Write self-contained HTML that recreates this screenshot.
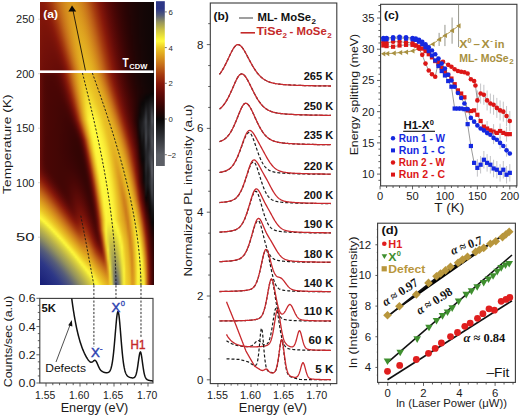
<!DOCTYPE html>
<html><head><meta charset="utf-8"><style>
html,body{margin:0;padding:0;background:#fff;}
body{width:520px;height:416px;position:relative;overflow:hidden;font-family:"Liberation Sans",sans-serif;}
#hm{position:absolute;left:40px;top:2px;width:113.5px;height:283.3px;overflow:hidden;}
#hm i{position:absolute;left:0;width:100%;height:2px;display:block;}
svg{position:absolute;left:0;top:0;}
svg text{font-family:"Liberation Sans",sans-serif;}
</style></head><body>
<div id="hm"><i style="top:0px;background:linear-gradient(90deg,#891a0a,#891b0a,#8c1d0b,#90220c,#96290d,#9e320e,#a73d10,#af4a12,#b85815,#c16618,#c8721a,#cd7d1b,#d2871c,#d58e1d,#d8941e,#da971e,#da981e,#da971e,#d8941e,#d68f1d,#d2881c,#ce801b,#c9751a,#c36a19,#bb5d16,#b24f13,#a94010,#9f330e,#95280c,#8b1d0b,#81160a,#761209,#6c0e08,#630b08,#5a0a07,#530806,#4b0705,#450605,#3f0505,#390505,#340504,#2f0404,#2b0404,#280404,#250404,#220505,#1f0505,#1d0505,#1b0505,#190505,#170606,#160606,#140606,#130606,#120606,#110606,#100606,#100606)"></i><i style="top:1px;background:linear-gradient(90deg,#88190a,#891a0a,#8b1c0b,#8f210b,#95280c,#9d310e,#a53b0f,#ae4912,#b75715,#c06418,#c7711a,#cc7c1b,#d1861c,#d58e1d,#d8941e,#da971e,#da991e,#da981e,#d9951e,#d6901d,#d38a1c,#cf811c,#ca771a,#c46b19,#bc5e17,#b35014,#aa4211,#a0350e,#96290d,#8c1e0b,#82160a,#771209,#6d0f08,#630b08,#5b0a07,#530806,#4c0705,#450605,#3f0505,#390505,#340504,#300404,#2c0404,#280404,#250404,#220505,#1f0505,#1d0505,#1b0505,#190505,#170606,#160606,#140606,#130606,#120606,#110606,#100606,#100606)"></i><i style="top:2px;background:linear-gradient(90deg,#88190a,#88190a,#8a1b0b,#8e200b,#94270c,#9c2f0d,#a4390f,#ad4712,#b65515,#bf6318,#c6701a,#cc7b1b,#d1851c,#d58e1d,#d8941e,#da981e,#da991e,#da991e,#d9961e,#d7911d,#d48b1d,#cf821c,#cb781b,#c56d19,#bd6017,#b45214,#ab4411,#a1360e,#972b0d,#8d1f0b,#83170a,#781309,#6e0f08,#640c08,#5c0a07,#540806,#4d0705,#460605,#3f0505,#3a0505,#350504,#300404,#2c0404,#280404,#250404,#220505,#1f0505,#1d0505,#1b0505,#190505,#170606,#160606,#140606,#130606,#120606,#110606,#100606,#100606)"></i><i style="top:3px;background:linear-gradient(90deg,#87180a,#87190a,#891b0a,#8d1f0b,#93260c,#9a2e0d,#a3380f,#ac4511,#b55314,#be6117,#c66f1a,#cc7b1b,#d1851c,#d58d1d,#d8941e,#da981e,#db9a1e,#db991e,#da971e,#d7931d,#d48c1d,#d0841c,#cb7a1b,#c66f1a,#be6217,#b65415,#ac4511,#a3370f,#992c0d,#8e200b,#84170a,#791309,#6f0f09,#650c08,#5d0a07,#550906,#4d0706,#460605,#400505,#3a0505,#350504,#300504,#2c0404,#280404,#250404,#220505,#1f0505,#1d0505,#1b0505,#190505,#170606,#160606,#140606,#130606,#120606,#110606,#100606,#0f0606)"></i><i style="top:4px;background:linear-gradient(90deg,#87180a,#87180a,#881a0a,#8c1e0b,#92240c,#992d0d,#a2360e,#ab4311,#b45214,#bd6017,#c56d19,#cb791b,#d0841c,#d58d1d,#d8941e,#da981e,#db9a1e,#db9a1e,#da981e,#d8941e,#d58d1d,#d1851c,#cc7c1b,#c7701a,#c06418,#b75615,#ad4712,#a4390f,#9a2d0d,#90220b,#85180a,#7b1309,#701009,#660c08,#5d0a07,#550906,#4e0706,#470605,#400605,#3a0505,#350504,#300504,#2c0404,#280404,#250404,#220505,#200505,#1d0505,#1b0505,#190505,#170606,#160606,#140606,#130606,#120606,#110606,#100606,#0f0606)"></i><i style="top:5px;background:linear-gradient(90deg,#86180a,#86180a,#88190a,#8b1d0b,#91230c,#982b0d,#a0350e,#aa4111,#b35014,#bc5e17,#c46c19,#cb781b,#d0831c,#d48c1d,#d8931e,#da981e,#db9b1e,#db9b1e,#da991e,#d8951e,#d58f1d,#d2871c,#cd7d1b,#c7721a,#c16518,#b85815,#af4912,#a53a0f,#9b2e0d,#91230c,#86190a,#7c1409,#711009,#670c08,#5e0a07,#560906,#4e0706,#470605,#410605,#3b0505,#360504,#310504,#2c0404,#280404,#250404,#220505,#200505,#1d0505,#1b0505,#190505,#170606,#160606,#140606,#130606,#120606,#110606,#100606,#0f0606)"></i><i style="top:6px;background:linear-gradient(90deg,#86180a,#86180a,#87180a,#8a1c0b,#90220b,#972a0d,#9f330e,#a83f10,#b24e13,#bb5d16,#c46b19,#ca771b,#cf821c,#d48c1d,#d8931d,#da981e,#db9b1f,#db9b1f,#db9a1e,#d9961e,#d6901d,#d2881c,#ce7f1b,#c8741a,#c26718,#b95916,#b04b13,#a63c0f,#9c300d,#92240c,#88190a,#7d1409,#721009,#680d08,#5f0b07,#570906,#4f0706,#480605,#410605,#3b0505,#360504,#310504,#2d0404,#290404,#250404,#220505,#200505,#1d0505,#1b0505,#190505,#170606,#160606,#140606,#130606,#120606,#110606,#100606,#0f0606)"></i><i style="top:7px;background:linear-gradient(90deg,#86170a,#85170a,#86180a,#8a1b0a,#8f210b,#95280c,#9e320e,#a73d10,#b14c13,#ba5b16,#c36919,#c9761a,#cf821c,#d48b1d,#d8931d,#da981e,#db9b1f,#dc9c1f,#db9a1e,#d9971e,#d7911d,#d3891c,#ce801b,#c9751a,#c36919,#ba5b16,#b14d13,#a73d10,#9d310e,#93260c,#891a0a,#7e1509,#731109,#690d08,#600b07,#570907,#500806,#490605,#420605,#3c0505,#360504,#310504,#2d0404,#290404,#250404,#220505,#200505,#1d0505,#1b0505,#190505,#170606,#160606,#140606,#130606,#120606,#110606,#100606,#0f0606)"></i><i style="top:8px;background:linear-gradient(90deg,#85170a,#85170a,#85170a,#891a0a,#8e1f0b,#94270c,#9c300e,#a63b0f,#af4a12,#b95916,#c26819,#c9751a,#cf811c,#d38b1d,#d7931d,#da981e,#db9c1f,#dc9d1f,#db9b1f,#da981e,#d7921d,#d48b1d,#cf821c,#ca771a,#c46a19,#bb5d16,#b24e13,#a83f10,#9e320e,#94270c,#8a1b0a,#7f150a,#741109,#6a0d08,#610b07,#580907,#500806,#490605,#420605,#3c0505,#370504,#320504,#2d0404,#290404,#260404,#230505,#200505,#1d0505,#1b0505,#190505,#170606,#160606,#140606,#130606,#120606,#110606,#100606,#0f0606)"></i><i style="top:9px;background:linear-gradient(90deg,#85170a,#84170a,#85170a,#88190a,#8c1e0b,#93260c,#9b2f0d,#a4390f,#ae4812,#b85715,#c16618,#c8741a,#ce801b,#d38a1d,#d7921d,#da981e,#dc9c1f,#dc9d1f,#dc9c1f,#da991e,#d8931e,#d48c1d,#d0831c,#cb781b,#c56c19,#bc5f17,#b35014,#aa4111,#9f340e,#95280c,#8b1d0b,#80160a,#751209,#6b0e08,#610b08,#590907,#510806,#4a0605,#430605,#3d0505,#370504,#320504,#2d0404,#290404,#260404,#230505,#200505,#1d0505,#1b0505,#190505,#170606,#160606,#140606,#130606,#120606,#110606,#100606,#0f0606)"></i><i style="top:10px;background:linear-gradient(90deg,#84170a,#83170a,#84170a,#87180a,#8b1d0b,#92240c,#9a2d0d,#a3380f,#ad4612,#b75615,#c06518,#c8721a,#ce7f1b,#d3891c,#d7921d,#da981e,#dc9c1f,#dc9e1f,#dc9d1f,#db9a1e,#d8951e,#d58e1d,#d1851c,#cb7a1b,#c56e1a,#be6117,#b45214,#ab4311,#a1350e,#96290d,#8c1e0b,#81160a,#761209,#6c0e08,#620b08,#5a0a07,#520806,#4a0605,#430605,#3d0505,#370504,#320504,#2e0404,#290404,#260404,#230505,#200505,#1d0505,#1b0505,#190505,#170606,#160606,#140606,#130606,#120606,#110606,#100606,#0f0606)"></i><i style="top:11px;background:linear-gradient(90deg,#84170a,#83170a,#83170a,#86180a,#8a1c0b,#91230c,#982c0d,#a2360e,#ab4411,#b55414,#bf6318,#c7711a,#cd7e1b,#d2891c,#d7921d,#da981e,#dc9d1f,#dc9e1f,#dc9e1f,#db9b1e,#d9961e,#d68f1d,#d1861c,#cc7c1b,#c6701a,#bf6218,#b65415,#ac4511,#a2360e,#982b0d,#8d1f0b,#83160a,#781209,#6d0f08,#630b08,#5a0a07,#520806,#4b0705,#440605,#3e0505,#380504,#320504,#2e0404,#2a0404,#260404,#230505,#200505,#1e0505,#1b0505,#190505,#170606,#160606,#140606,#130606,#120606,#110606,#100606,#0f0606)"></i><i style="top:12px;background:linear-gradient(90deg,#84170a,#82160a,#83160a,#85170a,#891b0a,#8f210b,#972a0d,#a0350e,#aa4211,#b45214,#be6117,#c6701a,#cd7d1b,#d2881c,#d7911d,#da981e,#dc9d1f,#dd9f1f,#dc9e1f,#db9c1f,#d9971e,#d6901d,#d2881c,#cd7d1b,#c7711a,#c06418,#b75615,#ad4712,#a3380f,#992c0d,#8e200b,#84170a,#791309,#6e0f08,#640c08,#5b0a07,#530806,#4c0705,#450605,#3e0505,#380505,#330504,#2e0404,#2a0404,#260404,#230505,#200505,#1e0505,#1b0505,#190505,#170606,#160606,#140606,#130606,#120606,#110606,#100606,#0f0606)"></i><i style="top:13px;background:linear-gradient(90deg,#83170a,#82160a,#82160a,#84170a,#881a0a,#8e200b,#96290c,#9f330e,#a94010,#b35014,#bd5f17,#c56e1a,#cc7b1b,#d2871c,#d6911d,#da981e,#dc9d1f,#dd9f1f,#dd9f1f,#dc9d1f,#da981e,#d7911d,#d3891c,#ce7f1b,#c8731a,#c16618,#b85815,#ae4812,#a4390f,#9a2d0d,#8f220b,#85170a,#7a1309,#6f0f09,#650c08,#5c0a07,#540806,#4c0705,#450605,#3f0505,#390505,#330504,#2e0404,#2a0404,#260404,#230404,#200505,#1e0505,#1b0505,#190505,#170606,#160606,#140606,#130606,#120606,#110606,#100606,#0f0606)"></i><i style="top:14px;background:linear-gradient(90deg,#83160a,#81160a,#81160a,#83170a,#87190a,#8d1f0b,#94270c,#9d310e,#a73e10,#b24e13,#bc5e17,#c56d19,#cb7a1b,#d1861c,#d6901d,#da981e,#dc9d1f,#dda01f,#dda01f,#dc9e1f,#da991e,#d7931d,#d38a1d,#ce801b,#c9751a,#c26819,#b95916,#af4a12,#a53b0f,#9b2f0d,#91230c,#86180a,#7b1409,#701009,#660c08,#5d0a07,#550906,#4d0705,#460605,#3f0505,#390505,#330504,#2f0404,#2a0404,#270404,#230404,#200505,#1e0505,#1b0505,#190505,#170606,#160606,#140606,#130606,#120606,#110606,#100606,#0f0606)"></i><i style="top:15px;background:linear-gradient(90deg,#82160a,#81160a,#81160a,#83160a,#86180a,#8c1d0b,#93260c,#9c300d,#a63c0f,#b04c13,#bb5c16,#c46b19,#cb791b,#d1851c,#d68f1d,#da971e,#dc9d1f,#dda01f,#dda01f,#dc9e1f,#db9a1e,#d8941e,#d48c1d,#cf821c,#ca761a,#c36919,#ba5b16,#b14c13,#a73d10,#9c300e,#92240c,#87190a,#7c1409,#711009,#670c08,#5e0a07,#550906,#4e0706,#460605,#400505,#390505,#340504,#2f0404,#2b0404,#270404,#230404,#200505,#1e0505,#1b0505,#190505,#180606,#160606,#140606,#130606,#120606,#110606,#100606,#0f0606)"></i><i style="top:16px;background:linear-gradient(90deg,#82160a,#81160a,#80160a,#82160a,#85170a,#8b1c0b,#92240c,#9b2e0d,#a53a0f,#af4a12,#b95a16,#c36919,#ca781b,#d0841c,#d58f1d,#da971e,#dc9d1f,#dda01f,#dda120,#dd9f1f,#db9b1f,#d9951e,#d58d1d,#d0831c,#ca781b,#c46b19,#bb5d16,#b24e13,#a83e10,#9d310e,#93260c,#881a0a,#7d1409,#721009,#680d08,#5f0b07,#560906,#4e0706,#470605,#400605,#3a0505,#340504,#2f0404,#2b0404,#270404,#240404,#210505,#1e0505,#1c0505,#190505,#180606,#160606,#140606,#130606,#120606,#110606,#100606,#0f0606)"></i><i style="top:17px;background:linear-gradient(90deg,#82160a,#80160a,#80150a,#81160a,#84170a,#891b0a,#90230c,#992d0d,#a3380f,#ae4712,#b85815,#c26819,#c9761a,#d0831c,#d58e1d,#d9971e,#dc9d1f,#dda11f,#dea220,#dda01f,#dc9c1f,#d9961e,#d58f1d,#d1851c,#cb7a1b,#c56d19,#bd5f17,#b35014,#a94010,#9f330e,#94270c,#8a1b0a,#7e1509,#731109,#690d08,#5f0b07,#570906,#4f0706,#480605,#410605,#3a0505,#350504,#300404,#2b0404,#270404,#240404,#210505,#1e0505,#1c0505,#190505,#180606,#160606,#140606,#130606,#120606,#110606,#100606,#0f0606)"></i><i style="top:18px;background:linear-gradient(90deg,#82160a,#80150a,#7f150a,#80160a,#83170a,#881a0a,#8f210b,#982b0d,#a2360e,#ac4511,#b75615,#c16618,#c9751a,#cf821c,#d58d1d,#d9961e,#dc9d1f,#dda120,#dea220,#dda11f,#dc9d1f,#da981e,#d6901d,#d1871c,#cc7b1b,#c66f1a,#be6117,#b45214,#aa4211,#a0340e,#95280c,#8b1c0b,#80150a,#751109,#6a0d08,#600b07,#580907,#500806,#480605,#410605,#3b0505,#350504,#300404,#2b0404,#270404,#240404,#210505,#1e0505,#1c0505,#1a0505,#180606,#160606,#140606,#130606,#120606,#110606,#100606,#0f0606)"></i><i style="top:19px;background:linear-gradient(90deg,#81160a,#7f150a,#7e1509,#80150a,#82160a,#87180a,#8e200b,#96290d,#a0340e,#ab4311,#b55414,#c06418,#c8731a,#cf811c,#d48c1d,#d9961e,#dc9d1f,#dda120,#dea320,#dea220,#dc9e1f,#da991e,#d7911d,#d2881c,#cd7d1b,#c7701a,#bf6318,#b55414,#ab4411,#a1350e,#962a0d,#8c1e0b,#81160a,#761209,#6b0e08,#610b08,#580907,#500806,#490605,#420605,#3b0505,#350504,#300504,#2c0404,#270404,#240404,#210505,#1e0505,#1c0505,#1a0505,#180606,#160606,#140606,#130606,#120606,#110606,#100606,#0f0606)"></i><i style="top:20px;background:linear-gradient(90deg,#81160a,#7f150a,#7e1509,#7f150a,#82160a,#86180a,#8c1e0b,#95280c,#9f330e,#a94110,#b45214,#bf6218,#c7721a,#ce801b,#d48c1d,#d9951e,#dc9d1f,#dea120,#dea320,#dea320,#dd9f1f,#db9a1e,#d7931d,#d38a1c,#ce7f1b,#c8721a,#c06418,#b75615,#ad4612,#a2370f,#982b0d,#8d1f0b,#82160a,#771209,#6c0e08,#620b08,#590907,#510806,#490605,#420605,#3c0505,#360504,#310504,#2c0404,#280404,#240404,#210505,#1e0505,#1c0505,#1a0505,#180606,#160606,#140606,#130606,#120606,#110606,#100606,#0f0606)"></i><i style="top:21px;background:linear-gradient(90deg,#81160a,#7f1509,#7d1509,#7e1509,#81160a,#85170a,#8b1d0b,#93260c,#9d310e,#a83e10,#b34f14,#bd6017,#c6701a,#cd7e1b,#d38b1d,#d8951e,#dc9d1f,#dea220,#dea420,#dea320,#dda01f,#db9b1f,#d8941e,#d48b1d,#ce801b,#c8741a,#c16618,#b85715,#ae4812,#a3380f,#992c0d,#8e200b,#83170a,#781309,#6d0f08,#630b08,#5a0a07,#520806,#4a0605,#430605,#3c0505,#360504,#310504,#2c0404,#280404,#240404,#210505,#1e0505,#1c0505,#1a0505,#180606,#160606,#140606,#130606,#120606,#110606,#100606,#0f0606)"></i><i style="top:22px;background:linear-gradient(90deg,#80160a,#7e1509,#7d1409,#7e1509,#80150a,#84170a,#8a1b0a,#92240c,#9b2f0d,#a63c0f,#b14d13,#bc5e17,#c66e1a,#cd7d1b,#d38a1c,#d8941e,#dc9c1f,#dea220,#dfa420,#dea420,#dea120,#dc9c1f,#d9951e,#d48d1d,#cf821c,#c9761a,#c26819,#b95916,#af4a12,#a53a0f,#9a2e0d,#8f210b,#85170a,#791309,#6e0f08,#640c08,#5b0a07,#520806,#4b0705,#430605,#3d0505,#370504,#310504,#2c0404,#280404,#240404,#210505,#1e0505,#1c0505,#1a0505,#180606,#160606,#140606,#130606,#120606,#110606,#100606,#0f0606)"></i><i style="top:23px;background:linear-gradient(90deg,#80150a,#7e1509,#7c1409,#7d1409,#7f150a,#83160a,#891a0a,#90230c,#9a2d0d,#a53a0f,#b04b13,#bb5c16,#c56d19,#cc7c1b,#d2891c,#d8941e,#dc9c1f,#dea220,#dfa520,#dfa520,#dea220,#dc9e1f,#d9971e,#d58e1d,#d0841c,#ca771b,#c36a19,#ba5b16,#b04c13,#a63c0f,#9b2f0d,#91230c,#86180a,#7a1309,#6f0f09,#650c08,#5c0a07,#530806,#4b0705,#440605,#3d0505,#370504,#320504,#2d0404,#280404,#250404,#210505,#1f0505,#1c0505,#1a0505,#180606,#160606,#140606,#130606,#120606,#110606,#100606,#0f0606)"></i><i style="top:24px;background:linear-gradient(90deg,#80150a,#7d1509,#7c1409,#7c1409,#7e1509,#82160a,#87190a,#8f210b,#982c0d,#a3380f,#ae4912,#b95a16,#c46b19,#cb7a1b,#d2881c,#d7931d,#db9c1f,#dea220,#dfa520,#dfa520,#dea320,#dd9f1f,#da981e,#d6901d,#d1851c,#cb791b,#c46c19,#bb5d16,#b14d13,#a73d10,#9c300e,#92240c,#87190a,#7b1409,#701009,#660c08,#5c0a07,#540806,#4c0705,#450605,#3e0505,#370504,#320504,#2d0404,#290404,#250404,#220505,#1f0505,#1c0505,#1a0505,#180606,#160606,#140606,#130606,#120606,#110606,#100606,#0f0606)"></i><i style="top:25px;background:linear-gradient(90deg,#7f150a,#7d1409,#7c1409,#7c1409,#7d1509,#81160a,#86180a,#8d1f0b,#972a0d,#a1360e,#ad4612,#b85815,#c36919,#cb791b,#d1861c,#d7921d,#db9b1f,#dea220,#dfa520,#dfa620,#dfa420,#dda01f,#db991e,#d7911d,#d2871c,#cc7b1b,#c56e19,#bd5f17,#b34f14,#a83f10,#9e320e,#93250c,#881a0a,#7d1409,#711009,#670c08,#5d0a07,#550906,#4d0705,#450605,#3e0505,#380504,#320504,#2d0404,#290404,#250404,#220505,#1f0505,#1c0505,#1a0505,#180606,#160606,#140606,#130606,#120606,#110606,#100606,#0f0606)"></i><i style="top:26px;background:linear-gradient(90deg,#7f150a,#7d1409,#7b1409,#7b1409,#7d1409,#80150a,#85170a,#8c1e0b,#95280c,#a0340e,#ab4411,#b75615,#c26719,#ca771a,#d1851c,#d7911d,#db9b1e,#dea220,#dfa620,#dfa720,#dfa520,#dda11f,#db9b1e,#d7921d,#d2881c,#cd7d1b,#c66f1a,#be6117,#b45114,#aa4111,#9f330e,#94270c,#891b0a,#7e1509,#731109,#680d08,#5e0a07,#550906,#4d0706,#460605,#3f0505,#380505,#330504,#2e0404,#290404,#250404,#220505,#1f0505,#1c0505,#1a0505,#180606,#160606,#140606,#130606,#120606,#110606,#100606,#0f0606)"></i><i style="top:27px;background:linear-gradient(90deg,#7f150a,#7c1409,#7b1409,#7b1409,#7c1409,#7f1509,#84170a,#8b1c0b,#94260c,#9e320e,#aa4111,#b55314,#c06518,#c9751a,#d0841c,#d6901d,#db9a1e,#dea220,#dfa620,#e0a721,#dfa620,#dea220,#db9c1f,#d8941e,#d38a1d,#cd7e1b,#c7711a,#bf6318,#b55314,#ab4311,#a0340e,#95280c,#8a1c0b,#7f150a,#741109,#690d08,#5f0b07,#560906,#4e0706,#470605,#3f0505,#390505,#330504,#2e0404,#290404,#250404,#220505,#1f0505,#1c0505,#1a0505,#180606,#160606,#150606,#130606,#120606,#110606,#100606,#0f0606)"></i><i style="top:28px;background:linear-gradient(90deg,#7f1509,#7c1409,#7a1309,#7a1309,#7b1409,#7e1509,#82160a,#891b0a,#92240c,#9d300e,#a83f10,#b45114,#bf6318,#c8741a,#cf831c,#d68f1d,#db9a1e,#dea220,#dfa620,#e0a821,#dfa720,#dea320,#dc9d1f,#d9951e,#d48c1d,#ce801b,#c8731a,#c06518,#b65515,#ac4511,#a1360e,#96290d,#8c1d0b,#80160a,#751109,#6a0d08,#600b07,#570907,#4f0706,#470605,#400505,#390505,#330504,#2e0404,#2a0404,#260404,#220505,#1f0505,#1d0505,#1a0505,#180606,#160606,#150606,#130606,#120606,#110606,#100606,#0f0707)"></i><i style="top:29px;background:linear-gradient(90deg,#7e1509,#7c1409,#7a1309,#7a1309,#7b1309,#7d1409,#81160a,#88190a,#90230c,#9b2f0d,#a63c10,#b24f13,#be6117,#c7721a,#cf811c,#d58e1d,#da991e,#dda120,#dfa620,#e0a821,#e0a721,#dfa420,#dc9e1f,#d9971e,#d58d1d,#cf821c,#c9751a,#c16618,#b85715,#ad4712,#a3370f,#982b0d,#8d1f0b,#81160a,#761209,#6b0e08,#610b07,#580907,#500806,#480605,#410605,#3a0505,#340504,#2f0404,#2a0404,#260404,#220505,#1f0505,#1d0505,#1a0505,#180606,#160606,#150606,#130606,#120606,#110606,#100606,#0f0707)"></i><i style="top:30px;background:linear-gradient(90deg,#7e1509,#7b1409,#791309,#791309,#7a1309,#7c1409,#80150a,#86180a,#8f210b,#992d0d,#a53a0f,#b14c13,#bc5f17,#c6701a,#ce801b,#d58d1d,#da981e,#dda120,#dfa720,#e0a921,#e0a821,#dfa520,#dda01f,#da981e,#d58f1d,#d0831c,#ca771a,#c26819,#b95916,#ae4912,#a4390f,#992c0d,#8e200b,#83160a,#771209,#6c0e08,#620b08,#590907,#500806,#490605,#410605,#3a0505,#340504,#2f0404,#2a0404,#260404,#230505,#1f0505,#1d0505,#1a0505,#180606,#160606,#150606,#130606,#120606,#110606,#100606,#0f0707)"></i><i style="top:31px;background:linear-gradient(90deg,#7e1509,#7b1409,#791309,#791309,#791309,#7b1409,#7f1509,#85170a,#8d1f0b,#982b0d,#a3380f,#af4a12,#bb5c16,#c56e19,#cd7e1b,#d48c1d,#da981e,#dda11f,#dfa720,#e0a921,#e0a921,#dfa620,#dda11f,#db991e,#d6901d,#d1851c,#ca781b,#c36a19,#ba5b16,#b04b13,#a53b0f,#9a2e0d,#8f210b,#84170a,#781309,#6d0f08,#630b08,#5a0a07,#510806,#490605,#420605,#3b0505,#350504,#2f0404,#2a0404,#260404,#230505,#200505,#1d0505,#1a0505,#180606,#160606,#150606,#130606,#120606,#110606,#100606,#0f0707)"></i><i style="top:32px;background:linear-gradient(90deg,#7e1509,#7b1409,#791309,#781309,#791309,#7a1309,#7e1509,#83170a,#8c1d0b,#96290c,#a1360e,#ad4712,#b95a16,#c46c19,#cd7c1b,#d48b1d,#d9971e,#dda01f,#e0a720,#e1aa21,#e1aa21,#e0a720,#dea220,#db9b1e,#d7921d,#d2871c,#cb7a1b,#c46c19,#bb5d16,#b14d13,#a63c10,#9b2f0d,#90230c,#85180a,#791309,#6e0f08,#640c08,#5a0a07,#520806,#4a0605,#420605,#3b0505,#350504,#300404,#2b0404,#270404,#230505,#200505,#1d0505,#1a0505,#180606,#160606,#150606,#130606,#120606,#110606,#100606,#0f0707)"></i><i style="top:33px;background:linear-gradient(90deg,#7d1409,#7a1309,#781309,#781209,#781309,#791309,#7d1409,#82160a,#8a1c0b,#94270c,#a0340e,#ac4511,#b85815,#c36a19,#cc7b1b,#d38a1c,#d9961e,#dda01f,#e0a720,#e1aa21,#e1aa21,#e0a821,#dea320,#dc9c1f,#d8931d,#d2881c,#cc7c1b,#c56e1a,#bc5f17,#b24f13,#a73e10,#9d300e,#91240c,#86190a,#7b1409,#6f0f09,#650c08,#5b0a07,#530806,#4b0705,#430605,#3c0505,#360504,#300504,#2b0404,#270404,#230404,#200505,#1d0505,#1b0505,#180606,#160606,#150606,#130606,#120606,#110606,#100606,#0f0707)"></i><i style="top:34px;background:linear-gradient(90deg,#7d1409,#7a1309,#781309,#771209,#781209,#791309,#7c1409,#81160a,#891a0a,#92250c,#9e320e,#aa4211,#b65515,#c26819,#cb791b,#d2881c,#d9951e,#dd9f1f,#dfa720,#e1aa21,#e1ab21,#e0a921,#dfa420,#dc9e1f,#d8951e,#d38a1d,#cd7e1b,#c6701a,#be6117,#b35114,#a94010,#9e320e,#93250c,#881a0a,#7c1409,#701009,#660c08,#5c0a07,#530806,#4b0705,#440605,#3c0505,#360504,#300504,#2b0404,#270404,#230404,#200505,#1d0505,#1b0505,#180606,#160606,#150606,#130606,#120606,#110606,#100606,#0f0707)"></i><i style="top:35px;background:linear-gradient(90deg,#7d1409,#7a1309,#781209,#771209,#771209,#781309,#7b1309,#7f150a,#87180a,#91230c,#9c300d,#a83f10,#b55314,#c16618,#ca771b,#d2871c,#d8941e,#dd9f1f,#dfa620,#e1ab21,#e1ac21,#e1aa21,#dfa520,#dd9f1f,#d9961e,#d48c1d,#ce7f1b,#c7721a,#bf6318,#b55314,#aa4211,#9f330e,#94270c,#891b0a,#7d1409,#721009,#670c08,#5d0a07,#540806,#4c0705,#440605,#3d0505,#370504,#310504,#2c0404,#270404,#240404,#200505,#1d0505,#1b0505,#180606,#170606,#150606,#130606,#120606,#110606,#100606,#0f0707)"></i><i style="top:36px;background:linear-gradient(90deg,#7d1409,#7a1309,#771209,#761209,#761209,#771209,#7a1309,#7e1509,#85170a,#8f210b,#9a2e0d,#a73d10,#b35014,#bf6318,#c9751a,#d1851c,#d8931d,#dc9e1f,#dfa620,#e1ab21,#e2ac21,#e1ab21,#dfa720,#dda01f,#da981e,#d58d1d,#cf811c,#c8731a,#c06418,#b65415,#ab4411,#a0350e,#95280c,#8a1b0b,#7e1509,#731109,#680d08,#5e0a07,#550906,#4d0705,#450605,#3e0505,#370504,#310504,#2c0404,#280404,#240404,#200505,#1d0505,#1b0505,#190606,#170606,#150606,#130606,#120606,#110606,#100606,#0f0707)"></i><i style="top:37px;background:linear-gradient(90deg,#7c1409,#791309,#771209,#761209,#761209,#771209,#791309,#7d1409,#84170a,#8d1f0b,#982c0d,#a53a0f,#b14d13,#be6117,#c8731a,#d0841c,#d7921d,#dc9e1f,#dfa620,#e1ab21,#e2ad21,#e1ab21,#e0a821,#dea120,#da991e,#d68f1d,#d0831c,#c9751a,#c16618,#b75615,#ac4611,#a1360e,#96290d,#8b1d0b,#80150a,#741109,#690d08,#5f0b07,#560906,#4d0706,#460605,#3e0505,#380504,#320504,#2c0404,#280404,#240404,#210505,#1e0505,#1b0505,#190606,#170606,#150606,#130606,#120606,#110606,#100606,#0f0707)"></i><i style="top:38px;background:linear-gradient(90deg,#7c1409,#791309,#761209,#761209,#751209,#761209,#781209,#7c1409,#82160a,#8b1d0b,#972a0d,#a3380f,#b04b13,#bc5f17,#c7711a,#cf821c,#d6911d,#dc9d1f,#dfa620,#e1ab21,#e2ad22,#e2ac21,#e0a921,#dea320,#db9b1e,#d6901d,#d1851c,#ca771b,#c26819,#b85815,#ae4812,#a3370f,#982b0d,#8c1e0b,#81160a,#751109,#6a0d08,#600b07,#570906,#4e0706,#460605,#3f0505,#380505,#320504,#2d0404,#280404,#240404,#210505,#1e0505,#1b0505,#190606,#170606,#150606,#130606,#120606,#110606,#100606,#0f0707)"></i><i style="top:39px;background:linear-gradient(90deg,#7c1409,#791309,#761209,#751209,#751109,#751209,#771209,#7a1309,#81160a,#8a1b0a,#95270c,#a1350e,#ae4812,#bb5c16,#c66f1a,#ce801b,#d6901d,#db9c1f,#dfa520,#e1ab21,#e2ae22,#e2ad22,#e1aa21,#dea420,#dc9c1f,#d7921d,#d1861c,#cb791b,#c36a19,#ba5a16,#af4a12,#a4390f,#992c0d,#8e1f0b,#82160a,#761209,#6b0e08,#610b07,#570907,#4f0706,#470605,#3f0505,#390505,#330504,#2d0404,#280404,#240404,#210505,#1e0505,#1b0505,#190606,#170606,#150606,#130606,#120606,#110606,#100606,#0f0707)"></i><i style="top:40px;background:linear-gradient(90deg,#7c1409,#781309,#761209,#751109,#751109,#751109,#761209,#791309,#7f150a,#881a0a,#93250c,#9f330e,#ac4511,#b95a16,#c56d19,#ce7f1b,#d58e1d,#db9b1f,#dfa520,#e1ac21,#e2ae22,#e2ae22,#e1ab21,#dfa520,#dc9d1f,#d8941e,#d2881c,#cc7b1b,#c46c19,#bb5c16,#b04c13,#a53b0f,#9a2e0d,#8f210b,#83170a,#771209,#6c0e08,#610b08,#580907,#500806,#480605,#400605,#390505,#330504,#2e0404,#290404,#250404,#210505,#1e0505,#1b0505,#190606,#170606,#150606,#130606,#120606,#110606,#100606,#0f0707)"></i><i style="top:41px;background:linear-gradient(90deg,#7b1409,#781309,#751209,#741109,#741109,#741109,#751209,#781309,#7e1509,#86180a,#91230c,#9d310e,#aa4211,#b75715,#c46b19,#cd7d1b,#d58d1d,#db9a1e,#dfa520,#e1ac21,#e3af22,#e2af22,#e1ac21,#dfa620,#dd9f1f,#d9951e,#d38a1c,#cd7d1b,#c56e1a,#bc5e17,#b24e13,#a73d10,#9b2f0d,#90220b,#85170a,#791309,#6d0f08,#620b08,#590907,#500806,#480605,#410605,#3a0505,#330504,#2e0404,#290404,#250404,#210505,#1e0505,#1b0505,#190606,#170606,#150606,#130606,#120606,#110606,#100606,#0f0707)"></i><i style="top:42px;background:linear-gradient(90deg,#7b1409,#781309,#751209,#741109,#741109,#741109,#751109,#771209,#7c1409,#85170a,#8f210b,#9b2f0d,#a84010,#b65415,#c26819,#cc7b1b,#d48b1d,#da991e,#dfa420,#e1ab21,#e3af22,#e3af22,#e2ad21,#e0a821,#dda01f,#d9971e,#d48b1d,#cd7e1b,#c6701a,#bd6017,#b35014,#a83e10,#9d300e,#91240c,#86180a,#7a1309,#6e0f08,#630b08,#5a0a07,#510806,#490605,#410605,#3a0505,#340504,#2e0404,#290404,#250404,#220505,#1e0505,#1c0505,#190505,#170606,#150606,#130606,#120606,#110606,#100606,#0f0707)"></i><i style="top:43px;background:linear-gradient(90deg,#7b1409,#781209,#751109,#741109,#731109,#731109,#741109,#761209,#7b1409,#83160a,#8d1f0b,#992d0d,#a73d10,#b45114,#c16618,#cb791b,#d38a1c,#da981e,#dea320,#e1ab21,#e3af22,#e3b022,#e2ae22,#e0a921,#dea220,#da981e,#d58d1d,#ce801b,#c7721a,#bf6218,#b45214,#a94010,#9e320e,#92250c,#87190a,#7b1409,#6f0f09,#640c08,#5b0a07,#520806,#4a0605,#420605,#3b0505,#340504,#2f0404,#2a0404,#250404,#220505,#1e0505,#1c0505,#190505,#170606,#150606,#140606,#120606,#110606,#100606,#0f0707)"></i><i style="top:44px;background:linear-gradient(90deg,#7b1409,#771209,#751109,#731109,#731109,#731109,#731109,#751209,#791309,#81160a,#8b1d0b,#972b0d,#a53a0f,#b24f13,#bf6318,#ca771a,#d2881c,#d9971e,#dea320,#e1ab21,#e3b022,#e3b122,#e2ae22,#e1aa21,#dea320,#db9a1e,#d68f1d,#cf821c,#c8741a,#c06418,#b55414,#aa4211,#9f330e,#94260c,#881a0a,#7c1409,#701009,#650c08,#5c0a07,#530806,#4a0605,#430605,#3b0505,#350504,#2f0404,#2a0404,#260404,#220505,#1f0505,#1c0505,#190505,#170606,#150606,#140606,#120606,#110606,#100606,#0f0707)"></i><i style="top:45px;background:linear-gradient(90deg,#7b1309,#771209,#741109,#731109,#721109,#721009,#731109,#741109,#781309,#7f150a,#891b0a,#95280c,#a3370f,#b04c13,#be6117,#c9751a,#d1861c,#d9961e,#dea220,#e1ab21,#e3b022,#e3b122,#e3af22,#e1ab21,#dfa420,#db9b1f,#d6901d,#d0841c,#c9761a,#c16618,#b75615,#ac4411,#a0350e,#95280c,#891b0a,#7e1509,#721009,#660c08,#5d0a07,#530806,#4b0705,#430605,#3c0505,#350504,#2f0404,#2a0404,#260404,#220505,#1f0505,#1c0505,#190505,#170606,#150606,#140606,#120606,#110606,#100606,#0f0707)"></i><i style="top:46px;background:linear-gradient(90deg,#7a1309,#771209,#741109,#731109,#721009,#721009,#721009,#731109,#771209,#7e1509,#88190a,#93260c,#a1350e,#ae4912,#bc5e17,#c8721a,#d0851c,#d8941e,#dda120,#e1ab21,#e3b022,#e4b222,#e3b022,#e2ac21,#dfa620,#dc9d1f,#d7921d,#d1861c,#ca781b,#c26819,#b85815,#ad4612,#a2360e,#96290d,#8b1c0b,#7f150a,#731109,#670d08,#5d0a07,#540806,#4c0705,#440605,#3c0505,#360504,#300404,#2b0404,#260404,#220505,#1f0505,#1c0505,#1a0505,#170606,#150606,#140606,#120606,#110606,#100606,#0f0707)"></i><i style="top:47px;background:linear-gradient(90deg,#7a1309,#771209,#741109,#721009,#721009,#711009,#711009,#731109,#761209,#7c1409,#86180a,#91240c,#9f330e,#ac4611,#ba5b16,#c6701a,#d0831c,#d7931d,#dda01f,#e1aa21,#e3b022,#e4b222,#e3b122,#e2ad22,#e0a720,#dc9e1f,#d8941e,#d2871c,#cb791b,#c36a19,#b95a16,#ae4812,#a3380f,#972b0d,#8c1e0b,#80150a,#741109,#690d08,#5e0a07,#550906,#4d0705,#450605,#3d0505,#360504,#300504,#2b0404,#260404,#230505,#1f0505,#1c0505,#1a0505,#170606,#150606,#140606,#120606,#110606,#100606,#0f0707)"></i><i style="top:48px;background:linear-gradient(90deg,#7a1309,#761209,#731109,#721009,#711009,#711009,#711009,#721009,#751109,#7a1309,#84170a,#8f210b,#9d300e,#ab4311,#b95916,#c56d19,#cf811c,#d7911d,#dd9f1f,#e1aa21,#e3b022,#e4b322,#e4b222,#e2ae22,#e0a821,#dda01f,#d9951e,#d3891c,#cc7b1b,#c46c19,#ba5c16,#af4a12,#a4390f,#992c0d,#8d1f0b,#81160a,#751209,#6a0d08,#5f0b07,#560906,#4d0706,#450605,#3e0505,#370504,#310504,#2b0404,#270404,#230505,#1f0505,#1c0505,#1a0505,#170606,#150606,#140606,#120606,#110606,#100606,#0f0707)"></i><i style="top:49px;background:linear-gradient(90deg,#7a1309,#761209,#731109,#721009,#711009,#701009,#701009,#711009,#731109,#791309,#82160a,#8d1f0b,#9a2e0d,#a84010,#b75615,#c46b19,#ce7f1b,#d6901d,#dc9e1f,#e0a921,#e3b022,#e4b323,#e4b322,#e3af22,#e1aa21,#dea120,#d9971e,#d48b1d,#cd7d1b,#c56e1a,#bc5e17,#b14c13,#a53b0f,#9a2d0d,#8e200b,#83160a,#761209,#6b0e08,#600b07,#570906,#4e0706,#460605,#3e0505,#370504,#310504,#2c0404,#270404,#230404,#200505,#1d0505,#1a0505,#180606,#160606,#140606,#120606,#110606,#100606,#0f0707)"></i><i style="top:50px;background:linear-gradient(90deg,#791309,#761209,#731109,#711009,#711009,#701009,#701009,#701009,#721109,#771209,#80150a,#8b1d0b,#982c0d,#a63d10,#b55314,#c26819,#cd7c1b,#d58e1d,#dc9d1f,#e0a921,#e3b022,#e4b423,#e4b323,#e3b022,#e1ab21,#dea320,#da991e,#d48d1d,#ce7f1b,#c6701a,#bd6017,#b24e13,#a73d10,#9b2f0d,#90220b,#84170a,#781209,#6c0e08,#610b08,#580907,#4f0706,#470605,#3f0505,#380504,#320504,#2c0404,#270404,#230404,#200505,#1d0505,#1a0505,#180606,#160606,#140606,#120606,#110606,#100606,#0f0707)"></i><i style="top:51px;background:linear-gradient(90deg,#791309,#761209,#721009,#711009,#701009,#700f09,#6f0f09,#700f09,#711009,#761209,#7e1509,#891b0a,#96290d,#a43a0f,#b35014,#c16618,#cb7a1b,#d48c1d,#db9c1f,#e0a821,#e3b022,#e5b423,#e5b423,#e3b122,#e1ac21,#dfa420,#db9a1e,#d58e1d,#cf811c,#c7721a,#be6217,#b35014,#a83f10,#9c300e,#91230c,#85180a,#791309,#6d0f08,#620b08,#590907,#500806,#470605,#400505,#380505,#320504,#2d0404,#280404,#240404,#200505,#1d0505,#1a0505,#180606,#160606,#140606,#120606,#110606,#100606,#0f0707)"></i><i style="top:52px;background:linear-gradient(90deg,#791309,#751209,#721009,#711009,#701009,#6f0f09,#6f0f09,#6f0f09,#701009,#741109,#7c1409,#87190a,#94270c,#a2370f,#b14d13,#bf6318,#ca781b,#d38b1d,#db9b1e,#e0a721,#e3b022,#e5b423,#e5b523,#e4b222,#e2ad22,#dfa620,#db9c1f,#d6901d,#d0831c,#c8741a,#c06418,#b55314,#a94110,#9e320e,#92250c,#86190a,#7a1309,#6e0f08,#630b08,#590907,#500806,#480605,#400605,#390505,#330504,#2d0404,#280404,#240404,#200505,#1d0505,#1a0505,#180606,#160606,#140606,#120606,#110606,#100606,#0f0707)"></i><i style="top:53px;background:linear-gradient(90deg,#791309,#751109,#721009,#701009,#6f0f09,#6f0f09,#6e0f08,#6e0f09,#700f09,#731109,#7a1309,#85170a,#92240c,#a0340e,#af4912,#bd6017,#c9751a,#d3891c,#da991e,#dfa620,#e3b022,#e5b523,#e5b623,#e4b323,#e2ae22,#e0a721,#dc9d1f,#d7921d,#d1851c,#c9761a,#c16618,#b65515,#ab4311,#9f330e,#93260c,#881a0a,#7b1409,#6f0f09,#640c08,#5a0a07,#510806,#490605,#410605,#3a0505,#330504,#2d0404,#280404,#240404,#200505,#1d0505,#1a0505,#180606,#160606,#140606,#120606,#110606,#100606,#0f0606)"></i><i style="top:54px;background:linear-gradient(90deg,#791309,#751109,#711009,#701009,#6f0f09,#6e0f09,#6e0f08,#6e0f08,#6f0f09,#721009,#781309,#83160a,#90220b,#9e320e,#ad4612,#bb5d16,#c8731a,#d2871c,#da981e,#dfa620,#e3af22,#e5b523,#e5b623,#e5b423,#e3b022,#e0a821,#dd9f1f,#d8941e,#d1861c,#ca781b,#c26819,#b75715,#ac4511,#a0350e,#95270c,#891b0a,#7d1409,#711009,#650c08,#5b0a07,#520806,#4a0605,#420605,#3a0505,#340504,#2e0404,#290404,#240404,#210505,#1d0505,#1b0505,#180606,#160606,#140606,#130606,#110606,#100606,#0f0606)"></i><i style="top:55px;background:linear-gradient(90deg,#781309,#751109,#711009,#701009,#6f0f09,#6e0f08,#6d0f08,#6d0f08,#6e0f08,#711009,#771209,#81160a,#8d1f0b,#9c2f0d,#ab4311,#b95a16,#c7701a,#d0851c,#d9961e,#dfa520,#e3af22,#e5b523,#e6b723,#e5b523,#e3b122,#e1aa21,#dda11f,#d9951e,#d2881c,#cb7a1b,#c36a19,#b95916,#ad4712,#a2360e,#96290c,#8a1c0b,#7e1509,#721009,#660c08,#5c0a07,#530806,#4a0605,#420605,#3b0505,#340504,#2e0404,#290404,#250404,#210505,#1e0505,#1b0505,#180606,#160606,#140606,#130606,#110606,#100606,#0f0606)"></i><i style="top:56px;background:linear-gradient(90deg,#781309,#741109,#711009,#6f0f09,#6e0f09,#6e0f08,#6d0f08,#6d0e08,#6d0f08,#700f09,#751109,#7f1509,#8b1d0b,#992d0d,#a84010,#b85715,#c56e19,#cf821c,#d8941e,#dea320,#e2af22,#e5b523,#e6b723,#e5b623,#e4b222,#e1ab21,#dea220,#d9971e,#d38a1d,#cc7c1b,#c46c19,#ba5b16,#af4912,#a3380f,#972a0d,#8b1d0b,#7f150a,#731109,#670d08,#5d0a07,#540806,#4b0705,#430605,#3b0505,#350504,#2f0404,#290404,#250404,#210505,#1e0505,#1b0505,#180606,#160606,#140606,#130606,#110606,#100606,#0f0606)"></i><i style="top:57px;background:linear-gradient(90deg,#781309,#741109,#711009,#6f0f09,#6e0f08,#6d0f08,#6c0e08,#6c0e08,#6c0e08,#6e0f09,#741109,#7d1409,#891b0a,#972a0d,#a63c10,#b55414,#c46b19,#ce801b,#d7931d,#dea220,#e2ae22,#e5b523,#e6b823,#e6b723,#e4b322,#e2ad21,#dea420,#da991e,#d48c1d,#cd7e1b,#c56e1a,#bb5d16,#b04b13,#a4390f,#982c0d,#8d1e0b,#80160a,#741109,#680d08,#5e0a07,#550906,#4c0705,#440605,#3c0505,#350504,#2f0404,#2a0404,#250404,#210505,#1e0505,#1b0505,#180606,#160606,#140606,#130606,#110606,#100606,#0f0606)"></i><i style="top:58px;background:linear-gradient(90deg,#781209,#741109,#701009,#6f0f09,#6e0f08,#6d0e08,#6c0e08,#6b0e08,#6c0e08,#6d0f08,#721009,#7a1309,#87190a,#95280c,#a4390f,#b35114,#c26819,#cd7e1b,#d7911d,#dda120,#e2ad22,#e5b523,#e6b823,#e6b823,#e4b423,#e2ae22,#dfa520,#db9a1e,#d58e1d,#ce7f1b,#c6701a,#bc5f17,#b14d13,#a53b0f,#9a2d0d,#8e200b,#82160a,#751209,#690d08,#5f0b07,#550906,#4d0705,#440605,#3d0505,#360504,#2f0404,#2a0404,#250404,#220505,#1e0505,#1b0505,#190606,#160606,#140606,#130606,#110606,#100606,#0f0606)"></i><i style="top:59px;background:linear-gradient(90deg,#781209,#741109,#701009,#6e0f09,#6d0f08,#6d0e08,#6c0e08,#6b0e08,#6b0e08,#6c0e08,#711009,#781309,#84170a,#92250c,#a2360e,#b14d13,#c06518,#cc7b1b,#d68f1d,#dda01f,#e2ad21,#e5b523,#e6b923,#e6b823,#e5b523,#e3af22,#e0a720,#dc9c1f,#d6901d,#cf811c,#c7721a,#be6117,#b24f13,#a73d10,#9b2f0d,#8f210b,#83170a,#771209,#6b0e08,#600b07,#560906,#4d0706,#450605,#3d0505,#360504,#300404,#2a0404,#260404,#220505,#1e0505,#1b0505,#190606,#160606,#140606,#130606,#110606,#100606,#0f0606)"></i><i style="top:60px;background:linear-gradient(90deg,#771209,#731109,#701009,#6e0f08,#6d0f08,#6c0e08,#6b0e08,#6b0e08,#6a0e08,#6c0e08,#6f0f09,#771209,#82160a,#90220c,#9f330e,#af4a12,#be6217,#cb791b,#d58d1d,#dc9e1f,#e1ac21,#e5b523,#e6b924,#e6b924,#e5b623,#e3b022,#e0a821,#dc9e1f,#d7911d,#d0831c,#c8741a,#bf6318,#b45114,#a83f10,#9c300e,#90230c,#84170a,#781209,#6c0e08,#610b07,#570907,#4e0706,#460605,#3e0505,#370504,#300504,#2b0404,#260404,#220505,#1e0505,#1b0505,#190606,#160606,#150606,#130606,#110606,#100606,#0f0606)"></i><i style="top:61px;background:linear-gradient(90deg,#771209,#731109,#6f0f09,#6e0f08,#6d0e08,#6c0e08,#6b0e08,#6a0d08,#6a0d08,#6b0e08,#6e0f08,#751109,#80150a,#8e200b,#9d310e,#ad4612,#bc5f17,#c9761a,#d48b1d,#dc9d1f,#e1ab21,#e5b523,#e7ba24,#e7ba24,#e6b723,#e4b222,#e1aa21,#dd9f1f,#d8931d,#d1851c,#c9761a,#c06518,#b55314,#a94110,#9e320e,#92240c,#86180a,#791309,#6d0f08,#620b08,#580907,#4f0706,#470605,#3f0505,#370504,#310504,#2b0404,#260404,#220505,#1f0505,#1c0505,#190606,#170606,#150606,#130606,#110606,#100606,#0f0606)"></i><i style="top:62px;background:linear-gradient(90deg,#771209,#731109,#6f0f09,#6e0f08,#6c0e08,#6b0e08,#6b0e08,#6a0d08,#690d08,#6a0d08,#6d0e08,#731109,#7d1509,#8b1d0b,#9a2e0d,#aa4311,#ba5c16,#c8731a,#d2891c,#db9b1f,#e1aa21,#e5b423,#e7ba24,#e7ba24,#e6b823,#e4b322,#e1ab21,#dda120,#d8951e,#d2871c,#ca781b,#c26718,#b65515,#ab4311,#9f330e,#93250c,#87190a,#7a1309,#6e0f08,#630b08,#590907,#500806,#470605,#3f0505,#380504,#310504,#2c0404,#270404,#230505,#1f0505,#1c0505,#190505,#170606,#150606,#130606,#110606,#100606,#0f0606)"></i><i style="top:63px;background:linear-gradient(90deg,#771209,#731109,#6f0f09,#6d0f08,#6c0e08,#6b0e08,#6a0e08,#690d08,#690d08,#690d08,#6b0e08,#711009,#7b1409,#891b0a,#982b0d,#a83f10,#b85815,#c7701a,#d1861c,#da991e,#e0a921,#e4b423,#e7ba24,#e7bb24,#e6b923,#e4b423,#e2ad21,#dea320,#d9971e,#d3891c,#cb7a1b,#c36919,#b85715,#ac4511,#a0340e,#94270c,#881a0a,#7c1409,#6f0f09,#640c08,#5a0a07,#510806,#480605,#400505,#380505,#320504,#2c0404,#270404,#230505,#1f0505,#1c0505,#190505,#170606,#150606,#130606,#120606,#100606,#0f0606)"></i><i style="top:64px;background:linear-gradient(90deg,#771209,#721009,#6f0f09,#6d0f08,#6c0e08,#6b0e08,#6a0d08,#690d08,#680d08,#680d08,#6a0e08,#6f0f09,#791309,#86180a,#96280c,#a63c0f,#b65515,#c56d19,#d0841c,#da971e,#e0a821,#e4b323,#e7ba24,#e7bc24,#e7ba24,#e5b523,#e2ae22,#dfa420,#da981e,#d48b1d,#cc7c1b,#c46b19,#b95a16,#ad4712,#a1360e,#95280c,#891b0a,#7d1409,#701009,#650c08,#5b0a07,#510806,#490605,#410605,#390505,#320504,#2c0404,#270404,#230404,#1f0505,#1c0505,#190505,#170606,#150606,#130606,#120606,#100606,#0f0606)"></i><i style="top:65px;background:linear-gradient(90deg,#761209,#721009,#6e0f09,#6d0e08,#6c0e08,#6b0e08,#690d08,#680d08,#680d08,#680d08,#690d08,#6e0f08,#771209,#84170a,#93260c,#a3380f,#b45114,#c36a19,#cf811c,#d9951e,#dfa620,#e4b322,#e7ba24,#e8bc24,#e7bb24,#e5b623,#e3af22,#dfa620,#db9a1e,#d58d1d,#cd7e1b,#c56d19,#ba5c16,#af4912,#a3380f,#972a0d,#8b1c0b,#7e1509,#721009,#660c08,#5c0a07,#520806,#490605,#410605,#3a0505,#330504,#2d0404,#280404,#230404,#200505,#1c0505,#190505,#170606,#150606,#130606,#120606,#100606,#0f0606)"></i><i style="top:66px;background:linear-gradient(90deg,#761209,#721009,#6e0f08,#6c0e08,#6b0e08,#6a0e08,#690d08,#680d08,#670c08,#670c08,#680d08,#6c0e08,#751109,#81160a,#91230c,#a1350e,#b14e13,#c26718,#ce7f1b,#d8931e,#dfa520,#e4b222,#e7ba24,#e8bd24,#e7bc24,#e6b723,#e3b122,#e0a721,#db9c1f,#d58f1d,#ce801b,#c66f1a,#bc5e17,#b04b13,#a4390f,#982b0d,#8c1e0b,#7f150a,#731109,#670d08,#5d0a07,#530806,#4a0605,#420605,#3a0505,#330504,#2d0404,#280404,#240404,#200505,#1c0505,#1a0505,#170606,#150606,#130606,#120606,#100606,#0f0606)"></i><i style="top:67px;background:linear-gradient(90deg,#761209,#721009,#6e0f08,#6c0e08,#6b0e08,#6a0d08,#690d08,#680d08,#670c08,#660c08,#670c08,#6b0e08,#731109,#7f150a,#8e200b,#9e320e,#af4a12,#c06418,#cc7c1b,#d7911d,#dea320,#e3b122,#e7ba24,#e8bd24,#e8bc24,#e6b923,#e4b222,#e0a921,#dc9e1f,#d6911d,#cf821c,#c7711a,#bd6017,#b14e13,#a53b0f,#992d0d,#8d1f0b,#81160a,#741109,#680d08,#5e0a07,#540806,#4b0705,#430605,#3b0505,#340504,#2e0404,#280404,#240404,#200505,#1d0505,#1a0505,#170606,#150606,#130606,#120606,#100606,#0f0606)"></i><i style="top:68px;background:linear-gradient(90deg,#741109,#6f0f09,#6b0e08,#690d08,#680d08,#670c08,#660c08,#650c08,#640c08,#640c08,#650c08,#680d08,#701009,#7c1409,#8b1d0b,#9c2f0d,#ad4612,#bd6017,#cb791b,#d68f1d,#dea220,#e3b022,#e7ba24,#e8be24,#e8bd24,#e7ba24,#e4b323,#e1ab21,#dd9f1f,#d7921d,#d0841c,#c8731a,#be6217,#b35014,#a73d10,#9b2e0d,#8e200b,#82160a,#751209,#690d08,#5e0a07,#550906,#4c0705,#430605,#3b0505,#340504,#2e0404,#290404,#240404,#200505,#1d0505,#1a0505,#170606,#150606,#130606,#120606,#100606,#0f0606)"></i><i style="top:69px;background:linear-gradient(90deg,#701009,#6b0e08,#660c08,#640c08,#630b08,#620b08,#620b08,#620b08,#630b08,#670c08,#6f0f09,#7b1409,#8b1c0b,#9b2f0d,#ac4511,#bd6017,#cb791b,#d68f1d,#dea220,#e3b122,#e7bb24,#e8bf24,#e8be24,#e7ba24,#e5b423,#e1ab21,#dda01f,#d8931d,#d0841c,#c8741a,#bf6218,#b35014,#a73d10,#9b2e0d,#8f210b,#82160a,#761209,#6a0d08,#5f0b07,#550906,#4c0705,#440605,#3c0505,#350504,#2f0404,#2a0404,#250404,#210505,#1e0505,#1b0505,#180606,#160606,#140606,#120606,#110606,#100606,#0f0707,#0e0707)"></i><i style="top:70px;background:linear-gradient(90deg,#6d0f08,#670c08,#610b07,#5e0a07,#5e0a07,#5d0a07,#5d0a07,#5d0a07,#5f0b07,#630b08,#6b0e08,#781309,#881a0a,#992c0d,#aa4211,#bb5d16,#ca761a,#d58d1d,#dda120,#e3b022,#e7bb24,#e9bf25,#e9bf25,#e8bc24,#e5b623,#e2ae22,#dea420,#da971e,#d3891c,#cb7a1b,#c36919,#b75715,#ab4411,#9f330e,#93250c,#87190a,#7a1309,#6d0f08,#620b08,#580907,#4f0706,#470605,#3f0505,#370504,#310504,#2b0404,#260404,#220505,#1e0505,#1b0505,#180606,#160606,#140606,#120606,#110606,#100606,#0f0707,#0e0707)"></i><i style="top:71px;background:linear-gradient(90deg,#6a0e08,#630b08,#5c0a07,#590907,#580907,#580907,#580907,#590907,#5b0a07,#5f0b07,#680d08,#751109,#85180a,#96290d,#a83f10,#b95a16,#c8741a,#d48c1d,#dda01f,#e3b022,#e7bb24,#e9c025,#e9c125,#e9bf25,#e8bd24,#e7ba24,#e5b523,#e2ad21,#dea220,#d8941e,#cf831c,#c66f1a,#b95916,#ab4311,#9c300e,#8e200b,#81160a,#731109,#660c08,#5c0a07,#520806,#490605,#410605,#390505,#320504,#2c0404,#270404,#230505,#1f0505,#1b0505,#190606,#160606,#140606,#120606,#110606,#100606,#0f0707,#0e0707)"></i><i style="top:72px;background:linear-gradient(90deg,#680d08,#600b07,#580907,#540806,#530806,#530806,#530806,#540806,#570906,#5c0a07,#640c08,#721009,#83160a,#94270c,#a63c10,#b85715,#c7711a,#d38a1c,#dc9e1f,#e3af22,#e7bb24,#e9c125,#eac225,#e9c025,#e8be24,#e7ba24,#e5b623,#e2af22,#dfa420,#d9971e,#d1861c,#c7721a,#bb5d16,#ad4612,#9e320e,#90230c,#82160a,#751109,#680d08,#5d0a07,#530806,#4a0605,#420605,#3a0505,#330504,#2d0404,#270404,#230505,#1f0505,#1c0505,#190606,#160606,#140606,#120606,#110606,#100606,#0f0707,#0e0707)"></i><i style="top:73px;background:linear-gradient(90deg,#660c08,#5d0a07,#530806,#4f0706,#4e0706,#4e0706,#4e0706,#500806,#530806,#580907,#610b08,#6f0f09,#80150a,#92240c,#a4390f,#b65415,#c66f1a,#d2881c,#dc9d1f,#e2af22,#e7bb24,#eac225,#eac325,#eac125,#e8bf24,#e7bb24,#e6b723,#e3b022,#dfa620,#da991e,#d3891c,#c9761a,#bd6017,#af4a12,#a0350e,#92250c,#84170a,#761209,#690d08,#5e0a07,#540806,#4b0705,#420605,#3b0505,#340504,#2d0404,#280404,#230404,#1f0505,#1c0505,#190606,#160606,#140606,#120606,#110606,#0f0606,#0e0707,#0e0707)"></i><i style="top:74px;background:linear-gradient(90deg,#650c08,#5c0a07,#510806,#4d0705,#4c0705,#4b0705,#4c0705,#4d0706,#500806,#560906,#5f0b07,#6c0e08,#7d1409,#8f210b,#a1360e,#b35114,#c46c19,#d1851c,#db9b1f,#e2ae22,#e7bb24,#eac225,#eac425,#eac225,#e9c025,#e8bc24,#e6b823,#e4b222,#e0a821,#db9c1f,#d48c1d,#cb791b,#c06418,#b14d13,#a3380f,#94270c,#86190a,#781309,#6b0e08,#5f0b07,#550906,#4c0705,#430605,#3b0505,#340504,#2e0404,#280404,#240404,#1f0505,#1c0505,#190606,#160606,#140606,#120606,#110606,#100606,#0e0707,#0e0707)"></i><i style="top:75px;background:linear-gradient(90deg,#650c08,#5c0a07,#510806,#4d0705,#4b0705,#4b0705,#4b0705,#4d0705,#4f0706,#550906,#5d0a07,#6a0e08,#7b1409,#8d1f0b,#9f330e,#b14d13,#c36919,#d0831c,#da9a1e,#e2ad21,#e7bb24,#eac325,#ebc525,#eac325,#e9c125,#e8bd24,#e6b923,#e4b323,#e1aa21,#dc9e1f,#d58f1d,#cc7c1b,#c26718,#b45114,#a53b0f,#96290d,#881a0a,#7a1309,#6d0e08,#610b07,#570906,#4d0706,#440605,#3c0505,#350504,#2f0404,#290404,#240404,#200505,#1c0505,#190505,#170606,#140606,#120606,#110606,#100606,#0f0707,#0e0707)"></i><i style="top:76px;background:linear-gradient(90deg,#650c08,#5c0a07,#510806,#4d0705,#4b0705,#4b0705,#4b0705,#4c0705,#4f0706,#540806,#5c0a07,#680d08,#781309,#8a1d0b,#9d310e,#af4a12,#c16618,#cf811c,#da981e,#e1ac21,#e7ba24,#eac325,#ebc626,#ebc525,#eac225,#e8be24,#e7ba24,#e5b423,#e2ac21,#dda11f,#d7921d,#ce801b,#c46b19,#b65415,#a73e10,#982c0d,#8a1c0b,#7c1409,#6e0f09,#620b08,#580907,#4e0706,#460605,#3d0505,#360504,#2f0404,#290404,#240404,#200505,#1d0505,#190505,#170606,#140606,#130606,#110606,#100606,#0f0707,#0e0707)"></i><i style="top:77px;background:linear-gradient(90deg,#650c08,#5c0a07,#510806,#4d0705,#4b0705,#4b0705,#4b0705,#4c0705,#4e0706,#520806,#5a0a07,#660c08,#761209,#881a0a,#9a2e0d,#ad4712,#bf6318,#cd7e1b,#d9961e,#e1ab21,#e7ba24,#eac325,#ebc726,#ebc626,#eac325,#e9bf24,#e7bb24,#e5b623,#e2ae22,#dea320,#d8951e,#d0831c,#c66e1a,#b85815,#a94110,#9b2e0d,#8c1e0b,#7e1509,#701009,#640c08,#590907,#4f0706,#470605,#3e0505,#370504,#300404,#2a0404,#250404,#210505,#1d0505,#1a0505,#170606,#150606,#130606,#110606,#100606,#0f0707,#0e0707)"></i><i style="top:78px;background:linear-gradient(90deg,#650c08,#5c0a07,#510806,#4d0705,#4b0705,#4b0705,#4b0705,#4b0705,#4d0706,#510806,#590907,#630b08,#731109,#85180a,#982b0d,#ab4311,#bd6017,#cc7c1b,#d8941e,#e0a921,#e6b924,#eac325,#ecc726,#ebc726,#eac425,#e9c025,#e7bc24,#e6b723,#e3b022,#dfa520,#d9971e,#d1861c,#c7721a,#bb5c16,#ac4511,#9d310e,#8e200b,#80150a,#721009,#650c08,#5a0a07,#510806,#480605,#3f0505,#370504,#310504,#2b0404,#250404,#210505,#1d0505,#1a0505,#170606,#150606,#130606,#110606,#100606,#0f0707,#0e0707)"></i><i style="top:79px;background:linear-gradient(90deg,#650c08,#5c0a07,#510806,#4c0705,#4b0705,#4a0605,#4a0605,#4b0705,#4d0705,#500806,#570907,#610b08,#701009,#83160a,#96290c,#a94010,#bb5d16,#cb791b,#d7921d,#e0a821,#e6b923,#eac425,#ecc826,#ecc826,#ebc525,#e9c125,#e8bc24,#e6b823,#e3b122,#e0a721,#db9a1e,#d3891c,#c9761a,#bd5f17,#ae4812,#9f330e,#90230c,#82160a,#741109,#670c08,#5c0a07,#520806,#490605,#400605,#380505,#310504,#2b0404,#260404,#210505,#1e0505,#1a0505,#170606,#150606,#130606,#110606,#100606,#0f0707,#0e0707)"></i><i style="top:80px;background:linear-gradient(90deg,#650c08,#5c0a07,#510806,#4c0705,#4b0705,#4a0605,#4a0605,#4b0705,#4c0705,#4f0706,#560906,#600b07,#6e0f08,#80160a,#93260c,#a63d10,#b95a16,#ca761a,#d6901d,#dfa720,#e6b823,#eac425,#ecc927,#ecc926,#ebc626,#eac225,#e8bd24,#e6b923,#e4b322,#e0a921,#dc9d1f,#d48c1d,#cb791b,#bf6318,#b04c13,#a1360e,#92250c,#84170a,#761209,#680d08,#5d0a07,#530806,#4a0605,#410605,#390505,#320504,#2c0404,#260404,#220505,#1e0505,#1b0505,#180606,#150606,#130606,#110606,#100606,#0f0707,#0e0707)"></i><i style="top:81px;background:linear-gradient(90deg,#650c08,#5c0a07,#510806,#4c0705,#4b0705,#4a0605,#4a0605,#4a0605,#4c0705,#4e0706,#540806,#5e0a07,#6c0e08,#7d1509,#91230c,#a4390f,#b75715,#c8741a,#d58e1d,#dfa520,#e6b723,#eac425,#edca27,#edca27,#ecc726,#eac325,#e8be24,#e7ba24,#e4b423,#e1ab21,#dd9f1f,#d68f1d,#cd7c1b,#c16718,#b35014,#a4390f,#95270c,#86190a,#781209,#6a0d08,#5e0a07,#540806,#4b0705,#420605,#3a0505,#330504,#2d0404,#270404,#220505,#1e0505,#1b0505,#180606,#150606,#130606,#120606,#100606,#0f0707,#0e0707)"></i><i style="top:82px;background:linear-gradient(90deg,#650c08,#5c0a07,#510806,#4c0705,#4b0705,#4a0605,#4a0605,#4a0605,#4b0705,#4e0706,#530806,#5c0a07,#690d08,#7b1409,#8e200b,#a1360e,#b55314,#c7711a,#d48c1d,#dea320,#e5b623,#eac425,#edcb27,#edcc28,#ecc926,#ebc425,#e9bf25,#e7bb24,#e5b523,#e2ad21,#dea120,#d7921d,#ce801b,#c36b19,#b55314,#a63c10,#972a0d,#881a0a,#791309,#6c0e08,#600b07,#550906,#4c0705,#430605,#3b0505,#340504,#2d0404,#280404,#230505,#1f0505,#1b0505,#180606,#160606,#140606,#120606,#100606,#0f0606,#0e0707)"></i><i style="top:83px;background:linear-gradient(90deg,#650c08,#5c0a07,#510806,#4c0705,#4b0705,#4a0605,#4a0605,#4a0605,#4b0705,#4d0705,#520806,#5a0a07,#670c08,#781309,#8c1e0b,#9f330e,#b35014,#c56e19,#d3891c,#dea220,#e5b623,#eac325,#edcc28,#eecd29,#edca27,#ebc526,#e9c025,#e7bb24,#e5b623,#e2af22,#dea420,#d9951e,#d0831c,#c56e1a,#b85715,#a83f10,#992c0d,#8a1c0b,#7b1409,#6d0f08,#610b08,#570906,#4d0705,#440605,#3c0505,#340504,#2e0404,#280404,#230404,#1f0505,#1c0505,#190606,#160606,#140606,#120606,#100606,#0f0606,#0e0707)"></i><i style="top:84px;background:linear-gradient(90deg,#650c08,#5c0a07,#510806,#4c0705,#4a0605,#4a0605,#490605,#490605,#4a0605,#4c0705,#510806,#580907,#640c08,#751209,#891b0a,#9d300e,#b04c13,#c36a19,#d2871c,#dda01f,#e5b423,#eac325,#eecd28,#efcf29,#edcc28,#ebc626,#e9c125,#e8bc24,#e6b723,#e3b022,#dfa620,#da981e,#d1871c,#c7721a,#ba5b16,#ab4311,#9b2f0d,#8c1e0b,#7d1509,#6f0f09,#630b08,#580907,#4e0706,#450605,#3d0505,#350504,#2f0404,#290404,#240404,#200505,#1c0505,#190606,#160606,#140606,#120606,#110606,#0f0606,#0e0707)"></i><i style="top:85px;background:linear-gradient(90deg,#650c08,#5c0a07,#510806,#4c0705,#4a0605,#4a0605,#490605,#490605,#4a0605,#4b0705,#4f0706,#570906,#620b08,#731109,#86190a,#9a2e0d,#ae4812,#c26718,#d0841c,#dc9e1f,#e4b323,#eac325,#eecd28,#efd02a,#eecd29,#ecc826,#eac225,#e8bd24,#e6b823,#e4b222,#e0a821,#db9b1e,#d38a1c,#c9761a,#bc5f17,#ad4712,#9e320e,#8e200b,#80150a,#711009,#640c08,#590907,#4f0706,#460605,#3e0505,#360504,#2f0404,#290404,#240404,#200505,#1c0505,#190505,#160606,#140606,#120606,#110606,#0f0606,#0e0707)"></i><i style="top:86px;background:linear-gradient(90deg,#650c08,#5c0a07,#510806,#4c0705,#4a0605,#4a0605,#490605,#490605,#490605,#4b0705,#4e0706,#550906,#600b07,#701009,#84170a,#972b0d,#ac4511,#c06418,#cf811c,#db9c1f,#e4b222,#eac225,#eece29,#f0d12a,#efcf29,#edc927,#eac325,#e8be24,#e6b924,#e4b323,#e1aa21,#dc9d1f,#d58d1d,#cb791b,#bf6318,#b04b13,#a0340e,#91230c,#82160a,#731109,#660c08,#5a0a07,#500806,#470605,#3f0505,#370504,#300404,#2a0404,#250404,#200505,#1d0505,#190505,#170606,#140606,#120606,#110606,#0f0606,#0e0707)"></i><i style="top:87px;background:linear-gradient(90deg,#650c08,#5c0a07,#510806,#4c0705,#4a0605,#490605,#490605,#490605,#490605,#4a0605,#4d0706,#540806,#5e0a07,#6d0f08,#81160a,#95280c,#a94111,#be6017,#ce7f1b,#da9a1e,#e3b122,#eac225,#eece29,#f0d32b,#efd12a,#edcb28,#ebc525,#e9bf24,#e7ba24,#e5b423,#e1ac21,#dda01f,#d6901d,#cd7d1b,#c16618,#b24e13,#a2370f,#93250c,#84170a,#751109,#670d08,#5c0a07,#520806,#480605,#400505,#380504,#310504,#2b0404,#250404,#210505,#1d0505,#1a0505,#170606,#140606,#130606,#110606,#100606,#0e0707)"></i><i style="top:88px;background:linear-gradient(90deg,#650c08,#5c0a07,#510806,#4c0705,#4a0605,#490605,#490605,#490605,#490605,#4a0605,#4d0705,#520806,#5c0a07,#6b0e08,#7e1509,#92250c,#a73d10,#bb5d16,#cc7c1b,#d9971e,#e3af22,#e9c125,#eece29,#f0d42c,#f0d22b,#eecd28,#ebc626,#e9c025,#e7bb24,#e5b623,#e2ae22,#dea220,#d8931d,#ce801b,#c36a19,#b55214,#a53a0f,#95280c,#86180a,#771209,#690d08,#5d0a07,#530806,#490605,#410605,#390505,#310504,#2b0404,#260404,#210505,#1d0505,#1a0505,#170606,#150606,#130606,#110606,#100606,#0f0707)"></i><i style="top:89px;background:linear-gradient(90deg,#650c08,#5c0a07,#510806,#4c0705,#4a0605,#490605,#490605,#480605,#480605,#490605,#4c0705,#510806,#5a0a07,#680d08,#7b1409,#90220b,#a43a0f,#b95916,#cb791b,#d8951e,#e2ae22,#e9c125,#eece29,#f1d52c,#f0d42c,#efcf29,#ecc726,#e9c125,#e7bc24,#e5b723,#e3af22,#dfa520,#d9961e,#d0841c,#c56e19,#b75615,#a73e10,#972b0d,#881a0a,#791309,#6b0e08,#5f0b07,#540806,#4a0705,#420605,#390505,#320504,#2c0404,#260404,#220505,#1e0505,#1a0505,#170606,#150606,#130606,#110606,#100606,#0f0707)"></i><i style="top:90px;background:linear-gradient(90deg,#650c08,#5c0a07,#510806,#4c0705,#4a0605,#490605,#490605,#480605,#480605,#490605,#4b0705,#500806,#580907,#660c08,#781309,#8d1f0b,#a2360e,#b75615,#c9751a,#d7921d,#e1ac21,#e9c025,#eece29,#f1d62d,#f1d52c,#efd12a,#ecc927,#eac225,#e8bc24,#e6b823,#e3b122,#e0a720,#da991e,#d2871c,#c7721a,#ba5a16,#aa4111,#9a2d0d,#8a1c0b,#7b1409,#6c0e08,#600b07,#550906,#4c0705,#430605,#3a0505,#330504,#2c0404,#270404,#220505,#1e0505,#1a0505,#170606,#140606,#120606,#100606,#0e0707,#0d0707)"></i><i style="top:91px;background:linear-gradient(90deg,#650c08,#5c0a07,#510806,#4c0705,#4a0605,#490605,#480605,#480605,#480605,#480605,#4a0605,#4f0706,#570906,#630b08,#751209,#8a1c0b,#9f330e,#b45214,#c7721a,#d6901d,#e1aa21,#e9bf24,#eece29,#f2d72d,#f2d72d,#f0d22b,#edcb27,#eac325,#e8bd24,#e6b823,#e4b222,#e0a921,#db9c1f,#d38a1d,#c9761a,#bc5e17,#ac4511,#9c300e,#8d1e0b,#7d1409,#6e0f09,#610b08,#560906,#4d0705,#440605,#3b0505,#340504,#2d0404,#270404,#220505,#1d0505,#190505,#160606,#120606,#110606,#0e0707,#0a0707,#0b0707)"></i><i style="top:92px;background:linear-gradient(90deg,#650c08,#5c0a07,#510806,#4c0705,#4a0605,#490605,#480605,#480605,#480605,#480605,#4a0605,#4d0706,#550906,#610b08,#721009,#871a0a,#9c300e,#b24e13,#c66f19,#d58d1d,#e0a821,#e8be24,#eece29,#f2d82e,#f2d82e,#f1d42c,#eecd28,#ebc525,#e8be24,#e6b924,#e4b323,#e1ab21,#dc9e1f,#d58e1d,#cb791b,#bf6218,#af4912,#9f330e,#8f210b,#7f150a,#701009,#630b08,#580907,#4e0706,#450605,#3c0505,#350504,#2e0404,#270404,#220505,#1c0505,#180606,#150606,#100606,#0f0707,#0b0707,#0c0a0a,#0b0808)"></i><i style="top:93px;background:linear-gradient(90deg,#650c08,#5c0a07,#510806,#4c0705,#4a0605,#490605,#480605,#480605,#470605,#480605,#490605,#4c0705,#530806,#5f0b07,#6f0f09,#84170a,#992d0d,#af4a12,#c46b19,#d38a1d,#dfa620,#e8bd24,#eece29,#f2d92e,#f3da2f,#f1d62d,#eecf29,#ebc626,#e9bf25,#e7ba24,#e5b523,#e2ad21,#dda11f,#d6911d,#cd7d1b,#c16618,#b14d13,#a1350e,#91230c,#81160a,#721009,#640c08,#590907,#4f0706,#460605,#3d0505,#350504,#2e0404,#280404,#220505,#1b0505,#170606,#130606,#0e0707,#0d0707,#0b0808,#0e0c0d,#0d0a0a)"></i><i style="top:94px;background:linear-gradient(90deg,#650c08,#5c0a07,#510806,#4c0705,#4a0605,#490605,#480605,#480605,#470605,#470605,#480605,#4b0705,#520806,#5d0a07,#6d0e08,#81160a,#972a0d,#ac4612,#c26818,#d2871c,#dea420,#e7bb24,#eecd29,#f3da2e,#f3db2f,#f2d82e,#efd12a,#ecc726,#e9c025,#e7bb24,#e5b623,#e2ae22,#dea320,#d8941e,#cf811c,#c36a19,#b45114,#a4390f,#93260c,#84170a,#741109,#660c08,#5a0a07,#500806,#470605,#3e0505,#360504,#2f0404,#280404,#220505,#1b0505,#160606,#120606,#0c0707,#0b0707,#0c0a0a,#110e0f,#0e0c0c)"></i><i style="top:95px;background:linear-gradient(90deg,#650c08,#5c0a07,#510806,#4c0705,#4a0605,#490605,#480605,#470605,#470605,#470605,#480605,#4b0705,#500806,#5b0a07,#6a0e08,#7e1509,#94270c,#aa4211,#c06418,#d0841c,#dea220,#e7ba24,#eecd28,#f3da2f,#f4dd30,#f3d92e,#f0d22b,#ecc927,#e9c125,#e7bb24,#e5b723,#e3b022,#dfa520,#d9971e,#d0841c,#c56e19,#b65515,#a63c10,#96290c,#86180a,#761209,#680d08,#5c0a07,#510806,#480605,#3f0505,#370504,#300404,#280404,#220505,#1a0505,#150606,#110606,#0b0707,#0a0808,#0e0c0c,#131112,#0f0d0e)"></i><i style="top:96px;background:linear-gradient(90deg,#650c08,#5c0a07,#510806,#4c0705,#4a0605,#490605,#480605,#470605,#470605,#470605,#470605,#4a0605,#4f0706,#590907,#670d08,#7b1409,#91230c,#a73e10,#bd6017,#cf811c,#dd9f1f,#e6b823,#eecc28,#f3db2f,#f4de31,#f3db2f,#f1d42c,#edcb27,#eac225,#e8bc24,#e6b723,#e3b122,#e0a821,#da9a1e,#d2881c,#c7721a,#b95916,#a94010,#982b0d,#881a0a,#781309,#6a0d08,#5d0a07,#530806,#490605,#400505,#380504,#300504,#290404,#220505,#190606,#140606,#0f0606,#0b0808,#0c0909,#100e0f,#151315,#110f0f)"></i><i style="top:97px;background:linear-gradient(90deg,#650c08,#5c0a07,#510806,#4c0705,#4a0605,#490605,#480605,#470605,#470605,#460605,#470605,#490605,#4e0706,#570906,#650c08,#781309,#8e200b,#a43a0f,#bb5c16,#cd7e1b,#dc9d1f,#e6b723,#edcb28,#f3db2f,#f5df31,#f4dd30,#f1d62d,#eecd28,#eac425,#e8bd24,#e6b823,#e4b322,#e1aa21,#dc9c1f,#d48b1d,#c9761a,#bc5d17,#ab4411,#9b2e0d,#8b1c0b,#7a1309,#6b0e08,#5f0b07,#540806,#4a0605,#410605,#390505,#310504,#290404,#210505,#180606,#130606,#0e0707,#0c0a0a,#0d0b0b,#121011,#171617,#121011)"></i><i style="top:98px;background:linear-gradient(90deg,#650c08,#5c0a07,#500806,#4b0705,#4a0605,#490605,#480605,#470605,#460605,#460605,#460605,#480605,#4c0705,#550906,#620b08,#751109,#8b1e0b,#a2360e,#b85815,#cc7b1b,#da9a1f,#e5b523,#edcb28,#f3db2f,#f5e132,#f5df31,#f2d82e,#efcf29,#ebc526,#e8be24,#e6b923,#e4b423,#e1ab21,#dd9f1f,#d58e1d,#cb791b,#be6217,#ae4812,#9d310e,#8d1f0b,#7d1409,#6d0f08,#600b07,#550906,#4b0705,#420605,#390505,#310504,#290404,#210505,#170606,#110606,#0d0707,#0e0b0c,#0f0c0d,#141214,#19181a,#131112)"></i><i style="top:99px;background:linear-gradient(90deg,#650c08,#5c0a07,#500806,#4b0705,#4a0605,#490605,#480605,#470605,#460605,#460605,#460605,#470605,#4b0705,#530806,#5f0b07,#721009,#881b0a,#9f330e,#b65415,#ca771b,#d9981e,#e4b423,#edca27,#f3db2f,#f6e232,#f5e032,#f3db2f,#f0d12b,#ecc726,#e9bf25,#e7ba24,#e5b523,#e2ad22,#dea220,#d7911d,#cd7d1b,#c16618,#b04c13,#a0340e,#8f210b,#7f1509,#6f0f09,#610b08,#560906,#4c0705,#420605,#3a0505,#310504,#290404,#210505,#160606,#0f0606,#0c0707,#0f0d0e,#100e0f,#161516,#1c1b1e,#141213)"></i><i style="top:100px;background:linear-gradient(90deg,#650c08,#5c0a07,#500806,#4b0705,#4a0605,#480605,#480605,#470605,#460605,#450605,#450605,#460605,#4a0605,#510806,#5c0a07,#6e0f08,#85180a,#9c2f0d,#b35014,#c8741a,#d8951e,#e4b222,#ecc927,#f3dc2f,#f6e333,#f6e232,#f4dd30,#f0d42c,#ecc927,#e9c125,#e7bb24,#e5b623,#e3af22,#dfa420,#d8951e,#cf811c,#c36a19,#b35014,#a2370f,#91240c,#81160a,#711009,#630b08,#570906,#4d0705,#430605,#3a0505,#320504,#290404,#200505,#150606,#0d0707,#0b0808,#110f10,#121011,#181719,#1f1e21,#151314)"></i><i style="top:101px;background:linear-gradient(90deg,#650c08,#5b0a07,#500806,#4b0705,#490605,#480605,#480605,#470605,#460605,#450605,#450605,#460605,#480605,#4f0706,#5a0a07,#6b0e08,#81160a,#992c0d,#b04c13,#c6701a,#d7921d,#e3b022,#ecc827,#f3dc2f,#f7e434,#f6e333,#f5df31,#f1d62d,#edcb27,#eac225,#e7bc24,#e6b723,#e3b122,#dfa620,#da981e,#d1851c,#c56e19,#b65415,#a53a0f,#94260c,#83170a,#731109,#640c08,#580907,#4d0706,#440605,#3b0505,#320504,#290404,#1f0505,#140606,#0c0707,#0b0909,#131213,#131213,#1a191c,#222225,#151415)"></i><i style="top:102px;background:linear-gradient(90deg,#650c08,#5b0a07,#500806,#4b0705,#490605,#480605,#470605,#470605,#460605,#450605,#450605,#450605,#470605,#4d0705,#570907,#670d08,#7e1509,#95280c,#ad4712,#c46d19,#d6901d,#e2ae22,#ecc726,#f3dc2f,#f7e534,#f7e534,#f5e132,#f2d82e,#eecd29,#eac325,#e8bd24,#e6b823,#e4b222,#e0a921,#db9b1e,#d2881c,#c7721a,#b85815,#a73e10,#96290d,#85180a,#751109,#660c08,#590907,#4e0706,#440605,#3b0505,#320504,#290404,#1f0505,#130606,#0b0708,#0c0a0a,#161416,#151315,#1c1c1e,#252529,#161516)"></i><i style="top:103px;background:linear-gradient(90deg,#650c08,#5b0a07,#500806,#4b0705,#490605,#480605,#470605,#460605,#460605,#450605,#440605,#440605,#460605,#4b0705,#550906,#640c08,#7a1309,#92250c,#ab4311,#c26919,#d48d1d,#e2ac21,#ebc626,#f3db2f,#f7e634,#f8e735,#f6e333,#f3db2f,#efd02a,#ebc525,#e8be24,#e6b923,#e4b423,#e1ab21,#dc9d1f,#d48c1d,#c9761a,#bb5d16,#aa4211,#992c0d,#881a0a,#771209,#670d08,#5a0a07,#4f0706,#450605,#3c0505,#320504,#290404,#1e0505,#120606,#0c0909,#0d0b0b,#181719,#161516,#1e1e20,#28292d,#171517)"></i><i style="top:104px;background:linear-gradient(90deg,#650c08,#5b0a07,#500806,#4b0705,#490605,#480605,#470605,#460605,#450605,#450605,#440605,#440605,#450605,#4a0605,#520806,#610b08,#761209,#8f210b,#a83f10,#c06518,#d38a1c,#e1aa21,#ebc426,#f3db2f,#f8e735,#f8e835,#f7e434,#f4dd30,#f0d22b,#ecc726,#e9bf24,#e7ba24,#e5b523,#e2ad21,#dda01f,#d68f1d,#cb7a1b,#be6117,#ad4612,#9b2f0d,#8a1c0b,#791309,#690d08,#5c0a07,#500806,#460605,#3c0505,#320504,#290404,#1e0505,#120606,#0d0a0a,#0e0c0c,#1b1a1c,#171618,#202022,#2c2d32,#171618)"></i><i style="top:105px;background:linear-gradient(90deg,#650c08,#5b0a07,#500806,#4b0705,#490605,#480605,#470605,#460605,#450605,#440605,#440605,#440605,#450605,#480605,#500806,#5e0a07,#721109,#8b1e0b,#a43a0f,#be6117,#d1861c,#e0a821,#eac325,#f3db2f,#f8e835,#f9e936,#f7e635,#f5df31,#f1d52c,#ecc927,#e9c025,#e7ba24,#e5b623,#e2ae22,#dea320,#d7921d,#cd7d1b,#c06518,#af4a12,#9e320e,#8c1e0b,#7b1409,#6b0e08,#5d0a07,#510806,#470605,#3d0505,#320504,#280404,#1d0505,#110606,#0e0b0b,#0f0d0e,#1e1d20,#181719,#212124,#303237,#181719)"></i><i style="top:106px;background:linear-gradient(90deg,#650c08,#5b0a07,#500806,#4b0705,#490605,#480605,#470605,#460605,#450605,#440605,#430605,#430605,#440605,#470605,#4e0706,#5b0a07,#6f0f09,#881b0a,#a1360e,#bb5c16,#d0831c,#dfa520,#eac225,#f3da2f,#f8e836,#f9eb37,#f8e835,#f6e132,#f2d72d,#edcb27,#e9c125,#e7bb24,#e6b723,#e3b022,#dfa520,#d9961e,#cf811c,#c36919,#b24e13,#a0350e,#8f210b,#7d1409,#6d0e08,#5e0a07,#520806,#480605,#3e0505,#330504,#280404,#1d0505,#100707,#0e0c0c,#100e0f,#212124,#19181a,#222226,#34363c,#19181a)"></i><i style="top:107px;background:linear-gradient(90deg,#650c08,#5b0a07,#500806,#4b0705,#490605,#480605,#470605,#460605,#450605,#440605,#430605,#430605,#430605,#460605,#4c0705,#580907,#6b0e08,#84170a,#9e320e,#b85815,#ce7f1b,#dea320,#e9c025,#f3da2e,#f9e936,#faec37,#f9ea36,#f6e433,#f3da2f,#eecd29,#eac325,#e8bc24,#e6b823,#e4b222,#e0a821,#da991e,#d1851c,#c56d19,#b55314,#a3380f,#91240c,#80150a,#6f0f09,#600b07,#530806,#490605,#3e0505,#330504,#280404,#1d0505,#100707,#0f0d0d,#121011,#242427,#1a191b,#232327,#393b41,#1a191b)"></i><i style="top:108px;background:linear-gradient(90deg,#650c08,#5b0a07,#500806,#4b0705,#490605,#480605,#470605,#460605,#450605,#440605,#430605,#420605,#430605,#450605,#4a0605,#560906,#670d08,#80160a,#9a2e0d,#b55314,#cc7b1b,#dda01f,#e8be24,#f2d92e,#f9ea36,#faee38,#f9eb37,#f7e634,#f4dc30,#efd02a,#ebc425,#e8bd24,#e6b923,#e4b323,#e1aa21,#db9c1f,#d2891c,#c7711a,#b85715,#a63c10,#94260c,#82160a,#711009,#610b08,#550906,#490605,#3f0505,#330504,#280404,#1c0505,#100707,#100d0e,#131112,#27272b,#1b1a1c,#242428,#3e4046,#1b1a1d)"></i><i style="top:109px;background:linear-gradient(90deg,#650c08,#5b0a07,#500806,#4b0705,#490605,#480605,#470605,#460605,#450605,#440605,#430605,#420605,#420605,#440605,#490605,#530806,#640c08,#7c1409,#972a0d,#b24e13,#ca771b,#dc9d1f,#e8bd24,#f2d82e,#f9ea36,#fbef39,#faed38,#f8e835,#f5df31,#f0d32b,#ebc626,#e8be24,#e6b924,#e5b423,#e1ac21,#dc9e1f,#d48c1d,#c9751a,#ba5b16,#a84010,#96290d,#85170a,#731109,#630b08,#560906,#4a0705,#400505,#330504,#270404,#1c0505,#100708,#100e0f,#141214,#2a2b2f,#1b1a1d,#242528,#42444a,#1c1c1e)"></i><i style="top:110px;background:linear-gradient(90deg,#650c08,#5b0a07,#500806,#4b0705,#490605,#480605,#470605,#460605,#450605,#440605,#430605,#420605,#420605,#430605,#470605,#500806,#600b07,#781309,#93260c,#af4912,#c8731a,#da9a1f,#e7bb24,#f2d72d,#f9ea36,#fbf039,#fbef39,#f9ea36,#f6e132,#f1d52c,#ecc826,#e9bf25,#e7ba24,#e5b623,#e2ae22,#dda120,#d6901d,#cb791b,#bd6017,#ab4411,#992c0d,#87190a,#751109,#650c08,#570907,#4b0705,#410605,#340504,#270404,#1c0505,#0f0808,#110f0f,#161416,#2d2e33,#1c1b1d,#252529,#46494f,#1e1e20)"></i><i style="top:111px;background:linear-gradient(90deg,#650c08,#5b0a07,#500806,#4b0705,#490605,#480605,#470605,#460605,#450605,#440605,#430605,#420605,#410605,#420605,#460605,#4e0706,#5d0a07,#741109,#90220b,#ab4411,#c56f19,#d9971e,#e6b923,#f1d62d,#f9ea36,#fcf13a,#fbf039,#faec37,#f6e333,#f2d82e,#edca27,#e9c025,#e7bb24,#e5b723,#e3af22,#dea420,#d8931d,#cd7d1b,#c06418,#ae4812,#9c2f0d,#8a1c0b,#771209,#660c08,#590907,#4d0705,#420605,#340504,#270404,#1b0505,#0e0808,#110f10,#171618,#2f3136,#1c1b1e,#252529,#4a4d53,#202023)"></i><i style="top:112px;background:linear-gradient(90deg,#650c08,#5b0a07,#500806,#4b0705,#490605,#480605,#470605,#460605,#450605,#440605,#430605,#420605,#410605,#410605,#440605,#4c0705,#5a0a07,#701009,#8c1e0b,#a83f10,#c36a19,#d7931e,#e5b623,#f1d42c,#f9ea37,#fcf23a,#fcf23a,#faee38,#f7e634,#f3da2f,#eecc28,#eac225,#e7bb24,#e6b723,#e3b122,#dfa620,#d9961e,#cf811c,#c26819,#b14d13,#9e330e,#8c1e0b,#7a1309,#680d08,#5a0a07,#4e0706,#420605,#340504,#270404,#1b0505,#0d0809,#121011,#19181a,#323439,#1c1b1e,#252529,#4e5057,#222225)"></i><i style="top:113px;background:linear-gradient(90deg,#650c08,#5b0a07,#500806,#4b0705,#490605,#480605,#470605,#460605,#450605,#440605,#420605,#410605,#410605,#410605,#430605,#4a0605,#570906,#6c0e08,#881b0a,#a43a0f,#c06618,#d6901d,#e5b423,#f0d32b,#f9ea36,#fdf43b,#fcf33b,#fbf039,#f8e835,#f4dd30,#efcf29,#eac325,#e8bc24,#e6b823,#e4b322,#e0a921,#da991e,#d1851c,#c46d19,#b45114,#a1360e,#8f210b,#7c1409,#6a0e08,#5c0a07,#4f0706,#430605,#340504,#260404,#1a0505,#0c0909,#131112,#1b1a1d,#35373c,#1c1c1e,#252629,#50535a,#242528)"></i><i style="top:114px;background:linear-gradient(90deg,#650c08,#5b0a07,#500806,#4b0705,#490605,#480605,#470605,#460605,#450605,#440605,#420605,#410605,#400605,#400605,#420605,#480605,#540806,#680d08,#84170a,#a1350e,#be6117,#d48c1d,#e4b122,#efd12a,#f9ea36,#fdf53b,#fdf53c,#fcf13a,#f9ea36,#f5e031,#f0d22b,#ebc525,#e8bd24,#e6b923,#e4b423,#e1ab21,#dc9c1f,#d3891c,#c7711a,#b75615,#a4390f,#91240c,#7f1509,#6d0e08,#5d0a07,#500806,#440605,#350504,#260404,#1a0606,#0c0a0a,#131213,#1d1d1f,#37393f,#1d1c1f,#252629,#53565c,#26272b)"></i><i style="top:115px;background:linear-gradient(90deg,#650c08,#5b0a07,#500806,#4b0705,#490605,#480605,#470605,#460605,#450605,#430605,#420605,#410605,#400605,#400505,#410605,#460605,#510806,#640c08,#7f150a,#9d310e,#ba5c16,#d2881c,#e3af22,#efcf2a,#f9ea36,#fdf63c,#fef63c,#fcf33b,#faed38,#f6e233,#f1d42c,#ebc626,#e8be24,#e7b924,#e5b523,#e2ad21,#dd9f1f,#d48c1d,#c9751a,#b95a16,#a73e10,#94270c,#81160a,#6f0f09,#5f0b07,#510806,#450605,#350504,#260404,#190606,#0e0b0c,#141314,#1f1f22,#393c41,#1d1d1f,#26262a,#54575e,#292a2e)"></i><i style="top:116px;background:linear-gradient(90deg,#650c08,#5b0a07,#500806,#4b0705,#490605,#480605,#470605,#460605,#450605,#430605,#420605,#410605,#400505,#3f0505,#400605,#440605,#4e0706,#600b07,#7b1409,#992c0d,#b75615,#d0841c,#e1ac21,#eece29,#f9e936,#fef63c,#fef83d,#fdf53c,#fbef39,#f7e534,#f2d72d,#ecc827,#e9bf24,#e7ba24,#e5b623,#e3af22,#dea220,#d6901d,#cb791b,#bc5e17,#aa4211,#972a0d,#84170a,#711009,#610b07,#530806,#460605,#360504,#260404,#190606,#0f0d0e,#161416,#222225,#3b3e43,#1e1d20,#26272a,#56585f,#2b2d31)"></i><i style="top:117px;background:linear-gradient(90deg,#650c08,#5b0a07,#500806,#4b0705,#490605,#480605,#470605,#460605,#450605,#430605,#420605,#410605,#400505,#3f0505,#400505,#430605,#4c0705,#5d0a07,#761209,#95280c,#b45114,#ce7f1b,#e0a921,#edcc29,#f8e936,#fef73d,#fff93e,#fef73c,#fbf13a,#f8e735,#f3da2f,#edcb27,#e9c025,#e7ba24,#e6b723,#e3b022,#dfa520,#d8931e,#cd7d1b,#bf6318,#ad4612,#9a2d0d,#87190a,#731109,#620b08,#540806,#470605,#360504,#260404,#180606,#110f10,#171617,#242428,#3d4045,#1f1e21,#27282c,#565960,#2e2f34)"></i><i style="top:118px;background:linear-gradient(90deg,#650c08,#5b0a07,#500806,#4b0705,#490605,#480605,#470605,#460605,#450605,#430605,#420605,#410605,#3f0505,#3f0505,#3f0505,#410605,#490605,#590907,#711009,#90230c,#af4a12,#cb7a1b,#dfa520,#ecc827,#f8e735,#fef73d,#fffa3e,#fef83d,#fcf23a,#f9e936,#f4dc30,#eecd28,#e9c125,#e7bb24,#e6b823,#e4b222,#e0a721,#d9971e,#cf811c,#c26718,#b04a13,#9c300e,#891c0b,#761209,#640c08,#560906,#480605,#370504,#260404,#170606,#131112,#181719,#26262a,#3f4147,#202022,#28292d,#565960,#303237)"></i><i style="top:119px;background:linear-gradient(90deg,#650c08,#5b0a07,#500806,#4b0705,#490605,#480605,#470605,#460605,#450605,#430605,#420605,#410605,#3f0505,#3e0505,#3e0505,#400605,#470605,#550906,#6c0e08,#8b1e0b,#aa4311,#c8731a,#dc9f1f,#ebc426,#f7e434,#fef63c,#fffa3e,#fef83d,#fcf33b,#f9eb37,#f4de31,#efcf29,#eac225,#e7bb24,#e6b823,#e4b323,#e1aa21,#db9a1e,#d1851c,#c46c19,#b24f13,#9f330e,#8c1e0b,#791309,#660c08,#570907,#490605,#380505,#270404,#170606,#141213,#1a191b,#27282c,#404248,#212124,#292b2f,#565960,#32343a)"></i><i style="top:120px;background:linear-gradient(90deg,#650c08,#5b0a07,#500806,#4b0705,#490605,#480605,#470605,#460605,#450605,#430605,#420605,#410605,#3f0505,#3e0505,#3e0505,#3f0505,#450605,#510806,#670d08,#85190a,#a53c10,#c46c19,#da9a1f,#e9c025,#f6e132,#fdf53c,#fffa3e,#fff93d,#fdf43b,#faec37,#f5e032,#efd12a,#eac325,#e7bc24,#e6b923,#e5b523,#e1ac21,#dc9d1f,#d3891c,#c6701a,#b55414,#a2370f,#8f210b,#7b1409,#690d08,#590907,#4b0705,#390505,#280404,#160606,#151314,#1b1a1d,#28292d,#404248,#222225,#2b2c30,#54575e,#34363b)"></i><i style="top:121px;background:linear-gradient(90deg,#650c08,#5b0a07,#500806,#4b0705,#490605,#480605,#470605,#460605,#440605,#430605,#420605,#400605,#3f0505,#3e0505,#3d0505,#3e0505,#420605,#4e0706,#620b08,#80150a,#a0350e,#c06518,#d8941e,#e7bc24,#f4de31,#fdf43b,#fffa3e,#fff93e,#fdf53c,#faed38,#f6e232,#f0d32b,#ebc525,#e8bc24,#e6b924,#e5b623,#e2ae22,#dda01f,#d48d1d,#c9741a,#b85815,#a53b0f,#92240c,#7e1509,#6b0e08,#5b0a07,#4c0705,#3b0505,#2a0404,#160606,#151315,#1c1b1e,#28292d,#3f4146,#232326,#2b2d31,#51545a,#34363b)"></i><i style="top:122px;background:linear-gradient(90deg,#650c08,#5b0a07,#500806,#4b0705,#490605,#480605,#470605,#460605,#440605,#430605,#420605,#400605,#3f0505,#3e0505,#3d0505,#3d0505,#410605,#4b0705,#5d0a07,#7a1309,#9b2e0d,#bc5d17,#d58e1d,#e6b723,#f3da2f,#fcf23a,#fffa3e,#fffa3e,#fdf63c,#fbef39,#f7e433,#f1d52c,#ebc626,#e8bd24,#e7b924,#e6b723,#e3b022,#dea320,#d6901d,#cb781b,#bb5d16,#a83f10,#94270c,#81160a,#6d0f08,#5d0a07,#4e0706,#3c0505,#2c0404,#160606,#151315,#1d1c1f,#28282c,#3e4046,#232427,#2c2e32,#4e5157,#34363b)"></i><i style="top:123px;background:linear-gradient(90deg,#650c08,#5b0a07,#500806,#4b0705,#490605,#480605,#470605,#460605,#440605,#430605,#420605,#400605,#3f0505,#3e0505,#3d0505,#3d0505,#3f0505,#480605,#590907,#741109,#95280c,#b75615,#d2871c,#e4b222,#f2d72d,#fbf13a,#fffa3e,#fffa3e,#fef73c,#fbf039,#f7e534,#f2d72d,#ecc826,#e8be24,#e7ba24,#e6b723,#e3b122,#dfa620,#d8941e,#cd7d1b,#be6117,#ab4411,#972a0d,#84170a,#701009,#5f0b07,#500806,#3e0505,#2d0404,#160606,#151315,#1e1d20,#27282c,#3d4045,#242528,#2e2f34,#4c4e54,#34363b)"></i><i style="top:124px;background:linear-gradient(90deg,#650c08,#5b0a07,#500806,#4b0705,#490605,#480605,#470605,#460605,#440605,#430605,#420605,#400605,#3f0505,#3d0505,#3c0505,#3c0505,#3e0505,#450605,#540806,#6e0f08,#90220c,#b24e13,#cf811c,#e2ad22,#f0d22b,#fbef39,#fff93e,#fffa3e,#fef73d,#fcf13a,#f8e735,#f3d92e,#edca27,#e9bf24,#e7ba24,#e6b823,#e4b322,#e0a821,#d9971e,#cf811c,#c16618,#ae4812,#9a2e0d,#86190a,#721109,#610b07,#510806,#400505,#2f0404,#170606,#151314,#1e1e21,#26272b,#3d3f45,#252629,#2f3135,#494c52,#33353a)"></i><i style="top:125px;background:linear-gradient(90deg,#650c08,#5b0a07,#500806,#4b0705,#490605,#480605,#470605,#460605,#440605,#430605,#420605,#400605,#3f0505,#3d0505,#3c0505,#3c0505,#3d0505,#420605,#500806,#690d08,#8a1e0b,#ac4612,#cb7a1b,#e0a821,#eece2a,#faed38,#fff93d,#fffa3e,#fef83d,#fcf23a,#f8e936,#f3db2f,#edcc28,#e9c025,#e7ba24,#e6b823,#e5b423,#e1aa21,#db9a1e,#d1851c,#c36a19,#b14d13,#9d310e,#891c0b,#751109,#630b08,#530806,#410605,#300504,#170606,#141314,#1f1f22,#252629,#3d4045,#26262a,#303237,#484a50,#33353a)"></i><i style="top:126px;background:linear-gradient(90deg,#650c08,#5b0a07,#500806,#4b0705,#490605,#480605,#470605,#450605,#440605,#430605,#420605,#400605,#3f0505,#3d0505,#3c0505,#3b0505,#3c0505,#400605,#4d0705,#630c08,#84190a,#a73e10,#c7731a,#dea320,#edca28,#f9ea36,#fef93d,#fffa3e,#fef93d,#fcf33b,#f9ea36,#f4dd30,#eece29,#e9c125,#e7ba24,#e6b923,#e5b523,#e2ad21,#dc9e1f,#d2891c,#c66f19,#b45114,#a0340e,#8c1e0b,#781209,#650c08,#550906,#430605,#320504,#180606,#141213,#201f22,#242428,#3e4046,#26272b,#313338,#47494f,#323439)"></i><i style="top:127px;background:linear-gradient(90deg,#650c08,#5b0a07,#500806,#4b0705,#490605,#480605,#470605,#450605,#440605,#430605,#420605,#400605,#3f0505,#3d0505,#3c0505,#3b0505,#3b0505,#3e0505,#490605,#5e0a07,#7e1509,#a1370f,#c36b19,#db9d1f,#ebc627,#f8e735,#fef83d,#fffa3e,#fff93e,#fdf43b,#faec37,#f5df31,#efd02a,#eac225,#e7bb24,#e6b923,#e5b723,#e3af22,#dda11f,#d48c1d,#c8731a,#b75615,#a3380f,#8f210b,#7b1309,#670d08,#570906,#450605,#340504,#190606,#131112,#202023,#232326,#3f4147,#27282b,#33353a,#46494f,#313338)"></i><i style="top:128px;background:linear-gradient(90deg,#650c08,#5b0a07,#500806,#4b0705,#490605,#480605,#460605,#450605,#440605,#430605,#420605,#400605,#3f0505,#3d0505,#3c0505,#3a0505,#3a0505,#3d0505,#460605,#590907,#781209,#9c2f0d,#bf6317,#d9971e,#e9c125,#f7e434,#fef73d,#fffa3e,#fff93e,#fdf53c,#faed38,#f6e132,#f0d22b,#eac325,#e7bb24,#e6b923,#e6b723,#e3b122,#dea420,#d6901d,#ca771b,#ba5b16,#a63c10,#92240c,#7d1509,#6a0d08,#590907,#470605,#350504,#190505,#121012,#202023,#212124,#404248,#27282c,#33363b,#46494f,#303237)"></i><i style="top:129px;background:linear-gradient(90deg,#650c08,#5b0a07,#500806,#4b0705,#490605,#470605,#460605,#450605,#440605,#430605,#420605,#400605,#3f0505,#3d0505,#3b0505,#3a0505,#3a0505,#3c0505,#430605,#540806,#711009,#96290c,#ba5b16,#d6901d,#e8bc24,#f6e132,#fef63c,#fff93e,#fffa3e,#fdf63c,#fbee38,#f6e333,#f1d42c,#ebc525,#e7bc24,#e6b923,#e6b823,#e4b222,#dfa620,#d8941e,#cc7c1b,#bd5f17,#a94111,#95280c,#80160a,#6c0e08,#5b0a07,#480605,#370504,#1b0505,#110f10,#202023,#202023,#414349,#27282b,#34363b,#474a50,#303136)"></i><i style="top:130px;background:linear-gradient(90deg,#650c08,#5b0a07,#500806,#4b0705,#490605,#470605,#460605,#450605,#440605,#430605,#420605,#400605,#3e0505,#3d0505,#3b0505,#3a0505,#390505,#3a0505,#410605,#500806,#6b0e08,#90230c,#b55314,#d3891c,#e6b723,#f4de30,#fdf53c,#fff93e,#fffa3e,#fef73c,#fbf039,#f7e534,#f1d62d,#ebc626,#e8bc24,#e6b923,#e6b923,#e4b423,#e0a921,#d9971e,#ce801b,#c06418,#ac4511,#982b0d,#83170a,#6f0f09,#5d0a07,#4a0705,#380505,#1c0505,#100e0f,#201f22,#1e1e21,#42444a,#27272b,#35373c,#484b51,#2f3136)"></i><i style="top:131px;background:linear-gradient(90deg,#650c08,#5b0a07,#500806,#4b0705,#490605,#470605,#460605,#450605,#440605,#430605,#420605,#400605,#3e0505,#3d0505,#3b0505,#3a0505,#390505,#3a0505,#3e0505,#4c0705,#650c08,#891d0b,#af4a12,#cf821c,#e4b222,#f3da2e,#fdf43b,#fff93e,#fffa3e,#fef73d,#fcf13a,#f8e635,#f2d82e,#ecc827,#e8bd24,#e6b923,#e6b923,#e5b523,#e1ab21,#db9b1f,#d0841c,#c26919,#af4a12,#9b2e0d,#86190a,#711009,#5f0b07,#4c0705,#3a0505,#1d0505,#0f0d0e,#1f1f21,#1d1d1f,#43464b,#26272b,#35373c,#494c52,#2f3135)"></i><i style="top:132px;background:linear-gradient(90deg,#650c08,#5b0a07,#500806,#4b0705,#490605,#470605,#460605,#450605,#440605,#430605,#410605,#400505,#3e0505,#3d0505,#3b0505,#3a0505,#390505,#390505,#3c0505,#480605,#600b07,#83180a,#a94211,#cc7b1b,#e2ad21,#f1d52c,#fcf23a,#fffa3e,#fffa3e,#fef83d,#fcf23a,#f8e835,#f3da2f,#edca27,#e8be24,#e6b923,#e6b923,#e5b623,#e2ae22,#dc9e1f,#d2881c,#c56d19,#b24f13,#9e320e,#891b0a,#741109,#610b07,#4e0706,#3b0505,#1f0505,#0e0c0d,#1e1e20,#1c1b1d,#44474c,#26262a,#35373c,#4b4e54,#2f3135)"></i><i style="top:133px;background:linear-gradient(90deg,#650c08,#5b0a07,#500806,#4b0705,#490605,#470605,#460605,#450605,#440605,#430605,#410605,#400505,#3e0505,#3d0505,#3b0505,#3a0505,#380505,#380505,#3b0505,#450605,#5a0a07,#7d1409,#a33a0f,#c7731a,#e0a720,#efd12b,#fbf039,#fffa3e,#fff93e,#fef93d,#fcf33b,#f9ea36,#f4dc30,#edcc28,#e9bf24,#e6b923,#e6b923,#e6b723,#e3b022,#dda11f,#d48c1d,#c7721a,#b55314,#a1350e,#8c1e0b,#771209,#630b08,#500806,#3d0505,#200505,#0d0b0b,#1d1c1f,#1a1a1c,#45474d,#252529,#34363b,#4d4f56,#2f3136)"></i><i style="top:134px;background:linear-gradient(90deg,#650c08,#5b0a07,#500806,#4a0605,#480605,#470605,#460605,#450605,#440605,#430605,#410605,#400505,#3e0505,#3d0505,#3b0505,#390505,#380505,#380504,#390505,#420605,#550906,#761209,#9d310e,#c36b18,#dda120,#eecc29,#faee38,#fff93e,#fef93e,#fff93e,#fdf43b,#f9eb37,#f4de31,#eece29,#e9c025,#e6b923,#e6b923,#e6b823,#e4b222,#dea420,#d6901d,#c9761a,#b85815,#a4390f,#8f210b,#7a1309,#650c08,#510806,#3e0505,#220505,#0c0a0a,#1c1b1d,#19181a,#45484e,#242428,#33353b,#4e5158,#2f3136)"></i><i style="top:135px;background:linear-gradient(90deg,#650c08,#5b0a07,#500806,#4a0605,#480605,#470605,#460605,#450605,#440605,#430605,#410605,#400505,#3e0505,#3d0505,#3b0505,#390505,#380504,#370504,#380505,#3f0505,#500806,#6f0f09,#972a0d,#be6217,#da9a1f,#ecc827,#f9eb37,#fef93d,#fef93e,#fff93e,#fdf53c,#faec38,#f5e032,#efd02a,#eac125,#e6b924,#e6b923,#e6b923,#e4b323,#e0a720,#d8931e,#cb7a1b,#bb5d16,#a73d10,#92240c,#7d1409,#680d08,#530806,#400505,#240404,#0c0909,#1b1a1c,#181719,#45484e,#232327,#32343a,#505359,#303237)"></i><i style="top:136px;background:linear-gradient(90deg,#650c08,#5b0a07,#500806,#4a0605,#480605,#470605,#460605,#450605,#440605,#430605,#410605,#400505,#3e0505,#3d0505,#3b0505,#390505,#380504,#370504,#370504,#3c0505,#4c0705,#690d08,#90240c,#b95916,#d7931e,#eac226,#f8e835,#fef83d,#fef93e,#fff93e,#fdf63c,#faee38,#f6e232,#f0d22b,#eac325,#e7ba24,#e6b823,#e7b924,#e5b523,#e1a921,#d9971e,#ce7e1b,#be6117,#aa4211,#95280c,#80150a,#6a0e08,#550906,#410605,#260404,#0d0809,#19181a,#171618,#45474d,#222226,#313338,#51545b,#313338)"></i><i style="top:137px;background:linear-gradient(90deg,#650c08,#5b0a07,#500806,#4a0605,#480605,#470605,#460605,#450605,#440605,#430605,#410605,#400505,#3e0505,#3d0505,#3b0505,#390505,#380504,#360504,#360504,#3a0505,#480605,#620c08,#8a1e0b,#b35014,#d48c1d,#e8bd24,#f7e534,#fef83d,#fef93d,#fffa3e,#fef73c,#fbef39,#f7e433,#f1d42c,#ebc425,#e7ba24,#e6b823,#e7ba24,#e5b623,#e1ac21,#db9a1e,#d0831c,#c16618,#ad4612,#982b0d,#83160a,#6d0f08,#580907,#430605,#280404,#0f0808,#181618,#171517,#44464c,#212125,#303237,#52555c,#32343a)"></i><i style="top:138px;background:linear-gradient(90deg,#650c08,#5b0a07,#500806,#4a0605,#480605,#470605,#460605,#450605,#440605,#430605,#410605,#400505,#3e0505,#3d0505,#3b0505,#390505,#370504,#360504,#360504,#390505,#450605,#5d0a07,#84190a,#ae4812,#d1851c,#e6b823,#f6e232,#fef73d,#fef93d,#fffa3e,#fef73d,#fbf039,#f7e534,#f1d62d,#ebc626,#e7bb24,#e6b723,#e7b924,#e6b723,#e2ae22,#dc9e1f,#d2871c,#c36b19,#b04b13,#9b2e0d,#85180a,#701009,#5a0a07,#440605,#2a0404,#100808,#171516,#161516,#43454b,#212124,#2f3136,#53565c,#34363b)"></i><i style="top:139px;background:linear-gradient(90deg,#650c08,#5b0a07,#500806,#4a0605,#480605,#470605,#460605,#450605,#440605,#430605,#410605,#400505,#3e0505,#3d0505,#3b0505,#390505,#370504,#360504,#360504,#380504,#420605,#590907,#7f150a,#a94211,#ce7f1b,#e5b423,#f4de31,#fef73c,#fef93d,#fef93e,#fef83d,#fcf13a,#f8e735,#f2d82e,#ecc726,#e7bb24,#e6b723,#e6b924,#e6b823,#e3b022,#dda11f,#d38a1d,#c66f19,#b35014,#9e320e,#881b0a,#721009,#5c0a07,#460605,#2b0504,#100808,#151314,#161416,#414449,#202023,#2f3135,#53565d,#35383d)"></i><i style="top:140px;background:linear-gradient(90deg,#650c08,#5b0a07,#500806,#4a0605,#480605,#470605,#460605,#450605,#440605,#430605,#410605,#400505,#3e0505,#3d0505,#3b0505,#390505,#370504,#360504,#350504,#370504,#400505,#560906,#7a1309,#a43b10,#cb791b,#e3af22,#f3db2f,#fdf53c,#fef93d,#fef93e,#fef93d,#fcf23a,#f8e835,#f3da2f,#ecc927,#e7bc24,#e5b623,#e6b823,#e6b923,#e4b222,#dea420,#d58e1d,#c8731a,#b65415,#a0350e,#8b1d0b,#751109,#5e0a07,#470605,#2d0504,#110808,#141113,#161416,#3f4147,#202022,#2e3035,#53565c,#37393f)"></i><i style="top:141px;background:linear-gradient(90deg,#650c08,#5b0a07,#500806,#4a0605,#480605,#470605,#460605,#450605,#440605,#430605,#410605,#400505,#3e0505,#3c0505,#3b0505,#390505,#370504,#360504,#350504,#360504,#3e0505,#520806,#751109,#a0350e,#c7731a,#e1ab21,#f2d72d,#fdf43b,#fef93d,#fef93d,#fff93e,#fcf33b,#f9ea36,#f4dc30,#edcb28,#e8bd24,#e5b623,#e6b823,#e6b924,#e4b423,#dfa620,#d7921d,#ca771b,#b95916,#a3380f,#8e200b,#781209,#600b07,#490605,#2f0504,#110707,#131011,#151416,#3d3f45,#1f1f22,#2e2f34,#52555b,#393b40)"></i><i style="top:142px;background:linear-gradient(90deg,#650c08,#5b0a07,#500806,#4a0605,#480605,#470605,#460605,#450605,#440605,#430605,#410605,#400505,#3e0505,#3c0505,#3b0505,#390505,#370504,#360504,#350504,#360504,#3c0505,#4f0706,#701009,#9b2f0d,#c46c19,#dfa620,#f0d32b,#fcf23a,#fef93d,#fef93d,#fff93e,#fdf43b,#f9eb37,#f4de30,#eecc28,#e8be24,#e5b623,#e6b723,#e7b924,#e5b523,#e0a921,#d9951e,#cc7b1b,#bb5d16,#a63d10,#91230c,#7a1309,#620b08,#4b0705,#310504,#120707,#120f10,#151415,#3a3c42,#1f1f22,#2e2f34,#51545a,#3a3c42)"></i><i style="top:143px;background:linear-gradient(90deg,#650c08,#5b0a07,#500806,#4a0605,#480605,#470605,#460605,#450605,#440605,#430605,#410605,#400505,#3e0505,#3c0505,#3b0505,#390505,#370504,#360504,#340504,#350504,#3a0505,#4b0705,#6b0e08,#96290d,#c06518,#dda120,#efcf2a,#fbf039,#fef93d,#fef93d,#fff93e,#fdf53c,#faec37,#f5df31,#eece29,#e9bf24,#e5b523,#e5b623,#e6b924,#e5b623,#e1ab21,#da991e,#ce801b,#be6217,#a94111,#94260c,#7d1409,#650c08,#4d0706,#330504,#120707,#110e0e,#151415,#373a3f,#201f22,#2e2f34,#505259,#3b3d43)"></i><i style="top:144px;background:linear-gradient(90deg,#650c08,#5b0a07,#500806,#4a0605,#480605,#470605,#460605,#450605,#440605,#430605,#410605,#400505,#3e0505,#3c0505,#3b0505,#390505,#370504,#350504,#340504,#340504,#390505,#480605,#670d08,#91250c,#bc5f17,#db9b1f,#edcb29,#fbee38,#fef93e,#fef93d,#fffa3e,#fdf63c,#faee38,#f5e132,#efd02a,#e9c025,#e5b523,#e5b523,#e6b924,#e6b723,#e2ad22,#db9c1f,#d0831c,#c16618,#ac4511,#96290d,#80160a,#670d08,#4f0806,#350504,#120606,#100d0d,#151315,#34373c,#202023,#2e3035,#4e5157,#3c3e44)"></i><i style="top:145px;background:linear-gradient(90deg,#650c08,#5b0a07,#4f0706,#4a0605,#480605,#470605,#460605,#450605,#440605,#430605,#410605,#400505,#3e0505,#3c0505,#3b0505,#390505,#370504,#350504,#340504,#340504,#380504,#450605,#620b08,#8c200b,#b85815,#d8961e,#ecc727,#faec37,#fef93e,#fef93d,#fffa3e,#fef73c,#fbef39,#f6e333,#f0d22b,#e9c125,#e5b623,#e4b423,#e6b823,#e6b823,#e3b022,#dd9f1f,#d2871c,#c36a19,#af4a12,#992d0d,#83170a,#6a0e08,#510806,#360504,#130606,#0f0c0c,#151315,#323439,#212023,#2f3136,#4c4f55,#3d3f45)"></i><i style="top:146px;background:linear-gradient(90deg,#650c08,#5b0a07,#4f0706,#4a0605,#480605,#470605,#460605,#450605,#440605,#420605,#410605,#400505,#3e0505,#3c0505,#3b0505,#390505,#370504,#350504,#340504,#340504,#370504,#430605,#5e0a07,#871c0b,#b35114,#d6901d,#eac326,#f9ea36,#fef93d,#fef93d,#fef93e,#fef73d,#fbf039,#f7e434,#f1d42c,#eac225,#e5b623,#e4b322,#e6b823,#e6b923,#e4b122,#dea220,#d48b1d,#c66f19,#b24e13,#9c300e,#86190a,#6d0f08,#530806,#380505,#140606,#0e0b0c,#141314,#2f3136,#212124,#303237,#4a4d53,#3d3f45)"></i><i style="top:147px;background:linear-gradient(90deg,#650c08,#5b0a07,#4f0706,#4a0605,#480605,#470605,#460605,#450605,#440605,#420605,#410605,#400505,#3e0505,#3c0505,#3b0505,#390505,#370504,#350504,#340504,#330504,#360504,#400605,#5a0a07,#82180a,#af4a12,#d38a1d,#e8be24,#f8e735,#fef83d,#fef93d,#fef93d,#fef83d,#fcf13a,#f7e634,#f1d62d,#eac425,#e5b623,#e4b222,#e6b723,#e6b924,#e4b323,#dfa520,#d68f1d,#c8731a,#b55314,#9f330e,#891b0a,#701009,#560906,#3a0505,#160606,#0e0a0b,#141214,#2d2e33,#222225,#313338,#484b51,#3d3f45)"></i><i style="top:148px;background:linear-gradient(90deg,#650c08,#5b0a07,#4f0706,#4a0605,#480605,#470605,#460605,#450605,#440605,#420605,#410605,#400505,#3e0505,#3c0505,#3b0505,#390505,#370504,#350504,#340504,#330504,#350504,#3e0505,#560906,#7d1509,#aa4311,#d0841c,#e7ba24,#f7e433,#fef83d,#fef93d,#fef93d,#fef93d,#fcf23a,#f8e735,#f2d82d,#ebc526,#e6b723,#e3b122,#e5b623,#e7b924,#e5b523,#e0a721,#d7921d,#ca771a,#b85715,#a2360e,#8b1e0b,#721009,#580907,#3c0505,#170606,#0d0a0a,#141213,#2b2c30,#232326,#33353a,#474a50,#3c3f44)"></i><i style="top:149px;background:linear-gradient(90deg,#650c08,#5b0a07,#4f0706,#4a0605,#480605,#470605,#460605,#450605,#440605,#430605,#410605,#400505,#3e0505,#3d0505,#3b0505,#390505,#370504,#350504,#340504,#330504,#340504,#3c0505,#530806,#781309,#a53d10,#cd7e1b,#e5b523,#f5e132,#fef73d,#fef83d,#fef93d,#fff93e,#fcf33b,#f8e835,#f2d92e,#ebc726,#e6b823,#e3b022,#e5b423,#e7b924,#e5b623,#e1aa21,#d9961e,#cc7b1b,#ba5b16,#a43a0f,#8e200b,#741109,#5a0a07,#3d0505,#180606,#0d0a0a,#131112,#292a2e,#242428,#35373c,#46484e,#3b3e43)"></i><i style="top:150px;background:linear-gradient(90deg,#650c08,#5b0a07,#4f0706,#4a0605,#480605,#470605,#460605,#450605,#440605,#430605,#410605,#400505,#3e0505,#3d0505,#3b0505,#390505,#370504,#360504,#340504,#330504,#340504,#3b0505,#4f0806,#741109,#a1360f,#ca771a,#e3b022,#f4dd30,#fef73c,#fef83d,#fef93d,#fff93e,#fdf43b,#f9e936,#f3db2f,#ecc827,#e6b823,#e3af22,#e4b323,#e6b924,#e6b723,#e2ac21,#da991e,#cd7e1b,#bd5f17,#a73d10,#90220b,#771209,#5c0a07,#3f0505,#190505,#0d0a0a,#121112,#28292d,#252529,#37393e,#45484e,#3a3c42)"></i><i style="top:151px;background:linear-gradient(90deg,#650c08,#5b0a07,#4f0706,#4a0605,#480605,#470605,#460605,#450605,#440605,#430605,#410605,#400505,#3e0505,#3d0505,#3b0505,#390505,#380504,#360504,#340504,#330504,#330504,#3a0505,#4c0706,#6f1008,#9c300e,#c67019,#e1ab21,#f2d92e,#fdf63c,#fef83d,#fef93d,#fff93e,#fdf43b,#f9ea37,#f4dc30,#edca27,#e6b924,#e3af22,#e4b222,#e6b923,#e6b823,#e2ae22,#db9c1f,#cf821c,#bf6318,#a94111,#92250c,#791309,#5e0a07,#400605,#1b0505,#0d0a0a,#121011,#27282b,#26262a,#383b40,#45484e,#393b40)"></i><i style="top:152px;background:linear-gradient(90deg,#650c08,#5b0a07,#4f0706,#4a0605,#480605,#470605,#460605,#450605,#440605,#430605,#410605,#400605,#3f0505,#3d0505,#3b0505,#3a0505,#380504,#360504,#340504,#330504,#330504,#380505,#490705,#6b0e08,#972b0d,#c26a18,#dfa620,#f1d52c,#fdf43b,#fef83d,#fef83d,#fff93e,#fdf53c,#faec37,#f4dd30,#edcb28,#e7ba24,#e2af22,#e3b022,#e6b823,#e6b923,#e3b022,#dc9f1f,#d1861c,#c16718,#ab4411,#94270c,#7b1409,#5f0b07,#420605,#1d0505,#0d090a,#110f10,#26272b,#26272b,#3a3c42,#46484e,#37393e)"></i><i style="top:153px;background:linear-gradient(90deg,#650c08,#5b0a07,#4f0706,#4a0605,#480605,#470605,#460605,#450605,#440605,#430605,#410605,#400605,#3f0505,#3d0505,#3c0505,#3a0505,#380505,#360504,#340504,#330504,#330504,#370504,#470605,#660d08,#93260c,#be6317,#dda020,#efd12b,#fcf23a,#fef93d,#fef83d,#fff93e,#fdf63c,#faed38,#f5df31,#eecd28,#e7bb24,#e2ae22,#e2ae22,#e6b723,#e7ba24,#e4b222,#dea220,#d3891c,#c36b19,#ae4812,#972a0d,#7d1509,#610b08,#430605,#1f0505,#0d0909,#100e0f,#26272a,#27272b,#3c3e43,#46494f,#35373c)"></i><i style="top:154px;background:linear-gradient(90deg,#650c08,#5b0a07,#4f0706,#4a0605,#480605,#470605,#460605,#450605,#440605,#430605,#420605,#400605,#3f0505,#3d0505,#3c0505,#3a0505,#380505,#370504,#350504,#330504,#330504,#360504,#440605,#620c08,#8e220b,#ba5c16,#da9b1f,#eecd29,#fbf039,#fef93d,#fef83d,#fef93e,#fef73c,#faee38,#f5e032,#eece29,#e8bc24,#e2ae22,#e2ad21,#e5b623,#e7ba24,#e4b423,#dfa420,#d48d1d,#c56e19,#b04c13,#992d0d,#80150a,#630b08,#450605,#210505,#0c0909,#0f0d0d,#26272a,#27282c,#3d3f45,#484b51,#33353a)"></i><i style="top:155px;background:linear-gradient(90deg,#650c08,#5b0a07,#4f0706,#4a0605,#480605,#470605,#460605,#450605,#440605,#430605,#420605,#400605,#3f0505,#3e0505,#3c0505,#3a0505,#390505,#370504,#350504,#330504,#330504,#360504,#420605,#5e0a07,#891e0b,#b65515,#d8951e,#ecc828,#faee38,#fef93d,#fef83d,#fef93d,#fef73d,#fbef39,#f6e232,#efd02a,#e8be24,#e3af22,#e1ab21,#e5b423,#e7ba24,#e5b623,#e0a721,#d6901d,#c7721a,#b35014,#9c2f0d,#82160a,#650c08,#470605,#230505,#0c0808,#0e0c0c,#26272b,#27282c,#3e4046,#4a4d53,#313338)"></i><i style="top:156px;background:linear-gradient(90deg,#650c08,#5b0a07,#4f0706,#4a0605,#480605,#470605,#460605,#450605,#440605,#430605,#420605,#400605,#3f0505,#3e0505,#3c0505,#3b0505,#390505,#370504,#350504,#340504,#330504,#350504,#400605,#5a0a07,#841a0a,#b24e13,#d58f1d,#eac426,#f9eb37,#fef93d,#fdf83d,#fef93d,#fef83d,#fbf039,#f6e333,#f0d12a,#e9bf24,#e3af22,#e1aa21,#e4b322,#e7ba24,#e6b723,#e1aa21,#d8931e,#c9761a,#b55414,#9e320e,#85180a,#670d08,#490605,#250404,#0b0707,#0d0b0b,#27272b,#27282b,#3e4146,#4d4f56,#2f3136)"></i><i style="top:157px;background:linear-gradient(90deg,#650c08,#5b0a07,#4f0706,#4a0605,#480605,#470605,#460605,#450605,#440605,#430605,#420605,#410605,#3f0505,#3e0505,#3d0505,#3b0505,#390505,#370504,#360504,#340504,#330504,#340504,#3e0505,#570906,#80170a,#ad4812,#d3891c,#e9bf25,#f8e836,#fef93d,#fdf83d,#fef93d,#fef83d,#fbf139,#f7e434,#f0d32b,#e9c025,#e3b022,#e0a921,#e3b122,#e7ba24,#e6b823,#e2ac21,#d9971e,#cb7a1b,#b85815,#a0350e,#871a0a,#690d08,#4b0705,#280404,#0c0707,#0c0a0a,#27282c,#26272b,#3e4146,#505259,#2e3034)"></i><i style="top:158px;background:linear-gradient(90deg,#650c08,#5b0a07,#4f0706,#4a0605,#480605,#470605,#460605,#450605,#440605,#430605,#420605,#410605,#400505,#3e0505,#3d0505,#3b0505,#3a0505,#380504,#360504,#340504,#330504,#340504,#3c0505,#540806,#7b1409,#a94111,#d0831c,#e7ba24,#f7e534,#fef83d,#fdf83d,#fef93d,#fff93d,#fcf13a,#f7e534,#f1d42c,#e9c125,#e3b022,#e0a821,#e3af22,#e6b923,#e6b924,#e2af22,#db9a1e,#cd7e1b,#bb5c16,#a3380f,#891c0b,#6b0e08,#4d0706,#2a0404,#0e0707,#0e0a0a,#28292d,#26262a,#3e4046,#53555c,#2d2e33)"></i><i style="top:159px;background:linear-gradient(90deg,#660c08,#5c0a07,#500806,#4a0605,#480605,#470605,#460605,#450605,#440605,#430605,#420605,#410605,#400505,#3f0505,#3d0505,#3c0505,#3a0505,#380505,#360504,#340504,#330504,#340504,#3b0505,#500806,#761209,#a43b10,#cd7d1b,#e5b623,#f6e233,#fef83d,#fdf83d,#fef83d,#fff93d,#fcf23a,#f8e735,#f1d62d,#eac325,#e3b122,#e0a720,#e2ad22,#e6b823,#e7ba24,#e3b122,#dc9d1f,#cf821c,#bd6017,#a53b0f,#8b1e0b,#6e0f08,#4f0706,#2d0404,#100606,#0f090a,#292a2e,#252529,#3d3f45,#565960,#2c2d31)"></i><i style="top:160px;background:linear-gradient(90deg,#660c08,#5c0a07,#500806,#4a0605,#480605,#470605,#460605,#450605,#440605,#430605,#420605,#410605,#400505,#3f0505,#3e0505,#3c0505,#3b0505,#390505,#370504,#350504,#330504,#330504,#390505,#4d0706,#721009,#a0350f,#c9771a,#e3b122,#f5df31,#fef73d,#fdf83d,#fef83d,#fef93e,#fcf33b,#f8e835,#f2d82d,#eac425,#e4b222,#dfa620,#e1ab21,#e6b723,#e7bb24,#e4b322,#dda01f,#d1851c,#c06418,#a83f10,#8e210b,#701009,#510806,#2f0504,#120606,#10090a,#292a2e,#242428,#3c3e44,#595c63,#2b2c30)"></i><i style="top:161px;background:linear-gradient(90deg,#670c08,#5c0a07,#500806,#4a0605,#480605,#470605,#460605,#450605,#440605,#430605,#420605,#410605,#400605,#3f0505,#3e0505,#3d0505,#3b0505,#390505,#370504,#350504,#330504,#330504,#380505,#4a0705,#6d0f08,#9b2f0d,#c67019,#e2ac21,#f3db2f,#fdf63c,#fdf83d,#fdf83d,#fef93e,#fdf43b,#f9e936,#f2d92e,#ebc526,#e4b323,#dfa620,#e0a921,#e5b523,#e7bb24,#e5b523,#dea320,#d3891c,#c26819,#aa4311,#90230c,#721009,#530806,#310504,#140606,#11090a,#2a2b2f,#232326,#3a3d42,#5c5f66,#2a2c30)"></i><i style="top:162px;background:linear-gradient(90deg,#670d08,#5d0a07,#510806,#4a0605,#480605,#470605,#460605,#450605,#440605,#430605,#420605,#410605,#400605,#3f0505,#3e0505,#3d0505,#3c0505,#3a0505,#380504,#350504,#340504,#330504,#370504,#480605,#690e08,#962a0d,#c26a18,#e0a720,#f2d72d,#fdf63c,#fdf83d,#fdf83d,#fef93e,#fdf53b,#f9ea36,#f3db2f,#ecc726,#e5b423,#dfa620,#e0a720,#e4b423,#e7bb24,#e5b623,#dfa620,#d48d1d,#c46c19,#ad4612,#93260c,#741109,#550906,#340504,#170606,#110909,#2a2b2f,#212124,#393b40,#5e6168,#2a2b30)"></i><i style="top:163px;background:linear-gradient(90deg,#680d08,#5e0a07,#520806,#4b0705,#480605,#470605,#460605,#450605,#440605,#430605,#420605,#410605,#400605,#400505,#3f0505,#3e0505,#3c0505,#3a0505,#380505,#360504,#340504,#330504,#360504,#450605,#650c08,#92250c,#be6317,#dda220,#f0d32b,#fdf43b,#fdf83d,#fdf83d,#fef93e,#fdf63c,#f9eb37,#f4dc30,#ecc827,#e5b623,#dfa620,#dfa520,#e4b222,#e7bb24,#e6b823,#e0a921,#d6901d,#c6701a,#af4a12,#95280c,#761209,#570907,#360505,#190505,#110909,#2a2b2f,#202023,#37393e,#5f6269,#2a2b30)"></i><i style="top:164px;background:linear-gradient(90deg,#690d08,#5f0b07,#520806,#4b0705,#480605,#470605,#460605,#450605,#440605,#430605,#420605,#410605,#410605,#400505,#3f0505,#3e0505,#3d0505,#3b0505,#390505,#360504,#340504,#330504,#360504,#430605,#610b07,#8d210b,#bb5c16,#db9c1f,#efcf2a,#fcf23a,#fdf83d,#fdf83d,#fef93d,#fef63c,#faec37,#f4dd30,#edca27,#e6b723,#dfa620,#dea320,#e3b022,#e7bb24,#e6b924,#e1ac21,#d8941e,#c8741a,#b24e13,#982b0d,#781309,#590907,#380505,#1c0505,#110909,#2a2b2f,#1f1e21,#35373c,#60636a,#2b2c30)"></i><i style="top:165px;background:linear-gradient(90deg,#6b0e08,#600b07,#540806,#4c0705,#490605,#470605,#460605,#450605,#440605,#430605,#420605,#410605,#410605,#400605,#3f0505,#3f0505,#3d0505,#3b0505,#390505,#370504,#350504,#330504,#350504,#410605,#5d0a07,#891e0b,#b75615,#d9971e,#edcb29,#fbf039,#fdf83d,#fdf83d,#fef93d,#fef73d,#faed38,#f5df31,#edcb28,#e6b823,#dfa620,#dda120,#e2ae22,#e7ba24,#e7ba24,#e2ae22,#d9971e,#ca781b,#b55214,#9a2e0d,#7b1409,#5b0a07,#3a0505,#1e0505,#110909,#292a2e,#1d1d1f,#32343a,#61646b,#2b2c31)"></i><i style="top:166px;background:linear-gradient(90deg,#6c0e08,#610b08,#550906,#4d0706,#490605,#470605,#460605,#450605,#440605,#430605,#420605,#420605,#410605,#400605,#400505,#3f0505,#3e0505,#3c0505,#3a0505,#370504,#350504,#330504,#350504,#3f0505,#590907,#841a0a,#b24f13,#d6911e,#ebc627,#faee38,#fef83d,#fdf83d,#fef93d,#fef83d,#fbee38,#f5e032,#eecd29,#e7ba24,#e0a721,#dda01f,#e1ac21,#e6b923,#e7bb24,#e3b022,#db9a1f,#cc7c1b,#b75615,#9d310e,#7d1409,#5e0a07,#3b0505,#200505,#100909,#292a2e,#1c1b1e,#303237,#62656c,#2c2d32)"></i><i style="top:167px;background:linear-gradient(90deg,#6e0f09,#630b08,#570906,#4f0706,#4a0605,#470605,#460605,#450605,#440605,#430605,#420605,#420605,#410605,#410605,#400605,#400505,#3f0505,#3d0505,#3b0505,#380505,#360504,#340504,#340504,#3d0505,#560906,#7f170a,#ae4912,#d48c1d,#eac226,#f9eb37,#fef93d,#fdf83d,#fef83d,#fef83d,#fbef39,#f6e232,#eece29,#e7bb24,#e0a821,#dc9e1f,#e0a921,#e6b823,#e7bc24,#e4b322,#dc9e1f,#ce7f1b,#ba5a16,#9f330e,#80150a,#600b07,#3d0505,#220505,#100909,#28292c,#1b1a1c,#2f3135,#62656c,#2d2e33)"></i><i style="top:168px;background:linear-gradient(90deg,#711009,#650c08,#590907,#500806,#4b0705,#480605,#460605,#450605,#440605,#430605,#420605,#420605,#410605,#410605,#410605,#400605,#3f0505,#3e0505,#3b0505,#390505,#360504,#340504,#340504,#3c0505,#530806,#7b1409,#aa4311,#d1861c,#e8bd24,#f8e936,#fef93d,#fdf83d,#fef83d,#fef93d,#fbf039,#f6e333,#efd02a,#e8bc24,#e0a921,#dc9d1f,#dfa720,#e5b623,#e8bc24,#e5b523,#dda120,#d0831c,#bc5f17,#a2360e,#82160a,#620b08,#3e0505,#240404,#0f0909,#27272b,#1a191b,#2d2f33,#61646b,#2e2f34)"></i><i style="top:169px;background:linear-gradient(90deg,#731109,#680d08,#5b0a07,#520806,#4c0705,#480605,#460605,#450605,#440605,#430605,#420605,#420605,#410605,#410605,#410605,#410605,#400505,#3e0505,#3c0505,#3a0505,#370504,#340504,#340504,#3a0505,#500806,#761209,#a53d10,#ce801b,#e6b923,#f7e634,#fef93d,#fdf73d,#fdf83d,#fef93d,#fcf13a,#f7e434,#f0d22b,#e8be24,#e1aa21,#dc9d1f,#dfa420,#e5b523,#e8bc24,#e5b623,#dea420,#d2871c,#bf6318,#a43a0f,#85180a,#640c08,#3f0505,#260404,#0e0909,#25262a,#19181a,#2c2d32,#60636a,#2e3035)"></i><i style="top:170px;background:linear-gradient(90deg,#761209,#6a0e08,#5e0a07,#540806,#4e0706,#490605,#460605,#450605,#440605,#430605,#420605,#420605,#420605,#420605,#420605,#410605,#410605,#3f0505,#3d0505,#3a0505,#370504,#350504,#340504,#390505,#4d0706,#721009,#a1370f,#cb7a1b,#e5b423,#f6e233,#fef83d,#fdf73c,#fdf83d,#fef93d,#fcf23a,#f7e534,#f0d32b,#e9bf25,#e1ab21,#dc9c1f,#dea120,#e4b322,#e8bc24,#e6b823,#e0a720,#d48b1d,#c16718,#a73e10,#871a0a,#660c08,#410605,#270404,#0d0809,#242428,#191719,#2b2c30,#5f6269,#2f3136)"></i><i style="top:171px;background:linear-gradient(90deg,#7a1309,#6e0f08,#610b07,#570906,#500806,#4a0605,#470605,#450605,#440605,#430605,#420605,#420605,#420605,#420605,#420605,#420605,#420605,#400605,#3e0505,#3b0505,#380505,#350504,#340504,#380505,#4a0705,#6e0f08,#9c310e,#c8741a,#e3b022,#f5df31,#fef73d,#fdf73c,#fdf83d,#fef93d,#fcf33b,#f8e735,#f1d52c,#e9c125,#e2ad21,#dc9c1f,#dd9f1f,#e3b122,#e8bc24,#e7ba24,#e1aa21,#d58f1d,#c36b19,#aa4211,#8a1d0b,#680d08,#420605,#280404,#0d0809,#232326,#181719,#2a2b2f,#5e6168,#303237)"></i><i style="top:172px;background:linear-gradient(90deg,#7d1409,#711009,#640c08,#5a0a07,#520806,#4c0705,#480605,#450605,#440605,#430605,#420605,#420605,#420605,#420605,#430605,#430605,#420605,#410605,#3f0505,#3c0505,#390505,#360504,#340504,#370504,#480605,#690e08,#982b0d,#c46d19,#e1ab21,#f3db2f,#fdf73c,#fdf73c,#fdf83d,#fef93e,#fdf43b,#f8e835,#f1d62d,#eac225,#e2ae22,#dc9c1f,#dc9d1f,#e2ae22,#e7bc24,#e7bb24,#e2ad21,#d7921d,#c66f19,#ac4612,#8d1f0b,#6a0e08,#430605,#290404,#0d0809,#212225,#181719,#292a2f,#5c5f66,#303237)"></i><i style="top:173px;background:linear-gradient(90deg,#81160a,#751209,#680d08,#5d0a07,#540806,#4e0706,#490605,#460605,#440605,#430605,#420605,#420605,#420605,#420605,#430605,#430605,#430605,#420605,#400605,#3d0505,#3a0505,#360504,#340504,#370504,#450605,#650d08,#94260c,#c16718,#dfa620,#f2d72d,#fdf63c,#fdf73c,#fdf83d,#fef93e,#fdf53b,#f8e936,#f2d82e,#eac325,#e3b022,#dc9d1f,#db9a1e,#e1ac21,#e7bb24,#e8bc24,#e3af22,#d9961e,#c8731a,#af4a12,#8f220b,#6c0e08,#440605,#290404,#0c0808,#202023,#181718,#292a2e,#5a5d64,#303237)"></i><i style="top:174px;background:linear-gradient(90deg,#85170a,#791309,#6c0e08,#610b07,#570907,#500806,#4a0605,#460605,#440605,#430605,#420605,#420605,#420605,#430605,#430605,#440605,#440605,#430605,#410605,#3e0505,#3b0505,#370504,#350504,#360504,#430605,#620b07,#8f230c,#bd6117,#dda120,#f0d32c,#fdf53c,#fdf73c,#fdf73d,#fef93d,#fdf53c,#f9ea36,#f3d92e,#ebc525,#e3b122,#dc9d1f,#da981e,#e0a921,#e7ba24,#e8bd24,#e4b222,#da991e,#ca771a,#b24e13,#92250c,#6e0f08,#460605,#2a0404,#0d0808,#1f1f22,#181718,#292a2e,#585a61,#303237)"></i><i style="top:175px;background:linear-gradient(90deg,#891a0a,#7e1509,#711009,#650c08,#5b0a07,#520806,#4c0705,#470605,#440605,#430605,#420605,#420605,#420605,#430605,#440605,#450605,#450605,#440605,#420605,#3f0505,#3c0505,#380504,#350504,#360504,#410605,#5e0a07,#8b1f0b,#b95a16,#db9c1f,#efd02a,#fdf43b,#fdf73d,#fdf73c,#fef93d,#fef63c,#f9eb37,#f3db2f,#ebc626,#e4b322,#dc9e1f,#d9961e,#dfa720,#e6b823,#e8bd24,#e4b423,#dc9d1f,#cc7b1b,#b45214,#95270c,#701009,#470605,#2a0404,#0d0808,#1e1e21,#181719,#292b2f,#55585e,#303237)"></i><i style="top:176px;background:linear-gradient(90deg,#8d1f0b,#82160a,#751209,#690d08,#5e0a07,#550906,#4e0706,#490605,#450605,#430605,#420605,#420605,#420605,#430605,#440605,#450605,#460605,#450605,#430605,#400605,#3d0505,#390505,#350504,#360504,#3f0505,#5a0a07,#861c0b,#b55414,#d9971e,#edcc29,#fcf23a,#fdf83d,#fdf73c,#fef93d,#fef73c,#faec37,#f4dc30,#ecc827,#e5b423,#dda01f,#d9951e,#dea420,#e6b723,#e8be24,#e5b623,#dda01f,#ce7f1b,#b75615,#972b0d,#721109,#490605,#2a0404,#0e0808,#1e1d20,#181719,#2a2b2f,#52555c,#303237)"></i><i style="top:177px;background:linear-gradient(90deg,#91230c,#87180a,#7a1309,#6d0f08,#620b08,#580907,#500806,#4a0605,#460605,#430605,#420605,#420605,#420605,#430605,#450605,#460605,#470605,#460605,#450605,#420605,#3e0505,#3a0505,#360504,#350504,#3e0505,#570907,#82190a,#b14d13,#d6911e,#ecc828,#fbf039,#fdf83d,#fdf73c,#fef83d,#fef73d,#faed38,#f4de30,#edca27,#e5b623,#dda11f,#d8941e,#dda11f,#e5b523,#e8be24,#e6b823,#dea320,#d0831c,#ba5a16,#9a2e0d,#751109,#4a0705,#2a0404,#0f0808,#1d1d20,#181719,#2a2c30,#50535a,#2f3136)"></i><i style="top:178px;background:linear-gradient(90deg,#95280c,#8b1c0b,#7f150a,#721009,#660c08,#5c0a07,#530806,#4c0705,#470605,#440605,#420605,#420605,#430605,#440605,#450605,#470605,#480605,#470605,#460605,#430605,#3f0505,#3b0505,#370504,#350504,#3c0505,#540806,#7e150a,#ad4712,#d48c1d,#eac426,#faed38,#fdf83d,#fdf73c,#fdf83d,#fef83d,#faee38,#f5df31,#edcb28,#e6b723,#dea220,#d8931d,#dc9e1f,#e4b322,#e8be24,#e7ba24,#dfa620,#d2871c,#bc5f17,#9d310e,#771209,#4c0706,#2b0404,#100808,#1d1d1f,#181719,#2b2c30,#4f5158,#2e3035)"></i><i style="top:179px;background:linear-gradient(90deg,#992d0d,#8f210b,#84170a,#771209,#6b0e08,#5f0b07,#560906,#4e0706,#480605,#440605,#420605,#420605,#430605,#440605,#450605,#470605,#480605,#490605,#470605,#440605,#400605,#3c0505,#370504,#350504,#3b0505,#510806,#791309,#a94211,#d1861c,#e9bf25,#f9eb37,#fdf83d,#fdf73c,#fdf83d,#fef93d,#fbef39,#f5e032,#eecd29,#e6b923,#dea420,#d7931d,#db9b1e,#e3b122,#e8be24,#e7bb24,#e1a921,#d48b1d,#bf6318,#a0340e,#7a1309,#4f0706,#2c0404,#120808,#1d1c1f,#181719,#2b2c31,#4d5056,#2d2f34)"></i><i style="top:180px;background:linear-gradient(90deg,#9d310e,#93260c,#881a0a,#7c1409,#6f0f09,#630c08,#590907,#500806,#4a0605,#450605,#430605,#420605,#430605,#440605,#460605,#480605,#490605,#4a0605,#480605,#460605,#410605,#3d0505,#380505,#360504,#3a0505,#4e0706,#751109,#a53c10,#cf811c,#e7bb24,#f8e835,#fef83d,#fcf73c,#fdf83d,#fef93d,#fbf039,#f6e232,#eece29,#e7ba24,#dfa520,#d7921d,#da981e,#e2ae22,#e8bd24,#e8bd24,#e2ac21,#d58f1d,#c26718,#a3380f,#7d1409,#510806,#2d0404,#140707,#1d1c1f,#181618,#2b2c31,#4c4f55,#2c2e32)"></i><i style="top:181px;background:linear-gradient(90deg,#a1360e,#982b0d,#8d1f0b,#81160a,#741109,#680d08,#5d0a07,#530806,#4c0705,#460605,#430605,#420605,#430605,#440605,#460605,#480605,#4a0605,#4b0705,#4a0605,#470605,#430605,#3e0505,#390505,#360504,#390505,#4c0705,#711009,#a0360f,#cc7b1b,#e5b623,#f7e534,#fef93d,#fcf73c,#fdf83d,#fef93d,#fcf13a,#f6e333,#efcf2a,#e7bb24,#dfa620,#d7931d,#d8951e,#e1ac21,#e8bc24,#e8be24,#e3af22,#d7921d,#c46b19,#a63c10,#80150a,#540906,#2f0404,#170707,#1d1c1e,#171617,#2b2c30,#4b4e54,#2b2c31)"></i><i style="top:182px;background:linear-gradient(90deg,#a63b0f,#9c300e,#91240c,#86180a,#791309,#6d0e08,#610b07,#560906,#4e0706,#480605,#440605,#420605,#430605,#440605,#460605,#490605,#4b0705,#4c0705,#4b0705,#480605,#440605,#3f0505,#3a0505,#360504,#390505,#490705,#6d0f08,#9c310e,#c8751a,#e4b222,#f6e233,#fef83d,#fcf73c,#fdf73d,#fef93d,#fcf23a,#f7e433,#efd12a,#e8bd24,#e0a821,#d8931d,#d7921d,#e0a921,#e7bb24,#e8bf24,#e4b222,#d9961e,#c66f19,#a94111,#83170a,#580907,#310504,#1a0707,#1c1b1e,#161416,#292b2f,#4a4d53,#2a2b2f)"></i><i style="top:183px;background:linear-gradient(90deg,#aa4111,#a0350e,#96290c,#8b1c0b,#7e1509,#711009,#650c08,#5a0a07,#510806,#4a0605,#450605,#430605,#430605,#440605,#470605,#4a0605,#4c0705,#4d0705,#4c0705,#4a0605,#460605,#400605,#3b0505,#370504,#380505,#470605,#690e08,#982b0d,#c56f19,#e2ae22,#f5df31,#fef83d,#fcf73c,#fdf73c,#fef93d,#fcf33a,#f7e534,#f0d22b,#e8be24,#e0a921,#d8941e,#d6901d,#dfa620,#e7ba24,#e9bf25,#e5b423,#da9a1e,#c8741a,#ac4511,#86190a,#5b0a07,#340504,#1d0606,#1b1b1d,#141314,#28292d,#494c52,#28292d)"></i><i style="top:184px;background:linear-gradient(90deg,#ae4812,#a53a0f,#9a2e0d,#8f210b,#84170a,#771209,#690d08,#5e0a07,#540806,#4c0705,#460605,#430605,#430605,#440605,#470605,#4a0605,#4d0705,#4e0706,#4e0706,#4b0705,#470605,#420605,#3c0505,#380504,#380504,#450605,#650d08,#94270c,#c26918,#e0a921,#f3db2f,#fdf73c,#fcf73c,#fdf73c,#fef93d,#fdf33b,#f7e634,#f0d42c,#e9bf25,#e1ab21,#d8951e,#d58d1d,#dea320,#e6b823,#e9c025,#e5b623,#dc9d1f,#ca781b,#af4a12,#891c0b,#5e0a07,#370504,#1f0606,#1b1a1c,#131113,#27272b,#494b51,#27282c)"></i><i style="top:185px;background:linear-gradient(90deg,#b24e13,#a94010,#9f330e,#94270c,#881a0a,#7c1409,#6e0f09,#620b08,#570907,#4e0706,#480605,#440605,#430605,#440605,#470605,#4b0705,#4d0706,#4f0706,#4f0706,#4d0705,#490605,#430605,#3d0505,#380505,#380504,#430605,#610b07,#90230c,#be6317,#dfa520,#f2d82d,#fdf63c,#fcf73c,#fdf73c,#fef93d,#fdf43b,#f8e735,#f1d52c,#e9c025,#e2ac21,#d9961e,#d48c1d,#dd9f1f,#e5b623,#e9c025,#e6b923,#dda11f,#cc7c1b,#b24e13,#8c200b,#610b08,#3a0505,#220505,#1a191b,#121011,#252629,#484b51,#26272b)"></i><i style="top:186px;background:linear-gradient(90deg,#b65515,#ad4712,#a3380f,#982c0d,#8d1f0b,#81160a,#731109,#660c08,#5b0a07,#510806,#4a0605,#450605,#430605,#450605,#470605,#4b0705,#4e0706,#500806,#500806,#4e0706,#4a0605,#450605,#3f0505,#390505,#370504,#410605,#5e0a07,#8b200b,#bb5d16,#dda020,#f0d42c,#fdf53c,#fcf73c,#fcf73c,#fef93d,#fdf53c,#f8e836,#f1d62d,#eac225,#e2ad22,#d9971e,#d38a1d,#db9c1f,#e5b423,#e9c025,#e7ba24,#dea420,#ce801b,#b55214,#8f230c,#650c08,#3d0505,#240505,#19181a,#100e0f,#232427,#484a51,#26262a)"></i><i style="top:187px;background:linear-gradient(90deg,#ba5b16,#b14d13,#a73e10,#9d310e,#92240c,#86180a,#781309,#6b0e08,#5f0b07,#540806,#4c0705,#460605,#440605,#450605,#480605,#4b0705,#4f0706,#510806,#520806,#500806,#4c0705,#460605,#400505,#3a0505,#380504,#400505,#5a0a07,#871d0b,#b75715,#da9b1f,#efd02b,#fdf43b,#fcf73c,#fcf73c,#fef83d,#fdf63c,#f9e936,#f2d82e,#eac325,#e3af22,#da981e,#d3891c,#da991e,#e4b222,#e9c025,#e8bc24,#e0a721,#d0841c,#b75715,#93260c,#680d08,#400605,#270404,#181719,#0f0c0d,#212124,#484a50,#252629)"></i><i style="top:188px;background:linear-gradient(90deg,#be6117,#b55414,#ac4511,#a1360e,#96290d,#8b1c0b,#7e1509,#701009,#630b08,#580907,#4f0706,#480605,#450605,#450605,#480605,#4c0705,#500806,#520806,#530806,#520806,#4e0706,#480605,#410605,#3b0505,#380504,#3e0505,#570907,#831a0a,#b35114,#d8961e,#eecd29,#fcf33b,#fcf73c,#fcf73c,#fdf83d,#fef63c,#f9ea36,#f2d92e,#ebc425,#e3b022,#da9a1e,#d2881c,#d8951e,#e3b022,#e9bf24,#e8be24,#e1aa21,#d2881c,#ba5b16,#96290d,#6b0e08,#440605,#290404,#171618,#0d0b0b,#1f1f22,#47494f,#252629)"></i><i style="top:189px;background:linear-gradient(90deg,#c26719,#ba5a16,#b04b13,#a63b0f,#9b2e0d,#8f210b,#83170a,#751209,#680d08,#5c0a07,#520806,#4a0605,#460605,#450605,#480605,#4c0705,#500806,#530806,#550906,#530806,#4f0706,#4a0605,#430605,#3c0505,#380505,#3d0505,#540806,#7f170a,#b04b13,#d6911e,#ecc928,#fcf13a,#fcf73c,#fcf73c,#fdf83d,#fef73d,#f9eb37,#f3da2f,#ebc526,#e4b222,#db9b1f,#d2881c,#d7921d,#e2ad21,#e8be24,#e9bf24,#e2ad22,#d48c1d,#bd5f17,#992c0d,#6f0f08,#470605,#2c0504,#161516,#0c0909,#1d1d1f,#45474d,#252629)"></i><i style="top:190px;background:linear-gradient(90deg,#c56d19,#be6017,#b45214,#aa4211,#9f340e,#94270c,#88190a,#7a1309,#6d0e08,#600b07,#550906,#4c0705,#470605,#460605,#480605,#4c0705,#510806,#540806,#560906,#550906,#510806,#4b0705,#440605,#3d0505,#390505,#3c0505,#520806,#7b1409,#ac4612,#d48c1d,#ebc527,#fbef39,#fdf73c,#fcf73c,#fdf83d,#fef83d,#faec37,#f3dc2f,#ecc726,#e4b322,#dc9d1f,#d2881c,#d58e1d,#e1aa21,#e8bd24,#e9c025,#e3b022,#d6901d,#c06418,#9c300d,#721109,#4a0605,#2e0504,#141314,#0b0808,#1b1b1d,#43464b,#25262a)"></i><i style="top:191px;background:linear-gradient(90deg,#c8731a,#c26719,#b85815,#ae4912,#a4390f,#982c0d,#8d1e0b,#7f150a,#721009,#640c08,#590907,#4f0706,#490605,#470605,#480605,#4d0705,#520806,#550906,#570907,#560906,#530806,#4d0706,#460605,#3f0505,#390505,#3b0505,#4f0706,#771209,#a84011,#d1861c,#e9c126,#faed38,#fdf73c,#fcf63c,#fdf83d,#fef83d,#faed38,#f4dd30,#ecc827,#e5b423,#dc9e1f,#d2881c,#d48b1d,#e0a721,#e7bc24,#e9c125,#e4b322,#d8931e,#c26819,#9f330e,#751209,#4d0706,#300504,#131112,#0d0707,#1a191b,#414349,#26262a)"></i><i style="top:192px;background:linear-gradient(90deg,#cb791b,#c56d19,#bc5f17,#b34f14,#a83f10,#9d310e,#91240c,#85170a,#771209,#690d08,#5d0a07,#520806,#4b0705,#480605,#490605,#4d0706,#520806,#560906,#590907,#580907,#550906,#4f0706,#480605,#400505,#3a0505,#3b0505,#4d0706,#731109,#a43b10,#cf811c,#e8bd24,#f9eb37,#fdf83d,#fcf63c,#fdf73c,#fef83d,#fbee38,#f4de30,#edc927,#e5b523,#dda01f,#d3891c,#d2881c,#dea420,#e7bb24,#eac125,#e5b523,#d9971e,#c46c19,#a2370f,#781309,#500806,#330504,#110f10,#0f0707,#181718,#3e4146,#26272b)"></i><i style="top:193px;background:linear-gradient(90deg,#ce7f1b,#c8731a,#c06518,#b75615,#ad4612,#a2360e,#96290c,#8a1b0a,#7c1409,#6e0f08,#610b07,#560906,#4d0706,#490605,#490605,#4d0706,#530806,#570907,#5a0a07,#5a0a07,#560906,#510806,#490605,#410605,#3b0505,#3b0505,#4a0705,#6f1008,#a0360f,#cc7c1b,#e6b823,#f8e835,#fdf83d,#fcf63c,#fdf73c,#fef83d,#fbef39,#f5df31,#edcb28,#e5b723,#dea120,#d38a1d,#d1851c,#dda11f,#e6b923,#eac225,#e6b823,#db9b1f,#c6701a,#a53b0f,#7b1409,#540806,#350505,#0f0c0d,#100707,#161516,#3c3e43,#27282b)"></i><i style="top:194px;background:linear-gradient(90deg,#d1851c,#cb791b,#c46b19,#bb5d16,#b14d13,#a63c0f,#9b2e0d,#8e200b,#81160a,#731109,#650c08,#590907,#500806,#4b0705,#4a0605,#4e0706,#530806,#580907,#5b0a07,#5b0a07,#580907,#520806,#4b0705,#430605,#3c0505,#3a0505,#480605,#6b0e08,#9c300e,#c9761a,#e5b523,#f7e534,#fdf83d,#fcf63c,#fdf73c,#fef93d,#fbf039,#f5e032,#edcc28,#e6b823,#dea320,#d48b1d,#d0831c,#dc9d1f,#e6b723,#eac225,#e7ba24,#dc9f1f,#c8751a,#a84010,#7f1509,#560906,#370505,#0d0a0a,#120707,#151315,#383b40,#27282c)"></i><i style="top:195px;background:linear-gradient(90deg,#d38a1d,#ce7f1b,#c7711a,#bf6318,#b55314,#aa4311,#9f330e,#93260c,#86180a,#781309,#6a0e08,#5e0a07,#530806,#4c0705,#4b0705,#4e0706,#540806,#590907,#5c0a07,#5d0a07,#5a0a07,#540806,#4d0705,#450605,#3d0505,#3a0505,#460605,#680d08,#982b0d,#c67119,#e3b022,#f6e233,#fef93d,#fcf63c,#fcf73c,#fef93d,#fcf13a,#f6e132,#eecd29,#e6b924,#dfa420,#d48d1d,#cf811c,#da9a1e,#e5b523,#eac225,#e7bc24,#dea220,#cb791b,#ab4411,#82160a,#590907,#390505,#0a0707,#130606,#141213,#35373d,#28292d)"></i><i style="top:196px;background:linear-gradient(90deg,#d6901d,#d0851c,#ca781b,#c36919,#b95a16,#af4912,#a4390f,#982b0d,#8b1d0b,#7e1509,#6f0f09,#620b08,#570906,#4f0706,#4c0705,#4f0706,#540806,#5a0a07,#5e0a07,#5e0a07,#5c0a07,#560906,#4f0706,#460605,#3e0505,#3b0505,#450605,#640c08,#94270c,#c36b18,#e2ac21,#f5df31,#fef83d,#fcf63c,#fcf73c,#fef93d,#fcf23a,#f6e233,#eece29,#e7ba24,#dfa620,#d58e1d,#ce7f1b,#d9961e,#e4b322,#eac125,#e8be24,#dfa520,#cd7d1b,#ae4912,#85180a,#5c0a07,#3b0505,#0d0707,#140606,#131112,#323439,#28292d)"></i><i style="top:197px;background:linear-gradient(90deg,#d9951e,#d38a1d,#cd7e1b,#c6701a,#be6017,#b35014,#a83f10,#9c300e,#90220c,#83170a,#751109,#660c08,#5b0a07,#520806,#4e0706,#4f0706,#550906,#5b0a07,#5f0b07,#600b07,#5e0a07,#580907,#510806,#480605,#3f0505,#3b0505,#430605,#610b07,#90240c,#c06517,#e0a821,#f4dc30,#fdf73d,#fcf63c,#fcf73c,#fef93d,#fcf33a,#f6e333,#efcf2a,#e7bb24,#e0a721,#d6901d,#cd7e1b,#d7921d,#e3b022,#e9c125,#e9bf25,#e0a921,#cf811c,#b14d13,#881b0a,#5f0b07,#3d0505,#110606,#140606,#121011,#2e3035,#28292d)"></i><i style="top:198px;background:linear-gradient(90deg,#db9b1e,#d6901d,#d0831c,#c9761a,#c26719,#b75715,#ad4612,#a1360e,#95280c,#88190a,#7a1309,#6c0e08,#5f0b07,#550906,#4f0706,#500806,#550906,#5b0a07,#600b07,#610b08,#5f0b07,#5a0a07,#530806,#4a0605,#410605,#3b0505,#420605,#5d0a07,#8c210b,#bc6017,#dea420,#f2d92e,#fdf73c,#fcf63c,#fcf63c,#fef93d,#fcf33b,#f7e434,#efd12a,#e8bd24,#e0a821,#d7921d,#cd7e1b,#d58f1d,#e2ae22,#e9c025,#e9c125,#e2ac21,#d1861c,#b55214,#8b1e0b,#620b08,#400605,#150606,#150606,#110f10,#2b2d31,#28292d)"></i><i style="top:199px;background:linear-gradient(90deg,#dda01f,#d9951e,#d3891c,#cc7c1b,#c56d19,#bc5d17,#b14d13,#a63b0f,#9a2d0d,#8d1f0b,#7f150a,#711009,#630c08,#580907,#520806,#510806,#560906,#5c0a07,#610b08,#630b08,#610b08,#5c0a07,#550906,#4c0705,#420605,#3c0505,#410605,#5a0a07,#881e0b,#b95a16,#dc9f1f,#f1d52c,#fdf63c,#fcf63c,#fcf63c,#fef83d,#fdf43b,#f7e534,#f0d22b,#e8be24,#e1aa21,#d8941e,#cd7e1b,#d48c1d,#e1ac21,#e9c025,#eac325,#e3b022,#d48b1d,#b85915,#90230c,#660c08,#440605,#190505,#170606,#100e0f,#28292d,#28292d)"></i><i style="top:200px;background:linear-gradient(90deg,#dfa620,#db9b1e,#d68f1d,#cf821c,#c8731a,#c06418,#b55314,#aa4211,#9e320e,#92240c,#85180a,#761209,#680d08,#5c0a07,#540806,#520806,#570906,#5d0a07,#620b08,#640c08,#630b08,#5e0a07,#570906,#4d0706,#440605,#3d0505,#400505,#580907,#841b0a,#b65415,#da9b1f,#f0d22b,#fdf53c,#fcf63c,#fcf63c,#fef83d,#fdf53c,#f8e635,#f0d32b,#e9bf24,#e1ab21,#d9951e,#ce7f1b,#d3891c,#e1aa21,#e9c025,#ebc425,#e4b423,#d6901d,#bc5f17,#94270c,#6a0e08,#470605,#1e0505,#180606,#0f0d0e,#252629,#27282c)"></i><i style="top:201px;background:linear-gradient(90deg,#e1ab21,#dda01f,#d8951e,#d2881c,#cb7a1b,#c46a19,#ba5a16,#ae4912,#a3380f,#972a0d,#8a1b0a,#7b1409,#6d0f08,#600b07,#570907,#540806,#570907,#5e0a07,#630b08,#660c08,#650c08,#600b07,#590907,#4f0706,#460605,#3e0505,#3f0505,#550906,#80180a,#b24f13,#d8961e,#eece2a,#fdf43b,#fcf63c,#fcf63c,#fdf83d,#fdf63c,#f8e735,#f1d42c,#e9c025,#e2ac21,#d9971e,#ce7f1b,#d1871c,#e0a721,#e9bf24,#ebc626,#e6b723,#d8951e,#c06518,#982b0d,#6e0f08,#4b0705,#220505,#1a0505,#0f0c0d,#222226,#26272b)"></i><i style="top:202px;background:linear-gradient(90deg,#e3b022,#dfa620,#db9a1e,#d58d1d,#ce801b,#c7711a,#be6117,#b35014,#a73e10,#9b2f0d,#8f210b,#81160a,#721009,#650c08,#5a0a07,#560906,#580907,#5e0a07,#640c08,#670d08,#670c08,#620b08,#5b0a07,#510806,#470605,#3f0505,#3f0505,#520806,#7d150a,#af4a12,#d6911e,#edcb29,#fcf33b,#fcf63c,#fcf63c,#fdf83d,#fef63c,#f8e836,#f1d52c,#e9c125,#e2ae22,#da991e,#cf811c,#d0841c,#dfa520,#e8be24,#ebc726,#e7bb24,#da9a1e,#c36a19,#9c300e,#721109,#4e0706,#260404,#1b0505,#0e0c0c,#202022,#252529)"></i><i style="top:203px;background:linear-gradient(90deg,#e5b523,#e1ab21,#dda01f,#d8931d,#d1861c,#ca771a,#c26719,#b75715,#ac4511,#a0340e,#93260c,#86180a,#781209,#690d08,#5e0a07,#580907,#590907,#5f0b07,#650c08,#690d08,#690d08,#640c08,#5d0a07,#530806,#490605,#400505,#3e0505,#500806,#791309,#ab4512,#d48d1d,#ecc728,#fcf23a,#fcf63c,#fcf63c,#fdf83d,#fef73d,#f9e936,#f1d62d,#eac225,#e3af22,#db9b1f,#cf821c,#cf821c,#dea220,#e8bd24,#ecc726,#e8be24,#dc9f1f,#c67019,#a1350e,#771209,#520806,#2a0404,#1d0505,#0d0b0b,#1d1d1f,#232327)"></i><i style="top:204px;background:linear-gradient(90deg,#e7ba24,#e3b022,#dfa520,#da991e,#d48c1d,#cd7d1b,#c56e1a,#bc5d17,#b04c13,#a53a0f,#982b0d,#8b1d0b,#7d1409,#6f0f09,#620b08,#5b0a07,#5a0a07,#600b07,#660c08,#6a0e08,#6b0e08,#670c08,#5f0b07,#560906,#4b0705,#410605,#3e0505,#4e0706,#751209,#a74011,#d2881c,#eac427,#fbf039,#fcf63c,#fcf63c,#fdf73c,#fef83d,#f9ea36,#f2d72d,#eac325,#e3b022,#db9c1f,#d0841c,#ce7f1b,#dda01f,#e7bc24,#ecc826,#e9c025,#dea320,#c9751a,#a53a0f,#7b1409,#550906,#2e0404,#1e0505,#0d0a0b,#1b1b1d,#212124)"></i><i style="top:205px;background:linear-gradient(90deg,#e9bf24,#e5b523,#e1ab21,#dc9e1f,#d7911d,#d0831c,#c8741a,#c06418,#b55314,#a94110,#9d310e,#90220c,#83170a,#741109,#670c08,#5e0a07,#5c0a07,#610b07,#670c08,#6c0e08,#6d0e08,#690d08,#610b08,#580907,#4d0705,#430605,#3e0505,#4c0705,#721009,#a43b10,#d0831c,#e9c026,#faee38,#fcf73c,#fcf63c,#fdf73c,#fef83d,#f9eb37,#f2d82e,#eac425,#e3b122,#dc9e1f,#d1861c,#cd7e1b,#dc9d1f,#e7ba24,#ecc926,#eac325,#e0a821,#cc7b1b,#a94111,#7f150a,#590907,#320504,#200505,#0c090a,#19191b,#1f1f22)"></i><i style="top:206px;background:linear-gradient(90deg,#eac425,#e7ba24,#e3b022,#dfa420,#da971e,#d3891c,#cc7a1b,#c46b19,#b95a16,#ae4812,#a2360e,#95280c,#88190a,#791309,#6b0e08,#610b08,#5e0a07,#620b08,#680d08,#6d0f08,#6f0f09,#6b0e08,#640c08,#5a0a07,#4f0706,#440605,#3f0505,#4a0705,#6e0f08,#a0360f,#cd7e1b,#e8bc24,#faec37,#fcf73c,#fbf63c,#fcf73c,#fef83d,#faec37,#f3d92e,#ebc525,#e4b222,#dd9f1f,#d2881c,#cc7c1b,#db9a1e,#e6b923,#ecc926,#ebc526,#e1ac21,#ce801b,#ad4712,#84170a,#5d0a07,#350504,#220505,#0b0809,#181719,#1d1d1f)"></i><i style="top:207px;background:linear-gradient(90deg,#ecc826,#e9bf25,#e5b523,#e1a921,#dc9d1f,#d68f1d,#cf811c,#c7711a,#bd6017,#b24f13,#a63c0f,#9a2d0d,#8d1f0b,#7f150a,#711009,#650c08,#600b07,#630b08,#690d08,#6f0f09,#701009,#6d0f08,#660c08,#5c0a07,#510806,#460605,#3f0505,#490605,#6b0e08,#9d310e,#cb791b,#e6b823,#f9ea36,#fcf73c,#fbf63b,#fcf73c,#fef83d,#faed38,#f3db2f,#ebc526,#e4b323,#dda11f,#d38a1c,#cc7b1b,#d9971e,#e6b723,#ecc926,#ecc826,#e3b022,#d1861c,#b14d13,#881a0a,#610b07,#390505,#240404,#0a0707,#171517,#1b1b1d)"></i><i style="top:208px;background:linear-gradient(90deg,#eecf29,#ebc425,#e7ba24,#e3af22,#dea220,#d9951e,#d2871c,#ca771b,#c26719,#b75615,#ab4311,#9f330e,#92240c,#84170a,#761209,#690d08,#630b08,#640c08,#6a0e08,#701009,#721009,#700f09,#680d08,#5e0a07,#530806,#480605,#400505,#470605,#670d08,#992d0d,#c8741a,#e5b523,#f8e735,#fdf73c,#fbf63b,#fcf73c,#fef83d,#faee38,#f3dc2f,#ebc626,#e5b423,#dea220,#d48c1d,#cb7a1b,#d8941e,#e5b523,#ecc926,#edca27,#e4b423,#d38b1d,#b55314,#8c1e0b,#640c08,#3c0505,#260404,#0c0707,#161416,#19191b)"></i><i style="top:209px;background:linear-gradient(90deg,#f1d52c,#ecc927,#e9bf25,#e5b423,#e0a821,#db9b1e,#d58d1d,#cd7e1b,#c56e19,#bb5c16,#af4a12,#a3380f,#972a0d,#8a1b0a,#7b1409,#6e0f08,#660c08,#650c08,#6b0e08,#711009,#741109,#721009,#6b0e08,#610b07,#550906,#490605,#410605,#460605,#640c08,#95280c,#c56f19,#e3b122,#f7e534,#fdf83d,#fbf63b,#fcf63c,#fef83d,#fbef39,#f4dd30,#ecc726,#e5b523,#dea420,#d58e1d,#cb7a1b,#d7921d,#e4b423,#ecc926,#eecc28,#e6b823,#d6901d,#b95916,#90220c,#680d08,#400505,#280404,#0d0707,#151314,#181618)"></i><i style="top:210px;background:linear-gradient(90deg,#f3db2f,#efd02a,#ebc425,#e6b924,#e2ae22,#dda11f,#d7931d,#d0841c,#c8741a,#bf6318,#b45114,#a83f10,#9b2f0d,#8e200b,#81160a,#731109,#690d08,#670c08,#6d0e08,#731109,#761209,#741109,#6d0f08,#630b08,#570907,#4b0705,#420605,#450605,#610b07,#92250c,#c26a18,#e2ad22,#f6e232,#fdf83d,#fbf53b,#fcf63c,#fef83d,#fbf039,#f4de30,#ecc827,#e5b723,#dfa520,#d6901d,#cb7a1b,#d58f1d,#e4b222,#ecc826,#eece29,#e7bb24,#d8951e,#bd5f17,#94270c,#6c0f08,#430605,#2b0404,#0f0707,#141213,#161416)"></i><i style="top:211px;background:linear-gradient(90deg,#f5e132,#f1d62d,#ecc927,#e8be24,#e4b322,#dfa620,#da991e,#d38a1d,#cc7b1b,#c36a19,#b85815,#ad4612,#a0350e,#93260c,#86180a,#781309,#6d0f08,#6a0d08,#6e0f08,#741109,#781209,#761209,#701009,#660c08,#5a0a07,#4d0706,#430605,#440605,#5e0b07,#8e220b,#bf6517,#e1aa21,#f5df31,#fef83d,#fbf53b,#fcf63c,#fef93d,#fbf039,#f5df31,#ecc927,#e6b723,#dfa620,#d7931d,#cc7b1b,#d48c1d,#e3b022,#ecc826,#efd02a,#e8bf24,#da991e,#c06518,#982b0d,#701009,#460605,#2d0404,#120606,#131112,#141314)"></i><i style="top:212px;background:linear-gradient(90deg,#f7e635,#f4dc30,#efd02a,#eac325,#e6b823,#e1ac21,#dc9e1f,#d6901d,#cf811c,#c7711a,#bd5f17,#b14d13,#a53b0f,#982c0d,#8b1d0b,#7e1509,#721009,#6c0e08,#6f0f09,#751209,#791309,#781309,#721009,#680d08,#5c0a07,#4f0706,#440605,#440605,#5c0a07,#8b200b,#bc6017,#dfa620,#f4dc30,#fef83d,#fbf53b,#fcf63c,#fef93d,#fcf13a,#f5e031,#edca27,#e6b823,#e0a721,#d8951e,#cc7c1b,#d3891c,#e2ad22,#ecc726,#f0d12b,#eac225,#dc9e1f,#c36b19,#9c2f0d,#741109,#4a0605,#300504,#140606,#121012,#131112)"></i><i style="top:213px;background:linear-gradient(90deg,#faec37,#f6e232,#f1d62d,#ecc826,#e8bd24,#e4b122,#dfa420,#d9961e,#d2871c,#ca771b,#c16618,#b65415,#aa4111,#9d310e,#90230c,#83170a,#761209,#700f09,#711009,#771209,#7b1409,#7b1409,#751209,#6b0e08,#5e0a07,#510806,#460605,#430605,#590907,#871d0b,#ba5b16,#dda220,#f2d92e,#fdf73d,#fbf53b,#fcf63c,#fef93d,#fcf23a,#f5e032,#edcb28,#e7b924,#e0a821,#d9971e,#cd7d1b,#d2871c,#e1ab21,#ebc626,#f0d32b,#ebc525,#dea320,#c6701a,#a0340e,#781309,#4d0706,#330504,#160606,#121011,#110f10)"></i><i style="top:214px;background:linear-gradient(90deg,#fcf13a,#f8e835,#f4dc30,#efcf29,#eac325,#e6b723,#e1aa21,#dc9c1f,#d58d1d,#cd7e1b,#c56d19,#ba5b16,#ae4912,#a2370f,#95280c,#881a0a,#7b1409,#731109,#741109,#791309,#7e1509,#7e1509,#781309,#6e0f09,#610b08,#540806,#480605,#440605,#570906,#841b0a,#b75615,#dc9e1f,#f1d62d,#fdf73c,#fbf53b,#fbf63c,#fef83d,#fcf33a,#f6e132,#edcc28,#e7ba24,#e1aa21,#da991e,#ce7f1b,#d0841c,#e0a921,#ebc526,#f0d42c,#ecc827,#e0a721,#c9761a,#a3380f,#7c1409,#500806,#350504,#190606,#110f0f,#100e0f)"></i><i style="top:215px;background:linear-gradient(90deg,#fef73c,#faed38,#f6e233,#f1d62d,#ecc826,#e8bc24,#e3b022,#dea220,#d8931e,#d0841c,#c8741a,#bf6218,#b35014,#a73d10,#9a2e0d,#8d1f0b,#81160a,#771209,#761209,#7b1409,#80150a,#81160a,#7c1409,#721009,#640c08,#560906,#4a0605,#440605,#550906,#80180a,#b35114,#da9a1f,#f0d32b,#fdf63c,#fbf53b,#fbf63b,#fdf83d,#fcf33b,#f6e233,#eecd28,#e7bb24,#e1ab21,#db9b1f,#cf811c,#cf821c,#dfa620,#eac426,#f1d42c,#edcb28,#e1ac21,#cc7b1b,#a73e10,#80150a,#530806,#380505,#1b0505,#100e0e,#0f0d0d)"></i><i style="top:216px;background:linear-gradient(90deg,#fef93d,#fcf33b,#f8e835,#f4dc30,#eece29,#eac125,#e5b523,#e0a821,#db991e,#d38a1d,#cb7a1b,#c36919,#b85715,#ac4411,#9f330e,#92250c,#86180a,#7c1409,#791309,#7d1509,#82160a,#83170a,#7f150a,#751109,#670d08,#590907,#4b0705,#440605,#530806,#7d160a,#b04c13,#d8961e,#efd02b,#fdf53c,#fbf53b,#fbf63b,#fdf83d,#fdf43b,#f6e333,#eecd29,#e7bc24,#e1ac21,#dc9c1f,#d0831c,#ce801b,#dfa420,#eac325,#f1d52c,#eecf29,#e3b022,#ce801b,#ab4411,#83170a,#570906,#3b0505,#1e0505,#0f0c0d,#0e0b0c)"></i><i style="top:217px;background:linear-gradient(90deg,#f4ed37,#fef83d,#faee38,#f6e233,#f1d52c,#ebc726,#e7bb24,#e2ae22,#dd9f1f,#d6911d,#cf811c,#c6701a,#bc5e17,#b04c13,#a4390f,#972a0d,#8b1c0b,#80150a,#7c1409,#80150a,#85170a,#86180a,#82160a,#781309,#6b0e08,#5c0a07,#4e0706,#450605,#510806,#7a1309,#ad4712,#d6921e,#eecd2a,#fcf43b,#fbf53b,#fbf53b,#fdf83d,#fdf53b,#f7e434,#eece29,#e8bc24,#e2ad22,#dc9e1f,#d1851c,#cd7e1b,#dea220,#eac125,#f1d52c,#f0d12b,#e4b423,#d1851c,#af4a12,#87190a,#5a0a07,#3e0505,#210505,#0e0b0b,#0d0a0b)"></i><i style="top:218px;background:linear-gradient(90deg,#ebe33a,#faf43a,#fdf43b,#f8e836,#f3db2f,#eecd28,#e9c025,#e4b323,#dfa520,#d9971e,#d2871c,#ca771a,#c16518,#b55314,#a94010,#9c300e,#90220b,#85180a,#7f150a,#82160a,#87190a,#891a0a,#85170a,#7c1409,#6e0f08,#5e0a07,#500806,#460605,#500806,#771209,#aa4411,#d58e1d,#edcb29,#fcf43b,#faf43b,#faf43b,#fcf73c,#fef73d,#f8e735,#efd02a,#e8be24,#e2af22,#dda01f,#d2881c,#cc7c1b,#dd9f1f,#e9c025,#f1d52c,#f1d42c,#e6b823,#d38a1d,#b24f14,#8a1d0b,#5d0a07,#410605,#230404,#0c090a,#0c090a)"></i><i style="top:219px;background:linear-gradient(90deg,#e4dc3c,#f1e938,#fff93e,#fbee38,#f6e232,#f0d42c,#ebc526,#e6b923,#e1ab21,#dc9d1f,#d58d1d,#cd7d1b,#c56c19,#ba5a16,#ae4712,#a1360e,#95270c,#8a1b0a,#83170a,#85170a,#891b0a,#8b1d0b,#881a0a,#7f150a,#711009,#610b08,#520806,#470605,#4e0706,#741109,#a84111,#d48c1d,#edcb29,#fcf43b,#f9f33a,#f9f33a,#faf53b,#fef83d,#f9eb37,#f1d42c,#e9c025,#e3b122,#dea220,#d48b1d,#cc7b1b,#dc9c1f,#e8be24,#f1d52c,#f2d72d,#e7bb24,#d68f1d,#b65515,#8d200b,#610b07,#440605,#260404,#0b0808,#0b0808)"></i><i style="top:220px;background:linear-gradient(90deg,#ded53d,#e9e13a,#f8f139,#fdf43b,#f8e835,#f3da2f,#edcb28,#e8be24,#e3b122,#dea320,#d8941e,#d0841c,#c8731a,#be6117,#b24f13,#a63c0f,#9a2d0d,#8e200b,#87180a,#87180a,#8c1d0b,#8e200b,#8b1d0b,#83160a,#751109,#640c08,#540806,#490605,#4e0706,#711009,#a53e10,#d3891d,#edca29,#fcf43b,#f8f139,#f7f139,#f9f33a,#fdf73c,#fbef39,#f2d82e,#eac225,#e4b322,#dea420,#d58e1d,#cc7b1b,#db9a1e,#e8bd24,#f1d52c,#f2d92e,#e9bf24,#d8941e,#b95a16,#91240c,#640c08,#460605,#280404,#0b0707,#0a0707)"></i><i style="top:221px;background:linear-gradient(90deg,#d8cf3f,#e2d93c,#efe739,#fef93e,#fbee38,#f5e132,#f0d22b,#eac425,#e6b723,#e0a921,#db9a1e,#d38a1d,#cb7a1b,#c26819,#b75615,#ab4311,#9f330e,#93250c,#8b1c0b,#8a1b0a,#8e200b,#90230c,#8e200b,#86180a,#791309,#680d08,#570906,#4a0605,#4d0705,#6f1008,#a33a10,#d1871c,#edc929,#fcf43b,#f6ef38,#f6ef37,#f7f139,#fbf53b,#fcf33b,#f4dc30,#ebc525,#e5b523,#dfa620,#d6901d,#cc7b1b,#d9971e,#e7bb24,#f1d52c,#f3db2f,#eac225,#da981e,#bd5f17,#94270c,#680d08,#490605,#2b0404,#0e0707,#0b0707)"></i><i style="top:222px;background:linear-gradient(90deg,#d3ca40,#dcd33e,#e7df3b,#f7f039,#fdf43b,#f8e735,#f2d92e,#ecc927,#e8bc24,#e3af22,#dda01f,#d6911d,#ce801b,#c66f1a,#bc5d17,#b04b13,#a3390f,#982b0d,#8f210b,#8c1e0b,#90220b,#93250c,#91230c,#8a1b0a,#7c1409,#6b0e08,#5a0a07,#4c0705,#4c0705,#6c0f08,#a1370f,#d0841c,#ecc829,#fcf43b,#f5ee37,#f4ed37,#f6ef37,#f9f33a,#fef73c,#f5e031,#ecc726,#e5b723,#e0a821,#d8931d,#cc7b1b,#d8951e,#e7ba24,#f1d42c,#f4dd30,#ebc626,#dc9d1f,#c06518,#972b0d,#6c0e08,#4c0705,#2d0404,#110606,#0c0707)"></i><i style="top:223px;background:linear-gradient(90deg,#cec542,#d7cd3f,#e1d83d,#eee739,#fef93d,#faee38,#f5e031,#efd02a,#eac225,#e5b523,#dfa620,#d9971e,#d2871c,#c9761a,#c06518,#b45214,#a83f10,#9c300e,#93250c,#8f220b,#92250c,#95280c,#94270c,#8d1e0b,#80150a,#6e0f09,#5c0a07,#4e0706,#4c0705,#6a0e08,#9e340e,#cf811c,#ecc728,#fbf43b,#f3eb38,#f1ea38,#f3ec37,#f8f139,#fdf63c,#f6e433,#edca28,#e6b823,#e1aa21,#d9961e,#cc7c1b,#d7921e,#e6b823,#f0d42c,#f4de31,#edca27,#dda120,#c36a19,#9b2e0d,#6f0f09,#4e0706,#300504,#130606,#0e0707)"></i><i style="top:224px;background:linear-gradient(90deg,#c9bf44,#d2c841,#dbd23e,#e7de3b,#f6f039,#fdf43b,#f8e635,#f2d72d,#ecc826,#e7ba24,#e2ac21,#dc9d1f,#d58e1d,#cd7d1b,#c46c19,#b95a16,#ad4712,#a1360e,#972a0d,#93250c,#95270c,#982b0d,#972a0d,#90220b,#83170a,#721009,#5f0b07,#4f0706,#4c0705,#680d08,#9c310e,#ce7f1b,#ebc628,#fbf43b,#f1e938,#efe839,#f1ea38,#f6ef38,#fcf63c,#f8e735,#eecd29,#e7ba24,#e1ab21,#da991e,#cd7d1b,#d6901d,#e5b623,#f0d32b,#f5df31,#eece29,#dfa620,#c56f19,#9e320e,#731109,#500806,#320504,#160606,#0f0606)"></i><i style="top:225px;background:linear-gradient(90deg,#c2ba47,#cdc342,#d6cc40,#e0d83d,#eee639,#fef93d,#faed38,#f4de31,#eece29,#e9c025,#e4b222,#dea420,#d8941e,#d0841c,#c8731a,#be6117,#b24e13,#a63c0f,#9c2f0d,#96290c,#972a0d,#9a2e0d,#9a2d0d,#93260c,#87190a,#761209,#620b08,#520806,#4c0705,#660d08,#9a2e0d,#cc7c1b,#ebc528,#fbf43b,#efe739,#ede539,#eee739,#f4ed38,#fbf53b,#f9eb37,#efd02a,#e8bc24,#e2ad22,#db9b1f,#cd7e1b,#d58e1d,#e5b423,#f0d22b,#f5e032,#f0d12b,#e1aa21,#c8741a,#a1360e,#761209,#530806,#350504,#190606,#110606)"></i><i style="top:226px;background:linear-gradient(90deg,#bdb54a,#c6bd45,#d1c741,#dad13e,#e6de3b,#f7f039,#fcf33b,#f7e534,#f1d62d,#ebc626,#e6b823,#e1aa21,#db9a1e,#d38a1d,#cb7a1b,#c26819,#b75615,#ab4311,#a0340e,#992d0d,#9a2d0d,#9d310e,#9c300e,#96290d,#8b1c0b,#791309,#660c08,#540806,#4c0705,#640c08,#972a0d,#cb791b,#eac427,#fbf43b,#ede539,#eae33a,#ece439,#f1ea38,#f9f33a,#fbef39,#f0d42c,#e8be24,#e3af22,#dc9e1f,#ce801b,#d48b1d,#e4b222,#efd12a,#f6e132,#f1d52c,#e2ae22,#ca791b,#a43a0f,#7a1309,#550906,#370504,#1b0505,#120606)"></i><i style="top:227px;background:linear-gradient(90deg,#b7b04c,#c0b848,#ccc243,#d5cc40,#e0d73d,#eee639,#fef83d,#faec37,#f4dd30,#eecc28,#e8be24,#e3b022,#dda11f,#d7911d,#ce801b,#c66f1a,#bb5d16,#b04b13,#a53a0f,#9d310e,#9c300e,#9f330e,#9f330e,#9a2d0d,#8e200b,#7d1409,#690d08,#570906,#4d0706,#620c07,#95280c,#c9761a,#eac227,#fbf43b,#ebe33a,#e8e03b,#eae23a,#efe739,#f8f139,#fcf33b,#f2d72d,#e9c025,#e3b122,#dda01f,#cf821c,#d3891c,#e3b022,#efd02a,#f6e233,#f2d82e,#e4b222,#cd7d1b,#a73f10,#7d1409,#580907,#390505,#1e0505,#140606)"></i><i style="top:228px;background:linear-gradient(90deg,#b1ab4f,#bbb34b,#c5bd46,#d0c741,#dad13e,#e6de3b,#f7f139,#fcf23a,#f6e433,#f0d32b,#eac425,#e5b623,#e0a720,#da971e,#d2871c,#c9761a,#c06418,#b55214,#a94110,#a1360e,#9f330e,#a2360e,#a2370e,#9d310e,#92240c,#81160a,#6d0e08,#5a0a07,#4e0706,#5f0b07,#91250c,#c67119,#e9bf26,#faf33a,#e9e13a,#e6de3b,#e7df3b,#ece439,#f5ef38,#fdf53c,#f3db2f,#eac325,#e4b222,#dea320,#d1851c,#d2871c,#e2ae22,#eecf29,#f6e333,#f3db2f,#e5b623,#cf821c,#ab4311,#81160a,#5a0a07,#3b0505,#210505,#150606)"></i><i style="top:229px;background:linear-gradient(90deg,#aca751,#b5af4d,#bfb748,#cbc143,#d5cc40,#e0d83d,#eee739,#fef73d,#f9ea37,#f3db2f,#edca27,#e7bc24,#e2ad22,#dc9e1f,#d58e1d,#cd7d1b,#c46c19,#b95a16,#ae4812,#a53b0f,#a2370f,#a4390f,#a53a0f,#a0340e,#95280c,#85180a,#701009,#5d0a07,#4f0706,#5c0a07,#8c210b,#c26b18,#e7ba25,#faf23a,#e8e03b,#e3db3c,#e5dc3c,#e9e13a,#f3ec38,#fcf53b,#f5df31,#ebc525,#e5b423,#dfa520,#d2871c,#d1851c,#e2ac21,#eecd29,#f6e333,#f4de31,#e7ba24,#d2871c,#ae4812,#84170a,#5d0a07,#3d0505,#230505,#170606)"></i><i style="top:230px;background:linear-gradient(90deg,#a7a354,#b0aa50,#bab34b,#c5bc46,#d0c641,#dad13e,#e7df3b,#f8f23a,#fcf13a,#f6e232,#efd12a,#eac125,#e4b323,#dfa420,#d8941e,#d0841c,#c8731a,#be6117,#b35014,#a94110,#a53b0f,#a73d10,#a83e10,#a3380f,#992c0d,#891b0a,#741109,#600b07,#510806,#590907,#871e0b,#be6417,#e5b523,#f9f139,#e7df3b,#e1d93c,#e2da3c,#e7de3b,#f0e938,#fbf53b,#f6e333,#ecc826,#e5b623,#e0a721,#d38a1c,#d0831c,#e1aa21,#edcc28,#f6e433,#f5e132,#e8be24,#d48b1d,#b14d13,#87190a,#5f0b07,#3f0505,#250404,#190606)"></i><i style="top:231px;background:linear-gradient(90deg,#a29e56,#aba652,#b4ae4e,#bfb749,#cbc143,#d5cc40,#e1d83d,#efe839,#fdf63c,#f8e936,#f2d92e,#ecc726,#e6b924,#e1ab21,#db9b1e,#d48b1d,#cb7a1b,#c26819,#b85715,#ae4812,#a94010,#a94110,#aa4211,#a63c0f,#9c300e,#8d1e0b,#781309,#630c08,#530806,#570907,#821a0a,#ba5d16,#e3b022,#f9ef38,#e6dd3b,#dfd63d,#e0d73d,#e4dc3c,#ede639,#faf43b,#f8e735,#edcb28,#e6b823,#e0a921,#d48d1d,#cf821c,#e0a821,#edca27,#f7e433,#f6e333,#e9c125,#d6901d,#b45114,#8a1c0b,#610b08,#420605,#270404,#1a0505)"></i><i style="top:232px;background:linear-gradient(90deg,#9d9a59,#a5a155,#afa950,#b9b24b,#c5bc46,#d0c741,#dbd23e,#e8e03b,#faf43b,#fbf039,#f5e031,#eecf29,#e9bf25,#e3b122,#dea120,#d7911d,#cf811c,#c6701a,#bc5e17,#b24f13,#ac4511,#ac4511,#ad4712,#aa4111,#a0340e,#90230c,#7c1409,#670d08,#550906,#560906,#7e170a,#b65615,#e1ab21,#f8ed37,#e5dd3b,#ddd43e,#ddd43e,#e1d93c,#eae23a,#f8f239,#f9eb37,#eece29,#e7ba24,#e1ab21,#d68f1d,#cf811c,#dfa620,#edc927,#f7e433,#f7e634,#ebc525,#d8941e,#b75615,#8d1f0b,#640c08,#440605,#2a0404,#1c0505)"></i><i style="top:233px;background:linear-gradient(90deg,#99965b,#a19d57,#aaa553,#b4ae4e,#bfb749,#cbc243,#d6cc40,#e1d93c,#f1e938,#fdf63c,#f8e735,#f1d62d,#ebc526,#e6b723,#e0a821,#da981e,#d2881c,#ca771a,#c16618,#b75615,#b04b13,#af4a12,#b04b13,#ad4612,#a3380f,#94270c,#81160a,#6b0e08,#580907,#550906,#791309,#b24f13,#dfa620,#f8eb36,#e4dc3c,#dad13e,#dbd23e,#ded63d,#e7df3b,#f6ef38,#fbef39,#efd12a,#e7bc24,#e2ad22,#d7921d,#ce801b,#dfa420,#ecc827,#f7e433,#f8e835,#ecc927,#da981e,#ba5b16,#90220c,#660c08,#460605,#2c0404,#1d0505)"></i><i style="top:234px;background:linear-gradient(90deg,#93925d,#9c9959,#a5a155,#afa950,#b9b24b,#c5bc46,#d1c741,#dcd33e,#e9e13a,#fcf73c,#faee38,#f4de30,#edcc28,#e8bd24,#e2ae22,#dc9f1f,#d58f1d,#cd7e1b,#c56d19,#bb5d16,#b45114,#b24f13,#b35014,#b04b13,#a73d10,#982b0d,#85180a,#6f0f09,#5b0a07,#550906,#751109,#ae4912,#dca020,#f7e936,#e4db3c,#d8cf3f,#d8cf3f,#dcd33e,#e4dc3c,#f3ec39,#fdf43b,#f0d42c,#e8be24,#e3af22,#d8951e,#ce7f1b,#dea220,#ecc727,#f7e433,#f9ea36,#eecd29,#db9d1f,#bd5f17,#92250c,#690d08,#480605,#2e0404,#1e0505)"></i><i style="top:235px;background:linear-gradient(90deg,#8d8c60,#97955b,#a09c57,#a9a553,#b4ae4e,#bfb748,#ccc243,#d6cd3f,#e2da3c,#f2eb38,#fdf53b,#f7e534,#f0d42c,#eac325,#e5b423,#dfa520,#d9951e,#d1851c,#c8741a,#c06418,#b85715,#b55314,#b65415,#b35014,#aa4311,#9c300d,#891b0a,#731109,#5f0b07,#560906,#701009,#a94211,#da9b1f,#f6e735,#e4db3c,#d6cd3f,#d6cd40,#d9d03f,#e1d93c,#f0e939,#fcf53b,#f2d72d,#e9bf25,#e3b122,#da981e,#ce7f1b,#dda01f,#ebc626,#f6e433,#f9eb37,#efd12b,#dda120,#c06418,#95280c,#6b0e08,#4a0605,#300504,#1f0505)"></i><i style="top:236px;background:linear-gradient(90deg,#878763,#91905e,#9b985a,#a4a055,#afa950,#bab24b,#c6bd45,#d1c841,#dcd43e,#eae23a,#fdf83d,#faec37,#f3db2f,#ecc927,#e7bb24,#e1ac21,#db9c1f,#d48c1d,#cc7b1b,#c46b19,#bc5e17,#b85815,#b95916,#b65515,#ae4812,#a0340e,#8d1f0b,#771209,#630b08,#570907,#6d0f08,#a43c10,#d7951e,#f6e533,#e4db3c,#d4cb40,#d3ca40,#d6cd3f,#dfd63d,#ede639,#fbf43b,#f3db2f,#eac125,#e4b322,#db9b1f,#ce7f1b,#dc9e1f,#ebc426,#f6e333,#faed38,#f1d52c,#dfa520,#c26819,#982b0d,#6e0f08,#4c0705,#320504,#200505)"></i><i style="top:237px;background:linear-gradient(90deg,#818266,#8b8b61,#96945c,#a09c57,#a9a553,#b4ae4e,#c0b848,#cdc342,#d7ce3f,#e3db3c,#f4ed38,#fcf33b,#f6e333,#efd12a,#e9c125,#e4b222,#dea220,#d7931d,#cf821c,#c7721a,#c06418,#bc5e17,#bb5d16,#ba5a16,#b24e13,#a4390f,#91240c,#7c1409,#670d08,#590907,#690e08,#a0360f,#d58e1d,#f5e232,#e4db3c,#d2c941,#d1c741,#d4ca40,#dcd33e,#eae23a,#fbf43a,#f4de31,#eac325,#e5b423,#dc9e1f,#ce801b,#db9c1f,#eac326,#f6e333,#fbee38,#f2d82e,#e0a921,#c46c19,#9a2e0d,#701009,#4d0706,#330504,#210505)"></i><i style="top:238px;background:linear-gradient(90deg,#7c7d68,#858664,#908f5f,#9b985a,#a5a055,#afa950,#bab34b,#c7bd45,#d2c941,#ddd53d,#ece43a,#fdf73c,#f9ea36,#f2d92e,#ecc726,#e6b823,#e0a921,#da991e,#d3891c,#cb791b,#c46b19,#bf6318,#be6217,#bd5f17,#b55414,#a83e10,#95280c,#81160a,#6b0e08,#5c0a07,#670d08,#9b300e,#d2881d,#f5df31,#e4dc3c,#d1c741,#cfc542,#d1c841,#d9d03f,#e7df3b,#faf33a,#f6e132,#ebc525,#e5b623,#dda01f,#cf811c,#db9a1e,#eac125,#f6e233,#fbef39,#f4dc30,#e2ad21,#c6701a,#9d310e,#721009,#4f0706,#340504,#210505)"></i><i style="top:239px;background:linear-gradient(90deg,#76786b,#808166,#8b8a61,#96945c,#a09c57,#aaa553,#b5ae4d,#c1b848,#cdc342,#d8cf3f,#e5dd3b,#f6ef39,#fcf13a,#f5e032,#eece29,#e8be24,#e3af22,#dda01f,#d6901d,#ce801b,#c7721a,#c36919,#c26719,#c06418,#b95916,#ac4411,#9a2d0d,#85190a,#701009,#600b07,#660d08,#972a0d,#cf811c,#f3db2f,#e5dd3b,#cfc541,#ccc242,#cfc542,#d6cd3f,#e5dc3c,#f8f239,#f7e434,#ebc726,#e6b723,#dea220,#cf821c,#da981e,#e9c025,#f6e232,#fbf139,#f5df31,#e3b022,#c8751a,#9f340e,#741109,#500806,#350504,#220505)"></i><i style="top:240px;background:linear-gradient(90deg,#71746d,#7a7c69,#858564,#908f5f,#9b985a,#a5a155,#b0aa50,#bbb44b,#c8be45,#d3ca40,#dfd63d,#eee639,#fdf63c,#f8e835,#f1d62d,#ebc426,#e5b623,#dfa720,#d9971e,#d2871c,#ca781b,#c66e1a,#c46c19,#c36919,#bd5f17,#b04b13,#9e320e,#8a1c0b,#751209,#640c08,#650c08,#92260c,#cb7b1b,#f1d62e,#e6de3b,#cdc442,#c9bf44,#ccc243,#d4ca40,#e2d93c,#f6f039,#f8e735,#ecc827,#e6b823,#dfa420,#d0831c,#d9961e,#e9bf25,#f6e132,#fcf23a,#f6e333,#e5b423,#ca791b,#a2360e,#771209,#520806,#360504,#230505)"></i><i style="top:241px;background:linear-gradient(90deg,#6b6f70,#74776b,#7f8067,#8a8a61,#96945c,#a09d57,#aaa552,#b6af4d,#c2b947,#cec542,#d9d03f,#e6de3b,#f9f33b,#fbef39,#f4dd30,#edcb27,#e7bc24,#e2ad22,#dc9d1f,#d58e1d,#ce7f1b,#c9741a,#c7701a,#c56e1a,#c06518,#b45114,#a2370f,#8f210b,#7b1309,#690d08,#660c08,#8e230c,#c8741a,#efd12c,#e8e03b,#ccc243,#c5bd46,#c8bf44,#d1c741,#dfd63d,#f4ed39,#f9ea36,#edca28,#e6b924,#dfa620,#d0841c,#d8951e,#e8bd24,#f5e132,#fcf23a,#f7e634,#e6b823,#cc7d1b,#a4390f,#791309,#530806,#370504,#230404)"></i><i style="top:242px;background:linear-gradient(90deg,#666a72,#6f726e,#797b69,#858564,#908f5f,#9b9959,#a5a155,#b0aa50,#bcb44a,#c9bf44,#d4cb40,#e0d83d,#f0e938,#fdf53c,#f7e534,#f0d32b,#eac225,#e4b323,#dfa420,#d8951e,#d1861c,#cb7a1b,#c9761a,#c8731a,#c36a19,#b85715,#a73d10,#93260c,#80150a,#6e0f08,#680d08,#8a200b,#c46d18,#edcb2b,#e9e23a,#cac143,#c2ba47,#c5bc46,#cec442,#dcd33e,#f1ea39,#faed38,#eecc28,#e7ba24,#e0a821,#d1861c,#d7931e,#e7bc24,#f5e032,#fcf33b,#f9e936,#e7bb24,#ce811b,#a73d10,#7b1409,#540906,#380504,#240404)"></i><i style="top:243px;background:linear-gradient(90deg,#606675,#6a6e70,#74776c,#7f8067,#8b8a61,#97955c,#a19d57,#aba652,#b7b04d,#c3ba47,#cfc641,#dbd23e,#e8e03a,#fcf63c,#faec38,#f3db2f,#ecc927,#e7ba24,#e1ab21,#db9b1f,#d48c1d,#ce801b,#cc7b1b,#ca781b,#c6701a,#bc5e17,#ab4311,#982b0d,#85180a,#731109,#6a0e08,#871d0b,#c06717,#ebc529,#ece43a,#c9c044,#bfb748,#c2b947,#cbc143,#dad13e,#efe839,#fbf039,#eece29,#e7bb24,#e1aa21,#d2871c,#d6911d,#e7ba24,#f5df31,#fdf43b,#faec37,#e8bf24,#d0841c,#a94111,#7d1409,#560906,#390505,#240404)"></i><i style="top:244px;background:linear-gradient(90deg,#5b6177,#646973,#6e726e,#797b69,#858564,#91905e,#9c9959,#a6a254,#b1ab4f,#bdb649,#cac143,#d6cc40,#e2d93c,#f3ec38,#fdf43b,#f6e233,#efd02a,#e9c025,#e3b122,#dea220,#d8931d,#d1861c,#ce801b,#cd7d1b,#c9751a,#c06418,#af4a12,#9d300e,#8a1c0b,#791309,#6e0f08,#841b0a,#bc6016,#e8be27,#eee63a,#c9c044,#bdb54a,#bfb749,#c8bf44,#d8ce3f,#ede639,#fcf33b,#efcf2a,#e7bc24,#e1ab21,#d3891c,#d6901d,#e6b924,#f5df31,#fdf53b,#fbef38,#eac225,#d2881c,#ab4411,#7f150a,#570907,#3a0505,#250404)"></i><i style="top:245px;background:linear-gradient(90deg,#565d79,#5f6575,#696d71,#74766c,#7f8067,#8b8b61,#97955b,#a19e57,#aca751,#b8b14c,#c4bc46,#d1c741,#dcd33e,#ebe33a,#fdf73c,#f9ea36,#f2d82e,#ebc626,#e6b723,#e0a821,#da9a1e,#d48d1d,#d1851c,#cf821c,#cc7b1b,#c36a19,#b45114,#a1360f,#8f220b,#7f150a,#721009,#82190a,#b85915,#e6b825,#f0e93b,#c9c044,#bbb34b,#bcb54a,#c5bc46,#d5cc40,#ebe43a,#fdf43b,#efd12a,#e8bd24,#e2ad21,#d48b1d,#d58e1d,#e6b823,#f4de31,#fdf53c,#fcf13a,#ebc526,#d48c1d,#ae4812,#81160a,#590907,#3b0505,#250404)"></i><i style="top:246px;background:linear-gradient(90deg,#525a7b,#5a6078,#646973,#6e726e,#7a7b69,#858664,#92905e,#9d9a59,#a7a354,#b3ac4f,#bfb749,#ccc243,#d7ce3f,#e4dc3c,#f5ef39,#fcf13a,#f5e031,#eecd28,#e8be24,#e3af22,#dda01f,#d7931d,#d48b1d,#d2871c,#cf811c,#c7711a,#b85815,#a63d10,#95270c,#85180a,#771209,#81170a,#b45214,#e3b123,#f2eb3c,#c9c044,#b8b14c,#b9b24b,#c2ba47,#d3ca40,#e9e13a,#fcf43b,#f0d32b,#e8be24,#e2ae22,#d48d1d,#d48d1d,#e5b623,#f4dd30,#fdf63c,#fdf33b,#ecc927,#d6901d,#b04c13,#83170a,#5a0a07,#3c0505,#260404)"></i><i style="top:247px;background:linear-gradient(90deg,#4f577c,#555c7a,#5f6476,#696d71,#74776c,#808166,#8c8b61,#98965b,#a29f56,#ada851,#b9b24b,#c6bd45,#d2c941,#ded53d,#ede639,#fcf53c,#f8e735,#f1d52c,#eac425,#e5b523,#dfa720,#da991e,#d6901d,#d48c1d,#d1861c,#ca771a,#bd5f17,#ab4311,#9a2d0d,#8a1c0b,#7d1409,#81160a,#b04c13,#e1aa21,#f5ee3d,#cac044,#b6af4d,#b7b04d,#bfb748,#d1c741,#e7df3b,#fbf33a,#f1d42c,#e8be24,#e3b022,#d58f1d,#d48b1d,#e5b523,#f4dc30,#fdf63c,#fdf63c,#eecd29,#d8931e,#b24f14,#86170a,#5c0a07,#3d0505,#260404)"></i><i style="top:248px;background:linear-gradient(90deg,#4c547d,#52597b,#596078,#646973,#6f726e,#7a7c69,#868663,#93915d,#9e9b58,#a8a453,#b4ae4e,#c0b848,#cdc442,#d9d03f,#e6de3b,#f9f33b,#fbee38,#f4dd30,#edca27,#e7bb24,#e2ad21,#dd9f1f,#d9961e,#d7911d,#d48b1d,#cd7d1b,#c16618,#b04b13,#9f330e,#90220b,#82160a,#82160a,#ac4712,#dea420,#f5ed3b,#cac144,#b4ae4e,#b4ae4e,#bcb54a,#cec542,#e5dd3b,#fbf33a,#f1d62d,#e9bf25,#e3b122,#d6911d,#d38a1d,#e4b423,#f3dc2f,#fef63c,#fef83d,#efd12b,#d9971e,#b45214,#87190a,#5d0a07,#3d0505,#270404)"></i><i style="top:249px;background:linear-gradient(90deg,#49517e,#4e567c,#555c7a,#5f6476,#696e71,#75776b,#818266,#8d8c60,#99975b,#a4a056,#afa950,#bbb34b,#c8bf44,#d4ca40,#e0d73d,#f0e938,#fdf53b,#f7e434,#f0d22b,#eac125,#e4b323,#dfa620,#db9b1e,#d9951e,#d68f1d,#cf821c,#c46c19,#b45114,#a4390f,#95280c,#881a0a,#84170a,#a84211,#db9e1f,#f4ea39,#cbc244,#b2ac4f,#b1ab4f,#b9b24b,#cbc243,#e3da3c,#faf23a,#f2d72d,#e9c025,#e4b222,#d7931d,#d3891c,#e4b322,#f3db2f,#fef63c,#fef83d,#f1d52d,#db9a1f,#b75615,#891b0a,#5e0a07,#3e0505,#270404)"></i><i style="top:250px;background:linear-gradient(90deg,#464e7f,#4b537d,#51597b,#5a6078,#646973,#6f736e,#7b7d68,#878763,#94935d,#9f9c58,#aaa553,#b6af4d,#c2ba47,#cfc542,#dbd23e,#e9e13a,#fcf63c,#faec37,#f3da2f,#ecc827,#e7b924,#e1ac21,#dda01f,#db9a1e,#d8941e,#d2871c,#c7721a,#b85815,#a83f10,#9a2e0d,#8d1f0b,#87180a,#a53d10,#d8971f,#f4e737,#ccc343,#b0aa50,#afa950,#b6b04d,#c9c044,#e1d83d,#f9f239,#f2d92e,#e9c125,#e4b423,#d8951e,#d2881c,#e3b122,#f3da2f,#fef73c,#fdf83d,#f2d82e,#dc9e1f,#b95916,#8b1d0b,#600b07,#3f0505,#280404)"></i><i style="top:251px;background:linear-gradient(90deg,#434b80,#48507e,#4e567c,#555c7a,#5f6575,#6a6e70,#76786b,#828365,#8e8e5f,#9a985a,#a5a155,#b0ab50,#bdb54a,#cac043,#d6cc40,#e2da3c,#f3ec38,#fcf33a,#f6e132,#efcf29,#e9bf25,#e4b222,#dfa620,#dc9f1f,#da981e,#d48c1d,#ca781b,#bd5f17,#ad4712,#9f340e,#93250c,#8b1c0b,#a2390f,#d6911e,#f4e534,#cdc543,#afa950,#aca752,#b3ad4e,#c6bd45,#ded63d,#f9f139,#f3db2f,#eac225,#e5b523,#d9961e,#d2881c,#e3b022,#f2d92e,#fef73c,#fdf73c,#f4dc30,#dda120,#bb5c16,#8d1f0b,#610b07,#400605,#280404)"></i><i style="top:252px;background:linear-gradient(90deg,#404881,#454d7f,#4b537d,#51597b,#5a6078,#656a73,#70746d,#7c7e68,#898962,#96945c,#a09d57,#aba652,#b7b04c,#c4bb46,#d1c741,#ddd43e,#ece43a,#fcf53c,#f8e936,#f2d72d,#ebc626,#e6b823,#e1ac21,#dea420,#dc9d1f,#d7911d,#cd7e1b,#c16618,#b24e13,#a43a0f,#982b0d,#8f210b,#a0360f,#d38b1d,#f4e232,#cfc642,#ada851,#a9a553,#b0ab4f,#c3ba47,#dcd33e,#f8f139,#f4dc30,#eac225,#e5b623,#da981e,#d2871c,#e3af22,#f2d82e,#fef73c,#fcf73c,#f5df31,#dea420,#bd5f17,#8f210b,#620b08,#410605,#290404)"></i><i style="top:253px;background:linear-gradient(90deg,#3d4582,#424a80,#48507e,#4e567c,#555c7a,#606575,#6b6f70,#77796a,#838465,#908f5f,#9c9959,#a7a254,#b2ac4f,#bfb749,#ccc243,#d8ce3f,#e5dd3b,#f7f13a,#fbf039,#f4de31,#eecc28,#e8be24,#e4b122,#e0a921,#dea220,#d9961e,#d0841c,#c56d19,#b75615,#aa4111,#9d310e,#93260c,#9f340e,#d0851c,#f3df31,#d1c842,#aca752,#a7a254,#aea851,#c0b848,#dad13e,#f7f039,#f4de31,#eac325,#e6b723,#db9a1f,#d1871c,#e2ae22,#f2d72d,#fef73c,#fcf63c,#f6e333,#e0a821,#bf6318,#90230c,#630b08,#420605,#290404)"></i><i style="top:254px;background:linear-gradient(90deg,#3a4383,#3f4881,#454d7f,#4b537d,#52597b,#5b6177,#666b72,#71756d,#7e7f67,#8a8a61,#97955b,#a29e56,#ada851,#b9b24b,#c6bd45,#d3c940,#dfd63d,#efe739,#fdf53c,#f7e634,#f0d42c,#eac325,#e6b723,#e2ae22,#dfa620,#db9b1f,#d38a1c,#c8741a,#bc5d17,#af4912,#a3370f,#982b0d,#9f330e,#ce7f1b,#f2dc2f,#d3ca41,#aba652,#a4a055,#aba652,#bdb54a,#d8cf3f,#f6ef39,#f5df31,#eac425,#e6b823,#db9c1f,#d1861c,#e2ad21,#f2d72d,#fef73c,#fbf63c,#f7e634,#e1ab21,#c16618,#92250c,#650c08,#430605,#2a0404)"></i><i style="top:255px;background:linear-gradient(90deg,#374084,#3c4582,#424a80,#48507e,#4f567c,#565d7a,#616675,#6c706f,#787a6a,#858564,#92905e,#9d9a59,#a8a453,#b4ae4e,#c1b948,#cec442,#dad13e,#e8e03b,#fbf63c,#faed38,#f3db2f,#edca27,#e8bd24,#e4b322,#e1ab21,#dda11f,#d6901d,#cb7a1b,#c06518,#b45114,#a83e10,#9d310e,#9f340e,#ca791a,#f2d92f,#d5cd40,#aaa553,#a29e57,#a8a354,#bab34b,#d6cd40,#f4ed3a,#f6e132,#ebc525,#e6b923,#dc9e1f,#d1861c,#e1ab21,#f1d62d,#fef73c,#fbf53b,#f9e936,#e2ae22,#c26919,#94270c,#660c08,#430605,#2a0404)"></i><i style="top:256px;background:linear-gradient(90deg,#343d85,#394283,#3f4781,#454d7f,#4c537d,#525a7b,#5c6277,#676c72,#73766c,#7f8066,#8c8c61,#99965b,#a4a056,#afa950,#bbb44a,#c9c044,#d5cb40,#e2d93c,#f3ec38,#fdf33b,#f6e233,#efd12a,#eac225,#e6b823,#e3b022,#dfa620,#d9961e,#cf811c,#c46c19,#b85815,#ad4612,#a2370e,#a1350e,#c7731a,#f2d72f,#d8cf40,#a9a553,#9f9c58,#a5a155,#b7b04d,#d4ca40,#f3ec3a,#f6e333,#ebc526,#e7ba24,#dda01f,#d1861c,#e1aa21,#f1d52c,#fef73c,#faf43b,#faec37,#e3b122,#c46c19,#95280c,#670c08,#440605,#2a0404)"></i><i style="top:257px;background:linear-gradient(90deg,#313a86,#363f84,#3c4582,#424a80,#48507e,#4f577c,#575e79,#626774,#6e716f,#7a7c69,#878763,#94925d,#9f9c58,#aaa552,#b6b04d,#c3bb47,#d0c741,#dcd33e,#ebe33a,#fcf53b,#f9e936,#f2d82e,#ecc827,#e8bd24,#e5b523,#e1ab21,#db9b1f,#d2871c,#c8731a,#bd6017,#b24e13,#a73d10,#a3380f,#c46e19,#efd12d,#dad23f,#a9a453,#9c9a59,#a29e56,#b4ad4e,#d2c841,#f1ea3a,#f7e434,#ebc626,#e7ba24,#dda220,#d1861c,#e1a921,#f1d42c,#fef73c,#faf43a,#fbef39,#e4b423,#c56e19,#972a0d,#680d08,#450605,#2b0404)"></i><i style="top:258px;background:linear-gradient(90deg,#2e3887,#333d85,#394283,#3f4881,#454e7f,#4c547d,#535a7b,#5d6376,#696d71,#75776b,#818266,#8e8d60,#9b985a,#a6a155,#b1ab4f,#beb649,#cbc243,#d7ce3f,#e4dc3c,#f7f03a,#fbf039,#f5df31,#efcf29,#eac225,#e7ba24,#e3b022,#dda120,#d58e1d,#cb7a1b,#c26718,#b75615,#ac4511,#a63c0f,#c26a18,#edcb2b,#ddd53e,#a9a453,#9a975a,#9f9c58,#b1ab4f,#cfc642,#efe83a,#f7e634,#ecc726,#e7bb24,#dea320,#d1861c,#e0a821,#f0d42c,#fdf73c,#f9f33a,#fcf23a,#e5b623,#c7711a,#982c0d,#690d08,#460605,#2b0404)"></i><i style="top:259px;background:linear-gradient(90deg,#2c3686,#303a86,#363f84,#3c4582,#424b80,#49517e,#50577c,#585f78,#646973,#6f736e,#7c7d68,#898962,#96945c,#a19d57,#aca751,#b9b24c,#c6bd45,#d2c940,#dfd63d,#efe739,#fdf63c,#f8e635,#f1d62d,#ecc826,#e8be24,#e5b523,#e0a720,#d8941e,#cf811c,#c66e1a,#bc5d17,#b14d13,#a94110,#c06617,#ebc529,#e0d83d,#a9a453,#98955b,#9c9959,#aea851,#cdc343,#eee63a,#f8e735,#ecc826,#e8bc24,#dfa520,#d2871c,#e0a821,#f0d32b,#fdf73c,#f9f33a,#fdf53b,#e6b924,#c8741a,#9a2d0d,#6a0e08,#460605,#2c0404)"></i><i style="top:260px;background:linear-gradient(90deg,#2b3586,#2d3787,#333d85,#394283,#3f4881,#464e7f,#4d547d,#545b7a,#5f6476,#6a6e70,#77796b,#838465,#918f5e,#9c9a59,#a8a354,#b4ad4e,#c0b848,#cec442,#dad13f,#e8e03b,#fbf63c,#faed38,#f4dd30,#eece29,#eac325,#e7ba24,#e2ac21,#db9a1e,#d2871c,#c9751a,#c06518,#b65415,#ad4712,#be6317,#e9bf27,#e3db3c,#a9a553,#95935d,#99975a,#aba652,#cac144,#ece53a,#f8e936,#ecc927,#e8bd24,#dfa620,#d2871c,#e0a720,#f0d22b,#fdf73c,#f8f239,#fef73d,#e7bc24,#c9761a,#9b2f0d,#6b0e08,#470605,#2c0404)"></i><i style="top:261px;background:linear-gradient(90deg,#2a3485,#2c3686,#303a86,#364084,#3c4582,#434b80,#4a527e,#51587b,#5a6078,#656a72,#71746d,#7e7f67,#8b8b61,#98965b,#a39f56,#afa950,#bbb44a,#c9bf44,#d5cb40,#e2d93c,#f3ec39,#fdf33b,#f6e433,#f1d42c,#ecc826,#e9bf24,#e4b222,#dda01f,#d58e1d,#cc7c1b,#c46c19,#ba5c16,#b24e13,#be6217,#e6b926,#e6de3b,#aaa553,#92905e,#96945c,#a8a354,#c7bf45,#ebe33b,#f9ea36,#edc927,#e8be24,#e0a821,#d2881c,#dfa620,#f0d22b,#fdf73c,#f8f139,#fdf63c,#e8be24,#cb791b,#9c300e,#6c0e08,#470605,#2c0404)"></i><i style="top:262px;background:linear-gradient(90deg,#293384,#2b3586,#2d3787,#333d85,#3a4383,#404981,#474f7f,#4e557c,#555c7a,#606675,#6c706f,#797b6a,#868664,#93925d,#9f9b58,#aaa553,#b6af4d,#c3bb47,#d0c741,#dcd43e,#ece43a,#fcf53b,#f9ea36,#f3db2f,#eece29,#eac425,#e6b723,#dfa620,#d8941e,#d0831c,#c8731a,#bf6318,#b65415,#be6117,#e4b324,#e9e13b,#aba652,#8f8e5f,#93915d,#a5a155,#c5bc46,#e9e13b,#f9eb37,#edca27,#e8be24,#e1a921,#d2881c,#dfa520,#efd12a,#fdf73c,#f7f139,#fcf63c,#e9c125,#cc7b1b,#9e320e,#6d0f08,#480605,#2c0404)"></i><i style="top:263px;background:linear-gradient(90deg,#283284,#2a3485,#2c3686,#313a86,#374084,#3d4682,#444c80,#4b527d,#52597b,#5b6277,#676c72,#74766c,#808166,#8e8d60,#9a985a,#a5a155,#b1ab4f,#beb649,#ccc243,#d7ce3f,#e5dd3b,#f9f33b,#fbf039,#f6e132,#f1d42c,#ecc927,#e8bc24,#e2ac21,#db9a1e,#d38a1c,#cb7a1b,#c36a19,#ba5b16,#be6217,#e2ad22,#ece43c,#aca752,#8c8c61,#8f8e5f,#a29e56,#c2ba47,#e8e03b,#faed38,#edcb28,#e9bf24,#e1ab21,#d3891c,#dfa420,#efd02a,#fdf73c,#f7f038,#fbf53b,#eac325,#cd7e1b,#9f330e,#6e0f08,#480605,#2d0404)"></i><i style="top:264px;background:linear-gradient(90deg,#273083,#293284,#2b3586,#2e3887,#343d85,#3a4383,#414981,#48507e,#4f567c,#575e79,#626874,#6e726e,#7b7d68,#888862,#96945c,#a19d57,#aca751,#b9b24c,#c6bd45,#d3c940,#dfd73d,#f0e938,#fdf63c,#f8e835,#f3db2f,#efcf29,#eac125,#e4b222,#dda01f,#d6901d,#ce801b,#c7711a,#bf6218,#bf6418,#e0a821,#eee73d,#ada851,#8a8962,#8b8b61,#9f9c58,#c0b848,#e6de3b,#fbee38,#edcc28,#e9c025,#e2ac21,#d38a1c,#dea420,#efd02a,#fdf73c,#f7f038,#fbf43b,#ebc626,#ce801b,#a0340e,#6f0f09,#490605,#2d0404)"></i><i style="top:265px;background:linear-gradient(90deg,#262f82,#283183,#2a3485,#2c3686,#313b86,#374184,#3e4781,#454d7f,#4c537d,#535a7b,#5e6376,#696e71,#76786b,#838465,#908f5f,#9c9a59,#a8a354,#b4ad4e,#c1b948,#cec542,#dad13e,#e9e13a,#fbf53b,#faee38,#f5e132,#f1d52c,#ecc726,#e6b723,#dfa620,#d9961e,#d2871c,#ca781b,#c36919,#c16618,#dea320,#f1ea3d,#afa950,#878763,#888863,#9c9959,#bdb649,#e5dc3b,#fbf039,#eecc28,#e9c025,#e2ad22,#d38b1d,#dea320,#efd02a,#fdf73c,#f6ef38,#faf33a,#ecc927,#cf821c,#a1360e,#701009,#490605,#2d0404)"></i><i style="top:266px;background:linear-gradient(90deg,#252e81,#273083,#293384,#2b3586,#2e3887,#353e85,#3b4482,#424a80,#49517e,#50577c,#595f78,#656973,#71746d,#7e7f67,#8b8a61,#98965b,#a39f56,#afa950,#bcb44a,#cac044,#d6cc40,#e3da3c,#f5ee39,#fcf33b,#f8e635,#f3db2f,#eecc28,#e8bd24,#e2ac21,#dc9c1f,#d58d1d,#cd7e1b,#c6701a,#c36a19,#dc9f20,#f2ea3d,#b0aa50,#858564,#848564,#99965b,#bab34b,#e3db3c,#fcf13a,#eecd29,#e9c125,#e3af22,#d48c1d,#dea320,#efcf29,#fdf73d,#f6ef38,#f9f23a,#edcb28,#d0841c,#a2370f,#711009,#4a0605,#2d0404)"></i><i style="top:267px;background:linear-gradient(90deg,#242d81,#262f82,#283183,#2a3485,#2c3687,#323b85,#384183,#3f4881,#464e7f,#4d557d,#545b7a,#606575,#6c706f,#797b6a,#868664,#93925d,#9f9c58,#aaa552,#b7b04d,#c4bb46,#d1c841,#ded53d,#ede639,#fdf73c,#faec37,#f5e032,#f0d32b,#eac225,#e4b222,#dea220,#d8931e,#d1851c,#ca761a,#c56e1a,#da9c1f,#f2e83a,#b2ac4f,#838365,#808166,#95935c,#b8b14c,#e2d93c,#fcf23a,#eece29,#eac125,#e3b022,#d48c1d,#dea220,#efcf29,#fef73d,#f5ee37,#f8f239,#eece2a,#d1861c,#a3380f,#721009,#4a0605,#2d0404)"></i><i style="top:268px;background:linear-gradient(90deg,#242c80,#252e81,#273083,#293384,#2c3586,#2f3986,#363f84,#3c4582,#434b80,#4a527e,#51597b,#5b6177,#676c72,#74766c,#808166,#8e8d60,#9b985a,#a6a254,#b2ac4f,#bfb749,#cdc342,#d9d03f,#e7df3b,#faf43b,#fcf13a,#f7e634,#f2d92e,#ecc726,#e6b723,#e0a821,#da991e,#d48b1d,#cd7d1b,#c8731a,#d9991f,#f2e638,#b4ae4e,#818266,#7d7e68,#91905e,#b5af4d,#e0d83d,#fcf33b,#eece29,#eac225,#e3b122,#d58d1d,#dea220,#eecf29,#fef73d,#f5ee37,#f8f139,#efd12b,#d2881c,#a4390f,#721009,#4a0605,#2d0404)"></i><i style="top:269px;background:linear-gradient(90deg,#232b7f,#242d81,#262f82,#283284,#2b3485,#2d3787,#333c85,#394283,#404981,#474f7e,#4e567c,#575d79,#626774,#6f726e,#7b7d68,#898962,#96945c,#a29e57,#ada851,#bab34b,#c8be45,#d4cb40,#e1d93c,#f2eb39,#fef73c,#f9eb37,#f5df31,#eecd28,#e8bd24,#e2ae22,#dd9f1f,#d7911d,#d0831c,#ca781b,#d8961e,#f2e336,#b7b04d,#7f8066,#797b69,#8e8d60,#b2ac4f,#dfd63d,#fcf33b,#efcf29,#eac225,#e4b222,#d58e1d,#dea120,#eece29,#fef73d,#f4ed37,#f7f038,#f0d32c,#d38a1c,#a53b0f,#731109,#4a0705,#2d0404)"></i><i style="top:270px;background:linear-gradient(90deg,#222a7f,#232c80,#252e81,#273183,#2a3385,#2c3686,#303a86,#374084,#3d4682,#444d7f,#4c537d,#535a7b,#5e6376,#6a6e70,#76796b,#848465,#91905e,#9d9a59,#a9a453,#b5af4d,#c2ba47,#d0c641,#dcd33e,#ebe33a,#fcf73c,#fbf139,#f7e434,#f0d42c,#eac225,#e4b323,#dfa520,#d9971e,#d3891c,#cd7d1b,#d8951e,#f2e134,#b9b24b,#7e7f67,#75786b,#8a8a61,#b0aa50,#ddd43e,#fcf33a,#efcf29,#eac325,#e4b323,#d68f1d,#dda120,#eece29,#fef83d,#f4ed37,#f6f038,#f1d62d,#d48c1d,#a63c0f,#731109,#4b0705,#2d0404)"></i><i style="top:271px;background:linear-gradient(90deg,#21297e,#232b7f,#252d81,#272f82,#293284,#2b3585,#2e3887,#343d85,#3b4483,#424a80,#49517e,#50577c,#595f78,#656a73,#72756d,#7f8067,#8c8b61,#99975b,#a4a055,#b0ab50,#bdb649,#cbc243,#d7ce3f,#e5dd3b,#f8f23b,#fdf53c,#f9ea36,#f3da2f,#ecc726,#e6b823,#e1ab21,#dc9d1f,#d68f1d,#d0831c,#d7941e,#f1df32,#bcb44a,#7d7e68,#72756d,#868763,#ada851,#dcd33e,#fbf23a,#efd02a,#eac425,#e5b423,#d6901d,#dda11f,#eece29,#fef83d,#f3ec38,#f6ef38,#f2d82e,#d58e1d,#a73d10,#741109,#4b0705,#2d0404)"></i><i style="top:272px;background:linear-gradient(90deg,#20287d,#222a7f,#242c80,#262e82,#283183,#2a3385,#2c3686,#313b86,#384183,#3f4881,#464e7f,#4d557d,#555c7a,#606675,#6d706f,#7a7c69,#878763,#95935d,#a09d57,#aca752,#b9b14c,#c6bd45,#d3ca40,#e0d73d,#f0e938,#fef83d,#fbef39,#f5e031,#eecd28,#e8bd24,#e3b022,#dea220,#d8951e,#d2881c,#d7941e,#f1dd30,#beb749,#7c7d68,#6e726e,#838365,#aba652,#dad13e,#fbf23a,#efd02a,#ebc425,#e5b523,#d7911d,#dda11f,#eece29,#fef83d,#f3eb38,#f4ed38,#f3db2f,#d68f1d,#a73e10,#741109,#4b0705,#2d0404)"></i><i style="top:273px;background:linear-gradient(90deg,#1f277d,#21297e,#232b7f,#252d81,#273082,#293284,#2b3586,#2f3986,#353f84,#3c4582,#434b80,#4a527d,#52597b,#5c6277,#686c71,#75776b,#828365,#908f5f,#9c9959,#a8a354,#b4ae4e,#c1b948,#cfc542,#dbd23e,#e9e23a,#fbf53b,#fdf43b,#f7e534,#f0d32b,#eac225,#e5b523,#e0a821,#db9a1e,#d58e1d,#d8951e,#f1db2f,#c1b948,#7b7d69,#6b6f70,#7f8067,#a8a353,#d9d03f,#fbf23a,#efd12a,#ebc525,#e5b623,#d7921d,#dda11f,#eece29,#fef83d,#f2eb38,#f3ec38,#f4dd30,#d6911d,#a83f10,#741109,#4b0705,#2d0404)"></i><i style="top:274px;background:linear-gradient(90deg,#1e257c,#20287d,#222a7f,#242c80,#262f82,#283183,#2a3485,#2d3787,#333c85,#394383,#404981,#48507e,#4f567c,#585e79,#636873,#70736e,#7d7e68,#8b8a61,#98965b,#a39f56,#afaa50,#bcb54a,#cac143,#d6cd3f,#e4db3c,#f6f03a,#fef73d,#f9eb37,#f3d92e,#ecc726,#e7ba24,#e2ad22,#dda01f,#d8931d,#d9961e,#f1d92e,#c3bb47,#7a7c69,#676c72,#7b7d68,#a6a155,#d8cf3f,#fbf23a,#efd12a,#ebc526,#e6b723,#d8931d,#dda11f,#eece29,#fef93d,#f1ea38,#f2eb38,#f5df31,#d7921d,#a84010,#751109,#4b0705,#2d0404)"></i><i style="top:275px;background:linear-gradient(90deg,#1d247b,#1f277d,#21297e,#232b80,#252e81,#273083,#293384,#2c3686,#303a86,#374084,#3e4782,#454d7f,#4c547d,#545b7a,#5f6575,#6b6f70,#787a6a,#868664,#94925d,#9f9c58,#aba652,#b8b14c,#c5bc46,#d2c941,#dfd63d,#eee739,#fef83d,#fbf039,#f5df31,#eecd28,#e9bf24,#e4b222,#dfa520,#da991e,#da981e,#f1d82e,#c5be47,#7a7c69,#646973,#77796a,#a39f56,#d7cd3f,#faf13a,#f0d22b,#ebc626,#e6b823,#d8941e,#dda11f,#eece29,#fef83d,#f1e938,#f1ea39,#f5e132,#d8931d,#a94110,#751109,#4b0705,#2d0404)"></i><i style="top:276px;background:linear-gradient(90deg,#1c237b,#1e257c,#20287d,#222a7f,#242d81,#262f82,#293284,#2b3485,#2e3887,#343e85,#3b4482,#424b80,#49517e,#51587b,#5b6177,#676b72,#74766c,#818266,#8f8e5f,#9b9959,#a7a254,#b3ad4e,#c0b848,#cec442,#dad13e,#e8e03b,#faf33a,#fdf53c,#f7e434,#f0d32b,#eac325,#e6b723,#e1aa21,#dc9e1f,#db9b1e,#f1d72e,#c8c046,#7a7c69,#606675,#73766c,#a19d57,#d5cc40,#faf139,#f0d22b,#ebc626,#e6b923,#d8951e,#dda11f,#efcf29,#fdf83d,#f0e938,#f0e939,#f6e333,#d8941e,#a94111,#751109,#4b0705,#2d0404)"></i><i style="top:277px;background:linear-gradient(90deg,#1b227a,#1d247b,#1f277d,#21297e,#232c80,#262e81,#283183,#2a3385,#2c3686,#323b85,#394283,#404881,#474f7f,#4e567c,#575d79,#626874,#6f726e,#7c7e68,#8a8962,#97955b,#a39f56,#afa950,#bcb44a,#cac043,#d6cd40,#e3da3c,#f4ee3a,#fef73d,#f9ea36,#f2d82e,#ecc827,#e7bc24,#e3af22,#dea320,#dc9e1f,#f1d62e,#cbc345,#7a7c69,#5d6376,#70736e,#9e9b58,#d4cb40,#faf139,#f0d22b,#ebc726,#e7ba24,#d9961e,#dda11f,#efcf29,#fdf83d,#efe839,#efe839,#f7e434,#d9951e,#aa4211,#751109,#4a0705,#2c0404)"></i><i style="top:278px;background:linear-gradient(90deg,#1b2179,#1c237b,#1e267c,#20287e,#232b7f,#252d81,#273082,#293284,#2b3586,#2f3986,#363f84,#3d4682,#444c7f,#4c537d,#535a7b,#5e6476,#6b6f70,#787a6a,#858564,#93915d,#9f9c58,#aba652,#b7b04c,#c5bc46,#d2c841,#ded53d,#ede639,#fdf83d,#fbef39,#f4de30,#eecd28,#e9c025,#e4b423,#e0a821,#dda120,#f0d22d,#cdc644,#7a7c69,#596078,#6c706f,#9b9859,#d3c941,#faf139,#f0d32b,#ecc726,#e7ba24,#d9971e,#dda11f,#efcf2a,#fdf83d,#efe739,#eee739,#f7e635,#d9961e,#aa4211,#751109,#4a0605,#2c0404)"></i><i style="top:279px;background:linear-gradient(90deg,#1a2079,#1c227a,#1e257c,#20277d,#222a7f,#242c80,#262f82,#283184,#2b3485,#2d3787,#343d85,#3b4483,#424a80,#49517e,#51587b,#5a6078,#666b72,#73766c,#808166,#8e8d60,#9b985a,#a7a254,#b3ad4e,#c0b848,#cec442,#dad13e,#e7df3b,#f9f33a,#fdf43b,#f6e333,#f0d32b,#ebc425,#e6b823,#e2ac21,#dfa520,#efd02c,#d0c843,#7b7d68,#565d79,#686c71,#98965b,#d1c841,#faf139,#f0d32b,#ecc826,#e7bb24,#da971e,#dda120,#efd02a,#fdf73c,#eee739,#ede639,#f8e835,#d9971e,#aa4211,#751109,#4a0605,#2c0404)"></i><i style="top:280px;background:linear-gradient(90deg,#191f78,#1b2279,#1d247b,#1f267c,#21297e,#232b80,#252e81,#273183,#2a3385,#2c3686,#313b86,#384183,#3f4881,#474f7f,#4e567c,#565d79,#626774,#6f726e,#7c7e68,#8a8962,#97955b,#a39f56,#afa950,#bcb44a,#cac143,#d6cd40,#e3da3c,#f5ee3a,#fdf63c,#f8e835,#f2d82e,#ecc927,#e8bd24,#e3b122,#e0a821,#eecd2b,#d3cb42,#7c7d68,#545b7a,#646973,#95935c,#d0c742,#f9f039,#f0d32b,#ecc826,#e7bc24,#da981e,#dea220,#efd02a,#fcf73c,#ede639,#ede539,#f9e936,#da981e,#aa4211,#741109,#4a0605,#2b0404)"></i><i style="top:281px;background:linear-gradient(90deg,#181e77,#1a2179,#1c237a,#1e257c,#20287d,#222a7f,#242d81,#273082,#293284,#2b3586,#2f3986,#363f84,#3d4682,#444c7f,#4c537d,#535a7b,#5e6476,#6b6f70,#787a6a,#858664,#94925d,#9f9c58,#aba652,#b8b14c,#c6bd45,#d2c941,#ded63d,#eee639,#fdf83d,#faec37,#f4dc30,#eecd29,#e9c125,#e5b523,#e1ac21,#edcb2a,#d6ce41,#7d7e68,#52597b,#616675,#93915e,#cfc642,#f9f039,#f0d42c,#ecc927,#e8bd24,#da991e,#dea220,#efd12a,#fcf63c,#ede539,#ece43a,#f9ea37,#da981e,#aa4211,#741109,#490605,#2b0404)"></i><i style="top:282px;background:linear-gradient(90deg,#171d77,#192078,#1b227a,#1d247b,#1f277d,#222a7f,#242c80,#262f82,#283183,#2b3485,#2d3787,#343d85,#3b4483,#424a80,#49517e,#51587b,#5b6177,#676c72,#74776c,#818266,#8f8e5f,#9c9959,#a8a354,#b4ae4e,#c2b947,#cfc542,#dad13e,#e8e13a,#fbf53b,#fbf039,#f5e132,#f0d22b,#ebc425,#e6b923,#e3af22,#edca2a,#d9d140,#7e7f67,#50577c,#5d6376,#908f5f,#cec543,#f9f039,#f0d42c,#edca27,#e8bd24,#da9a1e,#dea220,#f0d22b,#fcf63c,#ece439,#ebe33a,#faec37,#da991e,#aa4211,#741109,#490605,#2b0404)"></i><i style="top:283px;background:linear-gradient(90deg,#171d76,#191f78,#1b2279,#1d247b,#1f277d,#21297e,#232c80,#262e82,#283183,#2a3485,#2d3687,#333c85,#3a4383,#414981,#48507e,#50577c,#595f78,#656a73,#72756d,#7f8067,#8d8c60,#9a985a,#a6a155,#b2ac4f,#bfb748,#cdc342,#d8cf3f,#e6de3b,#f9f33a,#fcf33a,#f6e333,#f1d42c,#ebc626,#e7bb24,#e3b122,#ecc929,#dad240,#7e8067,#4f567c,#5b6177,#8e8d60,#cdc443,#f9f039,#f1d42c,#edca27,#e8be24,#db9a1e,#dea320,#f0d22b,#fbf63c,#ece43a,#eae33a,#faec38,#da991e,#aa4211,#741109,#490605,#2b0404)"></i></div>
<svg width="520" height="416" viewBox="0 0 520 416"><rect x="40" y="70.4" width="113.5" height="2.6" fill="#fff"/>
<text x="122.5" y="66.6" font-size="12.5" fill="#fff" font-weight="bold" textLength="6.2" lengthAdjust="spacingAndGlyphs">T</text>
<text x="129.3" y="68.7" font-size="7.2" fill="#fff" font-weight="bold" textLength="18" lengthAdjust="spacingAndGlyphs">CDW</text>
<text x="43.3" y="18.2" font-size="11.5" fill="#fff" font-weight="bold" textLength="14.8" lengthAdjust="spacingAndGlyphs">(a)</text>
<path d="M72.8,9.5 L85.4,70.4" stroke="#1a1008" stroke-width="0.9" fill="none"/>
<path d="M72,5.6 L68.4,11.6 L76.2,11.4 Z" fill="#0a0806"/>
<path d="M82.44,73 L83.82,78.44 L85.18,83.89 L86.53,89.33 L87.86,94.77 L89.18,100.22 L90.48,105.66 L91.77,111.11 L93.03,116.55 L94.28,121.99 L95.5,127.44 L96.7,132.88 L97.87,138.32 L99.02,143.77 L100.14,149.21 L101.24,154.65 L102.31,160.1 L103.34,165.54 L104.35,170.98 L105.32,176.43 L106.25,181.87 L107.16,187.32 L108.02,192.76 L108.85,198.2 L109.64,203.65 L110.39,209.09 L111.09,214.53 L111.76,219.98 L112.38,225.42 L112.96,230.86 L113.49,236.31 L113.97,241.75 L114.4,247.19 L114.78,252.64 L115.12,258.08 L115.4,263.53 L115.62,268.97 L115.79,274.41 L115.91,279.86 L115.97,285.3" stroke="#151515" stroke-width="0.9" fill="none" stroke-dasharray="2.2,1.6"/>
<path d="M92.36,73 L94.31,78.44 L96.25,83.89 L98.17,89.33 L100.07,94.77 L101.96,100.22 L103.82,105.66 L105.66,111.11 L107.47,116.55 L109.25,121.99 L111.01,127.44 L112.73,132.88 L114.42,138.32 L116.08,143.77 L117.7,149.21 L119.28,154.65 L120.82,160.1 L122.32,165.54 L123.77,170.98 L125.18,176.43 L126.55,181.87 L127.86,187.32 L129.12,192.76 L130.33,198.2 L131.48,203.65 L132.58,209.09 L133.62,214.53 L134.6,219.98 L135.51,225.42 L136.37,230.86 L137.16,236.31 L137.88,241.75 L138.53,247.19 L139.11,252.64 L139.61,258.08 L140.04,263.53 L140.4,268.97 L140.68,274.41 L140.87,279.86 L140.99,285.3" stroke="#151515" stroke-width="0.9" fill="none" stroke-dasharray="2.2,1.6"/>
<path d="M80.8,215.7 L81.15,217.48 L81.49,219.27 L81.84,221.05 L82.19,222.84 L82.54,224.62 L82.88,226.41 L83.23,228.19 L83.58,229.98 L83.92,231.76 L84.27,233.55 L84.62,235.33 L84.97,237.12 L85.31,238.9 L85.66,240.68 L86.01,242.47 L86.35,244.25 L86.69,246.04 L87.02,247.82 L87.35,249.61 L87.67,251.39 L88,253.18 L88.33,254.96 L88.66,256.75 L88.98,258.53 L89.31,260.32 L89.64,262.1 L89.97,263.88 L90.3,265.67 L90.62,267.45 L90.95,269.24 L91.28,271.02 L91.61,272.81 L91.93,274.59 L92.26,276.38 L92.59,278.16 L92.92,279.95 L93.24,281.73 L93.57,283.52 L93.9,285.3" stroke="#151515" stroke-width="0.9" fill="none" stroke-dasharray="2.2,1.6"/>
<path d="M93.9,285.3 V346.5 M115.97,285.3 V300 M140.99,285.3 V338" stroke="#151515" stroke-width="0.9" fill="none" stroke-dasharray="2.2,1.6"/>
<path d="M38,19.2 H40" stroke="#bbb" stroke-width="0.6"/>
<text x="34.4" y="23.2" font-size="11" fill="#1a1a1a" text-anchor="end" textLength="18.4" lengthAdjust="spacingAndGlyphs">250</text>
<path d="M38,73.7 H40" stroke="#bbb" stroke-width="0.6"/>
<text x="34.4" y="77.7" font-size="11" fill="#1a1a1a" text-anchor="end" textLength="18.4" lengthAdjust="spacingAndGlyphs">200</text>
<path d="M38,128.2 H40" stroke="#bbb" stroke-width="0.6"/>
<text x="34.4" y="132.2" font-size="11" fill="#1a1a1a" text-anchor="end" textLength="18.4" lengthAdjust="spacingAndGlyphs">150</text>
<path d="M38,182.7 H40" stroke="#bbb" stroke-width="0.6"/>
<text x="34.4" y="186.7" font-size="11" fill="#1a1a1a" text-anchor="end" textLength="18.4" lengthAdjust="spacingAndGlyphs">100</text>
<path d="M38,237.2 H40" stroke="#bbb" stroke-width="0.6"/>
<text x="34.4" y="241.2" font-size="11" fill="#1a1a1a" text-anchor="end" textLength="18.4" lengthAdjust="spacingAndGlyphs">50</text>
<text x="10.6" y="144.2" font-size="11.2" fill="#1a1a1a" text-anchor="middle" textLength="99.4" lengthAdjust="spacingAndGlyphs" transform="rotate(-90 10.6 144.2)">Temperature (K)</text>
<defs><linearGradient id="cbg" x1="0" y1="0" x2="0" y2="1"><stop offset="0.0455" stop-color="#2d3787"/><stop offset="0.0855" stop-color="#555c7a"/><stop offset="0.1277" stop-color="#96945c"/><stop offset="0.1753" stop-color="#cdc342"/><stop offset="0.2240" stop-color="#f5ee37"/><stop offset="0.2424" stop-color="#fffa3e"/><stop offset="0.2835" stop-color="#ecc826"/><stop offset="0.3377" stop-color="#da981e"/><stop offset="0.3918" stop-color="#c36919"/><stop offset="0.4459" stop-color="#a53a0f"/><stop offset="0.5000" stop-color="#87180a"/><stop offset="0.5541" stop-color="#660c08"/><stop offset="0.6082" stop-color="#480605"/><stop offset="0.6623" stop-color="#280404"/><stop offset="0.7165" stop-color="#0a0707"/><stop offset="0.8247" stop-color="#303237"/><stop offset="0.9329" stop-color="#5c5f66"/></linearGradient></defs>
<rect x="156" y="1.2" width="8.8" height="164.8" fill="url(#cbg)"/>
<path d="M164.8,11.9 H166.8" stroke="#3a3a3a" stroke-width="0.7"/>
<text x="168.6" y="14.8" font-size="7.8" fill="#2a2a2a">6</text>
<path d="M164.8,47.6 H166.8" stroke="#3a3a3a" stroke-width="0.7"/>
<text x="168.6" y="50.5" font-size="7.8" fill="#2a2a2a">4</text>
<path d="M164.8,83.3 H166.8" stroke="#3a3a3a" stroke-width="0.7"/>
<text x="168.6" y="86.2" font-size="7.8" fill="#2a2a2a">2</text>
<path d="M164.8,119 H166.8" stroke="#3a3a3a" stroke-width="0.7"/>
<text x="168.6" y="121.9" font-size="7.8" fill="#2a2a2a">0</text>
<path d="M164.8,154.7 H166.8" stroke="#3a3a3a" stroke-width="0.7"/>
<text x="167.4" y="157.6" font-size="7.6" fill="#2a2a2a">−2</text>
<rect x="39.8" y="298.4" width="113.2" height="84.6" fill="none" stroke="#3a3a3a" stroke-width="1.1"/>
<path d="M46,383 V386.5" stroke="#3a3a3a" stroke-width="0.8"/>
<path d="M52.8,383 V385.2" stroke="#3a3a3a" stroke-width="0.8"/>
<path d="M59.6,383 V385.2" stroke="#3a3a3a" stroke-width="0.8"/>
<path d="M66.4,383 V385.2" stroke="#3a3a3a" stroke-width="0.8"/>
<path d="M73.2,383 V385.2" stroke="#3a3a3a" stroke-width="0.8"/>
<path d="M80,383 V386.5" stroke="#3a3a3a" stroke-width="0.8"/>
<path d="M86.8,383 V385.2" stroke="#3a3a3a" stroke-width="0.8"/>
<path d="M93.6,383 V385.2" stroke="#3a3a3a" stroke-width="0.8"/>
<path d="M100.4,383 V385.2" stroke="#3a3a3a" stroke-width="0.8"/>
<path d="M107.2,383 V385.2" stroke="#3a3a3a" stroke-width="0.8"/>
<path d="M114,383 V386.5" stroke="#3a3a3a" stroke-width="0.8"/>
<path d="M120.8,383 V385.2" stroke="#3a3a3a" stroke-width="0.8"/>
<path d="M127.6,383 V385.2" stroke="#3a3a3a" stroke-width="0.8"/>
<path d="M134.4,383 V385.2" stroke="#3a3a3a" stroke-width="0.8"/>
<path d="M141.2,383 V385.2" stroke="#3a3a3a" stroke-width="0.8"/>
<path d="M148,383 V386.5" stroke="#3a3a3a" stroke-width="0.8"/>
<text x="45.2" y="398.8" font-size="10.6" fill="#1a1a1a" text-anchor="middle" textLength="20.2" lengthAdjust="spacingAndGlyphs">1.55</text>
<text x="79.2" y="398.8" font-size="10.6" fill="#1a1a1a" text-anchor="middle" textLength="20.2" lengthAdjust="spacingAndGlyphs">1.60</text>
<text x="113.2" y="398.8" font-size="10.6" fill="#1a1a1a" text-anchor="middle" textLength="20.2" lengthAdjust="spacingAndGlyphs">1.65</text>
<text x="147.2" y="398.8" font-size="10.6" fill="#1a1a1a" text-anchor="middle" textLength="20.2" lengthAdjust="spacingAndGlyphs">1.70</text>
<text x="94.5" y="412.4" font-size="12" fill="#1a1a1a" text-anchor="middle" textLength="67.7" lengthAdjust="spacingAndGlyphs">Energy (eV)</text>
<path d="M36.4,383 H39.8" stroke="#3a3a3a" stroke-width="0.8"/>
<path d="M37.8,375.94 H39.8" stroke="#3a3a3a" stroke-width="0.8"/>
<path d="M37.8,368.89 H39.8" stroke="#3a3a3a" stroke-width="0.8"/>
<path d="M37.8,361.83 H39.8" stroke="#3a3a3a" stroke-width="0.8"/>
<path d="M36.4,354.78 H39.8" stroke="#3a3a3a" stroke-width="0.8"/>
<path d="M37.8,347.73 H39.8" stroke="#3a3a3a" stroke-width="0.8"/>
<path d="M37.8,340.67 H39.8" stroke="#3a3a3a" stroke-width="0.8"/>
<path d="M37.8,333.62 H39.8" stroke="#3a3a3a" stroke-width="0.8"/>
<path d="M36.4,326.56 H39.8" stroke="#3a3a3a" stroke-width="0.8"/>
<path d="M37.8,319.5 H39.8" stroke="#3a3a3a" stroke-width="0.8"/>
<path d="M37.8,312.45 H39.8" stroke="#3a3a3a" stroke-width="0.8"/>
<path d="M37.8,305.39 H39.8" stroke="#3a3a3a" stroke-width="0.8"/>
<path d="M36.4,298.34 H39.8" stroke="#3a3a3a" stroke-width="0.8"/>
<text x="35.6" y="387" font-size="11" fill="#1a1a1a" text-anchor="end" textLength="17" lengthAdjust="spacingAndGlyphs">0.0</text>
<text x="35.6" y="358.78" font-size="11" fill="#1a1a1a" text-anchor="end" textLength="17" lengthAdjust="spacingAndGlyphs">0.2</text>
<text x="35.6" y="330.56" font-size="11" fill="#1a1a1a" text-anchor="end" textLength="17" lengthAdjust="spacingAndGlyphs">0.4</text>
<text x="35.6" y="302.34" font-size="11" fill="#1a1a1a" text-anchor="end" textLength="17" lengthAdjust="spacingAndGlyphs">0.6</text>
<text x="11.8" y="341.6" font-size="11.2" fill="#1a1a1a" text-anchor="middle" textLength="91.5" lengthAdjust="spacingAndGlyphs" transform="rotate(-90 11.8 341.6)">Counts/sec (a.u)</text>
<clipPath id="cpa"><rect x="39.8" y="298.4" width="113.2" height="84.6"/></clipPath>
<path d="M39.8,-1876.58 L40.18,-1785.26 L40.56,-1697.68 L40.94,-1613.68 L41.31,-1533.13 L41.69,-1455.87 L42.07,-1381.77 L42.45,-1310.7 L42.83,-1242.55 L43.21,-1177.17 L43.59,-1114.48 L43.96,-1054.34 L44.34,-996.66 L44.72,-941.34 L45.1,-888.28 L45.48,-837.39 L45.86,-788.58 L46.24,-741.75 L46.61,-696.84 L46.99,-653.76 L47.37,-612.44 L47.75,-572.8 L48.13,-534.78 L48.51,-498.31 L48.89,-463.32 L49.26,-429.76 L49.64,-397.57 L50.02,-366.68 L50.4,-337.05 L50.78,-308.63 L51.16,-281.36 L51.54,-255.2 L51.92,-230.1 L52.29,-206.02 L52.67,-182.92 L53.05,-160.76 L53.43,-139.49 L53.81,-119.09 L54.19,-99.51 L54.57,-80.73 L54.94,-62.7 L55.32,-45.41 L55.7,-28.81 L56.08,-12.89 L56.46,2.39 L56.84,17.06 L57.22,31.13 L57.59,44.64 L57.97,57.6 L58.35,70.04 L58.73,81.98 L59.11,93.44 L59.49,104.44 L59.87,115 L60.24,125.13 L60.62,134.86 L61,144.2 L61.38,153.16 L61.76,161.77 L62.14,170.03 L62.52,177.96 L62.89,185.58 L63.27,192.89 L63.65,199.91 L64.03,206.65 L64.41,213.12 L64.79,219.34 L65.17,225.31 L65.54,231.05 L65.92,236.55 L66.3,241.84 L66.68,246.92 L67.06,251.8 L67.44,256.49 L67.82,260.99 L68.19,265.32 L68.57,269.48 L68.95,273.47 L69.33,277.31 L69.71,281 L70.09,284.54 L70.47,287.95 L70.84,291.22 L71.22,294.36 L71.6,297.39 L71.98,300.3 L72.36,303.09 L72.74,305.78 L73.12,308.36 L73.49,310.84 L73.87,313.23 L74.25,315.53 L74.63,317.74 L75.01,319.86 L75.39,321.91 L75.77,323.87 L76.15,325.76 L76.52,327.58 L76.9,329.33 L77.28,331.02 L77.66,332.64 L78.04,334.2 L78.42,335.7 L78.8,337.15 L79.17,338.54 L79.55,339.88 L79.93,341.17 L80.31,342.41 L80.69,343.6 L81.07,344.75 L81.45,345.86 L81.82,346.93 L82.2,347.96 L82.58,348.95 L82.96,349.9 L83.34,350.82 L83.72,351.7 L84.1,352.55 L84.47,353.37 L84.85,354.16 L85.23,354.92 L85.61,355.65 L85.99,356.35 L86.37,357.02 L86.75,357.67 L87.12,358.28 L87.5,358.87 L87.88,359.42 L88.26,359.94 L88.64,360.41 L89.02,360.85 L89.4,361.23 L89.77,361.56 L90.15,361.82 L90.53,362.02 L90.91,362.14 L91.29,362.17 L91.67,362.13 L92.05,362.01 L92.42,361.81 L92.8,361.56 L93.18,361.27 L93.56,360.96 L93.94,360.68 L94.32,360.45 L94.7,360.32 L95.07,360.33 L95.45,360.51 L95.83,360.87 L96.21,361.41 L96.59,362.09 L96.97,362.88 L97.35,363.74 L97.73,364.64 L98.1,365.53 L98.48,366.39 L98.86,367.2 L99.24,367.95 L99.62,368.63 L100,369.23 L100.38,369.76 L100.75,370.22 L101.13,370.62 L101.51,370.96 L101.89,371.25 L102.27,371.5 L102.65,371.71 L103.03,371.9 L103.4,372.06 L103.78,372.2 L104.16,372.32 L104.54,372.43 L104.92,372.52 L105.3,372.59 L105.68,372.65 L106.05,372.69 L106.43,372.72 L106.81,372.72 L107.19,372.69 L107.57,372.63 L107.95,372.53 L108.33,372.38 L108.7,372.17 L109.08,371.88 L109.46,371.49 L109.84,370.98 L110.22,370.32 L110.6,369.48 L110.98,368.42 L111.35,367.11 L111.73,365.5 L112.11,363.58 L112.49,361.3 L112.87,358.64 L113.25,355.59 L113.63,352.16 L114,348.36 L114.38,344.24 L114.76,339.86 L115.14,335.31 L115.52,330.71 L115.9,326.2 L116.28,321.96 L116.65,318.2 L117.03,315.11 L117.41,312.92 L117.79,311.78 L118.17,311.79 L118.55,312.95 L118.93,315.18 L119.31,318.32 L119.68,322.16 L120.06,326.5 L120.44,331.13 L120.82,335.87 L121.2,340.57 L121.58,345.12 L121.96,349.42 L122.33,353.39 L122.71,357.01 L123.09,360.24 L123.47,363.09 L123.85,365.56 L124.23,367.67 L124.61,369.45 L124.98,370.94 L125.36,372.18 L125.74,373.19 L126.12,374.02 L126.5,374.7 L126.88,375.26 L127.26,375.72 L127.63,376.09 L128.01,376.4 L128.39,376.67 L128.77,376.89 L129.15,377.08 L129.53,377.24 L129.91,377.39 L130.28,377.51 L130.66,377.62 L131.04,377.71 L131.42,377.79 L131.8,377.85 L132.18,377.89 L132.56,377.92 L132.93,377.91 L133.31,377.87 L133.69,377.78 L134.07,377.62 L134.45,377.37 L134.83,377 L135.21,376.47 L135.58,375.74 L135.96,374.77 L136.34,373.51 L136.72,371.94 L137.1,370.05 L137.48,367.85 L137.86,365.38 L138.23,362.72 L138.61,360 L138.99,357.38 L139.37,355.06 L139.75,353.27 L140.13,352.22 L140.51,352.06 L140.88,352.83 L141.26,354.41 L141.64,356.62 L142.02,359.24 L142.4,362.03 L142.78,364.83 L143.16,367.5 L143.54,369.93 L143.91,372.06 L144.29,373.87 L144.67,375.37 L145.05,376.56 L145.43,377.5 L145.81,378.23 L146.19,378.77 L146.56,379.19 L146.94,379.5 L147.32,379.74 L147.7,379.93 L148.08,380.07 L148.46,380.2 L148.84,380.3 L149.21,380.39 L149.59,380.48 L149.97,380.55 L150.35,380.62 L150.73,380.68 L151.11,380.74 L151.49,380.8 L151.86,380.85 L152.24,380.9 L152.62,380.94 L153,380.99" stroke="#111" stroke-width="1.5" fill="none" clip-path="url(#cpa)"/>
<text x="41.6" y="311.6" font-size="10.2" fill="#111" font-weight="bold" textLength="14.4" lengthAdjust="spacingAndGlyphs">5K</text>
<text x="111.6" y="311.8" font-size="12" fill="#2b3fb0" textLength="8.8" lengthAdjust="spacingAndGlyphs" stroke="#2b3fb0" stroke-width="0.45">X</text>
<text x="120.8" y="306.2" font-size="7.6" fill="#2b3fb0" stroke="#2b3fb0" stroke-width="0.3">0</text>
<text x="90.9" y="357.4" font-size="12" fill="#2b3fb0" textLength="8.8" lengthAdjust="spacingAndGlyphs" stroke="#2b3fb0" stroke-width="0.45">X</text>
<text x="99.8" y="351.6" font-size="8.5" fill="#2b3fb0" stroke="#2b3fb0" stroke-width="0.3">-</text>
<text x="130.6" y="349" font-size="13" fill="#c42a2a" textLength="14.8" lengthAdjust="spacingAndGlyphs" stroke="#c42a2a" stroke-width="0.45">H1</text>
<text x="45.2" y="372.2" font-size="11.2" fill="#111" textLength="40.8" lengthAdjust="spacingAndGlyphs">Defects</text>
<path d="M56,362 L70.6,323.5" stroke="#222" stroke-width="0.8"/>
<path d="M71.8,320 L68.2,325.2 L72.4,326.4 Z" fill="#111"/>
<rect x="210.3" y="3.0" width="126.5" height="380.6" fill="none" stroke="#3a3a3a" stroke-width="1.1"/>
<path d="M206.8,379.8 H210.3" stroke="#3a3a3a" stroke-width="0.8"/>
<path d="M208.2,358.85 H210.3" stroke="#3a3a3a" stroke-width="0.8"/>
<path d="M208.2,337.9 H210.3" stroke="#3a3a3a" stroke-width="0.8"/>
<path d="M208.2,316.95 H210.3" stroke="#3a3a3a" stroke-width="0.8"/>
<path d="M206.8,296 H210.3" stroke="#3a3a3a" stroke-width="0.8"/>
<path d="M208.2,275.05 H210.3" stroke="#3a3a3a" stroke-width="0.8"/>
<path d="M208.2,254.1 H210.3" stroke="#3a3a3a" stroke-width="0.8"/>
<path d="M208.2,233.15 H210.3" stroke="#3a3a3a" stroke-width="0.8"/>
<path d="M206.8,212.2 H210.3" stroke="#3a3a3a" stroke-width="0.8"/>
<path d="M208.2,191.25 H210.3" stroke="#3a3a3a" stroke-width="0.8"/>
<path d="M208.2,170.3 H210.3" stroke="#3a3a3a" stroke-width="0.8"/>
<path d="M208.2,149.35 H210.3" stroke="#3a3a3a" stroke-width="0.8"/>
<path d="M206.8,128.4 H210.3" stroke="#3a3a3a" stroke-width="0.8"/>
<path d="M208.2,107.45 H210.3" stroke="#3a3a3a" stroke-width="0.8"/>
<path d="M208.2,86.5 H210.3" stroke="#3a3a3a" stroke-width="0.8"/>
<path d="M208.2,65.55 H210.3" stroke="#3a3a3a" stroke-width="0.8"/>
<path d="M206.8,44.6 H210.3" stroke="#3a3a3a" stroke-width="0.8"/>
<path d="M208.2,23.65 H210.3" stroke="#3a3a3a" stroke-width="0.8"/>
<text x="203.5" y="383.8" font-size="11" fill="#1a1a1a" text-anchor="end" textLength="6.4" lengthAdjust="spacingAndGlyphs">0</text>
<text x="203.5" y="300" font-size="11" fill="#1a1a1a" text-anchor="end" textLength="6.4" lengthAdjust="spacingAndGlyphs">2</text>
<text x="203.5" y="216.2" font-size="11" fill="#1a1a1a" text-anchor="end" textLength="6.4" lengthAdjust="spacingAndGlyphs">4</text>
<text x="203.5" y="132.4" font-size="11" fill="#1a1a1a" text-anchor="end" textLength="6.4" lengthAdjust="spacingAndGlyphs">6</text>
<text x="203.5" y="48.6" font-size="11" fill="#1a1a1a" text-anchor="end" textLength="6.4" lengthAdjust="spacingAndGlyphs">8</text>
<path d="M217.9,383.6 V387" stroke="#3a3a3a" stroke-width="0.8"/>
<path d="M224.52,383.6 V385.6" stroke="#3a3a3a" stroke-width="0.8"/>
<path d="M231.14,383.6 V385.6" stroke="#3a3a3a" stroke-width="0.8"/>
<path d="M237.76,383.6 V385.6" stroke="#3a3a3a" stroke-width="0.8"/>
<path d="M244.38,383.6 V385.6" stroke="#3a3a3a" stroke-width="0.8"/>
<path d="M251,383.6 V387" stroke="#3a3a3a" stroke-width="0.8"/>
<path d="M257.62,383.6 V385.6" stroke="#3a3a3a" stroke-width="0.8"/>
<path d="M264.24,383.6 V385.6" stroke="#3a3a3a" stroke-width="0.8"/>
<path d="M270.86,383.6 V385.6" stroke="#3a3a3a" stroke-width="0.8"/>
<path d="M277.48,383.6 V385.6" stroke="#3a3a3a" stroke-width="0.8"/>
<path d="M284.1,383.6 V387" stroke="#3a3a3a" stroke-width="0.8"/>
<path d="M290.72,383.6 V385.6" stroke="#3a3a3a" stroke-width="0.8"/>
<path d="M297.34,383.6 V385.6" stroke="#3a3a3a" stroke-width="0.8"/>
<path d="M303.96,383.6 V385.6" stroke="#3a3a3a" stroke-width="0.8"/>
<path d="M310.58,383.6 V385.6" stroke="#3a3a3a" stroke-width="0.8"/>
<path d="M317.2,383.6 V387" stroke="#3a3a3a" stroke-width="0.8"/>
<path d="M323.82,383.6 V385.6" stroke="#3a3a3a" stroke-width="0.8"/>
<path d="M330.44,383.6 V385.6" stroke="#3a3a3a" stroke-width="0.8"/>
<text x="217.4" y="399.2" font-size="10.8" fill="#1a1a1a" text-anchor="middle" textLength="21" lengthAdjust="spacingAndGlyphs">1.55</text>
<text x="250.5" y="399.2" font-size="10.8" fill="#1a1a1a" text-anchor="middle" textLength="21" lengthAdjust="spacingAndGlyphs">1.60</text>
<text x="283.6" y="399.2" font-size="10.8" fill="#1a1a1a" text-anchor="middle" textLength="21" lengthAdjust="spacingAndGlyphs">1.65</text>
<text x="316.7" y="399.2" font-size="10.8" fill="#1a1a1a" text-anchor="middle" textLength="21" lengthAdjust="spacingAndGlyphs">1.70</text>
<text x="273" y="412" font-size="12" fill="#1a1a1a" text-anchor="middle" textLength="68.3" lengthAdjust="spacingAndGlyphs">Energy (eV)</text>
<text x="192.4" y="190.4" font-size="11.7" fill="#1a1a1a" text-anchor="middle" textLength="172" lengthAdjust="spacingAndGlyphs" transform="rotate(-90 192.4 190.4)">Normalized PL intensity (a.u)</text>
<text x="213.5" y="20.3" font-size="11.5" fill="#111" font-weight="bold" textLength="15.3" lengthAdjust="spacingAndGlyphs">(b)</text>
<path d="M239.5,18 H253" stroke="#000" stroke-width="1.4" stroke-dasharray="1,1"/>
<text x="257.5" y="21.4" font-size="11.5" fill="#111" font-weight="bold" textLength="53.5" lengthAdjust="spacingAndGlyphs">ML- MoSe</text>
<text x="311.6" y="24.2" font-size="8" fill="#111" font-weight="bold">2</text>
<path d="M240.6,32.8 H255" stroke="#c42a2a" stroke-width="1.6"/>
<text x="256.4" y="35.2" font-size="11.5" fill="#c42a2a" font-weight="bold" textLength="26" lengthAdjust="spacingAndGlyphs">TiSe</text>
<text x="282.6" y="38" font-size="8" fill="#c42a2a" font-weight="bold">2</text>
<text x="289.5" y="35.2" font-size="11.5" fill="#c42a2a" font-weight="bold" textLength="37.2" lengthAdjust="spacingAndGlyphs">- MoSe</text>
<text x="327.3" y="38" font-size="8" fill="#c42a2a" font-weight="bold">2</text>
<text x="303.7" y="80.3" font-size="11.2" fill="#111" font-weight="bold" textLength="29.6" lengthAdjust="spacingAndGlyphs">265 K</text>
<text x="303.7" y="110.2" font-size="11.2" fill="#111" font-weight="bold" textLength="29.6" lengthAdjust="spacingAndGlyphs">250 K</text>
<text x="303.7" y="138.8" font-size="11.2" fill="#111" font-weight="bold" textLength="29.6" lengthAdjust="spacingAndGlyphs">235 K</text>
<text x="303.7" y="170.1" font-size="11.2" fill="#111" font-weight="bold" textLength="29.6" lengthAdjust="spacingAndGlyphs">220 K</text>
<text x="303.7" y="198.8" font-size="11.2" fill="#111" font-weight="bold" textLength="29.6" lengthAdjust="spacingAndGlyphs">200 K</text>
<text x="303.7" y="227.9" font-size="11.2" fill="#111" font-weight="bold" textLength="29.6" lengthAdjust="spacingAndGlyphs">190 K</text>
<text x="303.7" y="257.5" font-size="11.2" fill="#111" font-weight="bold" textLength="29.6" lengthAdjust="spacingAndGlyphs">180 K</text>
<text x="303.7" y="286.8" font-size="11.2" fill="#111" font-weight="bold" textLength="29.6" lengthAdjust="spacingAndGlyphs">140 K</text>
<text x="303.7" y="315.3" font-size="11.2" fill="#111" font-weight="bold" textLength="29.6" lengthAdjust="spacingAndGlyphs">110 K</text>
<text x="308.5" y="344.1" font-size="11.2" fill="#111" font-weight="bold" textLength="24.8" lengthAdjust="spacingAndGlyphs">60 K</text>
<text x="315.2" y="372.9" font-size="11.2" fill="#111" font-weight="bold" textLength="18.1" lengthAdjust="spacingAndGlyphs">5 K</text>
<clipPath id="cpb"><rect x="210.3" y="3.0" width="126.5" height="380.6"/></clipPath>
<path d="M219.5,74.3 L219.93,73.73 L220.36,73.14 L220.79,72.52 L221.22,71.89 L221.65,71.23 L222.08,70.54 L222.51,69.84 L222.94,69.11 L223.37,68.36 L223.81,67.6 L224.24,66.81 L224.67,66 L225.1,65.17 L225.53,64.33 L225.96,63.47 L226.39,62.59 L226.82,61.71 L227.25,60.81 L227.68,59.9 L228.11,58.99 L228.54,58.08 L228.97,57.16 L229.4,56.24 L229.83,55.33 L230.26,54.43 L230.69,53.54 L231.12,52.67 L231.55,51.82 L231.98,50.99 L232.42,50.2 L232.85,49.44 L233.28,48.71 L233.71,48.03 L234.14,47.4 L234.57,46.82 L235,46.31 L235.43,45.85 L235.86,45.46 L236.29,45.14 L236.72,44.89 L237.15,44.72 L237.58,44.62 L238.01,44.6 L238.44,44.65 L238.87,44.76 L239.3,44.93 L239.73,45.16 L240.16,45.45 L240.59,45.79 L241.03,46.19 L241.46,46.64 L241.89,47.14 L242.32,47.68 L242.75,48.27 L243.18,48.89 L243.61,49.54 L244.04,50.23 L244.47,50.95 L244.9,51.68 L245.33,52.44 L245.76,53.22 L246.19,54.01 L246.62,54.81 L247.05,55.62 L247.48,56.44 L247.91,57.26 L248.34,58.08 L248.77,58.9 L249.2,59.72 L249.64,60.54 L250.07,61.34 L250.5,62.14 L250.93,62.93 L251.36,63.71 L251.79,64.48 L252.22,65.24 L252.65,65.98 L253.08,66.7 L253.51,67.41 L253.94,68.11 L254.37,68.79 L254.8,69.45 L255.23,70.09 L255.66,70.72 L256.09,71.33 L256.52,71.92 L256.95,72.49 L257.38,73.04 L257.81,73.57 L258.25,74.09 L258.68,74.59 L259.11,75.07 L259.54,75.53 L259.97,75.98 L260.4,76.4 L260.83,76.81 L261.26,77.21 L261.69,77.58 L262.12,77.94 L262.55,78.29 L262.98,78.62 L263.41,78.93 L263.84,79.23 L264.27,79.52 L264.7,79.8 L265.13,80.06 L265.56,80.3 L265.99,80.54 L266.42,80.77 L266.86,80.98 L267.29,81.18 L267.72,81.38 L268.15,81.56 L268.58,81.73 L269.01,81.9 L269.44,82.06 L269.87,82.2 L270.3,82.35 L270.73,82.48 L271.16,82.61 L271.59,82.73 L272.02,82.84 L272.45,82.95 L272.88,83.06 L273.31,83.16 L273.74,83.25 L274.17,83.34 L274.6,83.43 L275.03,83.51 L275.47,83.58 L275.9,83.66 L276.33,83.73 L276.76,83.79 L277.19,83.86 L277.62,83.92 L278.05,83.98 L278.48,84.04 L278.91,84.09 L279.34,84.14 L279.77,84.19 L280.2,84.24 L280.63,84.29 L281.06,84.33 L281.49,84.37 L281.92,84.41 L282.35,84.45 L282.78,84.49 L283.21,84.53 L283.64,84.57 L284.08,84.6 L284.51,84.63 L284.94,84.67 L285.37,84.7 L285.8,84.73 L286.23,84.76 L286.66,84.79 L287.09,84.82 L287.52,84.85 L287.95,84.87 L288.38,84.9 L288.81,84.92 L289.24,84.95 L289.67,84.97 L290.1,85 L290.53,85.02 L290.96,85.04 L291.39,85.06 L291.82,85.09 L292.25,85.11 L292.69,85.13 L293.12,85.15 L293.55,85.17 L293.98,85.19 L294.41,85.21 L294.84,85.22 L295.27,85.24 L295.7,85.26 L296.13,85.28 L296.56,85.29 L296.99,85.31 L297.42,85.33 L297.85,85.34 L298.28,85.36 L298.71,85.37 L299.14,85.39 L299.57,85.4 L300,85.42 L300.43,85.43 L300.86,85.44 L301.3,85.46 L301.73,85.47 L302.16,85.48 L302.59,85.5 L303.02,85.51 L303.45,85.52 L303.88,85.53 L304.31,85.55 L304.74,85.56 L305.17,85.57 L305.6,85.58 L306.03,85.59 L306.46,85.6 L306.89,85.61 L307.32,85.62 L307.75,85.63 L308.18,85.64 L308.61,85.65 L309.04,85.66 L309.47,85.67 L309.91,85.68 L310.34,85.69 L310.77,85.7 L311.2,85.71 L311.63,85.72 L312.06,85.73 L312.49,85.74 L312.92,85.75 L313.35,85.75 L313.78,85.76 L314.21,85.77 L314.64,85.78 L315.07,85.79 L315.5,85.79 L315.93,85.8 L316.36,85.81 L316.79,85.82 L317.22,85.82 L317.65,85.83 L318.08,85.84 L318.52,85.84 L318.95,85.85 L319.38,85.86 L319.81,85.86 L320.24,85.87 L320.67,85.88 L321.1,85.88 L321.53,85.89 L321.96,85.89 L322.39,85.9 L322.82,85.91 L323.25,85.91 L323.68,85.92 L324.11,85.92 L324.54,85.93 L324.97,85.93 L325.4,85.94 L325.83,85.95 L326.26,85.95 L326.69,85.96 L327.13,85.96 L327.56,85.97 L327.99,85.97 L328.42,85.98 L328.85,85.98 L329.28,85.99 L329.71,85.99 L330.14,85.99 L330.57,86 L331,86" stroke="#1a1a1a" stroke-width="1.2" fill="none" stroke-dasharray="3,2" clip-path="url(#cpb)"/>
<path d="M219.5,74.3 L219.93,73.73 L220.36,73.14 L220.79,72.52 L221.22,71.89 L221.65,71.23 L222.08,70.54 L222.51,69.84 L222.94,69.11 L223.37,68.36 L223.81,67.6 L224.24,66.81 L224.67,66 L225.1,65.17 L225.53,64.33 L225.96,63.47 L226.39,62.59 L226.82,61.71 L227.25,60.81 L227.68,59.9 L228.11,58.99 L228.54,58.08 L228.97,57.16 L229.4,56.24 L229.83,55.33 L230.26,54.43 L230.69,53.54 L231.12,52.67 L231.55,51.82 L231.98,50.99 L232.42,50.2 L232.85,49.44 L233.28,48.71 L233.71,48.03 L234.14,47.4 L234.57,46.82 L235,46.31 L235.43,45.85 L235.86,45.46 L236.29,45.14 L236.72,44.89 L237.15,44.72 L237.58,44.62 L238.01,44.6 L238.44,44.65 L238.87,44.76 L239.3,44.93 L239.73,45.16 L240.16,45.45 L240.59,45.79 L241.03,46.19 L241.46,46.64 L241.89,47.14 L242.32,47.68 L242.75,48.27 L243.18,48.89 L243.61,49.54 L244.04,50.23 L244.47,50.95 L244.9,51.68 L245.33,52.44 L245.76,53.22 L246.19,54.01 L246.62,54.81 L247.05,55.62 L247.48,56.44 L247.91,57.26 L248.34,58.08 L248.77,58.9 L249.2,59.72 L249.64,60.54 L250.07,61.34 L250.5,62.14 L250.93,62.93 L251.36,63.71 L251.79,64.48 L252.22,65.24 L252.65,65.98 L253.08,66.7 L253.51,67.41 L253.94,68.11 L254.37,68.79 L254.8,69.45 L255.23,70.09 L255.66,70.72 L256.09,71.33 L256.52,71.92 L256.95,72.49 L257.38,73.04 L257.81,73.57 L258.25,74.09 L258.68,74.59 L259.11,75.07 L259.54,75.53 L259.97,75.98 L260.4,76.4 L260.83,76.81 L261.26,77.21 L261.69,77.58 L262.12,77.94 L262.55,78.29 L262.98,78.62 L263.41,78.93 L263.84,79.23 L264.27,79.52 L264.7,79.8 L265.13,80.06 L265.56,80.3 L265.99,80.54 L266.42,80.77 L266.86,80.98 L267.29,81.18 L267.72,81.38 L268.15,81.56 L268.58,81.73 L269.01,81.9 L269.44,82.06 L269.87,82.2 L270.3,82.35 L270.73,82.48 L271.16,82.61 L271.59,82.73 L272.02,82.84 L272.45,82.95 L272.88,83.06 L273.31,83.16 L273.74,83.25 L274.17,83.34 L274.6,83.43 L275.03,83.51 L275.47,83.58 L275.9,83.66 L276.33,83.73 L276.76,83.79 L277.19,83.86 L277.62,83.92 L278.05,83.98 L278.48,84.04 L278.91,84.09 L279.34,84.14 L279.77,84.19 L280.2,84.24 L280.63,84.29 L281.06,84.33 L281.49,84.37 L281.92,84.41 L282.35,84.45 L282.78,84.49 L283.21,84.53 L283.64,84.57 L284.08,84.6 L284.51,84.63 L284.94,84.67 L285.37,84.7 L285.8,84.73 L286.23,84.76 L286.66,84.79 L287.09,84.82 L287.52,84.85 L287.95,84.87 L288.38,84.9 L288.81,84.92 L289.24,84.95 L289.67,84.97 L290.1,85 L290.53,85.02 L290.96,85.04 L291.39,85.06 L291.82,85.09 L292.25,85.11 L292.69,85.13 L293.12,85.15 L293.55,85.17 L293.98,85.19 L294.41,85.21 L294.84,85.22 L295.27,85.24 L295.7,85.26 L296.13,85.28 L296.56,85.29 L296.99,85.31 L297.42,85.33 L297.85,85.34 L298.28,85.36 L298.71,85.37 L299.14,85.39 L299.57,85.4 L300,85.42 L300.43,85.43 L300.86,85.44 L301.3,85.46 L301.73,85.47 L302.16,85.48 L302.59,85.5 L303.02,85.51 L303.45,85.52 L303.88,85.53 L304.31,85.55 L304.74,85.56 L305.17,85.57 L305.6,85.58 L306.03,85.59 L306.46,85.6 L306.89,85.61 L307.32,85.62 L307.75,85.63 L308.18,85.64 L308.61,85.65 L309.04,85.66 L309.47,85.67 L309.91,85.68 L310.34,85.69 L310.77,85.7 L311.2,85.71 L311.63,85.72 L312.06,85.73 L312.49,85.74 L312.92,85.75 L313.35,85.75 L313.78,85.76 L314.21,85.77 L314.64,85.78 L315.07,85.79 L315.5,85.79 L315.93,85.8 L316.36,85.81 L316.79,85.82 L317.22,85.82 L317.65,85.83 L318.08,85.84 L318.52,85.84 L318.95,85.85 L319.38,85.86 L319.81,85.86 L320.24,85.87 L320.67,85.88 L321.1,85.88 L321.53,85.89 L321.96,85.89 L322.39,85.9 L322.82,85.91 L323.25,85.91 L323.68,85.92 L324.11,85.92 L324.54,85.93 L324.97,85.93 L325.4,85.94 L325.83,85.95 L326.26,85.95 L326.69,85.96 L327.13,85.96 L327.56,85.97 L327.99,85.97 L328.42,85.98 L328.85,85.98 L329.28,85.99 L329.71,85.99 L330.14,85.99 L330.57,86 L331,86" stroke="#c8282d" stroke-width="1.3" fill="none" clip-path="url(#cpb)"/>
<path d="M219.5,109.06 L219.93,108.73 L220.36,108.37 L220.79,108 L221.22,107.6 L221.65,107.18 L222.08,106.73 L222.51,106.27 L222.94,105.78 L223.37,105.26 L223.81,104.72 L224.24,104.15 L224.67,103.56 L225.1,102.94 L225.53,102.29 L225.96,101.62 L226.39,100.92 L226.82,100.19 L227.25,99.44 L227.68,98.66 L228.11,97.85 L228.54,97.02 L228.97,96.17 L229.4,95.29 L229.83,94.39 L230.26,93.48 L230.69,92.54 L231.12,91.59 L231.55,90.62 L231.98,89.65 L232.42,88.66 L232.85,87.67 L233.28,86.68 L233.71,85.69 L234.14,84.7 L234.57,83.72 L235,82.76 L235.43,81.82 L235.86,80.91 L236.29,80.02 L236.72,79.17 L237.15,78.37 L237.58,77.61 L238.01,76.91 L238.44,76.27 L238.87,75.7 L239.3,75.2 L239.73,74.77 L240.16,74.43 L240.59,74.18 L241.03,74.01 L241.46,73.94 L241.89,73.95 L242.32,74.03 L242.75,74.18 L243.18,74.41 L243.61,74.7 L244.04,75.06 L244.47,75.48 L244.9,75.96 L245.33,76.5 L245.76,77.08 L246.19,77.72 L246.62,78.39 L247.05,79.11 L247.48,79.86 L247.91,80.64 L248.34,81.44 L248.77,82.27 L249.2,83.11 L249.64,83.97 L250.07,84.84 L250.5,85.72 L250.93,86.6 L251.36,87.48 L251.79,88.36 L252.22,89.24 L252.65,90.11 L253.08,90.98 L253.51,91.83 L253.94,92.68 L254.37,93.51 L254.8,94.32 L255.23,95.12 L255.66,95.91 L256.09,96.67 L256.52,97.42 L256.95,98.15 L257.38,98.86 L257.81,99.55 L258.25,100.21 L258.68,100.86 L259.11,101.49 L259.54,102.09 L259.97,102.67 L260.4,103.24 L260.83,103.78 L261.26,104.3 L261.69,104.8 L262.12,105.28 L262.55,105.74 L262.98,106.18 L263.41,106.6 L263.84,107 L264.27,107.38 L264.7,107.75 L265.13,108.09 L265.56,108.42 L265.99,108.74 L266.42,109.04 L266.86,109.32 L267.29,109.59 L267.72,109.85 L268.15,110.09 L268.58,110.32 L269.01,110.54 L269.44,110.74 L269.87,110.94 L270.3,111.12 L270.73,111.29 L271.16,111.46 L271.59,111.62 L272.02,111.76 L272.45,111.9 L272.88,112.03 L273.31,112.16 L273.74,112.28 L274.17,112.39 L274.6,112.49 L275.03,112.59 L275.47,112.69 L275.9,112.78 L276.33,112.87 L276.76,112.95 L277.19,113.02 L277.62,113.1 L278.05,113.17 L278.48,113.24 L278.91,113.3 L279.34,113.36 L279.77,113.42 L280.2,113.47 L280.63,113.53 L281.06,113.58 L281.49,113.63 L281.92,113.68 L282.35,113.72 L282.78,113.76 L283.21,113.81 L283.64,113.85 L284.08,113.89 L284.51,113.92 L284.94,113.96 L285.37,114 L285.8,114.03 L286.23,114.06 L286.66,114.1 L287.09,114.13 L287.52,114.16 L287.95,114.19 L288.38,114.21 L288.81,114.24 L289.24,114.27 L289.67,114.3 L290.1,114.32 L290.53,114.35 L290.96,114.37 L291.39,114.39 L291.82,114.42 L292.25,114.44 L292.69,114.46 L293.12,114.48 L293.55,114.5 L293.98,114.52 L294.41,114.54 L294.84,114.56 L295.27,114.58 L295.7,114.6 L296.13,114.62 L296.56,114.64 L296.99,114.66 L297.42,114.67 L297.85,114.69 L298.28,114.71 L298.71,114.72 L299.14,114.74 L299.57,114.75 L300,114.77 L300.43,114.78 L300.86,114.8 L301.3,114.81 L301.73,114.82 L302.16,114.84 L302.59,114.85 L303.02,114.86 L303.45,114.88 L303.88,114.89 L304.31,114.9 L304.74,114.91 L305.17,114.93 L305.6,114.94 L306.03,114.95 L306.46,114.96 L306.89,114.97 L307.32,114.98 L307.75,114.99 L308.18,115 L308.61,115.01 L309.04,115.02 L309.47,115.03 L309.91,115.04 L310.34,115.05 L310.77,115.06 L311.2,115.07 L311.63,115.08 L312.06,115.09 L312.49,115.1 L312.92,115.11 L313.35,115.11 L313.78,115.12 L314.21,115.13 L314.64,115.14 L315.07,115.15 L315.5,115.15 L315.93,115.16 L316.36,115.17 L316.79,115.18 L317.22,115.18 L317.65,115.19 L318.08,115.2 L318.52,115.2 L318.95,115.21 L319.38,115.22 L319.81,115.22 L320.24,115.23 L320.67,115.24 L321.1,115.24 L321.53,115.25 L321.96,115.25 L322.39,115.26 L322.82,115.27 L323.25,115.27 L323.68,115.28 L324.11,115.28 L324.54,115.29 L324.97,115.29 L325.4,115.3 L325.83,115.31 L326.26,115.31 L326.69,115.32 L327.13,115.32 L327.56,115.33 L327.99,115.33 L328.42,115.34 L328.85,115.34 L329.28,115.34 L329.71,115.35 L330.14,115.35 L330.57,115.36 L331,115.36" stroke="#1a1a1a" stroke-width="1.2" fill="none" stroke-dasharray="3,2" clip-path="url(#cpb)"/>
<path d="M219.5,109.06 L219.93,108.73 L220.36,108.37 L220.79,108 L221.22,107.6 L221.65,107.18 L222.08,106.73 L222.51,106.27 L222.94,105.78 L223.37,105.26 L223.81,104.72 L224.24,104.15 L224.67,103.56 L225.1,102.94 L225.53,102.29 L225.96,101.62 L226.39,100.92 L226.82,100.19 L227.25,99.44 L227.68,98.66 L228.11,97.85 L228.54,97.02 L228.97,96.17 L229.4,95.29 L229.83,94.39 L230.26,93.48 L230.69,92.54 L231.12,91.59 L231.55,90.62 L231.98,89.65 L232.42,88.66 L232.85,87.67 L233.28,86.68 L233.71,85.69 L234.14,84.7 L234.57,83.72 L235,82.76 L235.43,81.82 L235.86,80.91 L236.29,80.02 L236.72,79.17 L237.15,78.37 L237.58,77.61 L238.01,76.91 L238.44,76.27 L238.87,75.7 L239.3,75.2 L239.73,74.77 L240.16,74.43 L240.59,74.18 L241.03,74.01 L241.46,73.94 L241.89,73.95 L242.32,74.03 L242.75,74.18 L243.18,74.41 L243.61,74.7 L244.04,75.06 L244.47,75.48 L244.9,75.96 L245.33,76.5 L245.76,77.08 L246.19,77.72 L246.62,78.39 L247.05,79.11 L247.48,79.86 L247.91,80.64 L248.34,81.44 L248.77,82.27 L249.2,83.11 L249.64,83.97 L250.07,84.84 L250.5,85.72 L250.93,86.6 L251.36,87.48 L251.79,88.36 L252.22,89.24 L252.65,90.11 L253.08,90.98 L253.51,91.83 L253.94,92.68 L254.37,93.51 L254.8,94.32 L255.23,95.12 L255.66,95.91 L256.09,96.67 L256.52,97.42 L256.95,98.15 L257.38,98.86 L257.81,99.55 L258.25,100.21 L258.68,100.86 L259.11,101.49 L259.54,102.09 L259.97,102.67 L260.4,103.24 L260.83,103.78 L261.26,104.3 L261.69,104.8 L262.12,105.28 L262.55,105.74 L262.98,106.18 L263.41,106.6 L263.84,107 L264.27,107.38 L264.7,107.75 L265.13,108.09 L265.56,108.42 L265.99,108.74 L266.42,109.04 L266.86,109.32 L267.29,109.59 L267.72,109.85 L268.15,110.09 L268.58,110.32 L269.01,110.54 L269.44,110.74 L269.87,110.94 L270.3,111.12 L270.73,111.29 L271.16,111.46 L271.59,111.62 L272.02,111.76 L272.45,111.9 L272.88,112.03 L273.31,112.16 L273.74,112.28 L274.17,112.39 L274.6,112.49 L275.03,112.59 L275.47,112.69 L275.9,112.78 L276.33,112.87 L276.76,112.95 L277.19,113.02 L277.62,113.1 L278.05,113.17 L278.48,113.24 L278.91,113.3 L279.34,113.36 L279.77,113.42 L280.2,113.47 L280.63,113.53 L281.06,113.58 L281.49,113.63 L281.92,113.68 L282.35,113.72 L282.78,113.76 L283.21,113.81 L283.64,113.85 L284.08,113.89 L284.51,113.92 L284.94,113.96 L285.37,114 L285.8,114.03 L286.23,114.06 L286.66,114.1 L287.09,114.13 L287.52,114.16 L287.95,114.19 L288.38,114.21 L288.81,114.24 L289.24,114.27 L289.67,114.3 L290.1,114.32 L290.53,114.35 L290.96,114.37 L291.39,114.39 L291.82,114.42 L292.25,114.44 L292.69,114.46 L293.12,114.48 L293.55,114.5 L293.98,114.52 L294.41,114.54 L294.84,114.56 L295.27,114.58 L295.7,114.6 L296.13,114.62 L296.56,114.64 L296.99,114.66 L297.42,114.67 L297.85,114.69 L298.28,114.71 L298.71,114.72 L299.14,114.74 L299.57,114.75 L300,114.77 L300.43,114.78 L300.86,114.8 L301.3,114.81 L301.73,114.82 L302.16,114.84 L302.59,114.85 L303.02,114.86 L303.45,114.88 L303.88,114.89 L304.31,114.9 L304.74,114.91 L305.17,114.93 L305.6,114.94 L306.03,114.95 L306.46,114.96 L306.89,114.97 L307.32,114.98 L307.75,114.99 L308.18,115 L308.61,115.01 L309.04,115.02 L309.47,115.03 L309.91,115.04 L310.34,115.05 L310.77,115.06 L311.2,115.07 L311.63,115.08 L312.06,115.09 L312.49,115.1 L312.92,115.11 L313.35,115.11 L313.78,115.12 L314.21,115.13 L314.64,115.14 L315.07,115.15 L315.5,115.15 L315.93,115.16 L316.36,115.17 L316.79,115.18 L317.22,115.18 L317.65,115.19 L318.08,115.2 L318.52,115.2 L318.95,115.21 L319.38,115.22 L319.81,115.22 L320.24,115.23 L320.67,115.24 L321.1,115.24 L321.53,115.25 L321.96,115.25 L322.39,115.26 L322.82,115.27 L323.25,115.27 L323.68,115.28 L324.11,115.28 L324.54,115.29 L324.97,115.29 L325.4,115.3 L325.83,115.31 L326.26,115.31 L326.69,115.32 L327.13,115.32 L327.56,115.33 L327.99,115.33 L328.42,115.34 L328.85,115.34 L329.28,115.34 L329.71,115.35 L330.14,115.35 L330.57,115.36 L331,115.36" stroke="#c8282d" stroke-width="1.3" fill="none" clip-path="url(#cpb)"/>
<path d="M219.5,141.61 L219.93,141.46 L220.36,141.31 L220.79,141.14 L221.22,140.96 L221.65,140.77 L222.08,140.57 L222.51,140.35 L222.94,140.11 L223.37,139.86 L223.81,139.59 L224.24,139.31 L224.67,139 L225.1,138.67 L225.53,138.32 L225.96,137.95 L226.39,137.55 L226.82,137.13 L227.25,136.69 L227.68,136.21 L228.11,135.71 L228.54,135.18 L228.97,134.62 L229.4,134.03 L229.83,133.41 L230.26,132.76 L230.69,132.07 L231.12,131.36 L231.55,130.61 L231.98,129.83 L232.42,129.02 L232.85,128.17 L233.28,127.3 L233.71,126.4 L234.14,125.47 L234.57,124.51 L235,123.53 L235.43,122.52 L235.86,121.49 L236.29,120.45 L236.72,119.39 L237.15,118.32 L237.58,117.24 L238.01,116.15 L238.44,115.07 L238.87,114 L239.3,112.93 L239.73,111.89 L240.16,110.87 L240.59,109.88 L241.03,108.93 L241.46,108.03 L241.89,107.18 L242.32,106.4 L242.75,105.69 L243.18,105.06 L243.61,104.51 L244.04,104.06 L244.47,103.7 L244.9,103.45 L245.33,103.3 L245.76,103.26 L246.19,103.31 L246.62,103.45 L247.05,103.67 L247.48,103.97 L247.91,104.35 L248.34,104.8 L248.77,105.31 L249.2,105.9 L249.64,106.54 L250.07,107.24 L250.5,107.98 L250.93,108.77 L251.36,109.59 L251.79,110.45 L252.22,111.34 L252.65,112.24 L253.08,113.17 L253.51,114.11 L253.94,115.05 L254.37,116.01 L254.8,116.96 L255.23,117.91 L255.66,118.86 L256.09,119.8 L256.52,120.73 L256.95,121.64 L257.38,122.55 L257.81,123.43 L258.25,124.3 L258.68,125.15 L259.11,125.98 L259.54,126.79 L259.97,127.57 L260.4,128.33 L260.83,129.07 L261.26,129.78 L261.69,130.47 L262.12,131.14 L262.55,131.78 L262.98,132.39 L263.41,132.98 L263.84,133.55 L264.27,134.09 L264.7,134.61 L265.13,135.11 L265.56,135.58 L265.99,136.03 L266.42,136.46 L266.86,136.86 L267.29,137.25 L267.72,137.61 L268.15,137.96 L268.58,138.29 L269.01,138.6 L269.44,138.89 L269.87,139.17 L270.3,139.43 L270.73,139.68 L271.16,139.91 L271.59,140.13 L272.02,140.34 L272.45,140.53 L272.88,140.71 L273.31,140.89 L273.74,141.05 L274.17,141.2 L274.6,141.34 L275.03,141.48 L275.47,141.61 L275.9,141.73 L276.33,141.84 L276.76,141.95 L277.19,142.05 L277.62,142.15 L278.05,142.24 L278.48,142.32 L278.91,142.4 L279.34,142.48 L279.77,142.55 L280.2,142.62 L280.63,142.69 L281.06,142.75 L281.49,142.81 L281.92,142.87 L282.35,142.92 L282.78,142.98 L283.21,143.03 L283.64,143.07 L284.08,143.12 L284.51,143.16 L284.94,143.21 L285.37,143.25 L285.8,143.29 L286.23,143.33 L286.66,143.36 L287.09,143.4 L287.52,143.43 L287.95,143.47 L288.38,143.5 L288.81,143.53 L289.24,143.56 L289.67,143.59 L290.1,143.62 L290.53,143.65 L290.96,143.67 L291.39,143.7 L291.82,143.72 L292.25,143.75 L292.69,143.77 L293.12,143.8 L293.55,143.82 L293.98,143.84 L294.41,143.86 L294.84,143.89 L295.27,143.91 L295.7,143.93 L296.13,143.95 L296.56,143.97 L296.99,143.99 L297.42,144 L297.85,144.02 L298.28,144.04 L298.71,144.06 L299.14,144.07 L299.57,144.09 L300,144.11 L300.43,144.12 L300.86,144.14 L301.3,144.15 L301.73,144.17 L302.16,144.18 L302.59,144.2 L303.02,144.21 L303.45,144.22 L303.88,144.24 L304.31,144.25 L304.74,144.26 L305.17,144.27 L305.6,144.29 L306.03,144.3 L306.46,144.31 L306.89,144.32 L307.32,144.33 L307.75,144.34 L308.18,144.35 L308.61,144.36 L309.04,144.37 L309.47,144.38 L309.91,144.39 L310.34,144.4 L310.77,144.41 L311.2,144.42 L311.63,144.43 L312.06,144.44 L312.49,144.45 L312.92,144.46 L313.35,144.47 L313.78,144.48 L314.21,144.49 L314.64,144.49 L315.07,144.5 L315.5,144.51 L315.93,144.52 L316.36,144.52 L316.79,144.53 L317.22,144.54 L317.65,144.55 L318.08,144.55 L318.52,144.56 L318.95,144.57 L319.38,144.57 L319.81,144.58 L320.24,144.59 L320.67,144.59 L321.1,144.6 L321.53,144.61 L321.96,144.61 L322.39,144.62 L322.82,144.62 L323.25,144.63 L323.68,144.64 L324.11,144.64 L324.54,144.65 L324.97,144.65 L325.4,144.66 L325.83,144.66 L326.26,144.67 L326.69,144.67 L327.13,144.68 L327.56,144.68 L327.99,144.69 L328.42,144.69 L328.85,144.7 L329.28,144.7 L329.71,144.71 L330.14,144.71 L330.57,144.72 L331,144.72" stroke="#1a1a1a" stroke-width="1.2" fill="none" stroke-dasharray="3,2" clip-path="url(#cpb)"/>
<path d="M219.5,141.61 L219.93,141.46 L220.36,141.31 L220.79,141.14 L221.22,140.96 L221.65,140.77 L222.08,140.57 L222.51,140.35 L222.94,140.11 L223.37,139.86 L223.81,139.59 L224.24,139.31 L224.67,139 L225.1,138.67 L225.53,138.32 L225.96,137.95 L226.39,137.55 L226.82,137.13 L227.25,136.69 L227.68,136.21 L228.11,135.71 L228.54,135.18 L228.97,134.62 L229.4,134.03 L229.83,133.41 L230.26,132.76 L230.69,132.07 L231.12,131.36 L231.55,130.61 L231.98,129.83 L232.42,129.02 L232.85,128.17 L233.28,127.3 L233.71,126.4 L234.14,125.47 L234.57,124.51 L235,123.53 L235.43,122.52 L235.86,121.49 L236.29,120.45 L236.72,119.39 L237.15,118.32 L237.58,117.24 L238.01,116.15 L238.44,115.07 L238.87,114 L239.3,112.93 L239.73,111.89 L240.16,110.87 L240.59,109.88 L241.03,108.93 L241.46,108.03 L241.89,107.18 L242.32,106.4 L242.75,105.69 L243.18,105.06 L243.61,104.51 L244.04,104.06 L244.47,103.7 L244.9,103.45 L245.33,103.3 L245.76,103.26 L246.19,103.31 L246.62,103.45 L247.05,103.67 L247.48,103.97 L247.91,104.35 L248.34,104.8 L248.77,105.31 L249.2,105.9 L249.64,106.54 L250.07,107.24 L250.5,107.98 L250.93,108.77 L251.36,109.59 L251.79,110.45 L252.22,111.34 L252.65,112.24 L253.08,113.17 L253.51,114.11 L253.94,115.05 L254.37,116.01 L254.8,116.96 L255.23,117.91 L255.66,118.86 L256.09,119.8 L256.52,120.73 L256.95,121.64 L257.38,122.55 L257.81,123.43 L258.25,124.3 L258.68,125.15 L259.11,125.98 L259.54,126.79 L259.97,127.57 L260.4,128.33 L260.83,129.07 L261.26,129.78 L261.69,130.47 L262.12,131.14 L262.55,131.78 L262.98,132.39 L263.41,132.98 L263.84,133.55 L264.27,134.09 L264.7,134.61 L265.13,135.11 L265.56,135.58 L265.99,136.03 L266.42,136.46 L266.86,136.86 L267.29,137.25 L267.72,137.61 L268.15,137.96 L268.58,138.29 L269.01,138.6 L269.44,138.89 L269.87,139.17 L270.3,139.43 L270.73,139.68 L271.16,139.91 L271.59,140.13 L272.02,140.34 L272.45,140.53 L272.88,140.71 L273.31,140.89 L273.74,141.05 L274.17,141.2 L274.6,141.34 L275.03,141.48 L275.47,141.61 L275.9,141.73 L276.33,141.84 L276.76,141.95 L277.19,142.05 L277.62,142.15 L278.05,142.24 L278.48,142.32 L278.91,142.4 L279.34,142.48 L279.77,142.55 L280.2,142.62 L280.63,142.69 L281.06,142.75 L281.49,142.81 L281.92,142.87 L282.35,142.92 L282.78,142.98 L283.21,143.03 L283.64,143.07 L284.08,143.12 L284.51,143.16 L284.94,143.21 L285.37,143.25 L285.8,143.29 L286.23,143.33 L286.66,143.36 L287.09,143.4 L287.52,143.43 L287.95,143.47 L288.38,143.5 L288.81,143.53 L289.24,143.56 L289.67,143.59 L290.1,143.62 L290.53,143.65 L290.96,143.67 L291.39,143.7 L291.82,143.72 L292.25,143.75 L292.69,143.77 L293.12,143.8 L293.55,143.82 L293.98,143.84 L294.41,143.86 L294.84,143.89 L295.27,143.91 L295.7,143.93 L296.13,143.95 L296.56,143.97 L296.99,143.99 L297.42,144 L297.85,144.02 L298.28,144.04 L298.71,144.06 L299.14,144.07 L299.57,144.09 L300,144.11 L300.43,144.12 L300.86,144.14 L301.3,144.15 L301.73,144.17 L302.16,144.18 L302.59,144.2 L303.02,144.21 L303.45,144.22 L303.88,144.24 L304.31,144.25 L304.74,144.26 L305.17,144.27 L305.6,144.29 L306.03,144.3 L306.46,144.31 L306.89,144.32 L307.32,144.33 L307.75,144.34 L308.18,144.35 L308.61,144.36 L309.04,144.37 L309.47,144.38 L309.91,144.39 L310.34,144.4 L310.77,144.41 L311.2,144.42 L311.63,144.43 L312.06,144.44 L312.49,144.45 L312.92,144.46 L313.35,144.47 L313.78,144.48 L314.21,144.49 L314.64,144.49 L315.07,144.5 L315.5,144.51 L315.93,144.52 L316.36,144.52 L316.79,144.53 L317.22,144.54 L317.65,144.55 L318.08,144.55 L318.52,144.56 L318.95,144.57 L319.38,144.57 L319.81,144.58 L320.24,144.59 L320.67,144.59 L321.1,144.6 L321.53,144.61 L321.96,144.61 L322.39,144.62 L322.82,144.62 L323.25,144.63 L323.68,144.64 L324.11,144.64 L324.54,144.65 L324.97,144.65 L325.4,144.66 L325.83,144.66 L326.26,144.67 L326.69,144.67 L327.13,144.68 L327.56,144.68 L327.99,144.69 L328.42,144.69 L328.85,144.7 L329.28,144.7 L329.71,144.71 L330.14,144.71 L330.57,144.72 L331,144.72" stroke="#c8282d" stroke-width="1.3" fill="none" clip-path="url(#cpb)"/>
<path d="M219.5,172.49 L219.93,172.43 L220.36,172.36 L220.79,172.29 L221.22,172.22 L221.65,172.14 L222.08,172.05 L222.51,171.96 L222.94,171.86 L223.37,171.76 L223.81,171.64 L224.24,171.52 L224.67,171.39 L225.1,171.24 L225.53,171.09 L225.96,170.92 L226.39,170.74 L226.82,170.54 L227.25,170.33 L227.68,170.1 L228.11,169.86 L228.54,169.59 L228.97,169.3 L229.4,168.99 L229.83,168.65 L230.26,168.29 L230.69,167.9 L231.12,167.48 L231.55,167.03 L231.98,166.55 L232.42,166.04 L232.85,165.49 L233.28,164.91 L233.71,164.29 L234.14,163.63 L234.57,162.93 L235,162.2 L235.43,161.43 L235.86,160.61 L236.29,159.76 L236.72,158.87 L237.15,157.94 L237.58,156.97 L238.01,155.97 L238.44,154.93 L238.87,153.86 L239.3,152.76 L239.73,151.64 L240.16,150.49 L240.59,149.32 L241.03,148.14 L241.46,146.94 L241.89,145.74 L242.32,144.55 L242.75,143.36 L243.18,142.19 L243.61,141.04 L244.04,139.93 L244.47,138.86 L244.9,137.84 L245.33,136.88 L245.76,136 L246.19,135.2 L246.62,134.49 L247.05,133.88 L247.48,133.38 L247.91,133 L248.34,132.74 L248.77,132.61 L249.2,132.61 L249.64,132.75 L250.07,133.04 L250.5,133.47 L250.93,134.03 L251.36,134.71 L251.79,135.51 L252.22,136.4 L252.65,137.39 L253.08,138.45 L253.51,139.58 L253.94,140.76 L254.37,141.98 L254.8,143.23 L255.23,144.5 L255.66,145.78 L256.09,147.06 L256.52,148.33 L256.95,149.6 L257.38,150.84 L257.81,152.06 L258.25,153.25 L258.68,154.42 L259.11,155.54 L259.54,156.63 L259.97,157.67 L260.4,158.68 L260.83,159.64 L261.26,160.56 L261.69,161.43 L262.12,162.25 L262.55,163.03 L262.98,163.77 L263.41,164.46 L263.84,165.11 L264.27,165.72 L264.7,166.29 L265.13,166.82 L265.56,167.32 L265.99,167.77 L266.42,168.2 L266.86,168.59 L267.29,168.96 L267.72,169.29 L268.15,169.6 L268.58,169.88 L269.01,170.15 L269.44,170.39 L269.87,170.61 L270.3,170.81 L270.73,171 L271.16,171.17 L271.59,171.33 L272.02,171.48 L272.45,171.61 L272.88,171.73 L273.31,171.85 L273.74,171.95 L274.17,172.05 L274.6,172.14 L275.03,172.23 L275.47,172.31 L275.9,172.38 L276.33,172.45 L276.76,172.52 L277.19,172.58 L277.62,172.64 L278.05,172.69 L278.48,172.74 L278.91,172.79 L279.34,172.84 L279.77,172.88 L280.2,172.93 L280.63,172.97 L281.06,173.01 L281.49,173.04 L281.92,173.08 L282.35,173.11 L282.78,173.15 L283.21,173.18 L283.64,173.21 L284.08,173.24 L284.51,173.27 L284.94,173.29 L285.37,173.32 L285.8,173.35 L286.23,173.37 L286.66,173.39 L287.09,173.42 L287.52,173.44 L287.95,173.46 L288.38,173.48 L288.81,173.5 L289.24,173.52 L289.67,173.54 L290.1,173.56 L290.53,173.58 L290.96,173.6 L291.39,173.62 L291.82,173.63 L292.25,173.65 L292.69,173.66 L293.12,173.68 L293.55,173.69 L293.98,173.71 L294.41,173.72 L294.84,173.74 L295.27,173.75 L295.7,173.76 L296.13,173.78 L296.56,173.79 L296.99,173.8 L297.42,173.81 L297.85,173.82 L298.28,173.83 L298.71,173.85 L299.14,173.86 L299.57,173.87 L300,173.88 L300.43,173.89 L300.86,173.9 L301.3,173.91 L301.73,173.92 L302.16,173.92 L302.59,173.93 L303.02,173.94 L303.45,173.95 L303.88,173.96 L304.31,173.97 L304.74,173.97 L305.17,173.98 L305.6,173.99 L306.03,174 L306.46,174 L306.89,174.01 L307.32,174.02 L307.75,174.02 L308.18,174.03 L308.61,174.04 L309.04,174.04 L309.47,174.05 L309.91,174.06 L310.34,174.06 L310.77,174.07 L311.2,174.07 L311.63,174.08 L312.06,174.08 L312.49,174.09 L312.92,174.1 L313.35,174.1 L313.78,174.11 L314.21,174.11 L314.64,174.12 L315.07,174.12 L315.5,174.12 L315.93,174.13 L316.36,174.13 L316.79,174.14 L317.22,174.14 L317.65,174.15 L318.08,174.15 L318.52,174.15 L318.95,174.16 L319.38,174.16 L319.81,174.17 L320.24,174.17 L320.67,174.17 L321.1,174.18 L321.53,174.18 L321.96,174.19 L322.39,174.19 L322.82,174.19 L323.25,174.2 L323.68,174.2 L324.11,174.2 L324.54,174.21 L324.97,174.21 L325.4,174.21 L325.83,174.21 L326.26,174.22 L326.69,174.22 L327.13,174.22 L327.56,174.23 L327.99,174.23 L328.42,174.23 L328.85,174.23 L329.28,174.24 L329.71,174.24 L330.14,174.24 L330.57,174.25 L331,174.25" stroke="#1a1a1a" stroke-width="1.2" fill="none" stroke-dasharray="3,2" clip-path="url(#cpb)"/>
<path d="M219.5,172.38 L219.93,172.31 L220.36,172.24 L220.79,172.17 L221.22,172.09 L221.65,172.01 L222.08,171.92 L222.51,171.83 L222.94,171.73 L223.37,171.62 L223.81,171.5 L224.24,171.38 L224.67,171.24 L225.1,171.09 L225.53,170.94 L225.96,170.77 L226.39,170.58 L226.82,170.38 L227.25,170.17 L227.68,169.93 L228.11,169.68 L228.54,169.41 L228.97,169.12 L229.4,168.8 L229.83,168.46 L230.26,168.09 L230.69,167.7 L231.12,167.28 L231.55,166.82 L231.98,166.34 L232.42,165.82 L232.85,165.26 L233.28,164.67 L233.71,164.05 L234.14,163.38 L234.57,162.68 L235,161.93 L235.43,161.15 L235.86,160.33 L236.29,159.46 L236.72,158.56 L237.15,157.62 L237.58,156.64 L238.01,155.62 L238.44,154.57 L238.87,153.48 L239.3,152.36 L239.73,151.21 L240.16,150.04 L240.59,148.85 L241.03,147.63 L241.46,146.41 L241.89,145.18 L242.32,143.94 L242.75,142.71 L243.18,141.49 L243.61,140.29 L244.04,139.12 L244.47,137.99 L244.9,136.9 L245.33,135.87 L245.76,134.9 L246.19,134 L246.62,133.19 L247.05,132.48 L247.48,131.86 L247.91,131.35 L248.34,130.96 L248.77,130.68 L249.2,130.51 L249.64,130.44 L250.07,130.47 L250.5,130.59 L250.93,130.79 L251.36,131.08 L251.79,131.45 L252.22,131.88 L252.65,132.38 L253.08,132.94 L253.51,133.54 L253.94,134.19 L254.37,134.88 L254.8,135.59 L255.23,136.33 L255.66,137.09 L256.09,137.87 L256.52,138.65 L256.95,139.44 L257.38,140.24 L257.81,141.04 L258.25,141.84 L258.68,142.64 L259.11,143.43 L259.54,144.22 L259.97,145.02 L260.4,145.81 L260.83,146.6 L261.26,147.38 L261.69,148.17 L262.12,148.96 L262.55,149.75 L262.98,150.54 L263.41,151.33 L263.84,152.13 L264.27,152.92 L264.7,153.71 L265.13,154.49 L265.56,155.28 L265.99,156.05 L266.42,156.82 L266.86,157.57 L267.29,158.32 L267.72,159.05 L268.15,159.76 L268.58,160.46 L269.01,161.14 L269.44,161.79 L269.87,162.43 L270.3,163.05 L270.73,163.64 L271.16,164.21 L271.59,164.76 L272.02,165.28 L272.45,165.78 L272.88,166.26 L273.31,166.71 L273.74,167.14 L274.17,167.55 L274.6,167.94 L275.03,168.3 L275.47,168.64 L275.9,168.96 L276.33,169.26 L276.76,169.55 L277.19,169.81 L277.62,170.05 L278.05,170.28 L278.48,170.5 L278.91,170.7 L279.34,170.88 L279.77,171.05 L280.2,171.21 L280.63,171.36 L281.06,171.49 L281.49,171.62 L281.92,171.74 L282.35,171.85 L282.78,171.95 L283.21,172.04 L283.64,172.13 L284.08,172.21 L284.51,172.29 L284.94,172.36 L285.37,172.42 L285.8,172.48 L286.23,172.54 L286.66,172.6 L287.09,172.65 L287.52,172.7 L287.95,172.74 L288.38,172.79 L288.81,172.83 L289.24,172.87 L289.67,172.91 L290.1,172.94 L290.53,172.98 L290.96,173.01 L291.39,173.04 L291.82,173.07 L292.25,173.1 L292.69,173.13 L293.12,173.16 L293.55,173.18 L293.98,173.21 L294.41,173.23 L294.84,173.26 L295.27,173.28 L295.7,173.3 L296.13,173.33 L296.56,173.35 L296.99,173.37 L297.42,173.39 L297.85,173.41 L298.28,173.43 L298.71,173.44 L299.14,173.46 L299.57,173.48 L300,173.5 L300.43,173.51 L300.86,173.53 L301.3,173.55 L301.73,173.56 L302.16,173.58 L302.59,173.59 L303.02,173.61 L303.45,173.62 L303.88,173.63 L304.31,173.65 L304.74,173.66 L305.17,173.67 L305.6,173.69 L306.03,173.7 L306.46,173.71 L306.89,173.72 L307.32,173.73 L307.75,173.74 L308.18,173.75 L308.61,173.77 L309.04,173.78 L309.47,173.79 L309.91,173.8 L310.34,173.81 L310.77,173.82 L311.2,173.82 L311.63,173.83 L312.06,173.84 L312.49,173.85 L312.92,173.86 L313.35,173.87 L313.78,173.88 L314.21,173.89 L314.64,173.89 L315.07,173.9 L315.5,173.91 L315.93,173.92 L316.36,173.92 L316.79,173.93 L317.22,173.94 L317.65,173.95 L318.08,173.95 L318.52,173.96 L318.95,173.97 L319.38,173.97 L319.81,173.98 L320.24,173.98 L320.67,173.99 L321.1,174 L321.53,174 L321.96,174.01 L322.39,174.01 L322.82,174.02 L323.25,174.02 L323.68,174.03 L324.11,174.04 L324.54,174.04 L324.97,174.05 L325.4,174.05 L325.83,174.06 L326.26,174.06 L326.69,174.07 L327.13,174.07 L327.56,174.07 L327.99,174.08 L328.42,174.08 L328.85,174.09 L329.28,174.09 L329.71,174.1 L330.14,174.1 L330.57,174.11 L331,174.11" stroke="#c8282d" stroke-width="1.3" fill="none" clip-path="url(#cpb)"/>
<path d="M219.5,202.58 L219.93,202.55 L220.36,202.52 L220.79,202.48 L221.22,202.45 L221.65,202.41 L222.08,202.38 L222.51,202.34 L222.94,202.3 L223.37,202.26 L223.81,202.21 L224.24,202.16 L224.67,202.12 L225.1,202.06 L225.53,202.01 L225.96,201.95 L226.39,201.89 L226.82,201.83 L227.25,201.76 L227.68,201.68 L228.11,201.6 L228.54,201.52 L228.97,201.43 L229.4,201.33 L229.83,201.22 L230.26,201.11 L230.69,200.98 L231.12,200.84 L231.55,200.7 L231.98,200.53 L232.42,200.36 L232.85,200.17 L233.28,199.96 L233.71,199.73 L234.14,199.48 L234.57,199.21 L235,198.91 L235.43,198.59 L235.86,198.23 L236.29,197.85 L236.72,197.44 L237.15,196.99 L237.58,196.5 L238.01,195.98 L238.44,195.41 L238.87,194.8 L239.3,194.15 L239.73,193.46 L240.16,192.71 L240.59,191.92 L241.03,191.08 L241.46,190.19 L241.89,189.26 L242.32,188.27 L242.75,187.24 L243.18,186.16 L243.61,185.04 L244.04,183.88 L244.47,182.67 L244.9,181.44 L245.33,180.17 L245.76,178.88 L246.19,177.56 L246.62,176.24 L247.05,174.9 L247.48,173.58 L247.91,172.26 L248.34,170.97 L248.77,169.72 L249.2,168.51 L249.64,167.36 L250.07,166.29 L250.5,165.3 L250.93,164.42 L251.36,163.65 L251.79,163.01 L252.22,162.51 L252.65,162.16 L253.08,161.96 L253.51,161.93 L253.94,162.06 L254.37,162.37 L254.8,162.85 L255.23,163.49 L255.66,164.27 L256.09,165.19 L256.52,166.22 L256.95,167.35 L257.38,168.57 L257.81,169.86 L258.25,171.19 L258.68,172.56 L259.11,173.96 L259.54,175.37 L259.97,176.78 L260.4,178.18 L260.83,179.56 L261.26,180.91 L261.69,182.24 L262.12,183.52 L262.55,184.76 L262.98,185.96 L263.41,187.11 L263.84,188.21 L264.27,189.25 L264.7,190.24 L265.13,191.18 L265.56,192.06 L265.99,192.89 L266.42,193.66 L266.86,194.38 L267.29,195.06 L267.72,195.68 L268.15,196.26 L268.58,196.79 L269.01,197.28 L269.44,197.73 L269.87,198.15 L270.3,198.52 L270.73,198.87 L271.16,199.19 L271.59,199.48 L272.02,199.74 L272.45,199.98 L272.88,200.2 L273.31,200.4 L273.74,200.58 L274.17,200.75 L274.6,200.9 L275.03,201.04 L275.47,201.17 L275.9,201.28 L276.33,201.39 L276.76,201.49 L277.19,201.58 L277.62,201.67 L278.05,201.75 L278.48,201.82 L278.91,201.89 L279.34,201.96 L279.77,202.02 L280.2,202.07 L280.63,202.13 L281.06,202.18 L281.49,202.23 L281.92,202.27 L282.35,202.32 L282.78,202.36 L283.21,202.4 L283.64,202.44 L284.08,202.47 L284.51,202.51 L284.94,202.54 L285.37,202.57 L285.8,202.6 L286.23,202.63 L286.66,202.66 L287.09,202.69 L287.52,202.72 L287.95,202.74 L288.38,202.77 L288.81,202.79 L289.24,202.82 L289.67,202.84 L290.1,202.86 L290.53,202.88 L290.96,202.9 L291.39,202.92 L291.82,202.94 L292.25,202.96 L292.69,202.98 L293.12,202.99 L293.55,203.01 L293.98,203.03 L294.41,203.04 L294.84,203.06 L295.27,203.07 L295.7,203.09 L296.13,203.1 L296.56,203.12 L296.99,203.13 L297.42,203.14 L297.85,203.15 L298.28,203.17 L298.71,203.18 L299.14,203.19 L299.57,203.2 L300,203.21 L300.43,203.22 L300.86,203.23 L301.3,203.24 L301.73,203.25 L302.16,203.26 L302.59,203.27 L303.02,203.28 L303.45,203.29 L303.88,203.3 L304.31,203.31 L304.74,203.32 L305.17,203.33 L305.6,203.33 L306.03,203.34 L306.46,203.35 L306.89,203.36 L307.32,203.36 L307.75,203.37 L308.18,203.38 L308.61,203.38 L309.04,203.39 L309.47,203.4 L309.91,203.4 L310.34,203.41 L310.77,203.41 L311.2,203.42 L311.63,203.43 L312.06,203.43 L312.49,203.44 L312.92,203.44 L313.35,203.45 L313.78,203.45 L314.21,203.46 L314.64,203.46 L315.07,203.47 L315.5,203.47 L315.93,203.48 L316.36,203.48 L316.79,203.49 L317.22,203.49 L317.65,203.5 L318.08,203.5 L318.52,203.5 L318.95,203.51 L319.38,203.51 L319.81,203.52 L320.24,203.52 L320.67,203.52 L321.1,203.53 L321.53,203.53 L321.96,203.53 L322.39,203.54 L322.82,203.54 L323.25,203.54 L323.68,203.55 L324.11,203.55 L324.54,203.55 L324.97,203.56 L325.4,203.56 L325.83,203.56 L326.26,203.57 L326.69,203.57 L327.13,203.57 L327.56,203.58 L327.99,203.58 L328.42,203.58 L328.85,203.58 L329.28,203.59 L329.71,203.59 L330.14,203.59 L330.57,203.59 L331,203.6" stroke="#1a1a1a" stroke-width="1.2" fill="none" stroke-dasharray="3,2" clip-path="url(#cpb)"/>
<path d="M219.5,202.49 L219.93,202.46 L220.36,202.42 L220.79,202.39 L221.22,202.35 L221.65,202.31 L222.08,202.28 L222.51,202.24 L222.94,202.19 L223.37,202.15 L223.81,202.1 L224.24,202.05 L224.67,202 L225.1,201.95 L225.53,201.89 L225.96,201.83 L226.39,201.77 L226.82,201.7 L227.25,201.63 L227.68,201.55 L228.11,201.47 L228.54,201.38 L228.97,201.29 L229.4,201.19 L229.83,201.08 L230.26,200.96 L230.69,200.83 L231.12,200.69 L231.55,200.54 L231.98,200.37 L232.42,200.19 L232.85,200 L233.28,199.78 L233.71,199.55 L234.14,199.3 L234.57,199.02 L235,198.72 L235.43,198.39 L235.86,198.03 L236.29,197.64 L236.72,197.22 L237.15,196.77 L237.58,196.28 L238.01,195.74 L238.44,195.17 L238.87,194.56 L239.3,193.9 L239.73,193.19 L240.16,192.44 L240.59,191.64 L241.03,190.79 L241.46,189.9 L241.89,188.95 L242.32,187.95 L242.75,186.91 L243.18,185.82 L243.61,184.68 L244.04,183.5 L244.47,182.28 L244.9,181.02 L245.33,179.73 L245.76,178.41 L246.19,177.07 L246.62,175.71 L247.05,174.35 L247.48,172.98 L247.91,171.63 L248.34,170.29 L248.77,168.98 L249.2,167.71 L249.64,166.5 L250.07,165.35 L250.5,164.28 L250.93,163.31 L251.36,162.44 L251.79,161.68 L252.22,161.06 L252.65,160.57 L253.08,160.22 L253.51,160.01 L253.94,159.93 L254.37,159.95 L254.8,160.09 L255.23,160.33 L255.66,160.66 L256.09,161.08 L256.52,161.58 L256.95,162.14 L257.38,162.77 L257.81,163.44 L258.25,164.15 L258.68,164.9 L259.11,165.67 L259.54,166.45 L259.97,167.25 L260.4,168.05 L260.83,168.85 L261.26,169.65 L261.69,170.44 L262.12,171.23 L262.55,172.01 L262.98,172.78 L263.41,173.54 L263.84,174.3 L264.27,175.06 L264.7,175.81 L265.13,176.57 L265.56,177.33 L265.99,178.09 L266.42,178.87 L266.86,179.65 L267.29,180.44 L267.72,181.24 L268.15,182.06 L268.58,182.88 L269.01,183.7 L269.44,184.53 L269.87,185.35 L270.3,186.18 L270.73,186.99 L271.16,187.8 L271.59,188.59 L272.02,189.37 L272.45,190.13 L272.88,190.86 L273.31,191.58 L273.74,192.27 L274.17,192.94 L274.6,193.57 L275.03,194.19 L275.47,194.77 L275.9,195.32 L276.33,195.84 L276.76,196.34 L277.19,196.81 L277.62,197.25 L278.05,197.66 L278.48,198.04 L278.91,198.4 L279.34,198.73 L279.77,199.04 L280.2,199.32 L280.63,199.59 L281.06,199.83 L281.49,200.05 L281.92,200.26 L282.35,200.45 L282.78,200.62 L283.21,200.78 L283.64,200.93 L284.08,201.06 L284.51,201.19 L284.94,201.3 L285.37,201.4 L285.8,201.5 L286.23,201.58 L286.66,201.67 L287.09,201.74 L287.52,201.81 L287.95,201.87 L288.38,201.94 L288.81,201.99 L289.24,202.04 L289.67,202.09 L290.1,202.14 L290.53,202.19 L290.96,202.23 L291.39,202.27 L291.82,202.31 L292.25,202.34 L292.69,202.38 L293.12,202.41 L293.55,202.44 L293.98,202.47 L294.41,202.5 L294.84,202.53 L295.27,202.56 L295.7,202.59 L296.13,202.61 L296.56,202.64 L296.99,202.66 L297.42,202.68 L297.85,202.71 L298.28,202.73 L298.71,202.75 L299.14,202.77 L299.57,202.79 L300,202.81 L300.43,202.83 L300.86,202.85 L301.3,202.86 L301.73,202.88 L302.16,202.9 L302.59,202.91 L303.02,202.93 L303.45,202.95 L303.88,202.96 L304.31,202.98 L304.74,202.99 L305.17,203 L305.6,203.02 L306.03,203.03 L306.46,203.04 L306.89,203.06 L307.32,203.07 L307.75,203.08 L308.18,203.09 L308.61,203.1 L309.04,203.12 L309.47,203.13 L309.91,203.14 L310.34,203.15 L310.77,203.16 L311.2,203.17 L311.63,203.18 L312.06,203.19 L312.49,203.2 L312.92,203.21 L313.35,203.22 L313.78,203.22 L314.21,203.23 L314.64,203.24 L315.07,203.25 L315.5,203.26 L315.93,203.26 L316.36,203.27 L316.79,203.28 L317.22,203.29 L317.65,203.29 L318.08,203.3 L318.52,203.31 L318.95,203.32 L319.38,203.32 L319.81,203.33 L320.24,203.33 L320.67,203.34 L321.1,203.35 L321.53,203.35 L321.96,203.36 L322.39,203.37 L322.82,203.37 L323.25,203.38 L323.68,203.38 L324.11,203.39 L324.54,203.39 L324.97,203.4 L325.4,203.4 L325.83,203.41 L326.26,203.41 L326.69,203.42 L327.13,203.42 L327.56,203.43 L327.99,203.43 L328.42,203.44 L328.85,203.44 L329.28,203.45 L329.71,203.45 L330.14,203.45 L330.57,203.46 L331,203.46" stroke="#c8282d" stroke-width="1.3" fill="none" clip-path="url(#cpb)"/>
<path d="M219.5,232.17 L219.93,232.15 L220.36,232.12 L220.79,232.1 L221.22,232.08 L221.65,232.05 L222.08,232.02 L222.51,232 L222.94,231.97 L223.37,231.94 L223.81,231.91 L224.24,231.87 L224.67,231.84 L225.1,231.81 L225.53,231.77 L225.96,231.73 L226.39,231.69 L226.82,231.65 L227.25,231.61 L227.68,231.56 L228.11,231.51 L228.54,231.46 L228.97,231.41 L229.4,231.35 L229.83,231.29 L230.26,231.23 L230.69,231.16 L231.12,231.08 L231.55,231 L231.98,230.92 L232.42,230.83 L232.85,230.73 L233.28,230.62 L233.71,230.51 L234.14,230.38 L234.57,230.24 L235,230.09 L235.43,229.92 L235.86,229.74 L236.29,229.54 L236.72,229.33 L237.15,229.09 L237.58,228.83 L238.01,228.54 L238.44,228.22 L238.87,227.88 L239.3,227.5 L239.73,227.09 L240.16,226.64 L240.59,226.15 L241.03,225.62 L241.46,225.05 L241.89,224.43 L242.32,223.76 L242.75,223.04 L243.18,222.27 L243.61,221.45 L244.04,220.57 L244.47,219.64 L244.9,218.65 L245.33,217.61 L245.76,216.51 L246.19,215.37 L246.62,214.17 L247.05,212.93 L247.48,211.65 L247.91,210.33 L248.34,208.98 L248.77,207.6 L249.2,206.2 L249.64,204.79 L250.07,203.38 L250.5,201.98 L250.93,200.61 L251.36,199.27 L251.79,197.98 L252.22,196.76 L252.65,195.62 L253.08,194.58 L253.51,193.66 L253.94,192.86 L254.37,192.22 L254.8,191.73 L255.23,191.41 L255.66,191.26 L256.09,191.3 L256.52,191.56 L256.95,192.03 L257.38,192.7 L257.81,193.55 L258.25,194.57 L258.68,195.73 L259.11,197.02 L259.54,198.39 L259.97,199.85 L260.4,201.36 L260.83,202.9 L261.26,204.46 L261.69,206.03 L262.12,207.58 L262.55,209.12 L262.98,210.61 L263.41,212.07 L263.84,213.48 L264.27,214.83 L264.7,216.13 L265.13,217.36 L265.56,218.53 L265.99,219.63 L266.42,220.66 L266.86,221.63 L267.29,222.53 L267.72,223.36 L268.15,224.13 L268.58,224.84 L269.01,225.49 L269.44,226.09 L269.87,226.64 L270.3,227.13 L270.73,227.58 L271.16,227.99 L271.59,228.36 L272.02,228.7 L272.45,229 L272.88,229.27 L273.31,229.52 L273.74,229.74 L274.17,229.94 L274.6,230.12 L275.03,230.29 L275.47,230.44 L275.9,230.57 L276.33,230.69 L276.76,230.81 L277.19,230.91 L277.62,231 L278.05,231.09 L278.48,231.17 L278.91,231.25 L279.34,231.32 L279.77,231.38 L280.2,231.44 L280.63,231.5 L281.06,231.55 L281.49,231.61 L281.92,231.65 L282.35,231.7 L282.78,231.74 L283.21,231.78 L283.64,231.82 L284.08,231.86 L284.51,231.9 L284.94,231.93 L285.37,231.97 L285.8,232 L286.23,232.03 L286.66,232.06 L287.09,232.09 L287.52,232.11 L287.95,232.14 L288.38,232.16 L288.81,232.19 L289.24,232.21 L289.67,232.23 L290.1,232.26 L290.53,232.28 L290.96,232.3 L291.39,232.32 L291.82,232.34 L292.25,232.35 L292.69,232.37 L293.12,232.39 L293.55,232.41 L293.98,232.42 L294.41,232.44 L294.84,232.45 L295.27,232.47 L295.7,232.48 L296.13,232.5 L296.56,232.51 L296.99,232.52 L297.42,232.53 L297.85,232.55 L298.28,232.56 L298.71,232.57 L299.14,232.58 L299.57,232.59 L300,232.6 L300.43,232.61 L300.86,232.62 L301.3,232.63 L301.73,232.64 L302.16,232.65 L302.59,232.66 L303.02,232.67 L303.45,232.68 L303.88,232.68 L304.31,232.69 L304.74,232.7 L305.17,232.71 L305.6,232.72 L306.03,232.72 L306.46,232.73 L306.89,232.74 L307.32,232.74 L307.75,232.75 L308.18,232.76 L308.61,232.76 L309.04,232.77 L309.47,232.77 L309.91,232.78 L310.34,232.79 L310.77,232.79 L311.2,232.8 L311.63,232.8 L312.06,232.81 L312.49,232.81 L312.92,232.82 L313.35,232.82 L313.78,232.83 L314.21,232.83 L314.64,232.84 L315.07,232.84 L315.5,232.85 L315.93,232.85 L316.36,232.85 L316.79,232.86 L317.22,232.86 L317.65,232.87 L318.08,232.87 L318.52,232.87 L318.95,232.88 L319.38,232.88 L319.81,232.88 L320.24,232.89 L320.67,232.89 L321.1,232.89 L321.53,232.9 L321.96,232.9 L322.39,232.9 L322.82,232.91 L323.25,232.91 L323.68,232.91 L324.11,232.92 L324.54,232.92 L324.97,232.92 L325.4,232.92 L325.83,232.93 L326.26,232.93 L326.69,232.93 L327.13,232.94 L327.56,232.94 L327.99,232.94 L328.42,232.94 L328.85,232.95 L329.28,232.95 L329.71,232.95 L330.14,232.95 L330.57,232.95 L331,232.96" stroke="#1a1a1a" stroke-width="1.2" fill="none" stroke-dasharray="3,2" clip-path="url(#cpb)"/>
<path d="M219.5,232.08 L219.93,232.06 L220.36,232.03 L220.79,232.01 L221.22,231.98 L221.65,231.95 L222.08,231.92 L222.51,231.89 L222.94,231.86 L223.37,231.83 L223.81,231.8 L224.24,231.76 L224.67,231.73 L225.1,231.69 L225.53,231.65 L225.96,231.61 L226.39,231.57 L226.82,231.53 L227.25,231.48 L227.68,231.43 L228.11,231.38 L228.54,231.33 L228.97,231.27 L229.4,231.21 L229.83,231.15 L230.26,231.08 L230.69,231.01 L231.12,230.93 L231.55,230.85 L231.98,230.76 L232.42,230.67 L232.85,230.57 L233.28,230.45 L233.71,230.33 L234.14,230.2 L234.57,230.06 L235,229.9 L235.43,229.73 L235.86,229.55 L236.29,229.35 L236.72,229.12 L237.15,228.88 L237.58,228.61 L238.01,228.32 L238.44,228 L238.87,227.65 L239.3,227.26 L239.73,226.84 L240.16,226.39 L240.59,225.89 L241.03,225.36 L241.46,224.77 L241.89,224.14 L242.32,223.47 L242.75,222.74 L243.18,221.96 L243.61,221.12 L244.04,220.23 L244.47,219.29 L244.9,218.28 L245.33,217.23 L245.76,216.12 L246.19,214.95 L246.62,213.74 L247.05,212.48 L247.48,211.17 L247.91,209.82 L248.34,208.44 L248.77,207.02 L249.2,205.59 L249.64,204.14 L250.07,202.68 L250.5,201.23 L250.93,199.79 L251.36,198.39 L251.79,197.03 L252.22,195.72 L252.65,194.49 L253.08,193.35 L253.51,192.31 L253.94,191.38 L254.37,190.6 L254.8,189.95 L255.23,189.46 L255.66,189.13 L256.09,188.96 L256.52,188.93 L256.95,189.03 L257.38,189.27 L257.81,189.63 L258.25,190.1 L258.68,190.66 L259.11,191.31 L259.54,192.04 L259.97,192.82 L260.4,193.65 L260.83,194.51 L261.26,195.4 L261.69,196.3 L262.12,197.21 L262.55,198.11 L262.98,199.01 L263.41,199.9 L263.84,200.77 L264.27,201.63 L264.7,202.47 L265.13,203.29 L265.56,204.1 L265.99,204.89 L266.42,205.67 L266.86,206.44 L267.29,207.2 L267.72,207.97 L268.15,208.73 L268.58,209.49 L269.01,210.26 L269.44,211.03 L269.87,211.81 L270.3,212.6 L270.73,213.39 L271.16,214.18 L271.59,214.98 L272.02,215.77 L272.45,216.55 L272.88,217.33 L273.31,218.1 L273.74,218.85 L274.17,219.59 L274.6,220.31 L275.03,221.01 L275.47,221.69 L275.9,222.35 L276.33,222.98 L276.76,223.58 L277.19,224.16 L277.62,224.71 L278.05,225.24 L278.48,225.73 L278.91,226.2 L279.34,226.65 L279.77,227.06 L280.2,227.45 L280.63,227.82 L281.06,228.15 L281.49,228.47 L281.92,228.76 L282.35,229.03 L282.78,229.28 L283.21,229.51 L283.64,229.72 L284.08,229.92 L284.51,230.1 L284.94,230.26 L285.37,230.41 L285.8,230.55 L286.23,230.67 L286.66,230.79 L287.09,230.89 L287.52,230.99 L287.95,231.08 L288.38,231.16 L288.81,231.23 L289.24,231.3 L289.67,231.37 L290.1,231.43 L290.53,231.48 L290.96,231.53 L291.39,231.58 L291.82,231.63 L292.25,231.67 L292.69,231.71 L293.12,231.75 L293.55,231.79 L293.98,231.82 L294.41,231.85 L294.84,231.88 L295.27,231.91 L295.7,231.94 L296.13,231.97 L296.56,232 L296.99,232.02 L297.42,232.05 L297.85,232.07 L298.28,232.09 L298.71,232.12 L299.14,232.14 L299.57,232.16 L300,232.18 L300.43,232.2 L300.86,232.22 L301.3,232.24 L301.73,232.25 L302.16,232.27 L302.59,232.29 L303.02,232.3 L303.45,232.32 L303.88,232.34 L304.31,232.35 L304.74,232.37 L305.17,232.38 L305.6,232.39 L306.03,232.41 L306.46,232.42 L306.89,232.43 L307.32,232.44 L307.75,232.46 L308.18,232.47 L308.61,232.48 L309.04,232.49 L309.47,232.5 L309.91,232.51 L310.34,232.52 L310.77,232.53 L311.2,232.54 L311.63,232.55 L312.06,232.56 L312.49,232.57 L312.92,232.58 L313.35,232.59 L313.78,232.6 L314.21,232.61 L314.64,232.61 L315.07,232.62 L315.5,232.63 L315.93,232.64 L316.36,232.64 L316.79,232.65 L317.22,232.66 L317.65,232.67 L318.08,232.67 L318.52,232.68 L318.95,232.69 L319.38,232.69 L319.81,232.7 L320.24,232.71 L320.67,232.71 L321.1,232.72 L321.53,232.72 L321.96,232.73 L322.39,232.73 L322.82,232.74 L323.25,232.75 L323.68,232.75 L324.11,232.76 L324.54,232.76 L324.97,232.77 L325.4,232.77 L325.83,232.78 L326.26,232.78 L326.69,232.78 L327.13,232.79 L327.56,232.79 L327.99,232.8 L328.42,232.8 L328.85,232.81 L329.28,232.81 L329.71,232.81 L330.14,232.82 L330.57,232.82 L331,232.83" stroke="#c8282d" stroke-width="1.3" fill="none" clip-path="url(#cpb)"/>
<path d="M219.5,261.7 L219.93,261.69 L220.36,261.67 L220.79,261.65 L221.22,261.63 L221.65,261.61 L222.08,261.59 L222.51,261.57 L222.94,261.55 L223.37,261.53 L223.81,261.51 L224.24,261.48 L224.67,261.46 L225.1,261.43 L225.53,261.41 L225.96,261.38 L226.39,261.35 L226.82,261.32 L227.25,261.29 L227.68,261.26 L228.11,261.23 L228.54,261.19 L228.97,261.16 L229.4,261.12 L229.83,261.08 L230.26,261.04 L230.69,260.99 L231.12,260.95 L231.55,260.9 L231.98,260.85 L232.42,260.79 L232.85,260.74 L233.28,260.68 L233.71,260.61 L234.14,260.54 L234.57,260.47 L235,260.39 L235.43,260.3 L235.86,260.21 L236.29,260.11 L236.72,260 L237.15,259.88 L237.58,259.75 L238.01,259.61 L238.44,259.45 L238.87,259.28 L239.3,259.09 L239.73,258.88 L240.16,258.64 L240.59,258.39 L241.03,258.11 L241.46,257.79 L241.89,257.45 L242.32,257.07 L242.75,256.66 L243.18,256.2 L243.61,255.71 L244.04,255.16 L244.47,254.57 L244.9,253.92 L245.33,253.23 L245.76,252.47 L246.19,251.66 L246.62,250.78 L247.05,249.85 L247.48,248.85 L247.91,247.8 L248.34,246.68 L248.77,245.5 L249.2,244.27 L249.64,242.98 L250.07,241.64 L250.5,240.25 L250.93,238.83 L251.36,237.37 L251.79,235.89 L252.22,234.4 L252.65,232.9 L253.08,231.41 L253.51,229.95 L253.94,228.53 L254.37,227.17 L254.8,225.88 L255.23,224.69 L255.66,223.62 L256.09,222.68 L256.52,221.9 L256.95,221.29 L257.38,220.86 L257.81,220.62 L258.25,220.6 L258.68,220.83 L259.11,221.33 L259.54,222.09 L259.97,223.08 L260.4,224.27 L260.83,225.63 L261.26,227.13 L261.69,228.74 L262.12,230.42 L262.55,232.15 L262.98,233.91 L263.41,235.67 L263.84,237.41 L264.27,239.12 L264.7,240.79 L265.13,242.39 L265.56,243.93 L265.99,245.39 L266.42,246.78 L266.86,248.08 L267.29,249.3 L267.72,250.43 L268.15,251.48 L268.58,252.45 L269.01,253.33 L269.44,254.14 L269.87,254.87 L270.3,255.53 L270.73,256.13 L271.16,256.67 L271.59,257.15 L272.02,257.59 L272.45,257.97 L272.88,258.32 L273.31,258.62 L273.74,258.9 L274.17,259.14 L274.6,259.36 L275.03,259.55 L275.47,259.72 L275.9,259.88 L276.33,260.02 L276.76,260.14 L277.19,260.26 L277.62,260.36 L278.05,260.46 L278.48,260.55 L278.91,260.63 L279.34,260.7 L279.77,260.77 L280.2,260.83 L280.63,260.89 L281.06,260.95 L281.49,261 L281.92,261.05 L282.35,261.1 L282.78,261.15 L283.21,261.19 L283.64,261.23 L284.08,261.27 L284.51,261.31 L284.94,261.34 L285.37,261.38 L285.8,261.41 L286.23,261.44 L286.66,261.47 L287.09,261.5 L287.52,261.52 L287.95,261.55 L288.38,261.57 L288.81,261.6 L289.24,261.62 L289.67,261.64 L290.1,261.67 L290.53,261.69 L290.96,261.71 L291.39,261.72 L291.82,261.74 L292.25,261.76 L292.69,261.78 L293.12,261.79 L293.55,261.81 L293.98,261.83 L294.41,261.84 L294.84,261.86 L295.27,261.87 L295.7,261.88 L296.13,261.9 L296.56,261.91 L296.99,261.92 L297.42,261.93 L297.85,261.94 L298.28,261.96 L298.71,261.97 L299.14,261.98 L299.57,261.99 L300,262 L300.43,262.01 L300.86,262.02 L301.3,262.02 L301.73,262.03 L302.16,262.04 L302.59,262.05 L303.02,262.06 L303.45,262.07 L303.88,262.07 L304.31,262.08 L304.74,262.09 L305.17,262.09 L305.6,262.1 L306.03,262.11 L306.46,262.11 L306.89,262.12 L307.32,262.13 L307.75,262.13 L308.18,262.14 L308.61,262.14 L309.04,262.15 L309.47,262.16 L309.91,262.16 L310.34,262.17 L310.77,262.17 L311.2,262.18 L311.63,262.18 L312.06,262.19 L312.49,262.19 L312.92,262.19 L313.35,262.2 L313.78,262.2 L314.21,262.21 L314.64,262.21 L315.07,262.22 L315.5,262.22 L315.93,262.22 L316.36,262.23 L316.79,262.23 L317.22,262.23 L317.65,262.24 L318.08,262.24 L318.52,262.24 L318.95,262.25 L319.38,262.25 L319.81,262.25 L320.24,262.26 L320.67,262.26 L321.1,262.26 L321.53,262.27 L321.96,262.27 L322.39,262.27 L322.82,262.27 L323.25,262.28 L323.68,262.28 L324.11,262.28 L324.54,262.28 L324.97,262.29 L325.4,262.29 L325.83,262.29 L326.26,262.29 L326.69,262.3 L327.13,262.3 L327.56,262.3 L327.99,262.3 L328.42,262.31 L328.85,262.31 L329.28,262.31 L329.71,262.31 L330.14,262.31 L330.57,262.32 L331,262.32" stroke="#1a1a1a" stroke-width="1.2" fill="none" stroke-dasharray="3,2" clip-path="url(#cpb)"/>
<path d="M219.5,261.63 L219.93,261.61 L220.36,261.59 L220.79,261.57 L221.22,261.55 L221.65,261.53 L222.08,261.51 L222.51,261.48 L222.94,261.46 L223.37,261.44 L223.81,261.41 L224.24,261.39 L224.67,261.36 L225.1,261.34 L225.53,261.31 L225.96,261.28 L226.39,261.25 L226.82,261.22 L227.25,261.18 L227.68,261.15 L228.11,261.11 L228.54,261.08 L228.97,261.04 L229.4,261 L229.83,260.96 L230.26,260.91 L230.69,260.87 L231.12,260.82 L231.55,260.77 L231.98,260.71 L232.42,260.66 L232.85,260.6 L233.28,260.53 L233.71,260.47 L234.14,260.39 L234.57,260.32 L235,260.23 L235.43,260.14 L235.86,260.05 L236.29,259.94 L236.72,259.83 L237.15,259.71 L237.58,259.57 L238.01,259.42 L238.44,259.26 L238.87,259.08 L239.3,258.89 L239.73,258.67 L240.16,258.43 L240.59,258.17 L241.03,257.88 L241.46,257.57 L241.89,257.22 L242.32,256.83 L242.75,256.41 L243.18,255.95 L243.61,255.44 L244.04,254.89 L244.47,254.29 L244.9,253.63 L245.33,252.93 L245.76,252.16 L246.19,251.34 L246.62,250.45 L247.05,249.51 L247.48,248.5 L247.91,247.43 L248.34,246.29 L248.77,245.1 L249.2,243.84 L249.64,242.53 L250.07,241.17 L250.5,239.76 L250.93,238.31 L251.36,236.82 L251.79,235.3 L252.22,233.76 L252.65,232.22 L253.08,230.68 L253.51,229.16 L253.94,227.68 L254.37,226.24 L254.8,224.87 L255.23,223.59 L255.66,222.41 L256.09,221.35 L256.52,220.43 L256.95,219.67 L257.38,219.08 L257.81,218.67 L258.25,218.44 L258.68,218.39 L259.11,218.51 L259.54,218.81 L259.97,219.25 L260.4,219.84 L260.83,220.54 L261.26,221.35 L261.69,222.23 L262.12,223.18 L262.55,224.17 L262.98,225.19 L263.41,226.22 L263.84,227.26 L264.27,228.28 L264.7,229.28 L265.13,230.26 L265.56,231.21 L265.99,232.12 L266.42,233 L266.86,233.84 L267.29,234.65 L267.72,235.43 L268.15,236.19 L268.58,236.92 L269.01,237.63 L269.44,238.33 L269.87,239.03 L270.3,239.73 L270.73,240.43 L271.16,241.14 L271.59,241.86 L272.02,242.59 L272.45,243.33 L272.88,244.08 L273.31,244.83 L273.74,245.6 L274.17,246.36 L274.6,247.13 L275.03,247.88 L275.47,248.63 L275.9,249.37 L276.33,250.09 L276.76,250.8 L277.19,251.48 L277.62,252.15 L278.05,252.78 L278.48,253.4 L278.91,253.98 L279.34,254.54 L279.77,255.07 L280.2,255.57 L280.63,256.05 L281.06,256.49 L281.49,256.9 L281.92,257.29 L282.35,257.65 L282.78,257.98 L283.21,258.29 L283.64,258.57 L284.08,258.83 L284.51,259.06 L284.94,259.28 L285.37,259.48 L285.8,259.66 L286.23,259.82 L286.66,259.97 L287.09,260.11 L287.52,260.23 L287.95,260.34 L288.38,260.44 L288.81,260.54 L289.24,260.62 L289.67,260.7 L290.1,260.77 L290.53,260.83 L290.96,260.89 L291.39,260.95 L291.82,261 L292.25,261.05 L292.69,261.09 L293.12,261.13 L293.55,261.17 L293.98,261.21 L294.41,261.25 L294.84,261.28 L295.27,261.31 L295.7,261.34 L296.13,261.37 L296.56,261.4 L296.99,261.42 L297.42,261.45 L297.85,261.47 L298.28,261.5 L298.71,261.52 L299.14,261.54 L299.57,261.56 L300,261.58 L300.43,261.6 L300.86,261.62 L301.3,261.64 L301.73,261.65 L302.16,261.67 L302.59,261.69 L303.02,261.7 L303.45,261.72 L303.88,261.73 L304.31,261.75 L304.74,261.76 L305.17,261.78 L305.6,261.79 L306.03,261.8 L306.46,261.82 L306.89,261.83 L307.32,261.84 L307.75,261.85 L308.18,261.86 L308.61,261.87 L309.04,261.89 L309.47,261.9 L309.91,261.91 L310.34,261.92 L310.77,261.93 L311.2,261.93 L311.63,261.94 L312.06,261.95 L312.49,261.96 L312.92,261.97 L313.35,261.98 L313.78,261.99 L314.21,261.99 L314.64,262 L315.07,262.01 L315.5,262.02 L315.93,262.02 L316.36,262.03 L316.79,262.04 L317.22,262.04 L317.65,262.05 L318.08,262.06 L318.52,262.06 L318.95,262.07 L319.38,262.08 L319.81,262.08 L320.24,262.09 L320.67,262.09 L321.1,262.1 L321.53,262.1 L321.96,262.11 L322.39,262.11 L322.82,262.12 L323.25,262.12 L323.68,262.13 L324.11,262.13 L324.54,262.14 L324.97,262.14 L325.4,262.15 L325.83,262.15 L326.26,262.16 L326.69,262.16 L327.13,262.16 L327.56,262.17 L327.99,262.17 L328.42,262.18 L328.85,262.18 L329.28,262.18 L329.71,262.19 L330.14,262.19 L330.57,262.19 L331,262.2" stroke="#c8282d" stroke-width="1.3" fill="none" clip-path="url(#cpb)"/>
<path d="M219.5,291.54 L219.93,291.53 L220.36,291.53 L220.79,291.52 L221.22,291.51 L221.65,291.51 L222.08,291.5 L222.51,291.5 L222.94,291.49 L223.37,291.48 L223.81,291.48 L224.24,291.47 L224.67,291.46 L225.1,291.46 L225.53,291.45 L225.96,291.44 L226.39,291.43 L226.82,291.43 L227.25,291.42 L227.68,291.41 L228.11,291.4 L228.54,291.39 L228.97,291.38 L229.4,291.37 L229.83,291.36 L230.26,291.35 L230.69,291.34 L231.12,291.33 L231.55,291.32 L231.98,291.3 L232.42,291.29 L232.85,291.28 L233.28,291.26 L233.71,291.25 L234.14,291.24 L234.57,291.22 L235,291.2 L235.43,291.19 L235.86,291.17 L236.29,291.15 L236.72,291.13 L237.15,291.12 L237.58,291.09 L238.01,291.07 L238.44,291.05 L238.87,291.03 L239.3,291 L239.73,290.98 L240.16,290.95 L240.59,290.92 L241.03,290.9 L241.46,290.86 L241.89,290.83 L242.32,290.8 L242.75,290.76 L243.18,290.73 L243.61,290.69 L244.04,290.64 L244.47,290.6 L244.9,290.55 L245.33,290.5 L245.76,290.45 L246.19,290.39 L246.62,290.33 L247.05,290.26 L247.48,290.18 L247.91,290.1 L248.34,290.01 L248.77,289.91 L249.2,289.8 L249.64,289.68 L250.07,289.54 L250.5,289.38 L250.93,289.2 L251.36,289 L251.79,288.76 L252.22,288.49 L252.65,288.18 L253.08,287.83 L253.51,287.42 L253.94,286.96 L254.37,286.43 L254.8,285.82 L255.23,285.14 L255.66,284.38 L256.09,283.51 L256.52,282.55 L256.95,281.49 L257.38,280.32 L257.81,279.03 L258.25,277.64 L258.68,276.13 L259.11,274.52 L259.54,272.8 L259.97,271 L260.4,269.12 L260.83,267.17 L261.26,265.19 L261.69,263.18 L262.12,261.18 L262.55,259.22 L262.98,257.34 L263.41,255.58 L263.84,253.99 L264.27,252.6 L264.7,251.46 L265.13,250.61 L265.56,250.09 L265.99,249.91 L266.42,250.11 L266.86,250.72 L267.29,251.7 L267.72,253.01 L268.15,254.61 L268.58,256.42 L269.01,258.41 L269.44,260.51 L269.87,262.67 L270.3,264.85 L270.73,267.01 L271.16,269.13 L271.59,271.17 L272.02,273.11 L272.45,274.95 L272.88,276.67 L273.31,278.25 L273.74,279.71 L274.17,281.04 L274.6,282.24 L275.03,283.31 L275.47,284.26 L275.9,285.11 L276.33,285.85 L276.76,286.49 L277.19,287.06 L277.62,287.55 L278.05,287.97 L278.48,288.33 L278.91,288.64 L279.34,288.91 L279.77,289.15 L280.2,289.35 L280.63,289.52 L281.06,289.68 L281.49,289.81 L281.92,289.93 L282.35,290.03 L282.78,290.13 L283.21,290.21 L283.64,290.29 L284.08,290.36 L284.51,290.43 L284.94,290.49 L285.37,290.54 L285.8,290.6 L286.23,290.64 L286.66,290.69 L287.09,290.73 L287.52,290.77 L287.95,290.81 L288.38,290.85 L288.81,290.88 L289.24,290.91 L289.67,290.94 L290.1,290.97 L290.53,291 L290.96,291.03 L291.39,291.05 L291.82,291.08 L292.25,291.1 L292.69,291.12 L293.12,291.14 L293.55,291.16 L293.98,291.18 L294.41,291.2 L294.84,291.22 L295.27,291.23 L295.7,291.25 L296.13,291.26 L296.56,291.28 L296.99,291.29 L297.42,291.31 L297.85,291.32 L298.28,291.33 L298.71,291.35 L299.14,291.36 L299.57,291.37 L300,291.38 L300.43,291.39 L300.86,291.4 L301.3,291.41 L301.73,291.42 L302.16,291.43 L302.59,291.44 L303.02,291.44 L303.45,291.45 L303.88,291.46 L304.31,291.47 L304.74,291.48 L305.17,291.48 L305.6,291.49 L306.03,291.5 L306.46,291.5 L306.89,291.51 L307.32,291.52 L307.75,291.52 L308.18,291.53 L308.61,291.53 L309.04,291.54 L309.47,291.54 L309.91,291.55 L310.34,291.55 L310.77,291.56 L311.2,291.56 L311.63,291.57 L312.06,291.57 L312.49,291.58 L312.92,291.58 L313.35,291.58 L313.78,291.59 L314.21,291.59 L314.64,291.6 L315.07,291.6 L315.5,291.6 L315.93,291.61 L316.36,291.61 L316.79,291.61 L317.22,291.62 L317.65,291.62 L318.08,291.62 L318.52,291.63 L318.95,291.63 L319.38,291.63 L319.81,291.64 L320.24,291.64 L320.67,291.64 L321.1,291.64 L321.53,291.65 L321.96,291.65 L322.39,291.65 L322.82,291.65 L323.25,291.66 L323.68,291.66 L324.11,291.66 L324.54,291.66 L324.97,291.66 L325.4,291.67 L325.83,291.67 L326.26,291.67 L326.69,291.67 L327.13,291.67 L327.56,291.68 L327.99,291.68 L328.42,291.68 L328.85,291.68 L329.28,291.68 L329.71,291.68 L330.14,291.69 L330.57,291.69 L331,291.69" stroke="#1a1a1a" stroke-width="1.2" fill="none" stroke-dasharray="3,2" clip-path="url(#cpb)"/>
<path d="M219.5,291.51 L219.93,291.5 L220.36,291.49 L220.79,291.49 L221.22,291.48 L221.65,291.48 L222.08,291.47 L222.51,291.46 L222.94,291.46 L223.37,291.45 L223.81,291.44 L224.24,291.44 L224.67,291.43 L225.1,291.42 L225.53,291.41 L225.96,291.41 L226.39,291.4 L226.82,291.39 L227.25,291.38 L227.68,291.37 L228.11,291.36 L228.54,291.35 L228.97,291.34 L229.4,291.33 L229.83,291.32 L230.26,291.31 L230.69,291.3 L231.12,291.28 L231.55,291.27 L231.98,291.26 L232.42,291.24 L232.85,291.23 L233.28,291.22 L233.71,291.2 L234.14,291.19 L234.57,291.17 L235,291.15 L235.43,291.13 L235.86,291.12 L236.29,291.1 L236.72,291.08 L237.15,291.06 L237.58,291.04 L238.01,291.01 L238.44,290.99 L238.87,290.97 L239.3,290.94 L239.73,290.91 L240.16,290.89 L240.59,290.86 L241.03,290.83 L241.46,290.79 L241.89,290.76 L242.32,290.72 L242.75,290.69 L243.18,290.65 L243.61,290.61 L244.04,290.56 L244.47,290.52 L244.9,290.47 L245.33,290.41 L245.76,290.36 L246.19,290.3 L246.62,290.23 L247.05,290.16 L247.48,290.09 L247.91,290 L248.34,289.91 L248.77,289.81 L249.2,289.7 L249.64,289.57 L250.07,289.43 L250.5,289.26 L250.93,289.08 L251.36,288.87 L251.79,288.63 L252.22,288.36 L252.65,288.05 L253.08,287.69 L253.51,287.28 L253.94,286.81 L254.37,286.27 L254.8,285.67 L255.23,284.98 L255.66,284.21 L256.09,283.34 L256.52,282.38 L256.95,281.3 L257.38,280.13 L257.81,278.83 L258.25,277.43 L258.68,275.92 L259.11,274.3 L259.54,272.58 L259.97,270.76 L260.4,268.87 L260.83,266.91 L261.26,264.92 L261.69,262.9 L262.12,260.88 L262.55,258.91 L262.98,257.02 L263.41,255.24 L263.84,253.62 L264.27,252.21 L264.7,251.04 L265.13,250.16 L265.56,249.6 L265.99,249.38 L266.42,249.48 L266.86,249.86 L267.29,250.51 L267.72,251.41 L268.15,252.52 L268.58,253.81 L269.01,255.24 L269.44,256.78 L269.87,258.39 L270.3,260.03 L270.73,261.67 L271.16,263.3 L271.59,264.88 L272.02,266.4 L272.45,267.84 L272.88,269.18 L273.31,270.42 L273.74,271.54 L274.17,272.56 L274.6,273.45 L275.03,274.23 L275.47,274.89 L275.9,275.45 L276.33,275.91 L276.76,276.28 L277.19,276.57 L277.62,276.8 L278.05,276.98 L278.48,277.12 L278.91,277.24 L279.34,277.37 L279.77,277.5 L280.2,277.66 L280.63,277.85 L281.06,278.1 L281.49,278.39 L281.92,278.74 L282.35,279.14 L282.78,279.59 L283.21,280.09 L283.64,280.62 L284.08,281.17 L284.51,281.75 L284.94,282.34 L285.37,282.93 L285.8,283.51 L286.23,284.09 L286.66,284.66 L287.09,285.2 L287.52,285.72 L287.95,286.21 L288.38,286.68 L288.81,287.12 L289.24,287.52 L289.67,287.89 L290.1,288.23 L290.53,288.54 L290.96,288.82 L291.39,289.08 L291.82,289.3 L292.25,289.51 L292.69,289.69 L293.12,289.85 L293.55,289.99 L293.98,290.11 L294.41,290.22 L294.84,290.32 L295.27,290.4 L295.7,290.48 L296.13,290.55 L296.56,290.61 L296.99,290.66 L297.42,290.71 L297.85,290.76 L298.28,290.8 L298.71,290.83 L299.14,290.87 L299.57,290.9 L300,290.93 L300.43,290.95 L300.86,290.98 L301.3,291.01 L301.73,291.03 L302.16,291.05 L302.59,291.07 L303.02,291.09 L303.45,291.11 L303.88,291.13 L304.31,291.15 L304.74,291.16 L305.17,291.18 L305.6,291.19 L306.03,291.21 L306.46,291.22 L306.89,291.24 L307.32,291.25 L307.75,291.26 L308.18,291.28 L308.61,291.29 L309.04,291.3 L309.47,291.31 L309.91,291.32 L310.34,291.33 L310.77,291.34 L311.2,291.35 L311.63,291.36 L312.06,291.37 L312.49,291.38 L312.92,291.39 L313.35,291.4 L313.78,291.4 L314.21,291.41 L314.64,291.42 L315.07,291.43 L315.5,291.43 L315.93,291.44 L316.36,291.45 L316.79,291.45 L317.22,291.46 L317.65,291.47 L318.08,291.47 L318.52,291.48 L318.95,291.48 L319.38,291.49 L319.81,291.5 L320.24,291.5 L320.67,291.51 L321.1,291.51 L321.53,291.52 L321.96,291.52 L322.39,291.53 L322.82,291.53 L323.25,291.53 L323.68,291.54 L324.11,291.54 L324.54,291.55 L324.97,291.55 L325.4,291.56 L325.83,291.56 L326.26,291.56 L326.69,291.57 L327.13,291.57 L327.56,291.57 L327.99,291.58 L328.42,291.58 L328.85,291.58 L329.28,291.59 L329.71,291.59 L330.14,291.59 L330.57,291.6 L331,291.6" stroke="#c8282d" stroke-width="1.3" fill="none" clip-path="url(#cpb)"/>
<path d="M219.5,320.99 L219.93,320.98 L220.36,320.98 L220.79,320.98 L221.22,320.98 L221.65,320.97 L222.08,320.97 L222.51,320.97 L222.94,320.96 L223.37,320.96 L223.81,320.96 L224.24,320.95 L224.67,320.95 L225.1,320.95 L225.53,320.94 L225.96,320.94 L226.39,320.94 L226.82,320.93 L227.25,320.93 L227.68,320.92 L228.11,320.92 L228.54,320.92 L228.97,320.91 L229.4,320.91 L229.83,320.9 L230.26,320.9 L230.69,320.89 L231.12,320.89 L231.55,320.88 L231.98,320.88 L232.42,320.87 L232.85,320.86 L233.28,320.86 L233.71,320.85 L234.14,320.85 L234.57,320.84 L235,320.83 L235.43,320.82 L235.86,320.82 L236.29,320.81 L236.72,320.8 L237.15,320.79 L237.58,320.78 L238.01,320.77 L238.44,320.77 L238.87,320.76 L239.3,320.75 L239.73,320.73 L240.16,320.72 L240.59,320.71 L241.03,320.7 L241.46,320.69 L241.89,320.68 L242.32,320.66 L242.75,320.65 L243.18,320.63 L243.61,320.62 L244.04,320.6 L244.47,320.59 L244.9,320.57 L245.33,320.55 L245.76,320.53 L246.19,320.51 L246.62,320.49 L247.05,320.47 L247.48,320.44 L247.91,320.42 L248.34,320.39 L248.77,320.37 L249.2,320.34 L249.64,320.31 L250.07,320.27 L250.5,320.24 L250.93,320.21 L251.36,320.17 L251.79,320.13 L252.22,320.08 L252.65,320.04 L253.08,319.99 L253.51,319.94 L253.94,319.88 L254.37,319.82 L254.8,319.75 L255.23,319.68 L255.66,319.6 L256.09,319.51 L256.52,319.41 L256.95,319.3 L257.38,319.17 L257.81,319.03 L258.25,318.86 L258.68,318.67 L259.11,318.44 L259.54,318.17 L259.97,317.86 L260.4,317.49 L260.83,317.05 L261.26,316.54 L261.69,315.94 L262.12,315.24 L262.55,314.43 L262.98,313.49 L263.41,312.41 L263.84,311.19 L264.27,309.81 L264.7,308.27 L265.13,306.58 L265.56,304.72 L265.99,302.72 L266.42,300.58 L266.86,298.32 L267.29,295.98 L267.72,293.58 L268.15,291.17 L268.58,288.81 L269.01,286.55 L269.44,284.47 L269.87,282.64 L270.3,281.14 L270.73,280.04 L271.16,279.4 L271.59,279.26 L272.02,279.75 L272.45,280.9 L272.88,282.62 L273.31,284.8 L273.74,287.31 L274.17,290.02 L274.6,292.84 L275.03,295.67 L275.47,298.43 L275.9,301.07 L276.33,303.54 L276.76,305.81 L277.19,307.87 L277.62,309.71 L278.05,311.32 L278.48,312.73 L278.91,313.93 L279.34,314.96 L279.77,315.82 L280.2,316.54 L280.63,317.13 L281.06,317.62 L281.49,318.03 L281.92,318.36 L282.35,318.64 L282.78,318.87 L283.21,319.06 L283.64,319.22 L284.08,319.36 L284.51,319.48 L284.94,319.59 L285.37,319.69 L285.8,319.77 L286.23,319.85 L286.66,319.91 L287.09,319.98 L287.52,320.04 L287.95,320.09 L288.38,320.14 L288.81,320.19 L289.24,320.23 L289.67,320.27 L290.1,320.31 L290.53,320.34 L290.96,320.38 L291.39,320.41 L291.82,320.44 L292.25,320.47 L292.69,320.49 L293.12,320.52 L293.55,320.54 L293.98,320.56 L294.41,320.58 L294.84,320.6 L295.27,320.62 L295.7,320.64 L296.13,320.66 L296.56,320.67 L296.99,320.69 L297.42,320.7 L297.85,320.72 L298.28,320.73 L298.71,320.74 L299.14,320.75 L299.57,320.76 L300,320.78 L300.43,320.79 L300.86,320.8 L301.3,320.81 L301.73,320.82 L302.16,320.82 L302.59,320.83 L303.02,320.84 L303.45,320.85 L303.88,320.86 L304.31,320.86 L304.74,320.87 L305.17,320.88 L305.6,320.88 L306.03,320.89 L306.46,320.9 L306.89,320.9 L307.32,320.91 L307.75,320.91 L308.18,320.92 L308.61,320.92 L309.04,320.93 L309.47,320.93 L309.91,320.94 L310.34,320.94 L310.77,320.95 L311.2,320.95 L311.63,320.95 L312.06,320.96 L312.49,320.96 L312.92,320.97 L313.35,320.97 L313.78,320.97 L314.21,320.98 L314.64,320.98 L315.07,320.98 L315.5,320.99 L315.93,320.99 L316.36,320.99 L316.79,320.99 L317.22,321 L317.65,321 L318.08,321 L318.52,321 L318.95,321.01 L319.38,321.01 L319.81,321.01 L320.24,321.01 L320.67,321.02 L321.1,321.02 L321.53,321.02 L321.96,321.02 L322.39,321.02 L322.82,321.03 L323.25,321.03 L323.68,321.03 L324.11,321.03 L324.54,321.03 L324.97,321.03 L325.4,321.04 L325.83,321.04 L326.26,321.04 L326.69,321.04 L327.13,321.04 L327.56,321.04 L327.99,321.05 L328.42,321.05 L328.85,321.05 L329.28,321.05 L329.71,321.05 L330.14,321.05 L330.57,321.05 L331,321.05" stroke="#1a1a1a" stroke-width="1.2" fill="none" stroke-dasharray="3,2" clip-path="url(#cpb)"/>
<path d="M219.5,320.97 L219.93,320.96 L220.36,320.96 L220.79,320.96 L221.22,320.95 L221.65,320.95 L222.08,320.95 L222.51,320.94 L222.94,320.94 L223.37,320.94 L223.81,320.93 L224.24,320.93 L224.67,320.93 L225.1,320.92 L225.53,320.92 L225.96,320.91 L226.39,320.91 L226.82,320.91 L227.25,320.9 L227.68,320.9 L228.11,320.89 L228.54,320.89 L228.97,320.88 L229.4,320.88 L229.83,320.87 L230.26,320.87 L230.69,320.86 L231.12,320.86 L231.55,320.85 L231.98,320.84 L232.42,320.84 L232.85,320.83 L233.28,320.82 L233.71,320.82 L234.14,320.81 L234.57,320.8 L235,320.8 L235.43,320.79 L235.86,320.78 L236.29,320.77 L236.72,320.76 L237.15,320.75 L237.58,320.74 L238.01,320.74 L238.44,320.73 L238.87,320.71 L239.3,320.7 L239.73,320.69 L240.16,320.68 L240.59,320.67 L241.03,320.66 L241.46,320.64 L241.89,320.63 L242.32,320.62 L242.75,320.6 L243.18,320.59 L243.61,320.57 L244.04,320.55 L244.47,320.53 L244.9,320.52 L245.33,320.5 L245.76,320.48 L246.19,320.46 L246.62,320.43 L247.05,320.41 L247.48,320.39 L247.91,320.36 L248.34,320.33 L248.77,320.3 L249.2,320.27 L249.64,320.24 L250.07,320.21 L250.5,320.17 L250.93,320.14 L251.36,320.1 L251.79,320.05 L252.22,320.01 L252.65,319.96 L253.08,319.91 L253.51,319.86 L253.94,319.8 L254.37,319.73 L254.8,319.67 L255.23,319.59 L255.66,319.51 L256.09,319.42 L256.52,319.32 L256.95,319.2 L257.38,319.07 L257.81,318.93 L258.25,318.76 L258.68,318.56 L259.11,318.33 L259.54,318.06 L259.97,317.74 L260.4,317.37 L260.83,316.93 L261.26,316.42 L261.69,315.81 L262.12,315.11 L262.55,314.29 L262.98,313.34 L263.41,312.26 L263.84,311.03 L264.27,309.65 L264.7,308.11 L265.13,306.41 L265.56,304.55 L265.99,302.54 L266.42,300.39 L266.86,298.13 L267.29,295.78 L267.72,293.37 L268.15,290.96 L268.58,288.59 L269.01,286.32 L269.44,284.23 L269.87,282.39 L270.3,280.88 L270.73,279.77 L271.16,279.11 L271.59,278.95 L272.02,279.3 L272.45,280.12 L272.88,281.39 L273.31,283.02 L273.74,284.95 L274.17,287.09 L274.6,289.38 L275.03,291.74 L275.47,294.12 L275.9,296.46 L276.33,298.74 L276.76,300.9 L277.19,302.93 L277.62,304.81 L278.05,306.52 L278.48,308.05 L278.91,309.41 L279.34,310.58 L279.77,311.57 L280.2,312.39 L280.63,313.04 L281.06,313.53 L281.49,313.85 L281.92,314.03 L282.35,314.06 L282.78,313.96 L283.21,313.73 L283.64,313.38 L284.08,312.92 L284.51,312.36 L284.94,311.71 L285.37,310.99 L285.8,310.22 L286.23,309.4 L286.66,308.56 L287.09,307.74 L287.52,306.94 L287.95,306.21 L288.38,305.57 L288.81,305.06 L289.24,304.7 L289.67,304.51 L290.1,304.51 L290.53,304.7 L290.96,305.08 L291.39,305.62 L291.82,306.3 L292.25,307.1 L292.69,307.98 L293.12,308.91 L293.55,309.88 L293.98,310.85 L294.41,311.8 L294.84,312.73 L295.27,313.61 L295.7,314.44 L296.13,315.2 L296.56,315.9 L296.99,316.53 L297.42,317.1 L297.85,317.59 L298.28,318.03 L298.71,318.4 L299.14,318.73 L299.57,319 L300,319.23 L300.43,319.43 L300.86,319.6 L301.3,319.74 L301.73,319.85 L302.16,319.95 L302.59,320.03 L303.02,320.11 L303.45,320.17 L303.88,320.22 L304.31,320.27 L304.74,320.31 L305.17,320.34 L305.6,320.38 L306.03,320.41 L306.46,320.44 L306.89,320.46 L307.32,320.49 L307.75,320.51 L308.18,320.53 L308.61,320.55 L309.04,320.57 L309.47,320.59 L309.91,320.61 L310.34,320.62 L310.77,320.64 L311.2,320.65 L311.63,320.67 L312.06,320.68 L312.49,320.69 L312.92,320.7 L313.35,320.72 L313.78,320.73 L314.21,320.74 L314.64,320.75 L315.07,320.76 L315.5,320.77 L315.93,320.78 L316.36,320.79 L316.79,320.79 L317.22,320.8 L317.65,320.81 L318.08,320.82 L318.52,320.82 L318.95,320.83 L319.38,320.84 L319.81,320.84 L320.24,320.85 L320.67,320.86 L321.1,320.86 L321.53,320.87 L321.96,320.87 L322.39,320.88 L322.82,320.89 L323.25,320.89 L323.68,320.89 L324.11,320.9 L324.54,320.9 L324.97,320.91 L325.4,320.91 L325.83,320.92 L326.26,320.92 L326.69,320.93 L327.13,320.93 L327.56,320.93 L327.99,320.94 L328.42,320.94 L328.85,320.94 L329.28,320.95 L329.71,320.95 L330.14,320.95 L330.57,320.96 L331,320.96" stroke="#c8282d" stroke-width="1.3" fill="none" clip-path="url(#cpb)"/>
<path d="M226.5,340.66 L226.85,340.92 L227.2,341.17 L227.55,341.41 L227.9,341.64 L228.25,341.86 L228.6,342.07 L228.95,342.28 L229.3,342.48 L229.65,342.67 L229.99,342.86 L230.34,343.04 L230.69,343.21 L231.04,343.37 L231.39,343.53 L231.74,343.69 L232.09,343.84 L232.44,343.98 L232.79,344.12 L233.14,344.25 L233.49,344.38 L233.84,344.51 L234.19,344.62 L234.54,344.74 L234.89,344.85 L235.24,344.96 L235.59,345.06 L235.94,345.16 L236.29,345.25 L236.64,345.34 L236.98,345.43 L237.33,345.51 L237.68,345.59 L238.03,345.67 L238.38,345.74 L238.73,345.81 L239.08,345.88 L239.43,345.94 L239.78,346.01 L240.13,346.07 L240.48,346.12 L240.83,346.17 L241.18,346.22 L241.53,346.27 L241.88,346.32 L242.23,346.36 L242.58,346.4 L242.93,346.44 L243.28,346.47 L243.63,346.5 L243.97,346.53 L244.32,346.56 L244.67,346.58 L245.02,346.6 L245.37,346.62 L245.72,346.64 L246.07,346.65 L246.42,346.66 L246.77,346.66 L247.12,346.66 L247.47,346.65 L247.82,346.64 L248.17,346.62 L248.52,346.59 L248.87,346.56 L249.22,346.51 L249.57,346.45 L249.92,346.38 L250.27,346.29 L250.62,346.19 L250.96,346.06 L251.31,345.92 L251.66,345.75 L252.01,345.56 L252.36,345.34 L252.71,345.09 L253.06,344.82 L253.41,344.53 L253.76,344.2 L254.11,343.86 L254.46,343.49 L254.81,343.11 L255.16,342.72 L255.51,342.33 L255.86,341.94 L256.21,341.58 L256.56,341.25 L256.91,340.96 L257.26,340.73 L257.61,340.58 L257.95,340.51 L258.3,340.52 L258.65,340.61 L259,340.78 L259.35,341.01 L259.7,341.29 L260.05,341.6 L260.4,341.94 L260.75,342.28 L261.1,342.63 L261.45,342.96 L261.8,343.28 L262.15,343.57 L262.5,343.84 L262.85,344.08 L263.2,344.28 L263.55,344.46 L263.9,344.59 L264.25,344.69 L264.6,344.76 L264.94,344.78 L265.29,344.76 L265.64,344.7 L265.99,344.59 L266.34,344.44 L266.69,344.22 L267.04,343.94 L267.39,343.6 L267.74,343.17 L268.09,342.66 L268.44,342.04 L268.79,341.32 L269.14,340.48 L269.49,339.5 L269.84,338.39 L270.19,337.13 L270.54,335.71 L270.89,334.14 L271.24,332.41 L271.59,330.54 L271.93,328.53 L272.28,326.4 L272.63,324.18 L272.98,321.9 L273.33,319.61 L273.68,317.35 L274.03,315.18 L274.38,313.19 L274.73,311.44 L275.08,310.02 L275.43,309.01 L275.78,308.45 L276.13,308.4 L276.48,308.84 L276.83,309.75 L277.18,311.09 L277.53,312.77 L277.88,314.72 L278.23,316.86 L278.58,319.12 L278.92,321.43 L279.27,323.74 L279.62,325.99 L279.97,328.17 L280.32,330.31 L280.67,332.34 L281.02,334.22 L281.37,335.94 L281.72,337.52 L282.07,338.94 L282.42,340.21 L282.77,341.34 L283.12,342.35 L283.47,343.23 L283.82,344.01 L284.17,344.68 L284.52,345.28 L284.87,345.8 L285.22,346.26 L285.57,346.66 L285.91,347.02 L286.26,347.34 L286.61,347.63 L286.96,347.89 L287.31,348.14 L287.66,348.36 L288.01,348.57 L288.36,348.67 L288.71,348.77 L289.06,348.85 L289.41,348.93 L289.76,349 L290.11,349.07 L290.46,349.13 L290.81,349.19 L291.16,349.24 L291.51,349.29 L291.86,349.34 L292.21,349.39 L292.56,349.43 L292.9,349.47 L293.25,349.5 L293.6,349.54 L293.95,349.57 L294.3,349.6 L294.65,349.63 L295,349.66 L295.35,349.69 L295.7,349.72 L296.05,349.74 L296.4,349.76 L296.75,349.79 L297.1,349.81 L297.45,349.83 L297.8,349.85 L298.15,349.87 L298.5,349.88 L298.85,349.9 L299.2,349.92 L299.55,349.93 L299.89,349.95 L300.24,349.96 L300.59,349.97 L300.94,349.99 L301.29,350 L301.64,350.01 L301.99,350.02 L302.34,350.04 L302.69,350.05 L303.04,350.06 L303.39,350.07 L303.74,350.08 L304.09,350.09 L304.44,350.09 L304.79,350.1 L305.14,350.11 L305.49,350.12 L305.84,350.13 L306.19,350.14 L306.54,350.14 L306.88,350.15 L307.23,350.16 L307.58,350.16 L307.93,350.17 L308.28,350.18 L308.63,350.18 L308.98,350.19 L309.33,350.19 L309.68,350.2 L310.03,350.2 L310.38,350.21 L310.73,350.21 L311.08,350.22 L311.43,350.22 L311.78,350.23 L312.13,350.23 L312.48,350.24 L312.83,350.24 L313.18,350.25 L313.53,350.25 L313.87,350.25 L314.22,350.26 L314.57,350.26 L314.92,350.27 L315.27,350.27 L315.62,350.27 L315.97,350.28 L316.32,350.28 L316.67,350.28 L317.02,350.29 L317.37,350.29 L317.72,350.29 L318.07,350.29 L318.42,350.3 L318.77,350.3 L319.12,350.3 L319.47,350.3 L319.82,350.31 L320.17,350.31 L320.52,350.31 L320.86,350.31 L321.21,350.32 L321.56,350.32 L321.91,350.32 L322.26,350.32 L322.61,350.33 L322.96,350.33 L323.31,350.33 L323.66,350.33 L324.01,350.33 L324.36,350.34 L324.71,350.34 L325.06,350.34 L325.41,350.34 L325.76,350.34 L326.11,350.34 L326.46,350.35 L326.81,350.35 L327.16,350.35 L327.51,350.35 L327.85,350.35 L328.2,350.35 L328.55,350.36 L328.9,350.36 L329.25,350.36 L329.6,350.36 L329.95,350.36 L330.3,350.36 L330.65,350.36 L331,350.37" stroke="#1a1a1a" stroke-width="1.2" fill="none" stroke-dasharray="3,2" clip-path="url(#cpb)"/>
<path d="M226.5,334.44 L226.85,335.07 L227.2,335.67 L227.55,336.24 L227.9,336.79 L228.25,337.3 L228.6,337.79 L228.95,338.26 L229.3,338.71 L229.65,339.13 L229.99,339.53 L230.34,339.91 L230.69,340.28 L231.04,340.62 L231.39,340.95 L231.74,341.26 L232.09,341.56 L232.44,341.84 L232.79,342.11 L233.14,342.37 L233.49,342.61 L233.84,342.84 L234.19,343.06 L234.54,343.27 L234.89,343.47 L235.24,343.66 L235.59,343.84 L235.94,344.01 L236.29,344.17 L236.64,344.32 L236.98,344.47 L237.33,344.61 L237.68,344.74 L238.03,344.86 L238.38,344.98 L238.73,345.09 L239.08,345.2 L239.43,345.3 L239.78,345.4 L240.13,345.49 L240.48,345.58 L240.83,345.66 L241.18,345.74 L241.53,345.81 L241.88,345.88 L242.23,345.95 L242.58,346.01 L242.93,346.07 L243.28,346.13 L243.63,346.18 L243.97,346.23 L244.32,346.28 L244.67,346.32 L245.02,346.36 L245.37,346.4 L245.72,346.44 L246.07,346.48 L246.42,346.51 L246.77,346.54 L247.12,346.57 L247.47,346.59 L247.82,346.62 L248.17,346.64 L248.52,346.66 L248.87,346.68 L249.22,346.7 L249.57,346.72 L249.92,346.74 L250.27,346.75 L250.62,346.76 L250.96,346.77 L251.31,346.78 L251.66,346.79 L252.01,346.8 L252.36,346.8 L252.71,346.81 L253.06,346.81 L253.41,346.81 L253.76,346.82 L254.11,346.82 L254.46,346.81 L254.81,346.81 L255.16,346.81 L255.51,346.8 L255.86,346.8 L256.21,346.79 L256.56,346.78 L256.91,346.77 L257.26,346.76 L257.61,346.75 L257.95,346.73 L258.3,346.72 L258.65,346.7 L259,346.68 L259.35,346.66 L259.7,346.64 L260.05,346.62 L260.4,346.59 L260.75,346.56 L261.1,346.53 L261.45,346.5 L261.8,346.47 L262.15,346.43 L262.5,346.39 L262.85,346.34 L263.2,346.3 L263.55,346.25 L263.9,346.19 L264.25,346.13 L264.6,346.06 L264.94,345.99 L265.29,345.91 L265.64,345.82 L265.99,345.73 L266.34,345.61 L266.69,345.49 L267.04,345.34 L267.39,345.18 L267.74,344.98 L268.09,344.76 L268.44,344.49 L268.79,344.18 L269.14,343.8 L269.49,343.36 L269.84,342.84 L270.19,342.23 L270.54,341.51 L270.89,340.68 L271.24,339.71 L271.59,338.6 L271.93,337.34 L272.28,335.92 L272.63,334.34 L272.98,332.6 L273.33,330.71 L273.68,328.67 L274.03,326.52 L274.38,324.27 L274.73,321.98 L275.08,319.68 L275.43,317.44 L275.78,315.33 L276.13,313.44 L276.48,311.85 L276.83,310.65 L277.18,309.91 L277.53,309.68 L277.88,309.98 L278.23,310.78 L278.58,312.04 L278.92,313.68 L279.27,315.6 L279.62,317.73 L279.97,319.97 L280.32,322.26 L280.67,324.55 L281.02,326.77 L281.37,328.9 L281.72,330.9 L282.07,332.77 L282.42,334.47 L282.77,336.02 L283.12,337.4 L283.47,338.63 L283.82,339.7 L284.17,340.64 L284.52,341.44 L284.87,342.13 L285.22,342.71 L285.57,343.2 L285.91,343.61 L286.26,344.03 L286.61,344.42 L286.96,344.77 L287.31,345.07 L287.66,345.33 L288.01,345.57 L288.36,345.79 L288.71,345.98 L289.06,346.16 L289.41,346.32 L289.76,346.46 L290.11,346.58 L290.46,346.69 L290.81,346.78 L291.16,346.85 L291.51,346.89 L291.86,346.9 L292.21,346.86 L292.56,346.78 L292.9,346.64 L293.25,346.43 L293.6,346.15 L293.95,345.76 L294.3,345.28 L294.65,344.68 L295,343.96 L295.35,343.12 L295.7,342.16 L296.05,341.07 L296.4,339.79 L296.75,338.45 L297.1,337.06 L297.45,335.67 L297.8,334.34 L298.15,333.12 L298.5,332.09 L298.85,331.3 L299.2,330.83 L299.55,330.71 L299.89,330.95 L300.24,331.54 L300.59,332.43 L300.94,333.55 L301.29,334.83 L301.64,336.22 L301.99,337.64 L302.34,339.06 L302.69,340.42 L303.04,341.71 L303.39,342.89 L303.74,343.96 L304.09,344.91 L304.44,345.74 L304.79,346.45 L305.14,347.05 L305.49,347.56 L305.84,347.97 L306.19,348.31 L306.54,348.59 L306.88,348.81 L307.23,348.99 L307.58,349.14 L307.93,349.26 L308.28,349.36 L308.63,349.44 L308.98,349.51 L309.33,349.57 L309.68,349.62 L310.03,349.66 L310.38,349.7 L310.73,349.74 L311.08,349.78 L311.43,349.81 L311.78,349.83 L312.13,349.86 L312.48,349.89 L312.83,349.91 L313.18,349.93 L313.53,349.95 L313.87,349.97 L314.22,349.99 L314.57,350 L314.92,350.02 L315.27,350.03 L315.62,350.05 L315.97,350.06 L316.32,350.07 L316.67,350.09 L317.02,350.1 L317.37,350.11 L317.72,350.12 L318.07,350.13 L318.42,350.14 L318.77,350.15 L319.12,350.15 L319.47,350.16 L319.82,350.17 L320.17,350.18 L320.52,350.19 L320.86,350.19 L321.21,350.2 L321.56,350.21 L321.91,350.21 L322.26,350.22 L322.61,350.22 L322.96,350.23 L323.31,350.23 L323.66,350.24 L324.01,350.24 L324.36,350.25 L324.71,350.25 L325.06,350.26 L325.41,350.26 L325.76,350.27 L326.11,350.27 L326.46,350.27 L326.81,350.28 L327.16,350.28 L327.51,350.29 L327.85,350.29 L328.2,350.29 L328.55,350.3 L328.9,350.3 L329.25,350.3 L329.6,350.3 L329.95,350.31 L330.3,350.31 L330.65,350.31 L331,350.32" stroke="#c8282d" stroke-width="1.3" fill="none" clip-path="url(#cpb)"/>
<path d="M226.5,358.77 L226.83,358.79 L227.16,358.81 L227.48,358.83 L227.81,358.85 L228.14,358.86 L228.47,358.88 L228.79,358.9 L229.12,358.92 L229.45,358.94 L229.78,358.96 L230.1,358.98 L230.43,359 L230.76,359.01 L231.09,359.03 L231.41,359.05 L231.74,359.07 L232.07,359.09 L232.4,359.11 L232.72,359.12 L233.05,359.14 L233.38,359.16 L233.71,359.18 L234.03,359.2 L234.36,359.21 L234.69,359.23 L235.02,359.25 L235.34,359.27 L235.67,359.28 L236,359.3 L236.33,359.32 L236.66,359.34 L236.98,359.35 L237.31,359.37 L237.64,359.39 L237.97,359.4 L238.29,359.42 L238.62,359.44 L238.95,359.45 L239.28,359.47 L239.6,359.49 L239.93,359.5 L240.26,359.58 L240.59,359.68 L240.91,359.78 L241.24,359.88 L241.57,359.97 L241.9,360.07 L242.22,360.17 L242.55,360.26 L242.88,360.36 L243.21,360.45 L243.53,360.55 L243.86,360.65 L244.19,360.74 L244.52,360.83 L244.84,360.93 L245.17,361.02 L245.5,361.11 L245.83,361.21 L246.16,361.3 L246.48,361.39 L246.81,361.48 L247.14,361.57 L247.47,361.66 L247.79,361.75 L248.12,361.88 L248.45,362.09 L248.78,362.3 L249.1,362.51 L249.43,362.72 L249.76,362.92 L250.09,363.13 L250.41,363.33 L250.74,363.53 L251.07,363.72 L251.4,363.92 L251.72,364.11 L252.05,364.3 L252.38,364.48 L252.71,364.66 L253.03,364.83 L253.36,365 L253.69,365.15 L254.02,365.29 L254.34,365.41 L254.67,365.51 L255,365.56 L255.33,365.54 L255.66,365.4 L255.98,365.15 L256.31,364.76 L256.64,364.18 L256.97,363.36 L257.29,362.25 L257.62,360.79 L257.95,358.94 L258.28,356.67 L258.6,353.97 L258.93,350.86 L259.26,347.43 L259.59,343.76 L259.91,340.02 L260.24,336.41 L260.57,333.17 L260.9,330.56 L261.22,328.85 L261.55,328.24 L261.88,328.81 L262.21,330.51 L262.53,333.16 L262.86,336.52 L263.19,340.33 L263.52,344.34 L263.84,348.33 L264.17,352.13 L264.5,355.63 L264.83,358.73 L265.16,361.41 L265.48,363.66 L265.81,365.51 L266.14,367 L266.47,368.17 L266.79,369.1 L267.12,369.82 L267.45,370.38 L267.78,370.82 L268.1,371.16 L268.43,371.4 L268.76,371.59 L269.09,371.76 L269.41,371.89 L269.74,372.01 L270.07,372.12 L270.4,372.22 L270.72,372.3 L271.05,372.38 L271.38,372.44 L271.71,372.5 L272.03,372.55 L272.36,372.58 L272.69,372.59 L273.02,372.59 L273.34,372.56 L273.67,372.5 L274,372.4 L274.33,372.25 L274.66,372.03 L274.98,371.73 L275.31,371.32 L275.64,370.79 L275.97,370.11 L276.29,369.26 L276.62,368.22 L276.95,366.97 L277.28,365.5 L277.6,363.8 L277.93,361.86 L278.26,359.71 L278.59,357.38 L278.91,354.89 L279.24,352.32 L279.57,349.74 L279.9,347.23 L280.22,344.92 L280.55,342.91 L280.88,341.34 L281.21,340.31 L281.53,339.92 L281.86,340.19 L282.19,341.11 L282.52,342.62 L282.84,344.61 L283.17,346.96 L283.5,349.54 L283.83,352.25 L284.16,354.98 L284.48,357.64 L284.81,360.19 L285.14,362.56 L285.47,364.73 L285.79,366.67 L286.12,368.38 L286.45,369.86 L286.78,371.12 L287.1,372.19 L287.43,373.08 L287.76,373.82 L288.09,374.43 L288.41,374.93 L288.74,375.34 L289.07,375.68 L289.4,375.96 L289.72,376.2 L290.05,376.41 L290.38,376.6 L290.71,376.76 L291.03,376.91 L291.36,377.05 L291.69,377.17 L292.02,377.3 L292.34,377.41 L292.67,377.52 L293,377.63 L293.33,377.73 L293.66,377.83 L293.98,377.93 L294.31,378.03 L294.64,378.12 L294.97,378.22 L295.29,378.31 L295.62,378.39 L295.95,378.48 L296.28,378.57 L296.6,378.65 L296.93,378.74 L297.26,378.82 L297.59,378.9 L297.91,378.98 L298.24,379.06 L298.57,379.14 L298.9,379.22 L299.22,379.3 L299.55,379.37 L299.88,379.45 L300.21,379.49 L300.53,379.5 L300.86,379.5 L301.19,379.51 L301.52,379.52 L301.84,379.53 L302.17,379.54 L302.5,379.55 L302.83,379.55 L303.16,379.56 L303.48,379.57 L303.81,379.57 L304.14,379.58 L304.47,379.58 L304.79,379.59 L305.12,379.6 L305.45,379.6 L305.78,379.61 L306.1,379.61 L306.43,379.61 L306.76,379.62 L307.09,379.62 L307.41,379.63 L307.74,379.63 L308.07,379.64 L308.4,379.64 L308.72,379.64 L309.05,379.65 L309.38,379.65 L309.71,379.65 L310.03,379.66 L310.36,379.66 L310.69,379.66 L311.02,379.66 L311.34,379.67 L311.67,379.67 L312,379.67 L312.33,379.67 L312.66,379.68 L312.98,379.68 L313.31,379.68 L313.64,379.68 L313.97,379.69 L314.29,379.69 L314.62,379.69 L314.95,379.69 L315.28,379.69 L315.6,379.7 L315.93,379.7 L316.26,379.7 L316.59,379.7 L316.91,379.7 L317.24,379.7 L317.57,379.71 L317.9,379.71 L318.22,379.71 L318.55,379.71 L318.88,379.71 L319.21,379.71 L319.53,379.71 L319.86,379.72 L320.19,379.72 L320.52,379.72 L320.84,379.72 L321.17,379.72 L321.5,379.72 L321.83,379.72 L322.16,379.72 L322.48,379.73 L322.81,379.73 L323.14,379.73 L323.47,379.73 L323.79,379.73 L324.12,379.73 L324.45,379.73 L324.78,379.73 L325.1,379.73 L325.43,379.73 L325.76,379.74 L326.09,379.74 L326.41,379.74 L326.74,379.74 L327.07,379.74 L327.4,379.74 L327.72,379.74 L328.05,379.74 L328.38,379.74 L328.71,379.74 L329.03,379.74 L329.36,379.74 L329.69,379.75 L330.02,379.75 L330.34,379.75 L330.67,379.75 L331,379.75" stroke="#1a1a1a" stroke-width="1.2" fill="none" stroke-dasharray="3,2" clip-path="url(#cpb)"/>
<path d="M226.5,301.8 L226.83,302.61 L227.16,303.42 L227.48,304.23 L227.81,305.04 L228.14,305.85 L228.47,306.65 L228.79,307.46 L229.12,308.27 L229.45,309.08 L229.78,309.89 L230.1,310.69 L230.43,311.5 L230.76,312.31 L231.09,313.12 L231.41,313.93 L231.74,314.74 L232.07,315.54 L232.4,316.35 L232.72,317.16 L233.05,317.97 L233.38,318.78 L233.71,319.58 L234.03,320.39 L234.36,321.2 L234.69,322.01 L235.02,322.82 L235.34,323.62 L235.67,324.43 L236,325.24 L236.33,326.09 L236.66,326.94 L236.98,327.79 L237.31,328.64 L237.64,329.49 L237.97,330.34 L238.29,331.19 L238.62,332.04 L238.95,332.89 L239.28,333.74 L239.6,334.58 L239.93,335.43 L240.26,336.28 L240.59,337.13 L240.91,337.98 L241.24,338.83 L241.57,339.68 L241.9,340.53 L242.22,341.38 L242.55,342.23 L242.88,343.08 L243.21,343.92 L243.53,344.77 L243.86,345.62 L244.19,346.47 L244.52,347.32 L244.84,348.17 L245.17,349.02 L245.5,349.86 L245.83,350.71 L246.16,351.43 L246.48,352 L246.81,352.57 L247.14,353.15 L247.47,353.72 L247.79,354.29 L248.12,354.86 L248.45,355.43 L248.78,356 L249.1,356.57 L249.43,357.14 L249.76,357.71 L250.09,358.28 L250.41,358.85 L250.74,359.42 L251.07,359.99 L251.4,360.56 L251.72,361.13 L252.05,361.7 L252.38,362.27 L252.71,362.84 L253.03,363.41 L253.36,363.98 L253.69,364.55 L254.02,365.11 L254.34,365.68 L254.67,366.17 L255,366.39 L255.33,366.6 L255.66,366.82 L255.98,367.03 L256.31,367.24 L256.64,367.45 L256.97,367.67 L257.29,367.88 L257.62,368.09 L257.95,368.3 L258.28,368.51 L258.6,368.71 L258.93,368.92 L259.26,369.12 L259.59,369.32 L259.91,369.52 L260.24,369.71 L260.57,369.89 L260.9,370.06 L261.22,370.22 L261.55,370.36 L261.88,370.48 L262.21,370.52 L262.53,370.49 L262.86,370.43 L263.19,370.33 L263.52,370.21 L263.84,370.06 L264.17,369.88 L264.5,369.69 L264.83,369.49 L265.16,369.31 L265.48,369.15 L265.81,369.04 L266.14,369 L266.47,369.04 L266.79,369.17 L267.12,369.38 L267.45,369.67 L267.78,370 L268.1,370.36 L268.43,370.74 L268.76,371.12 L269.09,371.48 L269.41,371.81 L269.74,372.12 L270.07,372.38 L270.4,372.56 L270.72,372.71 L271.05,372.82 L271.38,372.9 L271.71,372.96 L272.03,372.98 L272.36,372.98 L272.69,372.94 L273.02,372.88 L273.34,372.78 L273.67,372.64 L274,372.45 L274.33,372.2 L274.66,371.88 L274.98,371.48 L275.31,370.97 L275.64,370.34 L275.97,369.58 L276.29,368.65 L276.62,367.56 L276.95,366.28 L277.28,364.8 L277.6,363.12 L277.93,361.25 L278.26,359.19 L278.59,356.97 L278.91,354.62 L279.24,352.19 L279.57,349.74 L279.9,347.35 L280.22,345.1 L280.55,343.11 L280.88,341.48 L281.21,340.34 L281.53,339.77 L281.86,339.82 L282.19,340.49 L282.52,341.73 L282.84,343.45 L283.17,345.55 L283.5,347.91 L283.83,350.42 L284.16,352.98 L284.48,355.53 L284.81,358 L285.14,360.34 L285.47,362.52 L285.79,364.52 L286.12,366.31 L286.45,367.91 L286.78,369.31 L287.1,370.53 L287.43,371.57 L287.76,372.45 L288.09,373.2 L288.41,373.83 L288.74,374.36 L289.07,374.8 L289.4,375.16 L289.72,375.47 L290.05,375.74 L290.38,375.96 L290.71,376.16 L291.03,376.33 L291.36,376.48 L291.69,376.61 L292.02,376.73 L292.34,376.84 L292.67,376.94 L293,377.03 L293.33,377.11 L293.66,377.18 L293.98,377.24 L294.31,377.29 L294.64,377.32 L294.97,377.34 L295.29,377.34 L295.62,377.32 L295.95,377.27 L296.28,377.18 L296.6,377.05 L296.93,376.86 L297.26,376.62 L297.59,376.3 L297.91,375.89 L298.24,375.39 L298.57,374.8 L298.9,374.09 L299.22,373.28 L299.55,372.37 L299.88,371.37 L300.21,370.25 L300.53,369.06 L300.86,367.84 L301.19,366.64 L301.52,365.51 L301.84,364.49 L302.17,363.66 L302.5,363.06 L302.83,362.75 L303.16,362.75 L303.48,363.07 L303.81,363.67 L304.14,364.51 L304.47,365.54 L304.79,366.69 L305.12,367.91 L305.45,369.15 L305.78,370.36 L306.1,371.52 L306.43,372.61 L306.76,373.61 L307.09,374.5 L307.41,375.29 L307.74,375.97 L308.07,376.55 L308.4,377.05 L308.72,377.46 L309.05,377.79 L309.38,378.07 L309.71,378.29 L310.03,378.47 L310.36,378.61 L310.69,378.73 L311.02,378.83 L311.34,378.9 L311.67,378.97 L312,379.03 L312.33,379.07 L312.66,379.12 L312.98,379.15 L313.31,379.19 L313.64,379.22 L313.97,379.24 L314.29,379.27 L314.62,379.29 L314.95,379.31 L315.28,379.33 L315.6,379.35 L315.93,379.37 L316.26,379.39 L316.59,379.4 L316.91,379.42 L317.24,379.43 L317.57,379.44 L317.9,379.45 L318.22,379.47 L318.55,379.48 L318.88,379.49 L319.21,379.5 L319.53,379.51 L319.86,379.51 L320.19,379.52 L320.52,379.53 L320.84,379.54 L321.17,379.55 L321.5,379.55 L321.83,379.56 L322.16,379.57 L322.48,379.57 L322.81,379.58 L323.14,379.58 L323.47,379.59 L323.79,379.59 L324.12,379.6 L324.45,379.6 L324.78,379.61 L325.1,379.61 L325.43,379.62 L325.76,379.62 L326.09,379.62 L326.41,379.63 L326.74,379.63 L327.07,379.64 L327.4,379.64 L327.72,379.64 L328.05,379.65 L328.38,379.65 L328.71,379.65 L329.03,379.65 L329.36,379.66 L329.69,379.66 L330.02,379.66 L330.34,379.67 L330.67,379.67 L331,379.67" stroke="#c8282d" stroke-width="1.3" fill="none" clip-path="url(#cpb)"/>
<rect x="380.6" y="4.3" width="136.3" height="181.6" fill="none" stroke="#3a3a3a" stroke-width="1.1"/>
<path d="M378.4,180.34 H380.6" stroke="#3a3a3a" stroke-width="0.8"/>
<path d="M377,174.1 H380.6" stroke="#3a3a3a" stroke-width="0.8"/>
<path d="M378.4,167.86 H380.6" stroke="#3a3a3a" stroke-width="0.8"/>
<path d="M378.4,161.61 H380.6" stroke="#3a3a3a" stroke-width="0.8"/>
<path d="M378.4,155.37 H380.6" stroke="#3a3a3a" stroke-width="0.8"/>
<path d="M378.4,149.12 H380.6" stroke="#3a3a3a" stroke-width="0.8"/>
<path d="M377,142.88 H380.6" stroke="#3a3a3a" stroke-width="0.8"/>
<path d="M378.4,136.64 H380.6" stroke="#3a3a3a" stroke-width="0.8"/>
<path d="M378.4,130.39 H380.6" stroke="#3a3a3a" stroke-width="0.8"/>
<path d="M378.4,124.15 H380.6" stroke="#3a3a3a" stroke-width="0.8"/>
<path d="M378.4,117.9 H380.6" stroke="#3a3a3a" stroke-width="0.8"/>
<path d="M377,111.66 H380.6" stroke="#3a3a3a" stroke-width="0.8"/>
<path d="M378.4,105.42 H380.6" stroke="#3a3a3a" stroke-width="0.8"/>
<path d="M378.4,99.17 H380.6" stroke="#3a3a3a" stroke-width="0.8"/>
<path d="M378.4,92.93 H380.6" stroke="#3a3a3a" stroke-width="0.8"/>
<path d="M378.4,86.68 H380.6" stroke="#3a3a3a" stroke-width="0.8"/>
<path d="M377,80.44 H380.6" stroke="#3a3a3a" stroke-width="0.8"/>
<path d="M378.4,74.2 H380.6" stroke="#3a3a3a" stroke-width="0.8"/>
<path d="M378.4,67.95 H380.6" stroke="#3a3a3a" stroke-width="0.8"/>
<path d="M378.4,61.71 H380.6" stroke="#3a3a3a" stroke-width="0.8"/>
<path d="M378.4,55.46 H380.6" stroke="#3a3a3a" stroke-width="0.8"/>
<path d="M377,49.22 H380.6" stroke="#3a3a3a" stroke-width="0.8"/>
<path d="M378.4,42.98 H380.6" stroke="#3a3a3a" stroke-width="0.8"/>
<path d="M378.4,36.73 H380.6" stroke="#3a3a3a" stroke-width="0.8"/>
<path d="M378.4,30.49 H380.6" stroke="#3a3a3a" stroke-width="0.8"/>
<path d="M378.4,24.24 H380.6" stroke="#3a3a3a" stroke-width="0.8"/>
<path d="M377,18 H380.6" stroke="#3a3a3a" stroke-width="0.8"/>
<path d="M378.4,11.76 H380.6" stroke="#3a3a3a" stroke-width="0.8"/>
<path d="M378.4,5.51 H380.6" stroke="#3a3a3a" stroke-width="0.8"/>
<text x="374.3" y="178.1" font-size="11" fill="#1a1a1a" text-anchor="end" textLength="12.3" lengthAdjust="spacingAndGlyphs">10</text>
<text x="374.3" y="146.88" font-size="11" fill="#1a1a1a" text-anchor="end" textLength="12.3" lengthAdjust="spacingAndGlyphs">15</text>
<text x="374.3" y="115.66" font-size="11" fill="#1a1a1a" text-anchor="end" textLength="12.3" lengthAdjust="spacingAndGlyphs">20</text>
<text x="374.3" y="84.44" font-size="11" fill="#1a1a1a" text-anchor="end" textLength="12.3" lengthAdjust="spacingAndGlyphs">25</text>
<text x="374.3" y="53.22" font-size="11" fill="#1a1a1a" text-anchor="end" textLength="12.3" lengthAdjust="spacingAndGlyphs">30</text>
<text x="374.3" y="22" font-size="11" fill="#1a1a1a" text-anchor="end" textLength="12.3" lengthAdjust="spacingAndGlyphs">35</text>
<path d="M380.1,185.9 V189.4" stroke="#3a3a3a" stroke-width="0.8"/>
<path d="M386.59,185.9 V188" stroke="#3a3a3a" stroke-width="0.8"/>
<path d="M393.07,185.9 V188" stroke="#3a3a3a" stroke-width="0.8"/>
<path d="M399.56,185.9 V188" stroke="#3a3a3a" stroke-width="0.8"/>
<path d="M406.04,185.9 V188" stroke="#3a3a3a" stroke-width="0.8"/>
<path d="M412.53,185.9 V189.4" stroke="#3a3a3a" stroke-width="0.8"/>
<path d="M419.01,185.9 V188" stroke="#3a3a3a" stroke-width="0.8"/>
<path d="M425.5,185.9 V188" stroke="#3a3a3a" stroke-width="0.8"/>
<path d="M431.98,185.9 V188" stroke="#3a3a3a" stroke-width="0.8"/>
<path d="M438.47,185.9 V188" stroke="#3a3a3a" stroke-width="0.8"/>
<path d="M444.95,185.9 V189.4" stroke="#3a3a3a" stroke-width="0.8"/>
<path d="M451.44,185.9 V188" stroke="#3a3a3a" stroke-width="0.8"/>
<path d="M457.92,185.9 V188" stroke="#3a3a3a" stroke-width="0.8"/>
<path d="M464.41,185.9 V188" stroke="#3a3a3a" stroke-width="0.8"/>
<path d="M470.89,185.9 V188" stroke="#3a3a3a" stroke-width="0.8"/>
<path d="M477.38,185.9 V189.4" stroke="#3a3a3a" stroke-width="0.8"/>
<path d="M483.86,185.9 V188" stroke="#3a3a3a" stroke-width="0.8"/>
<path d="M490.35,185.9 V188" stroke="#3a3a3a" stroke-width="0.8"/>
<path d="M496.83,185.9 V188" stroke="#3a3a3a" stroke-width="0.8"/>
<path d="M503.31,185.9 V188" stroke="#3a3a3a" stroke-width="0.8"/>
<path d="M509.8,185.9 V189.4" stroke="#3a3a3a" stroke-width="0.8"/>
<path d="M516.29,185.9 V188" stroke="#3a3a3a" stroke-width="0.8"/>
<text x="380.1" y="199.9" font-size="11" fill="#1a1a1a" text-anchor="middle" textLength="6.2" lengthAdjust="spacingAndGlyphs">0</text>
<text x="412.53" y="199.9" font-size="11" fill="#1a1a1a" text-anchor="middle" textLength="12.4" lengthAdjust="spacingAndGlyphs">50</text>
<text x="444.95" y="199.9" font-size="11" fill="#1a1a1a" text-anchor="middle" textLength="18.6" lengthAdjust="spacingAndGlyphs">100</text>
<text x="477.38" y="199.9" font-size="11" fill="#1a1a1a" text-anchor="middle" textLength="18.6" lengthAdjust="spacingAndGlyphs">150</text>
<text x="509.8" y="199.9" font-size="11" fill="#1a1a1a" text-anchor="middle" textLength="18.6" lengthAdjust="spacingAndGlyphs">200</text>
<text x="449.3" y="211.6" font-size="12" fill="#1a1a1a" text-anchor="middle" textLength="30" lengthAdjust="spacingAndGlyphs">T (K)</text>
<text x="358.2" y="94.6" font-size="11.5" fill="#1a1a1a" text-anchor="middle" textLength="121.5" lengthAdjust="spacingAndGlyphs" transform="rotate(-90 358.2 94.6)">Energy splitting (meV)</text>
<text x="384" y="18.8" font-size="11.5" fill="#111" font-weight="bold" textLength="14.9" lengthAdjust="spacingAndGlyphs">(c)</text>
<path d="M439.11,32.86 V45.97" stroke="#8a8a80" stroke-width="0.9"/>
<path d="M444.95,24.87 V46.1" stroke="#8a8a80" stroke-width="0.9"/>
<path d="M452.08,17.5 V43.73" stroke="#8a8a80" stroke-width="0.9"/>
<path d="M458.57,4.58 V47.03" stroke="#8a8a80" stroke-width="0.9"/>
<path d="M383.34,53.78 L387.23,53.59 L393.72,53.22 L400.2,52.53 L406.04,52.03 L412.53,50.91 L418.36,48.91 L425.5,46.22 L432.63,44.22 L439.11,39.42 L444.95,35.48 L452.08,30.61 L458.57,25.8" stroke="#a89040" stroke-width="0.9" fill="none"/>
<path d="M380.94,53.78 l4.4,-2.6 v5.2 Z" fill="#a89040"/>
<path d="M384.83,53.59 l4.4,-2.6 v5.2 Z" fill="#a89040"/>
<path d="M391.32,53.22 l4.4,-2.6 v5.2 Z" fill="#a89040"/>
<path d="M397.8,52.53 l4.4,-2.6 v5.2 Z" fill="#a89040"/>
<path d="M403.64,52.03 l4.4,-2.6 v5.2 Z" fill="#a89040"/>
<path d="M410.13,50.91 l4.4,-2.6 v5.2 Z" fill="#a89040"/>
<path d="M415.96,48.91 l4.4,-2.6 v5.2 Z" fill="#a89040"/>
<path d="M423.1,46.22 l4.4,-2.6 v5.2 Z" fill="#a89040"/>
<path d="M430.23,44.22 l4.4,-2.6 v5.2 Z" fill="#a89040"/>
<path d="M436.71,39.42 l4.4,-2.6 v5.2 Z" fill="#a89040"/>
<path d="M442.55,35.48 l4.4,-2.6 v5.2 Z" fill="#a89040"/>
<path d="M449.68,30.61 l4.4,-2.6 v5.2 Z" fill="#a89040"/>
<path d="M456.17,25.8 l4.4,-2.6 v5.2 Z" fill="#a89040"/>
<path d="M487.1,121.03 V136.01" stroke="#b4b4b8" stroke-width="0.8"/>
<path d="M493.59,124.15 V139.13" stroke="#b4b4b8" stroke-width="0.8"/>
<path d="M500.07,123.52 V138.51" stroke="#b4b4b8" stroke-width="0.8"/>
<path d="M506.56,126.65 V141.63" stroke="#b4b4b8" stroke-width="0.8"/>
<path d="M383.34,45.47 L386.59,46.1 L393.07,46.72 L399.56,45.47 L406.04,44.85 L412.53,44.85 L415.77,45.47 L419.01,46.72 L422.25,48.6 L425.5,51.09 L428.74,54.22 L431.98,57.34 L435.22,61.08 L438.47,64.21 L441.71,67.95 L444.95,71.7 L448.19,74.82 L451.44,78.57 L454.68,84.19 L457.92,90.43 L461.16,93.55 L464.41,97.3 L467.65,110.41 L470.89,111.04 L474.13,110.41 L477.38,114.78 L480.62,121.03 L483.86,126.65 L487.1,128.52 L490.35,130.39 L493.59,131.64 L496.83,132.89 L500.07,131.02 L503.31,132.89 L506.56,134.14 L509.8,134.14" stroke="#555" stroke-width="0.6" fill="none"/>
<rect x="381.24" y="43.37" width="4.2" height="4.2" fill="#dc1616"/>
<rect x="384.49" y="44" width="4.2" height="4.2" fill="#dc1616"/>
<rect x="390.97" y="44.62" width="4.2" height="4.2" fill="#dc1616"/>
<rect x="397.45" y="43.37" width="4.2" height="4.2" fill="#dc1616"/>
<rect x="403.94" y="42.75" width="4.2" height="4.2" fill="#dc1616"/>
<rect x="410.43" y="42.75" width="4.2" height="4.2" fill="#dc1616"/>
<rect x="413.67" y="43.37" width="4.2" height="4.2" fill="#dc1616"/>
<rect x="416.91" y="44.62" width="4.2" height="4.2" fill="#dc1616"/>
<rect x="420.15" y="46.5" width="4.2" height="4.2" fill="#dc1616"/>
<rect x="423.39" y="48.99" width="4.2" height="4.2" fill="#dc1616"/>
<rect x="426.64" y="52.12" width="4.2" height="4.2" fill="#dc1616"/>
<rect x="429.88" y="55.24" width="4.2" height="4.2" fill="#dc1616"/>
<rect x="433.12" y="58.98" width="4.2" height="4.2" fill="#dc1616"/>
<rect x="436.37" y="62.11" width="4.2" height="4.2" fill="#dc1616"/>
<rect x="439.61" y="65.85" width="4.2" height="4.2" fill="#dc1616"/>
<rect x="442.85" y="69.6" width="4.2" height="4.2" fill="#dc1616"/>
<rect x="446.09" y="72.72" width="4.2" height="4.2" fill="#dc1616"/>
<rect x="449.33" y="76.47" width="4.2" height="4.2" fill="#dc1616"/>
<rect x="452.58" y="82.09" width="4.2" height="4.2" fill="#dc1616"/>
<rect x="455.82" y="88.33" width="4.2" height="4.2" fill="#dc1616"/>
<rect x="459.06" y="91.45" width="4.2" height="4.2" fill="#dc1616"/>
<rect x="462.31" y="95.2" width="4.2" height="4.2" fill="#dc1616"/>
<rect x="465.55" y="108.31" width="4.2" height="4.2" fill="#dc1616"/>
<rect x="468.79" y="108.94" width="4.2" height="4.2" fill="#dc1616"/>
<rect x="472.03" y="108.31" width="4.2" height="4.2" fill="#dc1616"/>
<rect x="475.27" y="112.68" width="4.2" height="4.2" fill="#dc1616"/>
<rect x="478.52" y="118.93" width="4.2" height="4.2" fill="#dc1616"/>
<rect x="481.76" y="124.55" width="4.2" height="4.2" fill="#dc1616"/>
<rect x="485" y="126.42" width="4.2" height="4.2" fill="#dc1616"/>
<rect x="488.25" y="128.29" width="4.2" height="4.2" fill="#dc1616"/>
<rect x="491.49" y="129.54" width="4.2" height="4.2" fill="#dc1616"/>
<rect x="494.73" y="130.79" width="4.2" height="4.2" fill="#dc1616"/>
<rect x="497.97" y="128.92" width="4.2" height="4.2" fill="#dc1616"/>
<rect x="501.21" y="130.79" width="4.2" height="4.2" fill="#dc1616"/>
<rect x="504.46" y="132.04" width="4.2" height="4.2" fill="#dc1616"/>
<rect x="507.7" y="132.04" width="4.2" height="4.2" fill="#dc1616"/>
<path d="M477.38,90.43 V110.41" stroke="#b4b4b8" stroke-width="0.8"/>
<path d="M480.62,83.56 V103.54" stroke="#b4b4b8" stroke-width="0.8"/>
<path d="M483.86,84.81 V104.79" stroke="#b4b4b8" stroke-width="0.8"/>
<path d="M487.1,90.43 V110.41" stroke="#b4b4b8" stroke-width="0.8"/>
<path d="M490.35,93.55 V113.53" stroke="#b4b4b8" stroke-width="0.8"/>
<path d="M493.59,94.8 V114.78" stroke="#b4b4b8" stroke-width="0.8"/>
<path d="M496.83,97.92 V117.9" stroke="#b4b4b8" stroke-width="0.8"/>
<path d="M500.07,100.42 V120.4" stroke="#b4b4b8" stroke-width="0.8"/>
<path d="M503.31,101.67 V121.65" stroke="#b4b4b8" stroke-width="0.8"/>
<path d="M506.56,106.04 V126.02" stroke="#b4b4b8" stroke-width="0.8"/>
<path d="M509.8,111.04 V131.02" stroke="#b4b4b8" stroke-width="0.8"/>
<path d="M383.34,42.35 L386.59,42.98 L393.07,41.73 L399.56,41.73 L406.04,42.35 L412.53,42.98 L415.77,45.47 L419.01,48.6 L422.25,54.84 L425.5,63.58 L428.74,70.45 L431.98,74.2 L435.22,76.69 L438.47,61.71 L443,61.71 L448.19,64.83 L451.44,66.7 L454.68,69.2 L457.92,71.07 L461.16,71.7 L464.41,72.32 L467.65,73.57 L470.89,79.19 L474.13,81.06 L475.43,85.44 L477.38,100.42 L480.62,93.55 L483.86,94.8 L487.1,100.42 L490.35,103.54 L493.59,104.79 L496.83,107.91 L500.07,110.41 L503.31,111.66 L506.56,116.03 L509.8,121.03" stroke="#555" stroke-width="0.6" fill="none"/>
<circle cx="383.34" cy="42.35" r="2.3" fill="#dc1616"/>
<circle cx="386.59" cy="42.98" r="2.3" fill="#dc1616"/>
<circle cx="393.07" cy="41.73" r="2.3" fill="#dc1616"/>
<circle cx="399.56" cy="41.73" r="2.3" fill="#dc1616"/>
<circle cx="406.04" cy="42.35" r="2.3" fill="#dc1616"/>
<circle cx="412.53" cy="42.98" r="2.3" fill="#dc1616"/>
<circle cx="415.77" cy="45.47" r="2.3" fill="#dc1616"/>
<circle cx="419.01" cy="48.6" r="2.3" fill="#dc1616"/>
<circle cx="422.25" cy="54.84" r="2.3" fill="#dc1616"/>
<circle cx="425.5" cy="63.58" r="2.3" fill="#dc1616"/>
<circle cx="428.74" cy="70.45" r="2.3" fill="#dc1616"/>
<circle cx="431.98" cy="74.2" r="2.3" fill="#dc1616"/>
<circle cx="435.22" cy="76.69" r="2.3" fill="#dc1616"/>
<circle cx="438.47" cy="61.71" r="2.3" fill="#dc1616"/>
<circle cx="443" cy="61.71" r="2.3" fill="#dc1616"/>
<circle cx="448.19" cy="64.83" r="2.3" fill="#dc1616"/>
<circle cx="451.44" cy="66.7" r="2.3" fill="#dc1616"/>
<circle cx="454.68" cy="69.2" r="2.3" fill="#dc1616"/>
<circle cx="457.92" cy="71.07" r="2.3" fill="#dc1616"/>
<circle cx="461.16" cy="71.7" r="2.3" fill="#dc1616"/>
<circle cx="464.41" cy="72.32" r="2.3" fill="#dc1616"/>
<circle cx="467.65" cy="73.57" r="2.3" fill="#dc1616"/>
<circle cx="470.89" cy="79.19" r="2.3" fill="#dc1616"/>
<circle cx="474.13" cy="81.06" r="2.3" fill="#dc1616"/>
<circle cx="475.43" cy="85.44" r="2.3" fill="#dc1616"/>
<circle cx="477.38" cy="100.42" r="2.3" fill="#dc1616"/>
<circle cx="480.62" cy="93.55" r="2.3" fill="#dc1616"/>
<circle cx="483.86" cy="94.8" r="2.3" fill="#dc1616"/>
<circle cx="487.1" cy="100.42" r="2.3" fill="#dc1616"/>
<circle cx="490.35" cy="103.54" r="2.3" fill="#dc1616"/>
<circle cx="493.59" cy="104.79" r="2.3" fill="#dc1616"/>
<circle cx="496.83" cy="107.91" r="2.3" fill="#dc1616"/>
<circle cx="500.07" cy="110.41" r="2.3" fill="#dc1616"/>
<circle cx="503.31" cy="111.66" r="2.3" fill="#dc1616"/>
<circle cx="506.56" cy="116.03" r="2.3" fill="#dc1616"/>
<circle cx="509.8" cy="121.03" r="2.3" fill="#dc1616"/>
<path d="M493.59,131.64 V144.13" stroke="#b4b4b8" stroke-width="0.8"/>
<path d="M500.07,136.64 V149.12" stroke="#b4b4b8" stroke-width="0.8"/>
<path d="M506.56,144.13 V156.62" stroke="#b4b4b8" stroke-width="0.8"/>
<path d="M383.34,37.98 L386.59,37.98 L393.07,37.36 L399.56,36.73 L406.04,37.36 L412.53,37.98 L415.77,38.61 L419.01,39.85 L422.25,41.73 L425.5,44.22 L428.74,47.35 L431.98,50.47 L435.22,54.22 L438.47,58.59 L441.71,63.58 L444.95,68.58 L448.19,74.82 L451.44,80.44 L454.68,86.68 L457.92,92.93 L461.16,97.92 L464.41,103.54 L467.65,109.16 L470.89,117.9 L474.13,121.65 L477.38,125.4 L480.62,128.52 L483.86,130.39 L487.1,132.89 L490.35,134.76 L493.59,137.88 L496.83,139.76 L500.07,142.88 L503.31,146 L506.56,150.37 L509.8,153.49" stroke="#555" stroke-width="0.6" fill="none"/>
<circle cx="383.34" cy="37.98" r="2.3" fill="#1428e0"/>
<circle cx="386.59" cy="37.98" r="2.3" fill="#1428e0"/>
<circle cx="393.07" cy="37.36" r="2.3" fill="#1428e0"/>
<circle cx="399.56" cy="36.73" r="2.3" fill="#1428e0"/>
<circle cx="406.04" cy="37.36" r="2.3" fill="#1428e0"/>
<circle cx="412.53" cy="37.98" r="2.3" fill="#1428e0"/>
<circle cx="415.77" cy="38.61" r="2.3" fill="#1428e0"/>
<circle cx="419.01" cy="39.85" r="2.3" fill="#1428e0"/>
<circle cx="422.25" cy="41.73" r="2.3" fill="#1428e0"/>
<circle cx="425.5" cy="44.22" r="2.3" fill="#1428e0"/>
<circle cx="428.74" cy="47.35" r="2.3" fill="#1428e0"/>
<circle cx="431.98" cy="50.47" r="2.3" fill="#1428e0"/>
<circle cx="435.22" cy="54.22" r="2.3" fill="#1428e0"/>
<circle cx="438.47" cy="58.59" r="2.3" fill="#1428e0"/>
<circle cx="441.71" cy="63.58" r="2.3" fill="#1428e0"/>
<circle cx="444.95" cy="68.58" r="2.3" fill="#1428e0"/>
<circle cx="448.19" cy="74.82" r="2.3" fill="#1428e0"/>
<circle cx="451.44" cy="80.44" r="2.3" fill="#1428e0"/>
<circle cx="454.68" cy="86.68" r="2.3" fill="#1428e0"/>
<circle cx="457.92" cy="92.93" r="2.3" fill="#1428e0"/>
<circle cx="461.16" cy="97.92" r="2.3" fill="#1428e0"/>
<circle cx="464.41" cy="103.54" r="2.3" fill="#1428e0"/>
<circle cx="467.65" cy="109.16" r="2.3" fill="#1428e0"/>
<circle cx="470.89" cy="117.9" r="2.3" fill="#1428e0"/>
<circle cx="474.13" cy="121.65" r="2.3" fill="#1428e0"/>
<circle cx="477.38" cy="125.4" r="2.3" fill="#1428e0"/>
<circle cx="480.62" cy="128.52" r="2.3" fill="#1428e0"/>
<circle cx="483.86" cy="130.39" r="2.3" fill="#1428e0"/>
<circle cx="487.1" cy="132.89" r="2.3" fill="#1428e0"/>
<circle cx="490.35" cy="134.76" r="2.3" fill="#1428e0"/>
<circle cx="493.59" cy="137.88" r="2.3" fill="#1428e0"/>
<circle cx="496.83" cy="139.76" r="2.3" fill="#1428e0"/>
<circle cx="500.07" cy="142.88" r="2.3" fill="#1428e0"/>
<circle cx="503.31" cy="146" r="2.3" fill="#1428e0"/>
<circle cx="506.56" cy="150.37" r="2.3" fill="#1428e0"/>
<circle cx="509.8" cy="153.49" r="2.3" fill="#1428e0"/>
<path d="M477.38,159.11 V176.6" stroke="#b4b4b8" stroke-width="0.8"/>
<path d="M480.62,155.99 V173.48" stroke="#b4b4b8" stroke-width="0.8"/>
<path d="M483.86,151 V168.48" stroke="#b4b4b8" stroke-width="0.8"/>
<path d="M487.1,154.12 V171.6" stroke="#b4b4b8" stroke-width="0.8"/>
<path d="M490.35,155.99 V173.48" stroke="#b4b4b8" stroke-width="0.8"/>
<path d="M493.59,159.74 V177.22" stroke="#b4b4b8" stroke-width="0.8"/>
<path d="M496.83,160.99 V178.47" stroke="#b4b4b8" stroke-width="0.8"/>
<path d="M500.07,164.11 V181.59" stroke="#b4b4b8" stroke-width="0.8"/>
<path d="M503.31,160.99 V178.47" stroke="#b4b4b8" stroke-width="0.8"/>
<path d="M506.56,165.98 V183.47" stroke="#b4b4b8" stroke-width="0.8"/>
<path d="M509.8,164.11 V181.59" stroke="#b4b4b8" stroke-width="0.8"/>
<path d="M383.34,39.23 L386.59,39.23 L393.07,38.61 L399.56,37.98 L406.04,38.61 L412.53,39.23 L415.77,39.85 L419.01,41.73 L422.25,44.22 L425.5,47.35 L428.74,51.09 L431.98,55.46 L435.22,60.46 L438.47,66.08 L441.71,71.07 L444.95,75.44 L448.19,81.06 L451.44,86.68 L454.68,108.54 L457.92,108.54 L461.16,108.54 L464.41,109.16 L467.65,124.15 L470.89,146 L474.13,162.86 L477.38,167.86 L480.62,164.73 L483.86,159.74 L487.1,162.86 L490.35,164.73 L493.59,168.48 L496.83,169.73 L500.07,172.85 L503.31,169.73 L506.56,174.72 L509.8,172.85" stroke="#555" stroke-width="0.6" fill="none"/>
<rect x="381.24" y="37.13" width="4.2" height="4.2" fill="#1428e0"/>
<rect x="384.49" y="37.13" width="4.2" height="4.2" fill="#1428e0"/>
<rect x="390.97" y="36.51" width="4.2" height="4.2" fill="#1428e0"/>
<rect x="397.45" y="35.88" width="4.2" height="4.2" fill="#1428e0"/>
<rect x="403.94" y="36.51" width="4.2" height="4.2" fill="#1428e0"/>
<rect x="410.43" y="37.13" width="4.2" height="4.2" fill="#1428e0"/>
<rect x="413.67" y="37.75" width="4.2" height="4.2" fill="#1428e0"/>
<rect x="416.91" y="39.63" width="4.2" height="4.2" fill="#1428e0"/>
<rect x="420.15" y="42.12" width="4.2" height="4.2" fill="#1428e0"/>
<rect x="423.39" y="45.25" width="4.2" height="4.2" fill="#1428e0"/>
<rect x="426.64" y="48.99" width="4.2" height="4.2" fill="#1428e0"/>
<rect x="429.88" y="53.36" width="4.2" height="4.2" fill="#1428e0"/>
<rect x="433.12" y="58.36" width="4.2" height="4.2" fill="#1428e0"/>
<rect x="436.37" y="63.98" width="4.2" height="4.2" fill="#1428e0"/>
<rect x="439.61" y="68.97" width="4.2" height="4.2" fill="#1428e0"/>
<rect x="442.85" y="73.34" width="4.2" height="4.2" fill="#1428e0"/>
<rect x="446.09" y="78.96" width="4.2" height="4.2" fill="#1428e0"/>
<rect x="449.33" y="84.58" width="4.2" height="4.2" fill="#1428e0"/>
<rect x="452.58" y="106.44" width="4.2" height="4.2" fill="#1428e0"/>
<rect x="455.82" y="106.44" width="4.2" height="4.2" fill="#1428e0"/>
<rect x="459.06" y="106.44" width="4.2" height="4.2" fill="#1428e0"/>
<rect x="462.31" y="107.06" width="4.2" height="4.2" fill="#1428e0"/>
<rect x="465.55" y="122.05" width="4.2" height="4.2" fill="#1428e0"/>
<rect x="468.79" y="143.9" width="4.2" height="4.2" fill="#1428e0"/>
<rect x="472.03" y="160.76" width="4.2" height="4.2" fill="#1428e0"/>
<rect x="475.27" y="165.76" width="4.2" height="4.2" fill="#1428e0"/>
<rect x="478.52" y="162.63" width="4.2" height="4.2" fill="#1428e0"/>
<rect x="481.76" y="157.64" width="4.2" height="4.2" fill="#1428e0"/>
<rect x="485" y="160.76" width="4.2" height="4.2" fill="#1428e0"/>
<rect x="488.25" y="162.63" width="4.2" height="4.2" fill="#1428e0"/>
<rect x="491.49" y="166.38" width="4.2" height="4.2" fill="#1428e0"/>
<rect x="494.73" y="167.63" width="4.2" height="4.2" fill="#1428e0"/>
<rect x="497.97" y="170.75" width="4.2" height="4.2" fill="#1428e0"/>
<rect x="501.21" y="167.63" width="4.2" height="4.2" fill="#1428e0"/>
<rect x="504.46" y="172.62" width="4.2" height="4.2" fill="#1428e0"/>
<rect x="507.7" y="170.75" width="4.2" height="4.2" fill="#1428e0"/>
<text x="459.2" y="48.2" font-size="11.6" fill="#a89040" font-weight="bold" textLength="8.2" lengthAdjust="spacingAndGlyphs">X</text>
<text x="467.6" y="43.4" font-size="7.2" fill="#a89040" font-weight="bold">0</text>
<text x="473.6" y="48.2" font-size="11.6" fill="#a89040" font-weight="bold" textLength="6.4" lengthAdjust="spacingAndGlyphs">–</text>
<text x="481.6" y="48.2" font-size="11.6" fill="#a89040" font-weight="bold" textLength="8.2" lengthAdjust="spacingAndGlyphs">X</text>
<text x="490.2" y="43" font-size="8" fill="#a89040" font-weight="bold">-</text>
<text x="494.6" y="48.2" font-size="11.6" fill="#a89040" font-weight="bold" textLength="9.8" lengthAdjust="spacingAndGlyphs">in</text>
<text x="459.2" y="61.6" font-size="11.6" fill="#a89040" font-weight="bold" textLength="49.5" lengthAdjust="spacingAndGlyphs">ML- MoSe</text>
<text x="509.2" y="64.4" font-size="8" fill="#a89040" font-weight="bold">2</text>
<text x="403.4" y="129.4" font-size="11.3" fill="#111" font-weight="bold" textLength="26" lengthAdjust="spacingAndGlyphs">H1-X</text>
<text x="429.8" y="124.6" font-size="7.5" fill="#111" font-weight="bold">0</text>
<path d="M403.2,131.3 H435" stroke="#111" stroke-width="1.1"/>
<circle cx="393" cy="138.3" r="2.2" fill="#1428e0"/>
<text x="398.8" y="141.9" font-size="10.2" fill="#1428e0" font-weight="bold" textLength="46.2" lengthAdjust="spacingAndGlyphs">Run 1 - W</text>
<rect x="391" y="148.4" width="4" height="4" fill="#1428e0"/>
<text x="398.8" y="154" font-size="10.2" fill="#1428e0" font-weight="bold" textLength="46.2" lengthAdjust="spacingAndGlyphs">Run 1 - C</text>
<circle cx="393" cy="162.5" r="2.2" fill="#dc1616"/>
<text x="398.8" y="166.1" font-size="10.2" fill="#dc1616" font-weight="bold" textLength="46.2" lengthAdjust="spacingAndGlyphs">Run 2 - W</text>
<rect x="391" y="172.6" width="4" height="4" fill="#dc1616"/>
<text x="398.8" y="178.2" font-size="10.2" fill="#dc1616" font-weight="bold" textLength="46.2" lengthAdjust="spacingAndGlyphs">Run 2 - C</text>
<rect x="377.6" y="223.2" width="137.8" height="159.2" fill="none" stroke="#3a3a3a" stroke-width="1.1"/>
<path d="M376.8,375.09 H377.6" stroke="#3a3a3a" stroke-width="0.8"/>
<path d="M375.4,367.42 H377.6" stroke="#3a3a3a" stroke-width="0.8"/>
<path d="M376.8,359.75 H377.6" stroke="#3a3a3a" stroke-width="0.8"/>
<path d="M376.8,352.09 H377.6" stroke="#3a3a3a" stroke-width="0.8"/>
<path d="M376.8,344.43 H377.6" stroke="#3a3a3a" stroke-width="0.8"/>
<path d="M375.4,336.76 H377.6" stroke="#3a3a3a" stroke-width="0.8"/>
<path d="M376.8,329.1 H377.6" stroke="#3a3a3a" stroke-width="0.8"/>
<path d="M376.8,321.43 H377.6" stroke="#3a3a3a" stroke-width="0.8"/>
<path d="M376.8,313.77 H377.6" stroke="#3a3a3a" stroke-width="0.8"/>
<path d="M375.4,306.1 H377.6" stroke="#3a3a3a" stroke-width="0.8"/>
<path d="M376.8,298.44 H377.6" stroke="#3a3a3a" stroke-width="0.8"/>
<path d="M376.8,290.77 H377.6" stroke="#3a3a3a" stroke-width="0.8"/>
<path d="M376.8,283.11 H377.6" stroke="#3a3a3a" stroke-width="0.8"/>
<path d="M375.4,275.44 H377.6" stroke="#3a3a3a" stroke-width="0.8"/>
<path d="M376.8,267.78 H377.6" stroke="#3a3a3a" stroke-width="0.8"/>
<path d="M376.8,260.11 H377.6" stroke="#3a3a3a" stroke-width="0.8"/>
<path d="M376.8,252.45 H377.6" stroke="#3a3a3a" stroke-width="0.8"/>
<path d="M375.4,244.78 H377.6" stroke="#3a3a3a" stroke-width="0.8"/>
<path d="M376.8,237.12 H377.6" stroke="#3a3a3a" stroke-width="0.8"/>
<path d="M376.8,229.45 H377.6" stroke="#3a3a3a" stroke-width="0.8"/>
<text x="371.2" y="371.42" font-size="11" fill="#1a1a1a" text-anchor="end" textLength="6.4" lengthAdjust="spacingAndGlyphs">4</text>
<text x="371.2" y="340.76" font-size="11" fill="#1a1a1a" text-anchor="end" textLength="6.4" lengthAdjust="spacingAndGlyphs">6</text>
<text x="371.2" y="310.1" font-size="11" fill="#1a1a1a" text-anchor="end" textLength="6.4" lengthAdjust="spacingAndGlyphs">8</text>
<text x="371.2" y="279.44" font-size="11" fill="#1a1a1a" text-anchor="end" textLength="12.8" lengthAdjust="spacingAndGlyphs">10</text>
<text x="371.2" y="248.78" font-size="11" fill="#1a1a1a" text-anchor="end" textLength="12.8" lengthAdjust="spacingAndGlyphs">12</text>
<path d="M378.75,382.4 V384.5" stroke="#3a3a3a" stroke-width="0.8"/>
<path d="M387.7,382.4 V385.9" stroke="#3a3a3a" stroke-width="0.8"/>
<path d="M396.65,382.4 V384.5" stroke="#3a3a3a" stroke-width="0.8"/>
<path d="M405.6,382.4 V384.5" stroke="#3a3a3a" stroke-width="0.8"/>
<path d="M414.55,382.4 V384.5" stroke="#3a3a3a" stroke-width="0.8"/>
<path d="M423.5,382.4 V385.9" stroke="#3a3a3a" stroke-width="0.8"/>
<path d="M432.45,382.4 V384.5" stroke="#3a3a3a" stroke-width="0.8"/>
<path d="M441.4,382.4 V384.5" stroke="#3a3a3a" stroke-width="0.8"/>
<path d="M450.35,382.4 V384.5" stroke="#3a3a3a" stroke-width="0.8"/>
<path d="M459.3,382.4 V385.9" stroke="#3a3a3a" stroke-width="0.8"/>
<path d="M468.25,382.4 V384.5" stroke="#3a3a3a" stroke-width="0.8"/>
<path d="M477.2,382.4 V384.5" stroke="#3a3a3a" stroke-width="0.8"/>
<path d="M486.15,382.4 V384.5" stroke="#3a3a3a" stroke-width="0.8"/>
<path d="M495.1,382.4 V385.9" stroke="#3a3a3a" stroke-width="0.8"/>
<path d="M504.05,382.4 V384.5" stroke="#3a3a3a" stroke-width="0.8"/>
<path d="M513,382.4 V384.5" stroke="#3a3a3a" stroke-width="0.8"/>
<text x="387.7" y="396.8" font-size="11" fill="#1a1a1a" text-anchor="middle" textLength="6.3" lengthAdjust="spacingAndGlyphs">0</text>
<text x="423.5" y="396.8" font-size="11" fill="#1a1a1a" text-anchor="middle" textLength="6.3" lengthAdjust="spacingAndGlyphs">2</text>
<text x="459.3" y="396.8" font-size="11" fill="#1a1a1a" text-anchor="middle" textLength="6.3" lengthAdjust="spacingAndGlyphs">4</text>
<text x="495.1" y="396.8" font-size="11" fill="#1a1a1a" text-anchor="middle" textLength="6.3" lengthAdjust="spacingAndGlyphs">6</text>
<text x="451.6" y="406.8" font-size="11.5" fill="#1a1a1a" text-anchor="middle" textLength="110.8" lengthAdjust="spacingAndGlyphs">ln (Laser Power (μW))</text>
<text x="356.8" y="302.2" font-size="11.5" fill="#1a1a1a" text-anchor="middle" textLength="131.5" lengthAdjust="spacingAndGlyphs" transform="rotate(-90 356.8 302.2)">ln (Integrated Intensity)</text>
<text x="381.4" y="234.4" font-size="11.5" fill="#111" font-weight="bold" textLength="16.6" lengthAdjust="spacingAndGlyphs">(d)</text>
<circle cx="384.3" cy="243.8" r="2.3" fill="#e01e1e"/>
<text x="388.3" y="248.2" font-size="11.6" fill="#e01e1e" font-weight="bold" textLength="14" lengthAdjust="spacingAndGlyphs">H1</text>
<path d="M381.6,254.2 h5.6 l-2.8,4.8 Z" fill="#3f8f2f"/>
<text x="388.3" y="260.6" font-size="11.6" fill="#3f8f2f" font-weight="bold" textLength="8.2" lengthAdjust="spacingAndGlyphs">X</text>
<text x="396.8" y="255.8" font-size="7.5" fill="#3f8f2f" font-weight="bold">0</text>
<rect x="381.6" y="266.2" width="5.2" height="5.2" fill="#b8963c"/>
<text x="388.3" y="273" font-size="11.6" fill="#b8963c" font-weight="bold" textLength="37" lengthAdjust="spacingAndGlyphs">Defect</text>
<path d="M387.5,379.7 L512,300.8" stroke="#111" stroke-width="1.6"/>
<path d="M387.5,362.7 L512,255" stroke="#111" stroke-width="1.6"/>
<path d="M387.5,316.5 L440.6,274.5 L510,231" stroke="#111" stroke-width="1.6"/>
<path d="M387.5,310.9 l4.3,4.3 l-4.3,4.3 l-4.3,-4.3 Z" fill="#b8963c"/>
<path d="M399.4,302 l4.3,4.3 l-4.3,4.3 l-4.3,-4.3 Z" fill="#b8963c"/>
<path d="M416.3,290.2 l4.3,4.3 l-4.3,4.3 l-4.3,-4.3 Z" fill="#b8963c"/>
<path d="M428.5,278.6 l4.3,4.3 l-4.3,4.3 l-4.3,-4.3 Z" fill="#b8963c"/>
<path d="M436.5,271.9 l4.3,4.3 l-4.3,4.3 l-4.3,-4.3 Z" fill="#b8963c"/>
<path d="M440.6,269.2 l4.3,4.3 l-4.3,4.3 l-4.3,-4.3 Z" fill="#b8963c"/>
<path d="M445.5,266.1 l4.3,4.3 l-4.3,4.3 l-4.3,-4.3 Z" fill="#b8963c"/>
<path d="M450.5,262.4 l4.3,4.3 l-4.3,4.3 l-4.3,-4.3 Z" fill="#b8963c"/>
<path d="M458.1,258.4 l4.3,4.3 l-4.3,4.3 l-4.3,-4.3 Z" fill="#b8963c"/>
<path d="M462.5,255.3 l4.3,4.3 l-4.3,4.3 l-4.3,-4.3 Z" fill="#b8963c"/>
<path d="M467.5,252.5 l4.3,4.3 l-4.3,4.3 l-4.3,-4.3 Z" fill="#b8963c"/>
<path d="M475.6,247.6 l4.3,4.3 l-4.3,4.3 l-4.3,-4.3 Z" fill="#b8963c"/>
<path d="M479.5,245.5 l4.3,4.3 l-4.3,4.3 l-4.3,-4.3 Z" fill="#b8963c"/>
<path d="M483.7,243.6 l4.3,4.3 l-4.3,4.3 l-4.3,-4.3 Z" fill="#b8963c"/>
<path d="M490.4,239.5 l4.3,4.3 l-4.3,4.3 l-4.3,-4.3 Z" fill="#b8963c"/>
<path d="M495.8,236.9 l4.3,4.3 l-4.3,4.3 l-4.3,-4.3 Z" fill="#b8963c"/>
<path d="M502.5,232.8 l4.3,4.3 l-4.3,4.3 l-4.3,-4.3 Z" fill="#b8963c"/>
<path d="M505.8,230.2 l4.3,4.3 l-4.3,4.3 l-4.3,-4.3 Z" fill="#b8963c"/>
<path d="M509.2,227.4 l4.3,4.3 l-4.3,4.3 l-4.3,-4.3 Z" fill="#b8963c"/>
<path d="M383.7,358.4 h7.6 l-3.8,6.6 Z" fill="#3f8f2f"/>
<path d="M396.4,349.7 h7.6 l-3.8,6.6 Z" fill="#3f8f2f"/>
<path d="M413.4,336.3 h7.6 l-3.8,6.6 Z" fill="#3f8f2f"/>
<path d="M425.2,324.7 h7.6 l-3.8,6.6 Z" fill="#3f8f2f"/>
<path d="M432.7,318 h7.6 l-3.8,6.6 Z" fill="#3f8f2f"/>
<path d="M438.7,313.1 h7.6 l-3.8,6.6 Z" fill="#3f8f2f"/>
<path d="M443.7,309.5 h7.6 l-3.8,6.6 Z" fill="#3f8f2f"/>
<path d="M448.4,305.3 h7.6 l-3.8,6.6 Z" fill="#3f8f2f"/>
<path d="M454.8,298.6 h7.6 l-3.8,6.6 Z" fill="#3f8f2f"/>
<path d="M462.4,291.8 h7.6 l-3.8,6.6 Z" fill="#3f8f2f"/>
<path d="M467.7,288.3 h7.6 l-3.8,6.6 Z" fill="#3f8f2f"/>
<path d="M473.4,284.2 h7.6 l-3.8,6.6 Z" fill="#3f8f2f"/>
<path d="M479.9,279.9 h7.6 l-3.8,6.6 Z" fill="#3f8f2f"/>
<path d="M484.7,276.5 h7.6 l-3.8,6.6 Z" fill="#3f8f2f"/>
<path d="M489.3,273.2 h7.6 l-3.8,6.6 Z" fill="#3f8f2f"/>
<path d="M493.4,268.8 h7.6 l-3.8,6.6 Z" fill="#3f8f2f"/>
<path d="M497.4,265.1 h7.6 l-3.8,6.6 Z" fill="#3f8f2f"/>
<path d="M501.7,262.5 h7.6 l-3.8,6.6 Z" fill="#3f8f2f"/>
<path d="M505.4,261 h7.6 l-3.8,6.6 Z" fill="#3f8f2f"/>
<circle cx="387.5" cy="371.3" r="3.4" fill="#e01e1e"/>
<circle cx="399.7" cy="365.4" r="3.4" fill="#e01e1e"/>
<circle cx="416.3" cy="359.5" r="3.4" fill="#e01e1e"/>
<circle cx="428.5" cy="353.3" r="3.4" fill="#e01e1e"/>
<circle cx="435.2" cy="348.4" r="3.4" fill="#e01e1e"/>
<circle cx="441.4" cy="343" r="3.4" fill="#e01e1e"/>
<circle cx="450.5" cy="336.6" r="3.4" fill="#e01e1e"/>
<circle cx="457.5" cy="332.5" r="3.4" fill="#e01e1e"/>
<circle cx="464.8" cy="326.3" r="3.4" fill="#e01e1e"/>
<circle cx="470.2" cy="323.1" r="3.4" fill="#e01e1e"/>
<circle cx="477.5" cy="318.3" r="3.4" fill="#e01e1e"/>
<circle cx="482.9" cy="313.7" r="3.4" fill="#e01e1e"/>
<circle cx="489" cy="308.8" r="3.4" fill="#e01e1e"/>
<circle cx="494.4" cy="310.2" r="3.4" fill="#e01e1e"/>
<circle cx="501.2" cy="301.3" r="3.4" fill="#e01e1e"/>
<circle cx="506" cy="299.4" r="3.4" fill="#e01e1e"/>
<circle cx="509.8" cy="297.5" r="3.4" fill="#e01e1e"/>
<text x="0" y="0" font-size="12.5" font-weight="bold" fill="#111" style="font-family:Liberation Serif,serif" transform="translate(385.5,306.5) rotate(-33)" textLength="40" lengthAdjust="spacingAndGlyphs"><tspan font-style="italic">α</tspan> ≈ 0.97</text>
<text x="0" y="0" font-size="12.5" font-weight="bold" fill="#111" style="font-family:Liberation Serif,serif" transform="translate(452.5,255) rotate(-20.5)" textLength="33" lengthAdjust="spacingAndGlyphs"><tspan font-style="italic">α</tspan> ≈ 0.7</text>
<text x="0" y="0" font-size="12.5" font-weight="bold" fill="#111" style="font-family:Liberation Serif,serif" transform="translate(419.5,315) rotate(-32)" textLength="40" lengthAdjust="spacingAndGlyphs"><tspan font-style="italic">α</tspan> ≈ 0.98</text>
<text x="463.5" y="341.5" font-size="12.5" font-weight="bold" fill="#111" style="font-family:Liberation Serif,serif" textLength="41.7" lengthAdjust="spacingAndGlyphs"><tspan font-style="italic">α</tspan> ≈ 0.84</text>
<text x="486.4" y="377.2" font-size="12.5" fill="#111" textLength="23" lengthAdjust="spacingAndGlyphs">–Fit</text></svg>
</body></html>
